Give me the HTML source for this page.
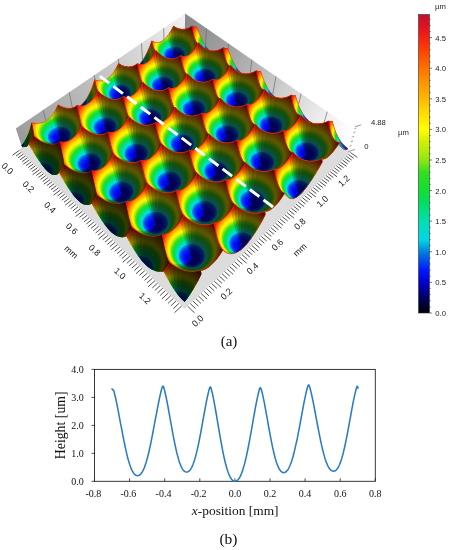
<!DOCTYPE html><html><head><meta charset="utf-8"><style>html,body{margin:0;padding:0;background:#fff}svg{display:block}</style></head><body><svg width="449" height="550" viewBox="0 0 449 550">
<defs>
<linearGradient id="wl" gradientUnits="userSpaceOnUse" x1="15.8" y1="128.4" x2="185.1" y2="13.6"><stop offset="0" stop-color="#9c9c9c"/><stop offset="0.5" stop-color="#c4c4c4"/><stop offset="1" stop-color="#f2f2f2"/></linearGradient><linearGradient id="wr" gradientUnits="userSpaceOnUse" x1="185.1" y1="13.6" x2="354.7" y2="130.6"><stop offset="0" stop-color="#888888"/><stop offset="0.3" stop-color="#a4a4a4"/><stop offset="0.6" stop-color="#cecece"/><stop offset="0.85" stop-color="#f0f0f0"/><stop offset="1" stop-color="#ffffff"/></linearGradient><linearGradient id="cb" x1="0" y1="1" x2="0" y2="0"><stop offset="0.0000" stop-color="#000008"/><stop offset="0.0512" stop-color="#000060"/><stop offset="0.1025" stop-color="#0000d0"/><stop offset="0.1434" stop-color="#0018ff"/><stop offset="0.2049" stop-color="#0080e0"/><stop offset="0.2459" stop-color="#00d8e8"/><stop offset="0.3074" stop-color="#00e0b0"/><stop offset="0.3689" stop-color="#00e060"/><stop offset="0.4098" stop-color="#10e030"/><stop offset="0.4713" stop-color="#30e020"/><stop offset="0.5123" stop-color="#90e810"/><stop offset="0.5738" stop-color="#d0f000"/><stop offset="0.6148" stop-color="#ffff00"/><stop offset="0.6762" stop-color="#ffd800"/><stop offset="0.7172" stop-color="#ffb800"/><stop offset="0.7787" stop-color="#ff9000"/><stop offset="0.8197" stop-color="#ff7000"/><stop offset="0.8811" stop-color="#ff4000"/><stop offset="0.9221" stop-color="#f82010"/><stop offset="0.9631" stop-color="#e01020"/><stop offset="1.0000" stop-color="#c01030"/></linearGradient><filter id="bl" x="-2%" y="-2%" width="104%" height="104%"><feGaussianBlur stdDeviation="0.7"/></filter>
</defs>
<style>.tk{font-family:"Liberation Sans","DejaVu Sans",sans-serif;font-size:7.7px;fill:#222;text-anchor:middle}.ax{font-size:8.8px;fill:#111}.sr{font-family:"Liberation Serif","DejaVu Serif",serif;font-size:10px;fill:#111}</style>
<polygon points="18.8,149.9 184.6,309.1 351.0,152.1 184.8,34.4" fill="#dcdcdc"/>
<polygon points="22.3,148.3 15.8,128.4 185.1,13.6 184.8,35.1" fill="url(#wl)"/>
<polygon points="184.8,35.1 185.1,13.6 354.7,130.6 347.5,150.5" fill="url(#wr)"/>
<line x1="48.4" y1="130.2" x2="43.1" y2="109.9" stroke="#6e6e6e" stroke-width="0.7"/>
<line x1="205.4" y1="49.7" x2="206.5" y2="28.4" stroke="#6e6e6e" stroke-width="0.7"/>
<line x1="73.4" y1="112.7" x2="69.2" y2="92.2" stroke="#6e6e6e" stroke-width="0.7"/>
<line x1="226.8" y1="64.9" x2="228.7" y2="43.7" stroke="#6e6e6e" stroke-width="0.7"/>
<line x1="97.4" y1="96.0" x2="94.3" y2="75.2" stroke="#6e6e6e" stroke-width="0.7"/>
<line x1="249.1" y1="80.7" x2="251.9" y2="59.7" stroke="#6e6e6e" stroke-width="0.7"/>
<line x1="120.5" y1="79.9" x2="118.4" y2="58.9" stroke="#6e6e6e" stroke-width="0.7"/>
<line x1="272.2" y1="97.1" x2="276.0" y2="76.3" stroke="#6e6e6e" stroke-width="0.7"/>
<line x1="142.8" y1="64.4" x2="141.5" y2="43.2" stroke="#6e6e6e" stroke-width="0.7"/>
<line x1="296.3" y1="114.1" x2="301.1" y2="93.6" stroke="#6e6e6e" stroke-width="0.7"/>
<line x1="164.2" y1="49.5" x2="163.7" y2="28.1" stroke="#6e6e6e" stroke-width="0.7"/>
<line x1="321.3" y1="131.9" x2="327.3" y2="111.7" stroke="#6e6e6e" stroke-width="0.7"/>
<g filter="url(#bl)"><g transform="scale(0.1)">
<path d="M1920 259l-32 21-31 11-31 3-31-4-31-10-30-18 23 28 23 20 23 13 23 5 22-1 23 3 24-4 23-11 25-18 25-26-24 0z" fill="#cc102a"/>
<path d="M1926 269l-26 4-34 16-33 5-33-2-33-11-33-19 29 34 29 21 28 10 28 0 29 3 29-8 31-20 31-31-34-4z" fill="#f61e12"/>
<path d="M1923 277l-26 5-18 2-36 9-37 0-36-11-36-20 29 34 29 21 28 10 28 0 29 3 29-8 31-20 31-31-20 0z" fill="#ff4400"/>
<path d="M1940 280l-28 6-28 4-27 1-37 3-38-7-38-18-8-3 29 32 28 20 28 9 27 0 29 3 29-8 31-20 31-31-4 1z" fill="#ff6c00"/>
<path d="M1961 278l-25 8-26 6-27 4-28 1-27-1-27-4-26-7-25-8-8-3 27 27 27 18 26 9 26-1 28 3 28-7 29-18 29-28z" fill="#ff9200"/>
<path d="M1953 285l-27 8-27 6-29 2-29 0-29-3-28-6-26-8-11-4 26 24 25 16 26 8 24-1 27 3 26-6 28-16 28-25z" fill="#ffb200"/>
<path d="M1949 290l-25 8-27 5-28 3-28-1-28-2-26-6-26-8-8-4 24 22 24 15 24 6 23-1 25 3 26-5 26-14 26-22z" fill="#ffd700"/>
<path d="M1945 295l-24 7-26 5-27 3-26 0-27-3-26-6-24-8-7-2 31 24 30 12 29 0 24 3 24-4 25-12 25-20z" fill="#fff200"/>
<path d="M1937 301l-27 7-27 5-28 1-28-2-28-4-26-8-9-4 28 21 28 10 28 0 30 2 30-8 32-21z" fill="#e8f800"/>
<path d="M1933 305l-25 7-26 4-27 2-27-2-26-5-25-7-8-3 27 18 26 9 26-1 28 3 28-8z" fill="#b0ec08"/>
<path d="M1923 311l-26 6-28 4-29 0-28-4-26-7-10-3 24 14 24 7 24-1 26 3 26-6 27-14z" fill="#60e418"/>
<path d="M1919 314l-25 7-26 3-27 0-26-4-26-6-7-3 22 12 22 5 22-1 24 3 24-4 24-12z" fill="#21e027"/>
<path d="M1909 319l-27 6-28 2-28-2-27-6-10-3 30 11 29 0 32 2 33-11z" fill="#0ae043"/>
<path d="M1898 324l-29 4-30 0-29-5-13-3 26 8 25-1 28 3 29-8z" fill="#00e080"/>
<path d="M1895 326l-27 4-28 0-27-5-8-2 22 5 21-1 24 3 24-4z" fill="#00debc"/>
<path d="M1883 329l-29 2-29-2-11-3 34 1 39 1z" fill="#00d8e7"/>
<path d="M1734 262l23 28 23 20 23 13 23 5 22-1 23 3 24-4 23-11 25-18 25-26-24 0-24-12-32 21-31 11-31 3-31-4-31-10z" fill="#100c00" fill-opacity="0.18"/>
<path d="M1734 262l23 28 23 20 23 13 23 5 22-1 23 3 24-4 23-11 25-18 25-26-24 0-24-12-32 21-31 11-31 3-31-4-31-10z" fill="#100c00" fill-opacity="0.24"/>
<path d="M1734 262l23 28 23 20 23 13 23 5 22-1 23 3 24-4 23-11 25-18 25-26-24 0-24-12-32 21-31 11-31 3-31-4-31-10z" fill="#100c00" fill-opacity="0.25"/>
<path d="M1794 319l19 7 18 2 17-1 23 3 24-4 23-11 25-18 25-26-24 0-24-12-32 21-32 11-32 3-31-4-32-12 11 18 12 14z" fill="#100c00" fill-opacity="0.20"/>
<path d="M1831 328l17-1 23 3 24-4 23-11 25-18 25-26-24 0-24-12-30 20-30 11-30 4-29-2 7 18 8 12 7 6z" fill="#100c00" fill-opacity="0.13"/>
<path d="M1854 331l-26-2-7-2 27 0 31 2z" fill="#0085e0"/>
<path d="M1868 330l-28 0-10-2 18-1 22 3z" fill="#0046f1"/>
<path d="M1854 329l-14-1 8-1 10 2z" fill="#0025fb"/>
<path d="M1848 327l31 2-25 2-26-2-7-2z" fill="#000010" fill-opacity="0.18"/>
<path d="M1848 327l31 2-25 2-26-2-7-2z" fill="#000010" fill-opacity="0.24"/>
<path d="M1848 327l31 2-25 2-26-2-7-2z" fill="#000010" fill-opacity="0.25"/>
<path d="M1848 327l31 2-25 2-26-2-7-2z" fill="#000010" fill-opacity="0.20"/>
<path d="M1848 327l31 2-25 2-26-2 3-1z" fill="#000010" fill-opacity="0.13"/>
<path d="M1920 259l-32 21-31 11-31 3-31-4-31-10-30-18 23 28 23 20 23 13 23 5 22-1 23 3 24-4 23-11 25-18 25-26-24 0z" fill="none" stroke="#e62c14" stroke-width="8" stroke-opacity="0.7" stroke-linejoin="round"/>
<path d="M2233 477l-33 19-32 11-31 4-31-3-30-9-30-16-30-23-29-32-10 5-9-5-8-12-9-18-8-24-8-31-7-37-8-47 24 12 24 0 20 54 20 47 20 41 21 35 20 30 21 24 22 18 22 12 22 7 23 1 23-4 25-11 25-16 26-22-23 0z" fill="#cc102a"/>
<path d="M2238 486l-27 4-43 17-41 3-41-8-40-19-39-32-14-10-13-9-12-4-11-17-11-29-11-39-10-53 6-18 3-5 34 4 25 67 26 57 26 47 26 38 27 29 28 19 28 11 29 1 30-8 32-18 33-27-32-3z" fill="#f61e12"/>
<path d="M2234 494l-27 5-18 2-42 9-41-2-40-14-40-25-7-4-21-14-19-15-5-4-11-11-12-23-10-33-11-46 2-12 7-19 9-17 20 0 25 67 26 57 26 47 26 38 27 29 28 19 28 11 29 1 30-8 32-18 33-27-20 1z" fill="#ff4400"/>
<path d="M2249 496l-27 6-29 4-28 2-39 2-39-7-39-18-23-12-22-14-20-15-15-17-11-17-11-27-10-37 1-19 6-20 9-19 12-16 4-1 25 67 26 57 26 47 26 38 27 29 28 19 28 11 29 1 30-8 32-18 33-27-4 0z" fill="#ff6c00"/>
<path d="M2270 493l-25 9-27 6-27 4-28 1-29-1-28-4-27-7-26-9-23-12-22-13-19-15-16-17-12-18-10-19-5-19-2-20 1-19 5-19 9-19 12-17 1-1 25 63 25 54 25 45 26 36 26 27 26 19 27 10 29 2 29-7 30-16 32-25z" fill="#ff9200"/>
<path d="M2261 500l-27 8-28 6-29 3-30 0-30-3-29-7-27-9-26-11-22-14-20-16-16-18-13-19-9-21-4-20 0-21 4-20 8-20 11-18 3-3 26 65 27 54 27 45 27 34 28 25 28 15 30 5 30-4 32-14 33-24z" fill="#ffb200"/>
<path d="M2257 504l-26 9-27 5-29 3-29 0-28-3-28-6-26-9-25-11-22-14-19-15-15-17-13-19-8-19-4-20 0-20 3-20 8-19 11-17 2-2 25 61 26 51 26 41 26 33 27 24 27 14 29 6 29-3 30-12 32-22z" fill="#ffd700"/>
<path d="M2252 509l-25 8-26 5-27 3-28 0-27-3-27-6-25-8-24-11-21-13-18-15-15-17-12-17-8-19-4-19 0-19 3-19 8-18 11-18 24 57 25 47 25 39 25 31 26 23 26 14 27 6 28-2 29-10 31-20z" fill="#fff200"/>
<path d="M2243 515l-27 8-28 4-29 2-29-2-28-5-27-8-25-11-23-14-19-16-15-17-12-19-7-20-2-20 2-21 6-19 11-18 1-2 26 57 27 48 26 38 27 29 28 19 28 11 29 1 31-8 32-18z" fill="#e8f800"/>
<path d="M2238 519l-25 7-27 5-28 1-27-2-28-5-25-7-24-11-22-13-18-15-14-17-11-18-7-19-2-19 1-19 6-19 10-18 1 0 25 53 25 44 25 35 26 27 26 19 27 10 28 2 29-6 30-16z" fill="#b0ec08"/>
<path d="M2228 524l-27 7-29 4-29-1-29-3-28-8-25-10-23-14-19-16-15-18-10-19-6-21 0-20 5-20 9-19 2-2 26 53 27 44 27 34 28 25 28 15 29 5 31-3 31-14z" fill="#60e418"/>
<path d="M2223 527l-26 7-27 3-27 0-28-4-26-7-24-10-21-12-18-16-14-17-10-18-5-19 0-19 4-19 9-18 0-1 25 49 25 40 26 31 26 23 26 14 28 6 28-2 30-11z" fill="#21e027"/>
<path d="M2212 532l-28 6-28 2-29-2-28-7-26-10-23-13-19-16-14-18-8-20-4-20 3-21 8-19 1-2 27 49 27 38 27 30 28 19 29 11 29 1 31-9z" fill="#0ae043"/>
<path d="M2200 536l-30 5-31 0-30-5-28-10-24-14-20-17-14-20-7-21 0-22 6-21 3-4 24 42 25 34 25 27 26 18 26 10 27 2 28-6z" fill="#00e080"/>
<path d="M2195 538l-27 4-28 0-28-5-26-9-22-13-18-15-13-19-6-19-1-20 6-19 1-1 26 41 26 33 27 24 27 14 29 6 29-3z" fill="#00debc"/>
<path d="M2182 540l-29 3-30-3-27-8-24-14-19-17-12-19-4-21 3-21 2-2 27 40 29 30 28 21 30 10 30 0z" fill="#00d8e7"/>
<path d="M2110 518l22 13 22 8 24 1 23-4 25-10 25-17 27-22-23 0-22-10-33 19-32 11-31 4-31-3-30-9-30-16-30-23-29-32-5 4 22 33 21 23 21 17 21 10 21 5z" fill="#100c00" fill-opacity="0.18"/>
<path d="M2114 521l22 12 22 6 22 1 24-5 23-10 25-16 26-22-23 0-22-10-35 20-33 11-33 2-32-4-32-11-32-18-31-28 18 31 18 20 18 14 19 8 18 3z" fill="#100c00" fill-opacity="0.24"/>
<path d="M2119 524l21 11 21 5 22 0 23-5 23-11 24-16 25-21-23 0-22-10-35 20-34 11-33 2-33-4-32-12-32-19 14 22 14 16 14 11 14 5 15 0z" fill="#100c00" fill-opacity="0.25"/>
<path d="M2125 528l23 9 25 3 25-3 25-10 27-17 28-23-23 0-22-10-35 20-34 11-34 2-32-4-33-12 12 20 12 13 11 7 13 0z" fill="#100c00" fill-opacity="0.20"/>
<path d="M2134 532l22 7 23 1 23-4 25-11 25-16 26-22-23 0-22-10-33 19-32 11-31 4-31-3 5 16 5 11 6 5 6-1z" fill="#100c00" fill-opacity="0.13"/>
<path d="M2152 543l-27-3-25-8-22-12-17-15-11-18-4-19 3-18 25 34 25 26 26 18 26 10 27 2z" fill="#0085e0"/>
<path d="M2166 541l-29-1-28-6-24-13-17-16-10-20 0-21 0-1 27 33 27 24 27 14 29 6z" fill="#0046f1"/>
<path d="M2151 539l-31-4-27-13-17-19-7-22 1-3 28 30 28 20 29 11z" fill="#0025fb"/>
<path d="M2133 534l-30-13-17-21 0-3 26 23 27 14z" fill="#0011f2"/>
<path d="M2178 540l-26 3-27-3-25-8-22-12-3-3 17 3 18-2 22 13 23 8z" fill="#000010" fill-opacity="0.18"/>
<path d="M2178 540l-26 3-27-3-25-8-16-8 15 1 15-4 21 12 21 6z" fill="#000010" fill-opacity="0.24"/>
<path d="M2178 540l-26 3-27-3-25-8-6-3 13 0 12-5 19 10 20 5z" fill="#000010" fill-opacity="0.25"/>
<path d="M2178 540l-26 3-27-3-18-5 9-2 9-5 26 10z" fill="#000010" fill-opacity="0.20"/>
<path d="M2178 540l-26 3-27-3 9-8 22 7z" fill="#000010" fill-opacity="0.13"/>
<path d="M2233 477l-33 19-32 11-31 4-31-3-30-9-30-16-30-23-29-32-10 5-9-5-8-12-9-18-8-24-8-31-7-37-8-47 24 12 24 0 20 54 20 47 20 41 21 35 20 30 21 24 22 18 22 12 22 7 23 1 23-4 25-11 25-16 26-22-23 0z" fill="none" stroke="#e62c14" stroke-width="8" stroke-opacity="0.7" stroke-linejoin="round"/>
<path d="M1920 259l8 47 7 37 8 31 8 24 9 18 8 12 9 5 10-5-23 42-23 33-22 25-22 19-22 13-23 6-22 0-22-10-31 20-31 10-30 4-31-4-30-9-31-15-31-23-31-32-7 4-7-6-7-14-8-20-7-27-8-35 23 12 22 5 22-1 22-6 21-12 22-18 21-23 21-28 21-35 21-41 30 18 31 10 31 4 31-3 31-11z" fill="#cc102a"/>
<path d="M1815 565l-27 5-41 16-41 3-41-8-41-19-41-32-13-10-12-9-8-4-8-12-8-21-8-28-8-37 28 14 28 3 28-5 26-14 27-23 26-31 26-41 27-50 33 19 33 10 33 3 33-5 34-15 13 7 12 10 10 53 11 39 11 28 11 17 13 4-7 19-3 6-30 46-30 32-29 21-30 10-29-2z" fill="#f61e12"/>
<path d="M1812 573l-28 5-18 2-40 9-41-3-40-13-41-25-7-5-21-13-18-16-5-4-8-11-9-20-9-30-9-40 28 14 28 3 28-5 26-14 27-23 26-31 26-41 27-50 36 20 36 11 37 0 37-9 6 3 21 12 18 15 5 5 11 46 10 33 12 23 11 11-2 12-6 19-9 18-30 39-30 27-30 16-30 4z" fill="#ff4400"/>
<path d="M1829 575l-28 6-29 4-28 2-39 2-39-8-39-18-23-11-22-14-19-17-15-16-9-18-9-27-9-38 1-10 27 11 27 3 27-6 25-13 26-22 25-30 25-38 26-47 14-1 38 18 38 7 37-3 23 10 22 14 19 15 15 16 10 37 11 27 11 17-2 20-5 20-10 20-12 18-28 30-28 21-29 10z" fill="#ff6c00"/>
<path d="M1875 560l-23 12-26 9-27 6-28 4-29 1-29-1-28-5-27-6-25-10-24-11-21-14-18-16-15-17-12-18-8-19-5-20-1-20 2-18 29 8 28-1 27-9 27-19 26-27 27-36 26-45 25-2 28 2 27 4 26 6 25 9 23 11 21 13 18 14 16 17 12 17 9 19 6 20 2 20-1 20-6 19-9 19-12 19-16 17-18 15z" fill="#ff9200"/>
<path d="M1869 567l-26 11-27 9-29 6-30 3-30 0-30-3-29-7-27-9-25-12-22-14-19-17-16-18-11-20-8-20-3-21 0-21 4-13 30 5 29-5 28-14 29-25 28-34 28-45 19-2 29 0 28 3 28 6 27 9 24 11 22 13 20 16 16 17 12 19 9 21 4 20 0 21-4 21-8 21-12 19-16 18-20 16z" fill="#ffb200"/>
<path d="M1864 571l-24 12-27 8-28 6-28 3-29 0-29-4-28-6-26-9-24-11-22-14-18-16-15-17-11-19-7-20-4-20 1-20 5-20 0-1 27 3 26-6 25-13 26-22 25-29 25-38 28-3 28 0 28 3 27 6 25 8 24 11 21 13 19 15 15 17 12 19 8 19 5 20 0 20-4 21-8 19-12 19-15 17-19 16z" fill="#ffd700"/>
<path d="M1859 576l-23 11-25 8-27 6-28 2-28 0-27-3-27-6-25-8-23-11-21-13-17-16-15-17-11-18-7-19-3-19 1-20 5-19 4-8 27-2 26-9 26-18 26-27 26-35 13-3 27-2 27 0 26 3 26 5 25 8 22 11 21 12 18 15 14 16 12 18 8 18 4 20 0 19-4 20-7 18-12 18-15 17-18 15z" fill="#fff200"/>
<path d="M1852 582l-25 11-27 8-28 5-30 1-29-2-28-5-27-8-25-11-22-14-18-16-15-18-10-20-6-20-2-21 3-20 8-20 4-6 27-5 26-14 27-23 26-31 9-3 28-4 28-2 28 2 28 5 26 7 24 11 22 13 19 16 15 17 11 19 7 20 2 21-2 20-6 20-11 20-16 17-18 16z" fill="#e8f800"/>
<path d="M1847 586l-24 11-25 7-28 5-28 1-27-2-28-4-25-8-24-11-21-13-17-16-14-17-10-18-6-20-1-19 3-20 7-19 11-18 1-1 25-10 25-17 24-24 2-1 25-7 27-5 27-1 27 2 26 4 25 8 24 10 20 13 18 14 14 17 11 18 7 19 2 20-2 19-6 20-11 18-14 17-18 15z" fill="#b0ec08"/>
<path d="M1840 591l-26 11-28 7-29 4-29-1-29-3-28-8-25-11-22-14-18-16-15-18-9-20-4-21 1-21 5-20 11-19 15-18 19-15 22-13 25-10 27-7 29-3 28 0 28 3 27 7 25 11 22 13 19 16 14 18 10 19 5 20 0 21-4 21-10 19-15 19-19 16z" fill="#60e418"/>
<path d="M1834 595l-24 10-26 7-27 3-28 0-28-4-26-7-23-10-21-13-18-16-13-17-9-19-4-19 1-20 5-19 10-18 14-17 18-15 21-12 24-9 26-7 26-3 27 0 27 4 25 6 24 10 21 13 17 14 14 17 9 19 5 19 0 20-4 19-10 19-14 17-17 15z" fill="#21e027"/>
<path d="M1826 600l-26 10-28 6-29 1-29-2-28-6-26-10-22-14-18-16-13-19-8-20-2-21 3-20 9-20 14-18 19-16 22-13 26-9 27-6 29-1 28 2 27 6 26 9 22 13 18 16 14 19 8 19 3 21-3 21-8 20-14 18-18 16z" fill="#0ae043"/>
<path d="M1817 604l-28 10-30 4-32 0-30-5-28-10-24-14-18-18-13-20-6-22 0-22 8-21 14-20 19-17 24-13 28-9 30-5 30 0 29 5 28 10 24 14 19 17 13 19 7 22 0 22-7 22-13 20-20 17z" fill="#00e080"/>
<path d="M1811 606l-26 9-28 4-28 0-28-5-25-9-22-13-18-16-11-18-6-20 0-21 7-19 13-18 18-16 22-12 25-9 28-4 28 0 27 5 25 9 22 12 17 16 12 18 7 20 0 20-7 20-12 18-18 16z" fill="#00debc"/>
<path d="M1801 609l-28 8-30 3-29-3-28-8-23-14-18-17-11-20-3-21 4-22 12-19 18-17 24-12 27-8 30-3 29 3 27 8 23 13 18 17 11 20 4 21-4 21-11 20-18 17z" fill="#00d8e7"/>
<path d="M1745 578l-12-23-12-27-12-33-11-39-12-44-12-50 20-28 20-33 20-39 30 18 31 10 31 4 31-3 31-11 32-21 8 47 7 37 8 31 8 24 9 18 8 12 9 5 10-5-23 42-23 33-22 25-22 19-22 13-23 6-22 0-22-10-31 20-31 10-30 4-31-4-30-9-31-15-31-23-31-32-3 3 25 32 24 22 24 16 23 11 23 5 22-1 22-6z" fill="#100c00" fill-opacity="0.18"/>
<path d="M1745 578l-9-25-9-31-9-36-9-43-9-49-9-56 21-35 22-41 30 18 31 10 31 4 31-3 31-11 32-21 8 47 7 37 8 31 8 24 9 18 8 12 9 5 10-5-23 42-23 33-22 25-22 19-22 13-23 6-22 0-22-10-33 20-32 11-32 2-32-4-33-11-32-19-33-27 22 29 22 20 20 13 21 9 20 2 20-2 19-8z" fill="#100c00" fill-opacity="0.24"/>
<path d="M1745 578l-5-23-5-29-5-33-4-39-5-43-5-50-5-55 23-44 30 18 31 10 31 4 31-3 31-11 32-21 8 47 7 37 8 31 8 24 9 18 8 12 9 5 10-5-23 42-23 33-22 25-22 19-22 13-23 6-22 0-22-10-33 21-33 10-32 2-33-4-32-12-33-19 20 24 20 16 19 9 19 3 18-3 19-10z" fill="#100c00" fill-opacity="0.25"/>
<path d="M1745 578l-1-26-1-32-1-38-1-44-1-51-1-57 0-65 29 17 30 9 30 3 31-3 30-12 31-20 8 47 7 37 8 31 8 24 9 18 8 12 9 5 10-5-23 42-23 33-22 25-22 19-22 13-23 6-22 0-22-10-33 21-33 10-33 2-32-4-33-12 15 19 15 12 15 7 14 0 14-5 14-12z" fill="#100c00" fill-opacity="0.20"/>
<path d="M1745 578l5-25 5-30 4-35 5-42 5-47 5-53 5-60 28 7 28 1 28-4 28-12 29-19 8 47 7 37 8 31 8 24 9 18 8 12 9 5 10-5-23 42-23 33-22 25-22 19-22 13-23 6-22 0-22-10-31 20-31 10-30 4-31-4 9 17 9 10 9 4 8-2 8-7 8-12z" fill="#100c00" fill-opacity="0.13"/>
<path d="M1796 610l-25 7-28 3-27-3-25-8-21-12-16-16-10-18-3-20 4-19 10-18 17-15 22-12 25-7 26-2 27 3 25 7 21 12 16 15 11 18 3 20-3 19-11 18-16 16z" fill="#0085e0"/>
<path d="M1786 611l-28 6-29 0-28-6-23-13-17-17-8-20 0-21 10-20 17-17 24-12 27-6 29 0 27 7 23 12 17 17 9 20 0 21-9 20-17 17z" fill="#0046f1"/>
<path d="M1775 612l-31 4-31-5-26-13-17-19-6-22 7-22 18-19 26-12 30-4 31 5 25 12 18 19 6 22-6 22-18 19z" fill="#0025fb"/>
<path d="M1761 610l-34 0-29-13-17-21 1-24 17-21 29-12 34 0 29 12 17 21 0 25-17 21z" fill="#0011f2"/>
<path d="M1756 603l-24 0-21-9-11-15 0-17 12-15 21-8 24 0 20 9 12 15 0 17-12 15z" fill="#0006db"/>
<path d="M1704 477l15-5 26-2 27 3 25 7 21 12 16 15 11 18 3 20-3 19-11 18-16 16-22 12-25 7-28 3-27-3-25-8-21-12-3-3 26 2 26-6 26-12-14-27-14-33z" fill="#000010" fill-opacity="0.18"/>
<path d="M1715 473l4-1 26-2 27 3 25 7 21 12 16 15 11 18 3 20-3 19-11 18-16 16-22 12-25 7-28 3-27-3-25-8-15-8 23-1 23-8 23-14-10-28-10-34z" fill="#000010" fill-opacity="0.24"/>
<path d="M1728 472l17-2 27 3 25 7 21 12 16 15 11 18 3 20-3 19-11 18-16 16-22 12-25 7-28 3-27-3-25-8-6-3 20-2 20-10 20-16-6-28-6-36z" fill="#000010" fill-opacity="0.25"/>
<path d="M1742 470l3 0 27 3 25 7 21 12 16 15 11 18 3 20-3 19-11 18-16 16-22 12-25 7-28 3-27-3-18-5 16-5 15-11 16-18-1-29-1-35z" fill="#000010" fill-opacity="0.20"/>
<path d="M1761 472l11 1 25 7 21 12 16 15 11 18 3 20-3 19-11 18-16 16-22 12-25 7-28 3-27-3 10-6 9-13 10-20 5-28 6-36z" fill="#000010" fill-opacity="0.13"/>
<path d="M1920 259l8 47 7 37 8 31 8 24 9 18 8 12 9 5 10-5-23 42-23 33-22 25-22 19-22 13-23 6-22 0-22-10-31 20-31 10-30 4-31-4-30-9-31-15-31-23-31-32-7 4-7-6-7-14-8-20-7-27-8-35 23 12 22 5 22-1 22-6 21-12 22-18 21-23 21-28 21-35 21-41 30 18 31 10 31 4 31-3 31-11z" fill="none" stroke="#e62c14" stroke-width="8" stroke-opacity="0.7" stroke-linejoin="round"/>
<path d="M1562 507l-22 42-23 33-22 25-23 20-24 13-24 7-25-1-25-9-30 20-31 11-31 2-32-4-32-11-33-19 28 25 28 17 26 11 25 5 25-2 24-7 23-13 23-19 23-25 22-31 22-37 21-44 21-49 22-58 8 35 7 27 8 20 7 14 7 6z" fill="#cc102a"/>
<path d="M1383 646l-28 5-33 14-33 5-34-3-35-11-35-20 33 28 31 18 31 10 29 1 28-6 27-15 27-23 26-31 26-39 25-47 25-57 25-66 8 37 9 28 8 21 7 13 8 3-8 19-3 6-30 46-30 32-31 22-32 11-33-3z" fill="#f61e12"/>
<path d="M1382 654l-29 5-18 2-36 9-38-2-37-11-39-21 33 28 31 18 31 10 29 1 28-6 27-15 27-23 26-31 26-39 25-47 25-57 25-66 9 40 9 30 9 20 8 11-2 12-8 20-10 18-31 39-30 28-32 16-33 4z" fill="#ff4400"/>
<path d="M1400 655l-29 7-29 4-29 2-38 2-39-8-40-18-8-4 35 28 34 17 32 8 31-1 30-11 29-20 28-30 28-39 27-48 27-58 26-69 6 5 9 38 9 27 9 18-2 20-7 21-10 20-13 18-30 31-29 21-31 10z" fill="#ff6c00"/>
<path d="M1449 640l-24 12-27 9-28 7-28 4-29 1-29-2-28-4-27-7-25-10-8-3 33 25 32 15 31 7 30-3 28-10 28-20 27-28 27-36 26-46 26-54 26-65 5 6 11 18 9 19 4 20 2 20-3 20-7 21-10 19-13 19-17 17-19 16z" fill="#ff9200"/>
<path d="M1444 646l-27 12-28 9-30 6-30 3-30 0-30-3-29-7-27-9-11-5 33 23 30 13 30 6 28-3 28-11 27-18 26-27 26-35 25-43 25-51 25-60 6 7 12 19 7 20 4 22-1 21-5 21-10 21-13 20-17 18-21 17z" fill="#ffb200"/>
<path d="M1440 651l-25 12-28 8-28 6-29 3-30 0-29-3-27-7-26-9-9-3 34 21 32 12 31 3 30-7 28-15 29-24 27-34 27-42 26-52 27-62 5 6 11 19 7 20 4 20-1 21-5 21-9 20-13 19-17 17-19 16z" fill="#ffd700"/>
<path d="M1436 656l-24 11-26 8-28 6-28 3-28-1-28-3-26-6-25-8-7-3 32 19 31 10 29 1 29-6 27-15 27-23 27-32 26-40 25-48 26-58 4 5 10 18 7 19 4 20-1 20-5 20-9 19-12 18-16 17-19 16z" fill="#fff200"/>
<path d="M1430 661l-26 12-28 8-29 5-30 1-29-2-29-5-26-8-10-4 34 17 32 8 31-1 30-11 29-20 28-30 28-39 27-48 27-59 6 6 10 20 6 20 1 21-3 21-8 20-12 20-16 18-20 16z" fill="#e8f800"/>
<path d="M1426 666l-25 10-27 8-27 5-29 1-28-2-27-5-25-8-8-3 32 15 31 7 29-3 29-11 27-19 27-27 27-37 26-45 25-54 5 5 9 19 6 19 1 20-3 20-7 20-12 18-15 18-19 15z" fill="#b0ec08"/>
<path d="M1419 671l-27 10-28 8-30 3-29 0-29-4-28-7-10-4 34 13 32 4 31-6 29-16 30-25 28-35 28-45 27-55 6 7 9 20 4 20-1 22-6 21-11 20-16 18-20 17z" fill="#60e418"/>
<path d="M1414 674l-25 10-26 7-28 4-28-1-28-3-26-8-7-2 31 10 30 3 29-7 28-15 28-24 27-32 26-40 26-50 4 5 8 18 4 20-1 20-5 20-11 19-15 18-18 15z" fill="#21e027"/>
<path d="M1407 679l-27 10-29 6-29 2-29-2-28-7-10-3 33 8 31-1 31-11 29-21 29-30 28-40 28-50 5 7 7 20 2 21-4 21-9 21-15 19-20 16z" fill="#0ae043"/>
<path d="M1399 683l-29 10-31 5-32-1-30-5-13-4 30 6 29-3 28-11 27-19 27-27 26-35 25-44 6 9 6 22-1 22-8 22-15 21-20 18z" fill="#00e080"/>
<path d="M1394 685l-27 9-28 4-29 0-28-5-9-2 32 3 30-7 29-15 29-25 28-34 27-43 4 6 5 20-1 20-7 21-13 18-19 17z" fill="#00debc"/>
<path d="M1384 688l-28 8-30 3-30-3-12-3 33-1 32-11 31-21 30-32 29-42 4 7 3 22-5 22-13 20-19 17z" fill="#00d8e7"/>
<path d="M1374 637l-30 20-31 11-31 2-32-4-32-11-33-19 28 25 28 17 26 11 25 5 25-2 24-7 23-13 23-19 23-25 22-31 22-37 21-44 21-49 22-58 8 35 7 27 8 20 7 14 7 6 7-4-22 42-23 33-22 25-23 20-24 13-24 7-25-1z" fill="#100c00" fill-opacity="0.18"/>
<path d="M1374 637l-30 20-31 11-31 2-32-4-32-11-33-19 28 25 28 17 26 11 25 5 25-2 24-7 23-13 23-19 23-25 22-31 22-37 21-44 21-49 22-58 8 35 7 27 8 20 7 14 7 6 7-4-22 42-23 33-22 25-23 20-24 13-24 7-25-1z" fill="#100c00" fill-opacity="0.24"/>
<path d="M1374 637l-30 20-31 11-31 2-32-4-32-11-33-19 28 25 28 17 26 11 25 5 25-2 24-7 23-13 23-19 23-25 22-31 22-37 21-44 21-49 22-58 8 35 7 27 8 20 7 14 7 6 7-4-22 42-23 33-22 25-23 20-24 13-24 7-25-1z" fill="#100c00" fill-opacity="0.25"/>
<path d="M1261 687l24 6 23 0 23-4 22-10 22-15 21-20 21-25 21-31 20-36 20-42 20-47 20-54 8 35 7 27 8 20 7 14 7 6 7-4-22 42-23 33-22 25-23 20-24 13-24 7-25-1-25-9-31 21-31 10-32 2-33-5-33-12 17 16 15 11z" fill="#100c00" fill-opacity="0.20"/>
<path d="M1304 694l24-4 22-9 22-15 22-20 21-25 21-31 21-36 20-42 21-48 20-55 8 35 7 27 8 20 7 14 7 6 7-4-22 42-23 33-22 25-23 20-24 13-24 7-25-1-25-9-29 20-29 10-30 3-30-3 13 15 12 10 12 4z" fill="#100c00" fill-opacity="0.13"/>
<path d="M1380 688l-26 8-27 2-28-3-6-1 29-3 29-11 27-19 27-27 26-36 3 4 2 20-4 19-12 19-17 16z" fill="#0085e0"/>
<path d="M1371 689l-28 7-30 0-10-2 31-6 30-16 30-26 28-35 3 7-1 21-10 20-18 18z" fill="#0046f1"/>
<path d="M1360 690l-31 4-14-1 33-11 32-23 32-33 2 9-8 23-18 19z" fill="#0025fb"/>
<path d="M1347 688l-16 1 33-17 33-29-1 11-18 22z" fill="#0011f2"/>
<path d="M1361 674l7-4-3 2z" fill="#0006db"/>
<path d="M1431 598l3 4 2 20-4 19-12 19-17 16-23 12-26 8-27 2-28-3-6-1 24-2 24-7 23-13 23-19 23-25z" fill="#000010" fill-opacity="0.18"/>
<path d="M1431 598l3 4 2 20-4 19-12 19-17 16-23 12-26 8-27 2-28-3-6-1 24-2 24-7 23-13 23-19 23-25z" fill="#000010" fill-opacity="0.24"/>
<path d="M1431 598l3 4 2 20-4 19-12 19-17 16-23 12-26 8-27 2-28-3-6-1 24-2 24-7 23-13 23-19 23-25z" fill="#000010" fill-opacity="0.25"/>
<path d="M1431 598l3 4 2 20-4 19-12 19-17 16-23 12-26 8-27 2-28-3-6-1 24-2 24-7 23-13 23-19 23-25z" fill="#000010" fill-opacity="0.20"/>
<path d="M1431 598l3 4 2 20-4 19-12 19-17 16-23 12-26 8-27 2-28-3 5-1 23-4 21-8 22-14 21-18 20-24z" fill="#000010" fill-opacity="0.13"/>
<path d="M1562 507l-22 42-23 33-22 25-23 20-24 13-24 7-25-1-25-9-30 20-31 11-31 2-32-4-32-11-33-19 28 25 28 17 26 11 25 5 25-2 24-7 23-13 23-19 23-25 22-31 22-37 21-44 21-49 22-58 8 35 7 27 8 20 7 14 7 6z" fill="none" stroke="#e62c14" stroke-width="8" stroke-opacity="0.7" stroke-linejoin="round"/>
<path d="M2564 707l-36 19-34 10-33 3-32-3-31-9-31-16-29-23-29-32-13 3-11-6-10-13-10-20-9-25-8-32-8-39-7-47 22 10 23 0 19 54 20 47 20 42 20 36 21 30 22 25 22 18 24 14 24 8 25 2 26-3 27-9 28-15 30-22-22 2z" fill="#cc102a"/>
<path d="M2568 715l-28 5-45 16-44 3-42-8-41-20-40-32-15-10-13-10-15-6-13-19-13-30-11-41-11-54 6-20 3-5 32 3 24 67 25 58 26 48 27 39 28 29 29 21 30 11 32 3 34-7 35-16 38-26-30 0z" fill="#f61e12"/>
<path d="M2562 723l-27 5-19 2-44 9-43-3-41-14-40-25-8-5-22-14-20-16-5-4-15-13-13-25-12-35-10-47 1-13 6-20 8-17 20-1 24 67 25 58 26 48 27 39 28 29 29 21 30 11 32 3 34-7 35-16 38-26-19 2z" fill="#ff4400"/>
<path d="M2577 724l-28 7-29 4-29 2-41 2-41-8-39-19-24-11-24-15-21-17-17-17-13-19-12-28-11-39 1-20 5-21 9-20 11-18 4 0 24 67 25 58 26 48 27 39 28 29 29 21 30 11 32 3 34-7 35-16 38-26-4 1z" fill="#ff6c00"/>
<path d="M2597 721l-25 9-27 7-29 4-29 1-29-2-29-4-28-7-27-10-25-12-22-14-21-16-17-18-13-19-11-20-6-20-3-21 1-21 4-20 8-19 12-18 1-1 24 63 24 55 25 45 27 37 27 28 28 20 29 12 31 3 32-6 34-14 36-23z" fill="#ff9200"/>
<path d="M2587 727l-27 9-29 6-30 3-31 0-30-3-30-7-29-9-26-13-24-15-21-17-18-19-14-20-9-21-6-22-1-22 3-21 8-21 11-19 3-3 25 65 26 55 27 45 28 36 29 25 31 17 32 7 33-3 36-12 38-23z" fill="#ffb200"/>
<path d="M2582 731l-26 9-28 6-29 3-30 0-29-4-29-6-28-9-25-12-23-14-21-17-16-18-14-20-9-20-5-21-1-21 3-21 7-20 11-19 1-1 25 61 25 52 26 42 27 34 28 24 30 16 30 8 33-2 34-11 35-20z" fill="#ffd700"/>
<path d="M2576 735l-25 9-26 5-28 3-29 0-28-3-28-6-26-9-25-11-22-14-19-16-17-17-12-19-9-20-5-20-1-20 2-20 7-20 11-18 24 57 24 48 25 40 26 32 27 23 29 16 29 7 31 0 32-9 34-18z" fill="#fff200"/>
<path d="M2566 741l-27 8-28 5-30 2-30-2-30-6-28-8-26-12-23-14-21-17-16-19-13-20-8-21-3-21 1-21 6-21 10-19 2-2 25 58 26 48 27 39 28 30 29 21 31 11 32 3 34-7 35-16z" fill="#e8f800"/>
<path d="M2560 744l-25 8-28 5-28 1-28-1-28-5-27-9-25-11-23-13-19-16-16-18-12-19-7-20-4-21 1-20 6-20 9-18 1-1 24 54 25 44 26 37 27 28 27 19 30 12 30 3 32-5 33-14z" fill="#b0ec08"/>
<path d="M2549 749l-27 8-30 4-30-1-29-4-29-7-27-12-24-14-20-17-16-19-11-21-7-21-1-22 4-21 9-20 2-2 26 54 27 45 28 35 28 25 31 17 31 7 34-3 35-12z" fill="#60e418"/>
<path d="M2544 752l-26 7-28 4-28 0-29-4-27-8-25-10-22-14-20-16-15-18-10-19-6-20-2-21 4-20 9-19 25 49 25 41 26 32 27 23 29 16 30 7 31-1z" fill="#21e027"/>
<path d="M2532 757l-28 6-30 2-30-3-29-6-27-11-24-14-20-17-15-19-10-21-4-21 2-22 7-20 2-2 26 49 27 40 29 30 29 21 31 11 33 3 34-7z" fill="#0ae043"/>
<path d="M2519 760l-31 5-32 0-31-5-29-11-26-14-21-19-14-20-9-23-1-23 6-22 2-4 25 43 25 35 26 27 27 19 28 11 30 4 31-4z" fill="#00e080"/>
<path d="M2513 761l-28 5-29 0-29-5-27-10-23-13-19-17-14-19-8-21-1-21 5-20 1-1 26 42 27 34 28 24 30 16 31 8 32-2z" fill="#00debc"/>
<path d="M2499 763l-30 3-31-3-29-9-25-14-20-18-12-20-6-22 3-22 1-3 28 41 29 32 31 21 32 12 33 2z" fill="#00d8e7"/>
<path d="M2420 738l24 14 24 8 25 3 27-3 27-9 29-15 30-22-22 2-20-9-36 19-34 10-33 3-32-3-31-9-31-16-29-23-29-32-6 2 18 33 19 21 20 16 19 9 21 3z" fill="#100c00" fill-opacity="0.18"/>
<path d="M2425 741l23 13 24 7 24 2 26-4 27-9 28-15 29-21-22 2-20-9-38 20-36 10-34 2-34-5-32-11-32-19-31-27 15 29 16 19 16 13 17 7 17 1z" fill="#100c00" fill-opacity="0.24"/>
<path d="M2430 745l23 11 23 6 24 1 24-4 26-10 27-14 29-21-22 2-20-9-38 20-36 10-35 2-34-5-33-12-32-19 11 21 12 14 12 9 13 4 13-1z" fill="#100c00" fill-opacity="0.25"/>
<path d="M2436 748l26 11 26 4 27-2 29-9 30-15 32-23-22 2-20-9-38 20-37 10-35 2-34-5-33-12 9 18 9 12 10 5 10-1z" fill="#100c00" fill-opacity="0.20"/>
<path d="M2446 753l24 8 25 2 26-3 27-9 28-15 30-22-22 2-20-9-36 19-34 10-33 3-32-3 2 15 3 9 3 3 4-2z" fill="#100c00" fill-opacity="0.13"/>
<path d="M2467 765l-28-2-26-9-23-12-18-17-11-18-5-21 2-19 25 35 26 27 27 19 28 11 30 4z" fill="#0085e0"/>
<path d="M2481 763l-30 0-29-7-25-13-19-18-10-21-1-22 0-1 27 34 28 24 30 16 31 8z" fill="#0046f1"/>
<path d="M2464 761l-32-5-27-13-19-20-8-23 1-3 29 31 30 21 31 12z" fill="#0025fb"/>
<path d="M2445 755l-31-13-19-23 0-4 27 24 29 16z" fill="#0011f2"/>
<path d="M2494 763l-27 2-28-2-26-9-23-12-3-3 16 1 17-2 24 14 24 8z" fill="#000010" fill-opacity="0.18"/>
<path d="M2494 763l-27 2-28-2-26-9-17-8 15-1 14-4 22 13 23 7z" fill="#000010" fill-opacity="0.24"/>
<path d="M2494 763l-27 2-28-2-26-9-6-2 11-2 12-5 21 10 21 6z" fill="#000010" fill-opacity="0.25"/>
<path d="M2494 763l-27 2-28-2-19-6 8-3 8-6 28 11z" fill="#000010" fill-opacity="0.20"/>
<path d="M2494 763l-27 2-28-2 7-10 23 8z" fill="#000010" fill-opacity="0.13"/>
<path d="M2564 707l-36 19-34 10-33 3-32-3-31-9-31-16-29-23-29-32-13 3-11-6-10-13-10-20-9-25-8-32-8-39-7-47 22 10 23 0 19 54 20 47 20 42 20 36 21 30 22 25 22 18 24 14 24 8 25 2 26-3 27-9 28-15 30-22-22 2z" fill="none" stroke="#e62c14" stroke-width="8" stroke-opacity="0.7" stroke-linejoin="round"/>
<path d="M2130 791l-34 19-33 10-32 3-32-4-31-9-31-16-31-23-31-32-9 2-9-6-9-14-8-20-8-25-8-33-8-39-8-48 22 10 22 0 23-6 22-13 22-19 22-25 23-33 23-42 29 32 30 23 30 16 30 9 31 3 31-4 32-11 33-19 7 47 8 39 8 32 9 25 10 20 10 13 11 6 13-3-25 42-23 34-23 26-23 20-22 13-21 8-22 0z" fill="#cc102a"/>
<path d="M2135 799l-27 6-44 15-43 3-42-9-42-20-42-32-14-10-13-10-11-7-12-20-11-31-10-41-11-55 7-19 3-5 29 2 30-10 29-21 30-32 30-46 8-2 27-5 40 33 40 19 40 8 42-3 43-16 14 8 13 11 10 53 11 41 13 30 13 19 16 6-6 20-3 6-31 47-31 33-29 22-29 12-28-1z" fill="#f61e12"/>
<path d="M2132 807l-29 5-18 2-43 9-43-4-42-13-41-26-7-4-22-15-19-16-5-5-12-14-11-25-11-35-11-48 3-13 7-20 9-18 30-4 30-16 30-27 30-39 24-7 28-4 17-1 40 25 40 14 41 2 42-9 7 3 22 13 20 16 4 5 11 47 12 35 13 25 15 13-2 12-6 21-8 19-32 39-30 29-29 17-29 5z" fill="#ff4400"/>
<path d="M2148 808l-29 7-30 4-28 2-41 1-41-8-40-18-24-12-23-15-20-18-16-17-11-19-10-29-11-40 2-20 6-22 10-20 12-18 29-10 28-21 28-30 25-9 28-6 29-4 27-1 39 18 39 7 39-2 24 11 23 14 20 16 16 17 11 39 12 28 13 19 0 20-5 22-9 21-11 19-29 32-29 21-28 12z" fill="#ff6c00"/>
<path d="M2194 792l-24 12-26 9-28 7-29 4-29 2-30-2-29-5-28-7-26-10-25-12-22-14-19-17-17-18-13-19-9-21-6-21-1-21 1-21 6-20 9-20 13-19 16-17 19-15 21-14 24-11 25-9 27-6 28-4 28-1 28 1 28 5 27 6 26 9 24 12 22 14 20 15 16 18 14 18 10 20 7 21 3 21-1 21-4 21-9 20-12 19-15 18-19 17z" fill="#ff9200"/>
<path d="M2186 798l-25 12-28 9-30 7-30 3-31 0-31-4-30-7-28-9-27-13-23-15-20-18-17-19-13-20-9-22-4-22 0-23 5-22 8-21 13-20 16-18 20-16 22-14 25-12 27-9 29-5 30-3 29 0 30 3 29 6 28 9 25 12 24 15 20 16 17 19 14 20 9 21 6 22 1 22-3 22-8 22-12 21-15 19-20 17z" fill="#ffb200"/>
<path d="M2181 802l-25 12-26 9-29 6-30 3-29 0-30-3-29-7-27-9-25-12-23-15-20-17-16-18-12-20-8-21-4-22 0-21 4-21 8-21 12-19 16-17 19-16 21-14 25-11 26-8 27-6 29-3 29 0 28 3 28 6 27 9 24 12 23 14 20 16 16 17 13 20 9 20 6 21 1 22-4 21-7 21-11 20-15 18-19 17z" fill="#ffd700"/>
<path d="M2175 807l-23 11-26 9-27 6-29 2-28 0-29-3-28-6-26-9-24-12-22-14-19-16-15-18-12-19-8-20-4-21 0-20 4-21 8-19 12-19 15-17 18-15 21-13 23-11 25-8 27-5 27-3 28 0 27 3 27 6 26 8 23 11 22 14 19 15 16 17 12 19 9 20 5 20 1 21-3 20-7 20-11 19-15 18-18 16z" fill="#fff200"/>
<path d="M2167 812l-25 12-27 8-30 5-30 2-30-2-29-6-28-9-26-11-23-15-20-17-16-19-11-21-7-21-2-22 2-22 7-21 11-19 15-19 19-16 22-13 25-11 27-8 28-5 29-1 30 1 28 5 28 9 25 11 23 14 19 16 17 19 12 20 8 21 3 21-1 22-6 22-11 20-14 19-19 17z" fill="#e8f800"/>
<path d="M2162 816l-25 11-26 8-28 5-28 1-29-2-28-5-27-8-25-11-22-14-18-17-15-18-11-19-7-21-2-21 2-20 6-21 11-18 15-18 18-15 21-13 24-11 25-7 27-5 28-1 28 1 27 5 26 8 25 11 21 13 19 16 16 17 11 20 8 20 3 20-1 21-6 21-10 19-14 18-18 16z" fill="#b0ec08"/>
<path d="M2153 821l-26 11-28 7-30 4-30 0-30-4-29-8-26-11-24-15-19-17-15-20-11-21-5-22 0-22 5-21 10-21 15-18 19-17 22-13 26-11 27-7 29-4 30 1 29 4 28 7 26 11 23 14 19 16 16 19 11 21 6 21 1 22-4 22-9 21-15 19-18 17z" fill="#60e418"/>
<path d="M2147 824l-25 10-26 8-28 3-29 0-28-4-27-7-25-11-22-14-19-16-14-19-10-20-5-20 0-21 5-20 9-20 14-17 18-16 21-13 24-10 26-6 28-4 27 0 28 4 26 7 25 10 22 14 18 15 15 18 11 20 5 20 1 21-4 20-9 20-13 18-18 16z" fill="#21e027"/>
<path d="M2138 828l-27 11-28 6-30 2-30-2-29-7-27-11-24-14-19-18-14-19-9-22-3-21 3-22 8-21 14-19 19-17 22-13 26-10 28-6 29-2 30 2 28 7 26 10 23 14 20 16 15 20 9 21 4 21-2 22-8 21-13 20-19 17z" fill="#0ae043"/>
<path d="M2128 832l-29 10-31 5-32 0-31-5-29-11-25-15-21-18-13-22-8-23 0-23 7-23 13-20 20-18 24-14 28-10 30-5 32 0 30 5 29 11 25 14 20 18 14 21 8 23 1 23-6 23-13 21-19 18z" fill="#00e080"/>
<path d="M2121 834l-27 9-28 5-29 0-29-5-27-10-23-14-18-17-13-20-7-21 0-21 6-21 13-19 18-16 22-13 26-9 27-5 29 0 28 5 26 9 23 14 19 16 13 20 7 20 1 22-5 21-12 19-18 17z" fill="#00debc"/>
<path d="M2109 836l-28 9-30 3-31-3-29-9-24-14-19-19-12-21-5-22 4-23 12-20 18-18 24-13 28-9 30-2 30 3 28 8 24 14 19 18 13 21 5 22-4 22-10 21-19 19z" fill="#00d8e7"/>
<path d="M2046 800l-13-26-14-31-13-39-13-45-12-51-13-59-12-67 31-54 29 32 30 23 30 16 30 9 31 3 31-4 32-11 33-19 7 47 8 39 8 32 9 25 10 20 10 13 11 6 13-3-25 42-23 34-23 26-23 20-22 13-21 8-22 0-20-8-34 19-33 10-32 3-32-4-31-9-31-16-31-23-31-32-5 2 23 31 22 21 22 15 22 9 22 4 22-2 21-7z" fill="#100c00" fill-opacity="0.18"/>
<path d="M2046 800l-9-24-9-30-8-35-9-41-8-47-8-52-8-59-7-69 7-15 29 32 30 23 30 16 30 9 31 3 31-4 32-11 33-19 7 47 8 39 8 32 9 25 10 20 10 13 11 6 13-3-25 42-23 34-23 26-23 20-22 13-21 8-22 0-20-8-36 20-34 10-34 2-34-5-33-12-32-18-33-28 19 28 19 18 19 12 19 7 19 2 19-4 19-9z" fill="#100c00" fill-opacity="0.24"/>
<path d="M2046 800l-5-24-5-30-5-34-5-40-5-45-4-51-4-57-4-65 31 25 31 17 31 11 32 4 32-3 33-11 34-20 7 47 8 39 8 32 9 25 10 20 10 13 11 6 13-3-25 42-23 34-23 26-23 20-22 13-21 8-22 0-20-8-36 20-35 10-34 2-34-5-33-12-33-20 17 22 17 15 18 8 17 1 17-4 18-11z" fill="#100c00" fill-opacity="0.25"/>
<path d="M2046 800l-1-27-1-33-1-39-1-45 0-51 0-59 0-65 31 16 31 10 31 4 32-4 32-10 34-20 7 47 8 39 8 32 9 25 10 20 10 13 11 6 13-3-25 42-23 34-23 26-23 20-22 13-21 8-22 0-20-8-36 20-35 10-35 2-33-6-34-12 13 18 12 10 13 5 13-1 12-6 13-13z" fill="#100c00" fill-opacity="0.20"/>
<path d="M2046 800l5-25 5-31 5-37 5-42 6-49 6-54 6-60 29 7 29 1 29-4 31-11 31-18 7 47 8 39 8 32 9 25 10 20 10 13 11 6 13-3-25 42-23 34-23 26-23 20-22 13-21 8-22 0-20-8-34 19-33 10-32 3-32-4 7 15 6 8 6 3 7-3 7-9 7-14z" fill="#100c00" fill-opacity="0.13"/>
<path d="M2104 836l-26 8-28 3-28-3-26-8-22-13-18-17-11-19-4-21 4-20 10-19 17-16 22-12 25-8 27-2 28 2 26 8 22 13 17 16 12 19 4 21-3 20-10 19-16 17z" fill="#0085e0"/>
<path d="M2093 837l-28 7-31 0-28-7-25-14-18-18-9-21 0-22 8-21 18-17 23-13 28-7 30 0 28 7 25 13 18 18 10 21 0 22-8 21-17 18z" fill="#0046f1"/>
<path d="M2081 837l-32 5-32-5-27-14-18-20-7-23 6-24 17-19 27-13 31-4 32 4 27 14 18 19 7 24-6 23-17 20z" fill="#0025fb"/>
<path d="M2066 836l-35-1-31-13-18-23 0-25 17-23 30-12 34 0 31 13 18 22 1 26-17 23z" fill="#0011f2"/>
<path d="M2060 828l-25 0-21-10-13-16 0-18 12-16 21-9 24 1 22 9 12 16 1 18-12 16z" fill="#0006db"/>
<path d="M2004 696l15-5 27-2 28 2 26 8 22 13 17 16 12 19 4 21-3 20-10 19-16 17-22 12-26 8-28 3-28-3-26-8-22-13-4-3 25 0 26-6 25-14-14-27-14-35z" fill="#000010" fill-opacity="0.18"/>
<path d="M2016 692l3-1 27-2 28 2 26 8 22 13 17 16 12 19 4 21-3 20-10 19-16 17-22 12-26 8-28 3-28-3-26-8-16-9 22-2 22-9 22-16-10-29-10-35z" fill="#000010" fill-opacity="0.24"/>
<path d="M2028 691l18-2 28 2 26 8 22 13 17 16 12 19 4 21-3 20-10 19-16 17-22 12-26 8-28 3-28-3-26-8-6-3 19-4 18-11 19-18-6-29-6-37z" fill="#000010" fill-opacity="0.25"/>
<path d="M2043 689l3 0 28 2 26 8 22 13 17 16 12 19 4 21-3 20-10 19-16 17-22 12-26 8-28 3-28-3-19-6 14-5 15-13 14-20-1-30-1-37z" fill="#000010" fill-opacity="0.20"/>
<path d="M2063 691l11 0 26 8 22 13 17 16 12 19 4 21-3 20-10 19-16 17-22 12-26 8-28 3-28-3 8-8 8-14 8-22 6-29 5-37z" fill="#000010" fill-opacity="0.13"/>
<path d="M2130 791l-34 19-33 10-32 3-32-4-31-9-31-16-31-23-31-32-9 2-9-6-9-14-8-20-8-25-8-33-8-39-8-48 22 10 22 0 23-6 22-13 22-19 22-25 23-33 23-42 29 32 30 23 30 16 30 9 31 3 31-4 32-11 33-19 7 47 8 39 8 32 9 25 10 20 10 13 11 6 13-3-25 42-23 34-23 26-23 20-22 13-21 8-22 0z" fill="none" stroke="#e62c14" stroke-width="8" stroke-opacity="0.7" stroke-linejoin="round"/>
<path d="M1686 877l-31 19-32 10-31 2-32-3-31-10-32-16-33-23-33-32-5 2-7-7-6-14-7-21-7-26-8-33-8-39-9-49 25 9 25 1 24-7 24-13 23-20 22-25 23-33 22-42 31 32 31 23 31 15 30 9 31 4 30-4 31-10 31-20 8 48 8 39 8 33 8 25 8 20 9 14 9 6 9-2-24 43-23 33-24 27-23 20-23 14-24 8-24 1z" fill="#cc102a"/>
<path d="M1694 885l-28 6-42 15-42 2-42-9-43-19-43-33-14-11-12-10-9-7-8-21-10-31-10-42-11-55 8-20 3-6 33 3 32-11 31-22 30-32 30-46 8-3 27-4 42 33 41 19 40 8 41-3 41-16 14 9 12 11 11 54 11 41 11 30 11 20 12 7-7 20-3 7-32 46-30 34-32 23-31 12-31 0z" fill="#f61e12"/>
<path d="M1692 893l-29 5-19 2-42 8-42-3-42-14-43-26-7-4-21-15-19-17-4-5-9-14-9-26-10-36-10-48 3-14 8-20 10-19 33-4 32-16 30-28 31-39 25-7 28-5 18 0 41 25 40 13 41 3 40-9 7 3 22 14 19 16 4 5 11 48 11 35 11 25 12 14-3 13-7 21-9 19-32 40-31 29-31 18-32 6z" fill="#ff4400"/>
<path d="M1710 893l-30 7-30 5-29 1-40 2-41-9-41-18-23-13-23-15-19-17-15-18-9-20-9-30-9-40 3-21 7-21 11-21 13-19 31-10 29-21 30-31 25-9 28-7 30-4 28-1 39 18 39 8 39-2 23 11 22 14 20 17 15 17 11 40 10 29 11 19-2 21-6 22-10 21-12 20-30 32-30 22-30 12z" fill="#ff6c00"/>
<path d="M1759 876l-25 13-27 9-29 7-29 5-30 1-29-2-30-4-27-8-27-10-24-12-22-15-18-17-16-18-12-20-8-21-5-21 0-22 3-21 7-21 10-20 14-19 17-18 20-15 22-14 24-12 26-9 28-6 28-4 29-1 28 1 28 4 27 7 26 10 24 11 21 14 19 16 16 18 13 19 9 20 6 21 2 22-2 21-6 22-10 20-13 20-16 18-20 17z" fill="#ff9200"/>
<path d="M1752 882l-27 13-28 9-30 7-32 3-31 0-31-4-30-7-28-9-26-13-23-16-19-18-16-19-12-21-7-23-3-22 1-23 5-22 10-22 14-20 17-19 21-16 24-15 26-12 27-9 30-6 30-3 30 1 30 3 28 6 28 10 25 12 23 14 20 17 16 19 13 21 8 21 5 23 0 22-5 23-9 22-13 21-17 20-20 17z" fill="#ffb200"/>
<path d="M1747 887l-25 12-28 9-29 6-30 3-30 0-30-3-29-7-27-9-24-13-22-15-19-17-16-19-11-20-7-22-3-21 1-22 5-22 10-21 13-19 17-18 20-16 22-14 25-12 27-8 28-6 29-3 29 0 29 3 28 7 26 9 25 11 22 14 19 17 15 18 13 20 8 20 4 22 0 22-4 22-9 21-12 20-17 19-20 17z" fill="#ffd700"/>
<path d="M1743 891l-25 12-26 8-28 6-29 3-29 0-29-3-27-6-26-10-24-12-21-14-18-16-15-19-11-19-7-21-3-21 1-21 5-21 9-20 13-18 16-18 19-15 22-14 24-10 26-9 27-5 28-3 28 0 27 3 27 6 26 9 23 11 21 13 18 16 15 18 12 19 8 20 4 21 0 21-4 21-8 20-12 20-16 18-19 16z" fill="#fff200"/>
<path d="M1736 896l-26 12-29 9-30 5-30 1-30-2-30-5-28-9-25-12-23-15-19-18-14-19-11-21-6-22-1-22 3-22 8-22 13-20 16-18 20-17 23-14 26-11 28-8 28-5 30-1 29 1 29 6 27 8 25 12 22 14 19 16 16 19 11 21 7 21 2 22-2 22-7 22-12 21-16 19-20 17z" fill="#e8f800"/>
<path d="M1731 900l-25 11-27 8-29 5-29 2-29-2-28-5-26-9-25-11-21-15-18-16-14-19-10-20-6-21-1-21 3-21 8-21 12-19 15-18 19-15 23-14 24-10 26-8 28-5 28-1 28 2 27 5 26 8 24 11 21 13 19 16 14 18 11 19 7 21 2 21-3 21-7 21-11 20-15 18-19 17z" fill="#b0ec08"/>
<path d="M1723 905l-27 11-29 8-30 4-31-1-30-4-28-8-26-12-23-15-19-17-14-20-9-21-5-23 2-22 6-22 11-21 16-19 20-17 23-14 27-10 28-8 29-3 30 0 29 4 28 7 25 12 23 14 19 17 15 19 10 21 5 22 0 22-5 23-11 21-15 20-20 17z" fill="#60e418"/>
<path d="M1718 908l-25 10-28 8-28 3-29 0-29-4-26-7-25-12-22-14-17-16-14-19-9-20-4-21 1-21 6-21 11-20 15-18 19-16 22-13 25-10 26-7 28-4 28 1 28 3 26 8 24 10 22 14 17 16 14 18 10 20 5 21 0 21-6 21-10 20-14 18-19 17z" fill="#21e027"/>
<path d="M1709 912l-27 10-29 7-30 2-31-2-28-7-27-11-23-15-18-18-14-20-7-21-2-23 4-22 9-21 15-20 20-17 23-13 27-11 28-6 30-2 30 3 28 6 26 11 23 14 18 17 14 19 9 22 2 22-3 22-9 22-14 20-20 17z" fill="#0ae043"/>
<path d="M1700 916l-29 10-32 5-32 0-31-6-29-10-25-16-19-19-13-22-6-23 1-24 8-23 15-21 20-18 26-15 28-9 31-5 32 0 30 5 29 10 24 15 20 19 13 21 7 23 0 24-8 23-14 22-20 19z" fill="#00e080"/>
<path d="M1694 917l-26 10-30 4-29 0-29-5-26-10-23-14-18-17-12-20-5-22 1-22 7-21 14-19 19-17 23-13 26-10 29-4 29 0 28 5 26 9 22 14 18 17 12 19 7 22-1 22-6 21-14 20-18 17z" fill="#00debc"/>
<path d="M1684 919l-29 9-31 3-31-3-28-9-24-15-19-18-11-22-3-23 5-23 13-21 19-18 25-13 29-9 30-3 30 3 28 9 24 14 19 18 11 22 4 23-5 22-12 22-19 18z" fill="#00d8e7"/>
<path d="M1628 881l-13-26-13-32-14-39-13-45-14-52-14-59-15-67 30-54 31 32 31 23 31 15 30 9 31 4 30-4 31-10 31-20 8 48 8 39 8 33 8 25 8 20 9 14 9 6 9-2-24 43-23 33-24 27-23 20-23 14-24 8-24 1-24-8-31 19-32 10-31 2-32-3-31-10-32-16-33-23-33-32-2 2 27 30 26 21 26 14 25 9 24 3 24-2 23-7z" fill="#100c00" fill-opacity="0.18"/>
<path d="M1628 881l-9-24-8-31-9-35-9-42-9-46-9-53-10-59-10-70 7-14 31 32 31 23 31 15 30 9 31 4 30-4 31-10 31-20 8 48 8 39 8 33 8 25 8 20 9 14 9 6 9-2-24 43-23 33-24 27-23 20-23 14-24 8-24 1-24-8-33 20-33 9-33 2-33-5-34-11-34-19-34-28 24 27 23 18 23 12 22 6 21 1 21-4 21-9z" fill="#100c00" fill-opacity="0.24"/>
<path d="M1628 881l-5-24-5-30-5-35-5-40-5-46-5-51-6-57-6-66 32 26 32 17 31 11 32 4 31-3 32-11 32-20 8 48 8 39 8 33 8 25 8 20 9 14 9 6 9-2-24 43-23 33-24 27-23 20-23 14-24 8-24 1-24-8-33 20-34 10-33 1-34-5-33-12-35-20 23 22 21 14 21 7 20 1 20-5 20-11z" fill="#100c00" fill-opacity="0.25"/>
<path d="M1628 881l-1-27-1-33 0-40-1-45-2-52-1-59-1-65 31 16 31 10 31 4 31-3 31-11 32-20 8 48 8 39 8 33 8 25 8 20 9 14 9 6 9-2-24 43-23 33-24 27-23 20-23 14-24 8-24 1-24-8-33 20-34 10-34 1-33-5-34-13 17 17 16 10 16 5 16-2 15-7 15-13z" fill="#100c00" fill-opacity="0.20"/>
<path d="M1628 881l5-26 5-31 6-37 5-43 4-48 5-55 5-61 29 8 29 1 28-4 29-10 30-19 8 48 8 39 8 33 8 25 8 20 9 14 9 6 9-2-24 43-23 33-24 27-23 20-23 14-24 8-24 1-24-8-31 19-32 10-31 2-32-3 11 13 10 8 10 2 10-3 9-9 9-15z" fill="#100c00" fill-opacity="0.13"/>
<path d="M1679 919l-26 8-28 3-29-3-26-8-22-14-16-17-10-19-3-21 5-21 11-19 18-17 22-12 26-8 28-2 28 2 25 8 22 13 17 17 10 19 4 21-4 21-12 20-17 16z" fill="#0085e0"/>
<path d="M1669 920l-29 7-30 0-29-7-24-14-17-19-9-21 1-23 10-21 19-18 24-13 29-7 30 1 28 7 24 13 17 18 9 21 0 23-10 21-18 19z" fill="#0046f1"/>
<path d="M1658 920l-33 5-32-5-26-14-18-21-5-24 7-24 19-20 27-13 32-4 31 5 27 13 17 20 6 24-6 24-19 20z" fill="#0025fb"/>
<path d="M1644 918l-36 0-30-14-17-23 1-26 18-23 31-13 35 0 30 14 17 22 0 27-18 23z" fill="#0011f2"/>
<path d="M1639 910l-25 0-21-10-12-16 0-19 13-16 22-9 25 0 21 10 12 16 0 18-13 17z" fill="#0006db"/>
<path d="M1586 776l15-5 28-2 28 2 25 8 22 13 17 17 10 19 4 21-4 21-12 20-17 16-23 13-26 8-28 3-29-3-26-8-22-14-3-3 28 1 28-7 27-15-14-28-14-35z" fill="#000010" fill-opacity="0.18"/>
<path d="M1598 772l3-1 28-2 28 2 25 8 22 13 17 17 10 19 4 21-4 21-12 20-17 16-23 13-26 8-28 3-29-3-26-8-16-10 25-2 25-9 24-17-10-29-10-36z" fill="#000010" fill-opacity="0.24"/>
<path d="M1611 771l18-2 28 2 25 8 22 13 17 17 10 19 4 21-4 21-12 20-17 16-23 13-26 8-28 3-29-3-26-8-5-4 21-4 21-11 21-19-6-29-6-37z" fill="#000010" fill-opacity="0.25"/>
<path d="M1625 769l4 0 28 2 25 8 22 13 17 17 10 19 4 21-4 21-12 20-17 16-23 13-26 8-28 3-29-3-19-6 18-6 16-13 17-21-1-30-1-37z" fill="#000010" fill-opacity="0.20"/>
<path d="M1646 771l11 0 25 8 22 13 17 17 10 19 4 21-4 21-12 20-17 16-23 13-26 8-28 3-29-3 11-8 11-15 10-23 6-29 6-37z" fill="#000010" fill-opacity="0.13"/>
<path d="M1686 877l-31 19-32 10-31 2-32-3-31-10-32-16-33-23-33-32-5 2-7-7-6-14-7-21-7-26-8-33-8-39-9-49 25 9 25 1 24-7 24-13 23-20 22-25 23-33 22-42 31 32 31 23 31 15 30 9 31 4 30-4 31-10 31-20 8 48 8 39 8 33 8 25 8 20 9 14 9 6 9-2-24 43-23 33-24 27-23 20-23 14-24 8-24 1z" fill="none" stroke="#e62c14" stroke-width="8" stroke-opacity="0.7" stroke-linejoin="round"/>
<path d="M2915 951l-39 19-36 9-35 3-34-4-32-10-31-16-30-23-28-32-15 1-14-7-12-15-11-21-10-26-9-33-8-40-7-49 20 9 22-2 18 55 19 48 20 43 20 36 22 31 22 25 24 20 25 14 25 9 28 4 28-2 31-8 31-14 34-19-20 3z" fill="#cc102a"/>
<path d="M2917 959l-28 5-49 15-46 2-44-9-42-20-39-32-16-11-14-10-18-8-16-22-14-31-13-43-10-55 5-21 3-5 30 0 23 69 25 58 25 49 28 39 29 31 30 22 33 13 35 4 37-5 40-14 42-24-28 1z" fill="#f61e12"/>
<path d="M2911 966l-29 6-19 2-47 8-45-4-42-14-41-26-7-5-24-15-22-17-5-5-17-14-15-27-13-37-12-48 1-14 5-21 8-19 19-2 23 69 25 58 25 49 28 39 29 31 30 22 33 13 35 4 37-5 40-14 42-24-17 3z" fill="#ff4400"/>
<path d="M2925 966l-29 8-30 4-29 2-44 1-42-9-40-18-26-13-25-15-22-18-18-18-15-21-14-30-12-40 0-22 4-22 8-21 11-19 4-1 23 69 25 58 25 49 28 39 29 31 30 22 33 13 35 4 37-5 40-14 42-24-3 1z" fill="#ff6c00"/>
<path d="M2944 962l-26 9-28 8-28 4-30 1-31-1-30-5-29-8-28-10-26-13-24-15-21-17-19-19-15-20-11-21-8-22-4-22 0-21 4-22 8-20 11-19 1-2 22 65 24 55 26 46 26 38 28 29 30 21 31 13 34 5 36-4 38-13 40-21z" fill="#ff9200"/>
<path d="M2933 968l-28 9-29 7-31 3-32 0-32-4-31-7-29-10-28-13-26-16-22-18-19-20-15-21-11-23-6-23-2-23 2-23 7-22 11-20 2-3 24 66 26 56 27 46 29 36 31 27 32 18 35 8 37-1 40-11 42-20z" fill="#ffb200"/>
<path d="M2927 971l-27 10-28 6-30 3-31 0-30-3-30-7-29-10-27-13-24-15-22-17-18-19-14-21-11-22-6-22-2-22 2-22 7-21 10-20 2-2 23 62 25 52 27 44 27 34 30 26 31 17 33 9 36-1 38-9 40-18z" fill="#ffd700"/>
<path d="M2920 975l-25 9-28 6-28 3-30 0-29-3-29-7-27-9-26-12-24-15-20-17-18-18-14-20-10-21-6-21-2-22 3-21 6-20 10-19 0-1 23 58 24 49 26 41 27 32 28 25 30 17 32 8 33 1 36-7 39-16z" fill="#fff200"/>
<path d="M2909 980l-28 9-29 5-30 2-31-2-31-6-29-9-28-12-25-15-21-18-18-20-14-21-9-22-4-23 0-23 5-21 10-21 1-2 25 59 26 49 27 40 30 31 31 22 32 13 35 4 38-5 40-15z" fill="#e8f800"/>
<path d="M2902 983l-26 9-28 5-29 1-30-2-29-5-28-9-26-11-24-15-20-17-17-19-13-20-9-21-4-22 0-21 5-21 9-20 0-1 24 55 25 45 27 38 27 28 30 21 31 13 33 5 35-4 38-12z" fill="#b0ec08"/>
<path d="M2890 988l-28 8-30 4-31 0-31-5-30-8-28-12-25-15-22-18-17-20-12-22-8-22-2-23 3-23 8-21 2-2 26 55 27 45 28 36 31 27 32 17 34 9 37-1 39-10z" fill="#60e418"/>
<path d="M2883 990l-26 8-29 3-29 0-29-4-28-8-27-11-23-14-21-17-16-19-12-21-7-21-2-22 3-21 8-20 25 50 25 41 27 33 29 25 30 17 32 8 34 1 37-8z" fill="#21e027"/>
<path d="M2870 994l-29 7-30 2-31-3-30-7-28-11-25-15-22-18-16-20-11-22-5-23 1-23 6-21 2-2 26 50 28 40 29 32 32 22 33 13 35 4 38-6z" fill="#0ae043"/>
<path d="M2856 998l-31 5-33 0-32-6-31-11-27-16-22-19-16-22-10-24-2-24 5-23 2-5 25 44 26 36 27 28 28 20 31 13 32 5 34-3z" fill="#00e080"/>
<path d="M2849 998l-28 5-30 0-30-6-28-10-25-14-20-18-15-20-9-22-2-22 4-22 1-1 26 43 28 35 30 26 31 17 33 9 36-1z" fill="#00debc"/>
<path d="M2834 1000l-31 3-32-4-30-9-26-15-21-19-14-22-7-23 2-23 1-3 29 42 30 32 32 23 34 13 37 4z" fill="#00d8e7"/>
<path d="M2749 970l25 15 26 10 27 4 29-2 31-8 32-13 34-20-20 3-18-8-39 19-36 9-35 3-34-4-32-10-31-16-30-23-28-32-8 2 16 30 16 21 18 14 18 8 19 2z" fill="#100c00" fill-opacity="0.18"/>
<path d="M2754 974l24 13 26 9 27 3 28-3 30-8 31-13 33-19-20 3-18-8-41 19-38 10-37 1-35-5-33-11-33-19-31-28 12 27 13 18 15 11 14 6 16 0z" fill="#100c00" fill-opacity="0.24"/>
<path d="M2759 977l24 12 25 7 26 3 28-3 29-8 30-13 32-19-20 3-18-8-41 19-39 10-37 1-35-5-34-12-33-20 9 19 9 13 10 8 11 2 12-2z" fill="#100c00" fill-opacity="0.25"/>
<path d="M2766 981l27 12 28 5 31-1 31-7 34-14 36-20-20 3-18-8-42 19-38 10-37 1-36-5-34-13 6 17 6 10 7 3 9-3z" fill="#100c00" fill-opacity="0.20"/>
<path d="M2776 986l26 9 27 4 28-2 31-8 32-14 33-19-20 3-18-8-39 19-36 9-35 3-34-4-1 13 0 7 1 2 2-4z" fill="#100c00" fill-opacity="0.13"/>
<path d="M2801 1001l-29-3-28-8-24-14-19-17-13-20-6-21 2-21 26 36 27 28 28 20 31 13 32 5z" fill="#0085e0"/>
<path d="M2813 998l-30 0-30-8-26-13-20-19-12-22-2-23 0-2 28 35 30 26 31 17 34 9z" fill="#0046f1"/>
<path d="M2796 995l-33-5-29-14-20-21-9-24 0-4 30 32 32 23 34 13z" fill="#0025fb"/>
<path d="M2775 988l-32-14-20-23-1-4 29 25 30 17z" fill="#0011f2"/>
<path d="M2828 999l-27 2-29-3-28-8-24-14-4-3 16 1 17-4 25 15 26 10z" fill="#000010" fill-opacity="0.18"/>
<path d="M2828 999l-27 2-29-3-28-8-17-10 13-1 14-5 23 13 25 8z" fill="#000010" fill-opacity="0.24"/>
<path d="M2828 999l-27 2-29-3-28-8-6-4 10-2 11-7 22 12 23 7z" fill="#000010" fill-opacity="0.25"/>
<path d="M2828 999l-27 2-29-3-20-6 6-4 8-7 30 13z" fill="#000010" fill-opacity="0.20"/>
<path d="M2828 999l-27 2-29-3 4-12 25 9z" fill="#000010" fill-opacity="0.13"/>
<path d="M2915 951l-39 19-36 9-35 3-34-4-32-10-31-16-30-23-28-32-15 1-14-7-12-15-11-21-10-26-9-33-8-40-7-49 20 9 22-2 18 55 19 48 20 43 20 36 22 31 22 25 24 20 25 14 25 9 28 4 28-2 31-8 31-14 34-19-20 3z" fill="none" stroke="#e62c14" stroke-width="8" stroke-opacity="0.7" stroke-linejoin="round"/>
<path d="M1374 637l9 49 8 39 8 33 7 26 7 21 6 14 7 7 5-2-22 43-23 34-24 27-24 20-25 15-26 8-26 2-27-8-30 19-30 9-30 3-31-4-32-10-33-16-34-23-35-32-3 1-3-9-5-16-6-23-7-29-8-37 28 10 27 3 25-3 25-8 24-13 23-19 22-24 22-30 21-36 21-42 33 19 32 11 32 4 31-2 31-11z" fill="#cc102a"/>
<path d="M1243 973l-28 5-40 15-41 2-42-9-44-20-45-32-14-11-12-10-3-7-5-15-6-23-8-31-8-39 35 11 33 1 31-7 30-16 29-25 27-33 27-41 26-52 35 20 35 11 33 3 34-4 33-15 13 9 12 11 11 55 10 42 10 31 9 20 8 7-8 21-4 7-31 47-31 34-33 23-34 13-35 0z" fill="#f61e12"/>
<path d="M1243 980l-30 6-19 2-40 8-42-4-42-14-44-26-7-5-21-15-18-17-5-5-5-13-6-24-8-32-9-43 35 11 33 1 31-7 30-16 29-25 27-33 27-41 26-52 39 21 38 11 37 2 36-9 7 3 21 14 18 16 5 6 10 48 10 36 9 26 9 14-3 13-9 22-11 19-31 41-32 29-34 18-35 7z" fill="#ff4400"/>
<path d="M1263 980l-31 8-31 4-29 2-39 1-41-9-41-18-24-13-21-16-19-17-14-19-6-20-8-31-9-40 2-11 34 9 31 0 30-8 29-15 28-23 26-32 26-39 25-48 15-1 40 18 39 8 38-2 23 11 22 15 19 17 15 17 9 40 9 30 9 20-3 21-7 23-11 22-14 19-31 33-31 22-33 13z" fill="#ff6c00"/>
<path d="M1314 963l-26 12-27 10-29 8-30 4-30 1-30-2-29-4-28-8-26-10-24-13-21-15-18-17-15-19-11-20-7-21-3-22 0-22 4-20 34 6 32-3 31-12 30-20 28-29 27-38 27-47 26-1 29 2 28 4 27 7 25 9 23 12 21 15 19 16 15 18 12 19 8 21 5 22 0 22-3 22-7 21-11 21-14 21-18 18-20 17z" fill="#ff9200"/>
<path d="M1308 969l-27 12-29 10-31 7-32 3-32 0-31-4-30-7-27-10-26-13-22-16-19-18-15-20-11-22-6-22-2-23 3-24 4-14 36 3 33-7 32-17 31-26 29-36 28-46 20-3 31 0 30 3 28 7 28 9 25 13 22 15 19 17 15 19 12 21 7 22 4 23-2 23-5 23-11 23-14 21-18 20-22 18z" fill="#ffb200"/>
<path d="M1305 973l-27 12-28 10-30 6-30 3-31 0-30-4-28-6-27-10-24-13-22-15-18-17-14-20-11-21-6-21-2-23 2-22 7-22 31 0 30-8 29-15 28-23 26-31 26-39 29-3 30 0 29 3 27 6 26 9 24 12 22 15 18 16 15 19 11 20 8 21 3 23-2 22-5 22-10 22-14 21-17 19-21 17z" fill="#ffd700"/>
<path d="M1301 977l-25 12-27 9-29 6-29 3-30 0-28-4-28-6-26-9-23-13-21-14-17-17-14-19-10-20-6-21-2-21 3-22 6-21 5-9 31-4 30-11 29-20 28-28 27-36 13-4 28-3 29 1 27 3 27 6 25 9 23 11 21 14 17 16 15 18 10 19 7 21 3 21-1 22-5 21-10 21-13 20-17 18-20 17z" fill="#fff200"/>
<path d="M1295 982l-27 12-29 9-31 5-30 2-31-2-29-6-28-9-25-12-22-16-18-17-14-20-10-22-5-22 0-23 5-22 9-22 5-7 31-7 30-16 28-24 28-33 10-3 29-5 30-2 29 2 29 5 27 9 25 12 21 14 19 17 14 19 11 21 5 22 2 23-4 22-9 23-12 21-18 19-21 18z" fill="#e8f800"/>
<path d="M1291 986l-26 11-27 8-29 6-30 1-29-2-28-5-26-9-24-12-21-14-18-17-13-19-9-21-5-21 0-22 5-21 9-21 13-20 1-1 28-12 27-18 26-26 3-1 27-8 28-5 28-1 29 1 27 5 26 9 23 11 21 14 17 16 14 18 10 20 6 21 1 22-4 21-8 22-12 20-17 19-20 16z" fill="#b0ec08"/>
<path d="M1284 990l-27 12-30 8-31 4-31-1-30-4-28-8-26-12-22-15-18-18-14-21-8-21-3-23 2-23 8-22 12-22 17-19 21-17 25-14 27-11 29-8 30-3 30 0 29 4 28 8 25 11 22 14 18 18 14 19 9 22 4 22-1 23-7 23-11 21-17 20-21 18z" fill="#60e418"/>
<path d="M1280 993l-26 11-28 7-29 4-29 0-29-4-26-8-25-11-21-15-17-17-12-19-8-20-3-22 2-21 7-22 12-20 16-18 20-16 23-14 25-10 28-7 28-4 28 1 28 3 26 8 24 10 21 14 17 17 13 18 9 20 4 22-2 21-6 22-11 20-16 19-20 17z" fill="#21e027"/>
<path d="M1273 997l-28 11-30 7-31 2-31-3-28-7-27-11-22-15-18-18-12-21-7-22-1-23 6-22 11-22 16-20 20-17 25-14 27-10 30-7 29-2 30 3 28 6 26 11 22 14 18 18 13 20 8 22 1 22-4 23-10 22-16 20-21 18z" fill="#0ae043"/>
<path d="M1264 1001l-30 10-32 6-33-1-31-5-29-11-24-16-18-19-12-23-5-23 2-25 10-23 16-22 21-18 27-15 29-10 32-5 32 0 30 5 28 11 24 15 19 19 12 21 6 24-1 24-9 24-16 22-21 19z" fill="#00e080"/>
<path d="M1260 1002l-28 10-30 5-30-1-28-5-27-10-22-14-17-18-11-21-4-22 2-22 9-21 14-20 20-17 24-14 27-9 29-5 30 0 28 5 25 10 22 14 18 17 11 20 5 22-1 22-8 22-14 20-20 18z" fill="#00debc"/>
<path d="M1250 1004l-30 9-31 3-31-3-28-10-24-14-17-19-10-22-2-24 6-23 14-22 20-18 26-14 29-8 31-3 31 3 27 9 24 14 18 19 10 21 3 24-6 23-13 22-21 19z" fill="#00d8e7"/>
<path d="M1200 964l-11-24-11-29-13-35-13-40-13-45-14-51 20-29 20-35 20-40 33 19 32 11 32 4 31-2 31-11 30-20 9 49 8 39 8 33 7 26 7 21 6 14 7 7 5-2-22 43-23 34-24 27-24 20-25 15-26 8-26 2-27-8-30 19-30 9-30 3-31-4-32-10-33-16-34-23-35-32-1 2 32 29 31 20 29 14 28 8 27 3 26-2 25-8z" fill="#100c00" fill-opacity="0.18"/>
<path d="M1200 964l-8-26-8-33-9-38-10-45-11-50-11-57 21-36 21-43 33 19 32 11 32 4 31-2 31-11 30-20 9 49 8 39 8 33 7 26 7 21 6 14 7 7 5-2-22 43-23 34-24 27-24 20-25 15-26 8-26 2-27-8-31 19-32 10-32 1-33-5-34-12-35-18-36-28 29 26 27 17 27 12 25 6 24 0 23-4 23-10z" fill="#100c00" fill-opacity="0.24"/>
<path d="M1200 964l-3-25-5-30-4-35-6-40-6-45-6-51-7-57 22-45 33 19 32 11 32 4 31-2 31-11 30-20 9 49 8 39 8 33 7 26 7 21 6 14 7 7 5-2-22 43-23 34-24 27-24 20-25 15-26 8-26 2-27-8-32 19-32 10-32 1-34-5-34-12-35-20 27 21 26 13 25 7 23 0 22-5 22-12z" fill="#100c00" fill-opacity="0.25"/>
<path d="M1200 964l1-28 0-33-1-40-2-46-2-52-2-59-4-66 32 16 31 10 31 4 31-3 29-10 30-20 9 49 8 39 8 33 7 26 7 21 6 14 7 7 5-2-22 43-23 34-24 27-24 20-25 15-26 8-26 2-27-8-32 20-32 9-33 1-33-5-35-13 22 16 21 10 19 3 19-2 17-7 17-14z" fill="#100c00" fill-opacity="0.20"/>
<path d="M1200 964l7-26 6-32 5-37 5-43 4-49 3-55 4-61 28 7 29 2 28-4 28-10 27-19 9 49 8 39 8 33 7 26 7 21 6 14 7 7 5-2-22 43-23 34-24 27-24 20-25 15-26 8-26 2-27-8-30 19-30 9-30 3-31-4 15 13 14 7 13 1 13-4 11-9 11-15z" fill="#100c00" fill-opacity="0.13"/>
<path d="M1246 1004l-27 8-29 3-28-3-26-9-21-13-16-18-9-20-2-21 6-21 12-20 19-17 24-12 26-8 28-3 28 3 25 8 22 13 16 17 9 20 3 21-5 22-13 19-18 18z" fill="#0085e0"/>
<path d="M1237 1004l-30 8-31-1-28-7-24-14-16-19-7-22 2-23 11-22 19-18 26-13 29-7 30 0 29 7 23 14 16 18 8 22-1 23-11 22-19 19z" fill="#0046f1"/>
<path d="M1226 1004l-33 5-32-5-26-14-17-21-4-25 9-24 20-20 28-14 32-5 32 5 26 14 17 21 4 24-8 25-19 20z" fill="#0025fb"/>
<path d="M1213 1002l-36 0-30-14-15-24 2-27 20-23 31-13 36 0 29 14 16 23-2 27-19 23z" fill="#0011f2"/>
<path d="M1209 993l-25 0-21-9-11-17 2-19 14-16 22-10 25 1 21 9 11 17-1 19-14 16z" fill="#0006db"/>
<path d="M1159 858l16-5 28-3 28 3 25 8 22 13 16 17 9 20 3 21-5 22-13 19-18 18-24 13-27 8-29 3-28-3-26-9-21-13-3-3 30-1 30-7 28-15-13-28-13-36z" fill="#000010" fill-opacity="0.18"/>
<path d="M1172 854l3-1 28-3 28 3 25 8 22 13 16 17 9 20 3 21-5 22-13 19-18 18-24 13-27 8-29 3-28-3-26-9-15-9 27-3 27-10 25-17-8-29-10-37z" fill="#000010" fill-opacity="0.24"/>
<path d="M1185 852l18-2 28 3 25 8 22 13 16 17 9 20 3 21-5 22-13 19-18 18-24 13-27 8-29 3-28-3-26-9-5-3 24-5 23-12 22-19-4-30-5-37z" fill="#000010" fill-opacity="0.25"/>
<path d="M1200 851l3-1 28 3 25 8 22 13 16 17 9 20 3 21-5 22-13 19-18 18-24 13-27 8-29 3-28-3-19-6 20-7 19-14 18-21 1-30 0-38z" fill="#000010" fill-opacity="0.20"/>
<path d="M1220 852l11 1 25 8 22 13 16 17 9 20 3 21-5 22-13 19-18 18-24 13-27 8-29 3-28-3 14-9 13-16 11-23 8-30 6-37z" fill="#000010" fill-opacity="0.13"/>
<path d="M1374 637l9 49 8 39 8 33 7 26 7 21 6 14 7 7 5-2-22 43-23 34-24 27-24 20-25 15-26 8-26 2-27-8-30 19-30 9-30 3-31-4-32-10-33-16-34-23-35-32-3 1-3-9-5-16-6-23-7-29-8-37 28 10 27 3 25-3 25-8 24-13 23-19 22-24 22-30 21-36 21-42 33 19 32 11 32 4 31-2 31-11z" fill="none" stroke="#e62c14" stroke-width="8" stroke-opacity="0.7" stroke-linejoin="round"/>
<path d="M2471 1041l-37 18-35 9-34 2-33-3-32-10-32-16-31-24-31-31-12 0-11-8-10-16-10-21-9-27-9-33-8-41-7-49 20 8 22 0 21-8 22-13 23-20 23-26 23-34 25-42 29 32 29 23 31 16 31 9 32 3 33-3 34-10 36-19 7 49 8 40 9 33 10 26 11 21 12 15 14 7 15-1-26 43-25 34-24 27-22 21-22 15-21 9-20 2z" fill="#cc102a"/>
<path d="M2475 1048l-28 6-47 14-45 2-44-9-43-20-41-33-15-11-14-10-15-9-13-22-13-33-12-43-11-56 7-21 3-5 28 1 29-12 29-22 31-33 31-47 8-3 27-4 40 33 41 19 42 9 44-3 46-15 15 9 13 11 11 55 12 42 14 32 16 21 19 8-5 21-3 7-33 47-31 35-30 24-28 13-26 0z" fill="#f61e12"/>
<path d="M2470 1055l-29 6-19 2-46 7-44-4-43-14-42-26-7-4-24-16-20-17-6-5-14-16-13-27-12-37-11-49 2-14 6-22 9-19 29-5 29-17 30-29 32-39 25-8 28-4 18-1 40 25 41 14 43 3 44-9 8 3 23 15 21 16 5 6 12 48 13 37 15 26 17 15-1 14-5 22-8 20-33 41-30 29-29 19-28 7z" fill="#ff4400"/>
<path d="M2486 1055l-29 8-31 4-29 2-44 1-42-9-41-19-25-13-24-16-22-18-17-18-13-22-12-30-11-41 1-22 5-23 10-21 11-19 28-12 29-21 29-32 25-9 28-7 30-5 28-1 39 19 41 8 41-2 25 11 24 15 22 18 17 18 12 40 14 30 15 21 0 21-4 23-8 23-11 20-30 32-28 23-27 13z" fill="#ff6c00"/>
<path d="M2531 1037l-24 13-26 10-28 7-30 5-30 1-31-2-30-4-29-8-28-11-26-13-23-15-21-18-17-19-14-20-11-22-6-22-3-22 1-23 5-22 9-20 12-20 16-18 18-16 22-15 23-12 26-9 28-7 28-4 29-1 29 2 29 4 28 7 27 10 26 12 23 14 21 17 18 18 14 20 12 21 8 22 3 22 1 23-4 22-8 21-11 21-16 19-18 17z" fill="#ff9200"/>
<path d="M2523 1043l-26 13-28 10-30 6-32 4-32 0-32-4-31-7-29-11-28-13-25-16-21-19-18-20-14-22-10-23-5-24-1-23 3-23 8-23 12-21 16-19 20-17 23-15 25-13 27-9 30-6 30-3 31 0 30 3 30 7 29 10 27 12 25 15 21 18 19 20 15 21 10 22 7 24 2 23-2 24-7 23-11 21-16 21-19 18z" fill="#ffb200"/>
<path d="M2517 1047l-25 12-27 10-30 6-30 4-31-1-30-3-30-7-29-10-26-13-24-15-21-18-17-20-14-21-9-22-5-23-1-23 3-22 8-22 12-20 15-19 19-16 22-15 24-11 27-9 28-6 29-3 30 0 29 3 29 6 28 10 26 12 23 15 21 16 18 19 14 21 11 22 6 22 2 23-2 22-7 23-11 21-15 19-18 18z" fill="#ffd700"/>
<path d="M2510 1051l-24 12-26 9-28 6-29 3-29 0-30-3-29-7-27-9-25-13-23-15-20-17-17-19-13-20-9-21-5-22-1-22 3-22 8-20 11-20 15-18 18-16 21-14 23-11 26-9 27-6 28-2 28 0 29 3 28 6 26 9 25 12 23 14 20 16 17 18 14 20 10 21 6 21 2 22-3 22-6 21-11 21-14 18-18 17z" fill="#fff200"/>
<path d="M2501 1056l-25 12-28 9-30 5-31 2-31-2-31-6-29-9-27-13-24-15-21-18-17-21-13-21-8-23-3-23 1-23 6-22 11-21 15-20 19-17 22-14 25-12 28-8 29-5 29-2 30 2 30 6 28 8 27 12 24 15 21 17 18 20 13 21 9 22 4 23 0 23-5 23-10 22-15 20-18 17z" fill="#e8f800"/>
<path d="M2494 1059l-24 12-27 8-28 6-30 1-29-2-29-5-28-9-26-12-23-15-20-17-16-20-13-20-7-22-3-22 1-22 6-21 10-20 14-19 18-16 22-14 24-11 26-8 27-5 29-1 28 2 29 5 27 8 25 11 23 15 20 16 17 19 13 20 8 21 4 22 0 22-5 22-10 20-13 20-18 17z" fill="#b0ec08"/>
<path d="M2485 1064l-26 11-29 8-31 4-31 0-31-4-30-9-27-12-25-15-21-19-16-20-12-22-6-23-1-24 4-23 10-21 14-20 19-17 23-15 25-11 28-7 30-4 30 0 30 4 29 8 28 11 24 15 21 18 17 20 12 22 7 22 2 24-3 23-9 22-14 20-18 18z" fill="#60e418"/>
<path d="M2478 1066l-25 11-27 8-29 4-29 0-30-4-28-8-26-12-23-15-20-17-15-19-11-21-6-22-1-22 4-22 9-20 14-19 17-16 22-14 24-11 26-7 28-3 29 0 28 4 28 7 25 11 23 14 20 17 16 19 12 20 7 22 1 22-3 22-8 21-13 19-18 17z" fill="#21e027"/>
<path d="M2467 1070l-26 11-29 7-31 2-31-2-30-8-28-11-25-15-21-19-15-20-10-23-4-23 2-23 8-22 13-20 19-18 22-14 27-11 28-6 30-2 30 2 30 7 27 11 25 14 20 18 16 20 11 23 5 23-1 23-8 22-13 21-18 18z" fill="#0ae043"/>
<path d="M2456 1074l-29 10-31 6-33 0-33-6-30-11-27-16-21-20-15-23-9-24-1-25 7-24 13-21 19-19 24-15 29-11 31-5 32 0 31 6 30 11 26 15 22 19 16 22 9 24 2 25-6 24-12 23-19 19z" fill="#00e080"/>
<path d="M2448 1075l-26 10-29 5-31-1-29-5-28-10-24-15-20-18-14-21-8-22-1-23 6-22 12-20 17-17 23-14 26-10 28-4 30 0 29 5 27 10 24 14 20 17 15 21 8 22 2 23-5 22-12 20-17 18z" fill="#00debc"/>
<path d="M2436 1077l-29 9-31 3-32-3-30-10-26-15-20-19-13-23-5-24 3-23 11-22 18-19 24-14 28-9 31-3 31 4 29 9 26 14 20 19 14 22 6 24-3 24-10 22-18 19z" fill="#00d8e7"/>
<path d="M2366 1035l-15-27-14-33-14-39-12-46-13-52-11-60-11-68 33-54 29 32 29 23 31 16 31 9 32 3 33-3 34-10 36-19 7 49 8 40 9 33 10 26 11 21 12 15 14 7 15-1-26 43-25 34-24 27-22 21-22 15-21 9-20 2-19-7-37 18-35 9-34 2-33-3-32-10-32-16-31-24-31-31-6 1 20 29 20 19 20 14 21 8 20 2 21-2 22-8z" fill="#100c00" fill-opacity="0.18"/>
<path d="M2366 1035l-11-25-9-31-9-37-9-41-7-48-8-53-6-59-6-71 8-14 29 32 29 23 31 16 31 9 32 3 33-3 34-10 36-19 7 49 8 40 9 33 10 26 11 21 12 15 14 7 15-1-26 43-25 34-24 27-22 21-22 15-21 9-20 2-19-7-38 19-37 9-36 1-35-5-34-12-33-19-33-27 16 25 17 17 17 11 18 5 17 0 18-4 19-10z" fill="#100c00" fill-opacity="0.24"/>
<path d="M2366 1035l-7-25-5-31-6-35-4-41-4-47-4-51-3-57-2-67 31 26 31 17 32 11 33 4 34-2 35-11 37-19 7 49 8 40 9 33 10 26 11 21 12 15 14 7 15-1-26 43-25 34-24 27-22 21-22 15-21 9-20 2-19-7-39 19-37 9-36 1-35-5-35-13-33-19 14 20 15 13 15 6 16 0 16-6 17-12z" fill="#100c00" fill-opacity="0.25"/>
<path d="M2366 1035l-3-28-1-34-1-40-1-46 1-53 1-59 2-66 31 16 32 10 32 4 34-2 34-11 37-19 7 49 8 40 9 33 10 26 11 21 12 15 14 7 15-1-26 43-25 34-24 27-22 21-22 15-21 9-20 2-19-7-39 19-37 9-37 1-35-6-34-12 9 15 10 9 11 3 11-2 11-9 12-13z" fill="#100c00" fill-opacity="0.20"/>
<path d="M2366 1035l4-26 4-33 5-37 6-44 6-49 7-55 8-61 30 7 30 2 32-3 32-11 34-18 7 49 8 40 9 33 10 26 11 21 12 15 14 7 15-1-26 43-25 34-24 27-22 21-22 15-21 9-20 2-19-7-37 18-35 9-34 2-33-3 3 12 4 6 4 1 5-5 5-10 6-15z" fill="#100c00" fill-opacity="0.13"/>
<path d="M2429 1076l-26 9-28 2-29-3-27-8-24-14-19-18-12-20-4-22 2-21 10-20 17-17 22-13 25-8 28-3 29 3 27 8 23 13 19 18 12 20 5 21-2 22-9 20-17 18z" fill="#0085e0"/>
<path d="M2418 1077l-29 7-31 0-30-8-26-14-19-19-11-23-1-23 9-22 17-19 23-13 29-7 30 0 30 7 25 14 20 19 11 22 2 24-8 22-17 19z" fill="#0046f1"/>
<path d="M2404 1076l-32 5-33-5-29-14-19-22-8-25 5-24 18-21 26-14 32-4 33 5 28 14 20 21 8 24-5 25-17 21z" fill="#0025fb"/>
<path d="M2388 1074l-36 0-32-14-19-24-1-28 16-23 30-13 36 0 32 13 19 24 2 27-16 24z" fill="#0011f2"/>
<path d="M2381 1065l-25 0-23-10-13-17-1-19 11-17 22-9 25 0 22 10 14 17 1 19-11 17z" fill="#0006db"/>
<path d="M2321 928l15-5 28-3 29 3 27 8 23 13 19 18 12 20 5 21-2 22-9 20-17 18-22 13-26 9-28 2-29-3-27-8-24-14-4-3 24-1 25-8 26-15-16-28-15-36z" fill="#000010" fill-opacity="0.18"/>
<path d="M2333 924l3-1 28-3 29 3 27 8 23 13 19 18 12 20 5 21-2 22-9 20-17 18-22 13-26 9-28 2-29-3-27-8-18-10 21-3 22-10 22-18-12-30-11-37z" fill="#000010" fill-opacity="0.24"/>
<path d="M2346 922l18-2 29 3 27 8 23 13 19 18 12 20 5 21-2 22-9 20-17 18-22 13-26 9-28 2-29-3-27-8-7-4 17-5 18-12 19-20-8-30-6-38z" fill="#000010" fill-opacity="0.25"/>
<path d="M2361 921l3-1 29 3 27 8 23 13 19 18 12 20 5 21-2 22-9 20-17 18-22 13-26 9-28 2-29-3-20-6 12-7 14-14 14-22-3-31-2-38z" fill="#000010" fill-opacity="0.20"/>
<path d="M2381 922l12 1 27 8 23 13 19 18 12 20 5 21-2 22-9 20-17 18-22 13-26 9-28 2-29-3 6-9 6-16 8-24 4-30 5-38z" fill="#000010" fill-opacity="0.13"/>
<path d="M2471 1041l-37 18-35 9-34 2-33-3-32-10-32-16-31-24-31-31-12 0-11-8-10-16-10-21-9-27-9-33-8-41-7-49 20 8 22 0 21-8 22-13 23-20 23-26 23-34 25-42 29 32 29 23 31 16 31 9 32 3 33-3 34-10 36-19 7 49 8 40 9 33 10 26 11 21 12 15 14 7 15-1-26 43-25 34-24 27-22 21-22 15-21 9-20 2z" fill="none" stroke="#e62c14" stroke-width="8" stroke-opacity="0.7" stroke-linejoin="round"/>
<path d="M979 911l-22 43-23 34-24 27-25 21-26 15-28 9-29 2-31-7-28 19-30 9-31 1-33-5-34-11-35-19 35 22 34 14 32 9 31 2 28-3 28-9 26-15 25-21 23-26 23-32 22-38 21-45 20-51 19-58 8 37 7 29 6 23 5 16 3 9z" fill="#cc102a"/>
<path d="M783 1062l-29 6-32 13-33 4-35-4-36-12-38-20 41 25 39 15 37 7 34-1 32-9 31-17 29-25 27-32 26-41 25-48 24-58 22-67 9 39 7 31 6 23 5 16 4 6-10 21-4 7-30 47-32 35-34 24-37 13-39 1z" fill="#f61e12"/>
<path d="M784 1070l-30 5-19 2-36 8-38-3-40-12-41-21 41 25 39 15 37 7 34-1 32-9 31-17 29-25 27-32 26-41 25-48 24-58 22-67 9 42 8 33 6 24 5 13-3 14-10 22-12 20-32 41-33 29-36 19-38 7z" fill="#ff4400"/>
<path d="M806 1069l-31 8-32 4-30 2-38 1-40-9-43-19-8-4 44 25 41 14 39 5 36-4 34-13 31-22 31-32 28-40 27-50 26-59 24-70 5 6 9 40 8 31 6 20-5 22-8 23-13 23-15 20-31 32-33 23-35 14z" fill="#ff6c00"/>
<path d="M860 1051l-26 13-29 10-30 7-30 5-31 1-30-2-29-4-28-8-25-10-8-4 41 21 40 12 36 4 35-5 32-13 31-21 29-29 27-39 26-46 25-56 24-65 5 6 11 20 7 21 3 22 0 22-4 23-9 22-12 21-15 21-19 19-22 17z" fill="#ff9200"/>
<path d="M856 1057l-29 13-30 10-32 7-32 3-32 0-31-4-30-7-27-10-11-6 40 19 37 11 35 3 34-5 31-13 29-20 28-29 27-36 25-44 24-53 23-61 7 8 10 21 7 23 2 23-3 24-7 24-11 22-16 22-19 21-23 18z" fill="#ffb200"/>
<path d="M853 1061l-27 12-30 10-30 7-31 3-31 0-30-4-28-7-27-10-9-4 42 18 39 9 36 0 35-9 32-17 30-26 29-35 27-44 26-53 25-63 5 7 10 20 6 22 2 23-2 22-7 23-11 22-15 21-19 20-22 18z" fill="#ffd700"/>
<path d="M850 1065l-26 12-28 9-29 6-30 3-29 0-29-3-28-7-25-9-7-4 39 16 37 8 35-1 33-9 31-17 29-25 28-33 26-41 25-50 24-59 4 6 10 19 6 21 2 22-3 22-6 22-11 21-14 20-18 19-22 17z" fill="#fff200"/>
<path d="M845 1070l-28 12-30 9-31 5-31 2-31-2-29-6-28-9-9-4 41 14 38 5 37-4 34-13 32-22 30-32 28-40 27-50 26-60 5 7 9 21 5 23 0 23-5 23-10 23-14 21-18 20-22 18z" fill="#e8f800"/>
<path d="M842 1073l-26 12-29 8-29 6-30 1-30-2-28-5-26-9-7-4 38 13 37 3 34-5 32-13 31-21 29-29 27-38 26-46 25-55 4 5 8 20 5 22 0 22-5 22-9 22-14 20-17 19-22 17z" fill="#b0ec08"/>
<path d="M836 1078l-28 11-31 8-31 4-31 0-30-4-29-9-10-4 41 11 38 0 35-8 34-18 31-27 30-37 28-46 27-56 5 7 8 22 3 23-3 23-8 24-13 22-18 20-22 18z" fill="#60e418"/>
<path d="M833 1080l-27 11-28 8-30 4-30 0-28-4-27-8-7-4 38 8 35 0 33-9 32-17 29-26 29-33 26-42 26-51 3 5 8 21 3 21-3 23-7 21-13 21-17 20-21 17z" fill="#21e027"/>
<path d="M827 1084l-29 11-31 7-31 2-31-2-28-8-11-4 40 6 37-4 34-13 33-23 30-32 29-41 28-52 5 8 6 22 0 23-5 24-12 22-17 21-22 18z" fill="#0ae043"/>
<path d="M819 1088l-31 10-33 6-33 0-31-6-13-5 35 3 34-5 32-13 30-21 28-28 27-37 25-45 6 10 4 24-2 25-10 24-17 22-23 20z" fill="#00e080"/>
<path d="M816 1089l-29 9-30 5-30 0-29-5-9-3 37 0 35-8 33-18 31-27 29-35 28-45 3 6 4 22-2 23-10 23-15 20-21 18z" fill="#00debc"/>
<path d="M807 1091l-30 9-32 3-31-4-12-3 39-3 36-14 33-23 32-34 30-44 4 9 2 24-7 23-15 23-22 19z" fill="#00d8e7"/>
<path d="M771 1055l-28 19-30 9-31 1-33-5-34-11-35-19 35 22 34 14 32 9 31 2 28-3 28-9 26-15 25-21 23-26 23-32 22-38 21-45 20-51 19-58 8 37 7 29 6 23 5 16 3 9 3-1-22 43-23 34-24 27-25 21-26 15-28 9-29 2z" fill="#100c00" fill-opacity="0.18"/>
<path d="M771 1055l-28 19-30 9-31 1-33-5-34-11-35-19 35 22 34 14 32 9 31 2 28-3 28-9 26-15 25-21 23-26 23-32 22-38 21-45 20-51 19-58 8 37 7 29 6 23 5 16 3 9 3-1-22 43-23 34-24 27-25 21-26 15-28 9-29 2z" fill="#100c00" fill-opacity="0.24"/>
<path d="M771 1055l-28 19-30 9-31 1-33-5-34-11-35-19 35 22 34 14 32 9 31 2 28-3 28-9 26-15 25-21 23-26 23-32 22-38 21-45 20-51 19-58 8 37 7 29 6 23 5 16 3 9 3-1-22 43-23 34-24 27-25 21-26 15-28 9-29 2z" fill="#100c00" fill-opacity="0.25"/>
<path d="M674 1092l29 4 27-1 26-7 25-11 24-17 23-21 22-27 21-32 20-37 19-42 19-48 18-55 8 37 7 29 6 23 5 16 3 9 3-1-22 43-23 34-24 27-25 21-26 15-28 9-29 2-31-7-29 19-30 9-32 1-34-5-35-13 23 13 20 9z" fill="#100c00" fill-opacity="0.20"/>
<path d="M726 1095l26-5 26-11 24-16 24-22 22-26 21-32 21-37 20-43 19-49 18-56 8 37 7 29 6 23 5 16 3 9 3-1-22 43-23 34-24 27-25 21-26 15-28 9-29 2-31-7-27 18-28 9-30 3-31-4 20 12 18 6 17 1z" fill="#100c00" fill-opacity="0.13"/>
<path d="M804 1090l-28 8-29 3-28-3-7-2 34-5 32-13 31-21 28-29 28-38 2 5 1 22-6 22-14 20-19 18z" fill="#0085e0"/>
<path d="M796 1091l-31 7-31 0-10-3 36-8 34-18 32-28 29-37 3 8-3 23-12 23-21 19z" fill="#0046f1"/>
<path d="M786 1090l-34 5-14-2 38-13 35-25 33-35 2 10-10 25-21 21z" fill="#0025fb"/>
<path d="M773 1088l-17 0 38-19 35-31-2 12-21 24z" fill="#0011f2"/>
<path d="M790 1071l7-5-2 3z" fill="#0006db"/>
<path d="M865 990l2 5 1 22-6 22-14 20-19 18-25 13-28 8-29 3-28-3-7-2 29-3 27-9 26-15 25-21 23-26z" fill="#000010" fill-opacity="0.18"/>
<path d="M865 990l2 5 1 22-6 22-14 20-19 18-25 13-28 8-29 3-28-3-7-2 29-3 27-9 26-15 25-21 23-26z" fill="#000010" fill-opacity="0.24"/>
<path d="M865 990l2 5 1 22-6 22-14 20-19 18-25 13-28 8-29 3-28-3-7-2 29-3 27-9 26-15 25-21 23-26z" fill="#000010" fill-opacity="0.25"/>
<path d="M865 990l2 5 1 22-6 22-14 20-19 18-25 13-28 8-29 3-28-3-7-2 29-3 27-9 26-15 25-21 23-26z" fill="#000010" fill-opacity="0.20"/>
<path d="M865 990l2 5 1 22-6 22-14 20-19 18-25 13-28 8-29 3-28-3 7-3 25-5 25-10 24-15 22-20 22-25z" fill="#000010" fill-opacity="0.13"/>
<path d="M979 911l-22 43-23 34-24 27-25 21-26 15-28 9-29 2-31-7-28 19-30 9-31 1-33-5-34-11-35-19 35 22 34 14 32 9 31 2 28-3 28-9 26-15 25-21 23-26 23-32 22-38 21-45 20-51 19-58 8 37 7 29 6 23 5 16 3 9z" fill="none" stroke="#e62c14" stroke-width="8" stroke-opacity="0.7" stroke-linejoin="round"/>
<path d="M2018 1132l-35 18-33 9-33 2-33-4-33-10-33-16-32-23-33-32-8-1-9-8-8-16-8-22-9-28-8-33-8-41-9-50 24 8 24-1 24-8 23-14 23-20 24-27 23-33 24-43 31 32 31 23 31 16 31 9 32 4 32-3 33-10 34-19 7 49 8 41 9 33 9 27 10 21 10 16 11 8 12 0-25 43-25 34-23 27-24 22-23 15-23 9-23 2z" fill="#cc102a"/>
<path d="M2024 1139l-29 6-45 14-44 1-44-9-43-20-44-33-15-11-13-10-11-10-11-23-11-33-11-44-11-56 7-22 4-5 31 0 31-12 32-23 30-34 32-46 8-3 28-5 41 33 42 20 42 8 43-2 44-15 15 9 13 11 10 56 12 43 13 32 13 22 15 9-6 21-3 8-33 47-31 35-31 24-31 14-30 1z" fill="#f61e12"/>
<path d="M2021 1146l-30 6-19 2-45 7-43-4-44-15-43-26-8-4-22-16-20-17-5-6-11-16-11-28-11-38-11-49 2-15 8-22 10-19 32-6 31-18 31-29 32-40 25-7 29-5 18-1 42 26 41 13 43 4 43-9 7 4 23 14 20 17 5 6 11 49 12 37 13 27 14 16-1 14-7 22-9 20-32 42-32 30-31 19-31 8z" fill="#ff4400"/>
<path d="M2038 1146l-30 7-31 5-30 1-42 1-42-9-42-18-25-14-24-16-20-19-16-18-11-22-11-32-10-41 2-23 7-23 10-22 13-19 30-12 30-22 30-32 25-10 30-7 30-4 28-1 40 18 41 8 41-1 24 12 23 15 21 17 17 19 11 41 12 30 13 22-1 22-5 23-9 23-13 21-30 33-30 23-29 14z" fill="#ff6c00"/>
<path d="M2087 1127l-26 13-27 10-29 8-30 4-30 2-31-2-30-5-29-8-28-11-25-13-23-16-20-17-17-20-13-21-9-22-6-23-1-23 2-22 6-23 10-21 14-20 16-18 20-17 22-15 25-12 27-9 28-7 28-4 30-2 29 2 29 4 28 8 27 10 25 12 23 15 20 17 17 18 14 21 10 21 7 22 3 23-1 23-5 23-9 22-13 21-16 19-20 18z" fill="#ff9200"/>
<path d="M2079 1132l-27 14-29 10-31 7-32 3-32 0-32-4-31-7-29-11-28-13-24-17-21-19-17-20-13-23-8-23-4-24 0-25 5-23 9-23 13-22 18-19 20-18 24-15 26-13 28-9 30-7 31-3 31 1 31 3 30 7 28 10 27 12 24 16 21 18 18 20 13 21 10 23 6 24 0 24-3 24-8 24-13 22-17 21-20 18z" fill="#ffb200"/>
<path d="M2074 1136l-26 13-28 10-30 7-31 3-31 0-31-4-30-7-28-10-26-13-23-16-20-18-17-20-12-22-9-23-4-23 1-23 4-23 9-22 13-21 17-19 20-17 22-14 26-13 27-9 29-6 29-3 30 0 30 4 29 6 27 10 26 12 23 15 20 17 17 20 14 20 9 23 5 23 1 23-4 23-7 23-13 21-16 20-19 18z" fill="#ffd700"/>
<path d="M2068 1140l-25 12-27 10-28 6-30 3-30 0-29-3-29-7-27-10-25-12-22-16-20-17-16-19-12-21-8-22-3-22 0-23 4-22 9-21 12-20 16-18 19-17 22-14 24-11 27-9 27-6 29-3 29 0 28 4 28 6 26 9 25 12 22 14 20 17 16 18 13 21 8 21 5 22 1 22-3 23-8 21-11 21-16 19-19 17z" fill="#fff200"/>
<path d="M2060 1145l-26 13-29 9-31 5-31 2-31-2-31-6-29-10-27-13-23-15-21-19-16-21-11-22-7-23-2-23 2-24 8-23 12-21 16-20 20-17 23-15 26-12 28-8 30-5 30-2 30 2 30 6 28 8 26 13 24 15 20 17 17 20 12 22 8 23 3 23-1 24-7 23-11 22-16 20-19 18z" fill="#e8f800"/>
<path d="M2054 1148l-25 12-27 9-30 5-29 2-30-2-29-6-28-9-26-12-22-15-19-18-16-20-11-21-7-22-2-22 3-23 7-22 11-20 16-19 19-16 22-15 25-11 27-8 28-5 29-1 29 1 28 6 27 8 25 12 22 14 20 17 15 19 12 21 8 21 3 23-2 22-6 22-11 21-15 20-18 17z" fill="#b0ec08"/>
<path d="M2046 1153l-27 12-30 8-31 4-32 0-31-5-29-8-28-13-24-16-20-18-15-21-11-23-5-24 0-23 6-24 11-22 15-20 20-18 24-14 26-12 29-8 30-3 31 0 30 4 29 8 27 12 23 15 21 18 16 20 11 22 6 24 1 24-5 23-10 23-15 21-20 18z" fill="#60e418"/>
<path d="M2039 1155l-25 11-28 8-29 4-30 0-29-4-28-8-26-12-23-15-19-18-15-20-9-21-5-22 0-23 5-22 10-21 15-19 19-17 22-14 25-10 27-8 29-3 29 0 28 4 28 8 25 11 22 14 19 17 16 19 10 21 6 22 1 23-5 22-9 21-15 20-18 17z" fill="#21e027"/>
<path d="M2030 1159l-27 11-30 7-32 2-31-2-30-8-28-11-24-16-19-19-15-21-9-23-3-24 4-23 9-23 14-20 20-18 24-15 26-11 30-6 30-2 30 2 30 7 27 11 24 15 20 18 15 21 9 23 4 23-2 24-9 23-14 21-19 18z" fill="#0ae043"/>
<path d="M2020 1162l-30 11-32 6-34-1-32-6-30-11-26-16-21-20-14-23-7-25 0-25 8-25 14-22 20-20 26-15 29-10 32-6 32 1 32 5 29 11 26 16 21 19 14 23 8 24 1 26-7 24-13 23-21 20z" fill="#00e080"/>
<path d="M2013 1163l-27 10-30 5-31 0-29-6-28-10-24-15-19-18-13-22-6-22 0-24 7-22 13-21 18-17 24-14 27-10 29-5 29 0 30 5 27 10 23 15 19 18 14 21 7 22 1 23-6 23-13 21-19 18z" fill="#00debc"/>
<path d="M2002 1165l-30 9-32 3-32-3-29-10-26-15-19-20-12-23-4-24 4-24 12-23 19-19 25-14 29-9 31-3 32 3 29 10 25 14 20 20 12 22 5 24-4 25-11 22-19 20z" fill="#00d8e7"/>
<path d="M1938 1121l-14-27-14-33-13-40-14-46-13-53-14-60-13-68 32-55 31 32 31 23 31 16 31 9 32 4 32-3 33-10 34-19 7 49 8 41 9 33 9 27 10 21 10 16 11 8 12 0-25 43-25 34-23 27-24 22-23 15-23 9-23 2-22-6-35 18-33 9-33 2-33-4-33-10-33-16-32-23-33-32-4 1 25 28 24 19 24 13 23 7 23 2 24-3 23-8z" fill="#100c00" fill-opacity="0.18"/>
<path d="M1938 1121l-9-26-10-31-9-37-8-42-9-48-9-53-9-60-8-70 8-15 31 32 31 23 31 16 31 9 32 4 32-3 33-10 34-19 7 49 8 41 9 33 9 27 10 21 10 16 11 8 12 0-25 43-25 34-23 27-24 22-23 15-23 9-23 2-22-6-36 19-36 9-35 1-34-6-35-12-34-19-35-27 22 25 21 16 20 10 21 5 20 0 21-6 20-10z" fill="#100c00" fill-opacity="0.24"/>
<path d="M1938 1121l-6-26-5-31-5-36-5-41-5-46-5-52-4-58-5-66 32 25 33 18 32 11 33 4 33-2 34-10 35-20 7 49 8 41 9 33 9 27 10 21 10 16 11 8 12 0-25 43-25 34-23 27-24 22-23 15-23 9-23 2-22-6-37 19-36 9-35 1-35-6-35-12-34-20 19 19 19 12 19 6 19-1 19-6 18-13z" fill="#100c00" fill-opacity="0.25"/>
<path d="M1938 1121l-1-28-1-35-1-41-1-46-1-53 0-59 0-67 32 17 32 10 32 4 33-3 33-10 35-19 7 49 8 41 9 33 9 27 10 21 10 16 11 8 12 0-25 43-25 34-23 27-24 22-23 15-23 9-23 2-22-6-37 19-36 9-35 1-35-6-35-13 14 15 14 8 14 3 14-4 14-8 14-15z" fill="#100c00" fill-opacity="0.20"/>
<path d="M1938 1121l5-27 5-32 5-39 6-43 5-50 6-55 6-62 30 8 30 2 31-4 31-10 32-18 7 49 8 41 9 33 9 27 10 21 10 16 11 8 12 0-25 43-25 34-23 27-24 22-23 15-23 9-23 2-22-6-35 18-33 9-33 2-33-4 7 12 8 5 8 0 7-5 8-10 8-16z" fill="#100c00" fill-opacity="0.13"/>
<path d="M1996 1164l-27 9-29 2-29-3-27-9-23-14-18-18-11-20-4-23 4-22 11-20 18-17 22-14 27-8 28-3 29 3 26 9 23 14 18 17 12 21 4 22-3 22-11 21-17 17z" fill="#0085e0"/>
<path d="M1985 1164l-30 8-31 0-30-8-25-15-18-19-10-23 0-24 10-23 18-19 25-13 29-7 30 0 30 7 25 14 18 20 10 22 1 24-9 23-18 19z" fill="#0046f1"/>
<path d="M1972 1164l-33 5-33-6-28-14-19-22-6-26 6-25 19-21 27-14 33-5 33 6 27 14 19 21 7 26-6 25-18 21z" fill="#0025fb"/>
<path d="M1957 1161l-36 0-32-14-18-25 0-28 18-24 31-13 36 0 31 14 19 24 0 28-18 24z" fill="#0011f2"/>
<path d="M1951 1152l-25 0-23-10-12-17-1-20 13-17 22-10 26 0 22 10 13 17 0 20-13 17z" fill="#0006db"/>
<path d="M1894 1013l16-6 28-3 29 3 26 9 23 14 18 17 12 21 4 22-3 22-11 21-17 17-23 14-27 9-29 2-29-3-27-9-23-14-4-3 27-1 27-8 27-16-15-29-15-36z" fill="#000010" fill-opacity="0.18"/>
<path d="M1906 1008l4-1 28-3 29 3 26 9 23 14 18 17 12 21 4 22-3 22-11 21-17 17-23 14-27 9-29 2-29-3-27-9-17-9 24-4 23-11 24-18-11-30-10-38z" fill="#000010" fill-opacity="0.24"/>
<path d="M1919 1007l19-3 29 3 26 9 23 14 18 17 12 21 4 22-3 22-11 21-17 17-23 14-27 9-29 2-29-3-27-9-6-3 20-6 20-13 20-20-6-31-7-38z" fill="#000010" fill-opacity="0.25"/>
<path d="M1934 1005l4-1 29 3 26 9 23 14 18 17 12 21 4 22-3 22-11 21-17 17-23 14-27 9-29 2-29-3-20-6 16-8 15-15 16-22-1-31-2-39z" fill="#000010" fill-opacity="0.20"/>
<path d="M1955 1007l12 0 26 9 23 14 18 17 12 21 4 22-3 22-11 21-17 17-23 14-27 9-29 2-29-3 9-10 9-17 9-24 6-31 5-38z" fill="#000010" fill-opacity="0.13"/>
<path d="M2018 1132l-35 18-33 9-33 2-33-4-33-10-33-16-32-23-33-32-8-1-9-8-8-16-8-22-9-28-8-33-8-41-9-50 24 8 24-1 24-8 23-14 23-20 24-27 23-33 24-43 31 32 31 23 31 16 31 9 32 4 32-3 33-10 34-19 7 49 8 41 9 33 9 27 10 21 10 16 11 8 12 0-25 43-25 34-23 27-24 22-23 15-23 9-23 2z" fill="none" stroke="#e62c14" stroke-width="8" stroke-opacity="0.7" stroke-linejoin="round"/>
<path d="M3287 1211l-42 17-39 9-36 2-35-4-34-10-31-17-30-23-28-32-19-1-16-9-14-16-13-23-11-28-10-34-8-41-6-50 18 8 20-3 17 55 18 48 20 43 20 37 22 32 24 26 25 21 26 15 28 10 30 5 31 0 34-7 36-11 38-18-19 5z" fill="#cc102a"/>
<path d="M3288 1218l-28 5-53 14-49 1-45-9-43-20-40-33-16-11-15-11-22-11-19-23-16-34-13-44-10-57 4-22 2-6 28-1 22 69 24 59 26 49 27 41 31 31 32 23 35 15 38 6 41-4 45-12 48-21-26 4z" fill="#f61e12"/>
<path d="M3280 1224l-29 6-19 2-51 7-46-4-44-15-41-26-8-5-26-16-22-18-6-5-21-17-17-29-14-38-12-50 0-15 5-22 7-20 17-3 22 69 24 59 26 49 27 41 31 31 32 23 35 15 38 6 41-4 45-12 48-21-16 4z" fill="#ff4400"/>
<path d="M3293 1223l-29 8-31 5-30 1-46 1-44-9-41-19-27-13-26-17-24-19-19-19-18-23-15-32-13-42-1-22 3-24 7-22 11-20 3-1 22 69 24 59 26 49 27 41 31 31 32 23 35 15 38 6 41-4 45-12 48-21-3 1z" fill="#ff6c00"/>
<path d="M3311 1217l-26 11-28 7-29 5-31 1-31-1-31-5-31-8-29-11-28-14-25-16-23-18-20-20-16-21-13-23-9-23-5-23-1-23 3-23 7-22 11-20 1-1 21 65 24 56 25 47 27 38 29 31 32 22 33 14 37 6 40-2 42-10 46-19z" fill="#ff9200"/>
<path d="M3300 1223l-28 10-31 7-31 4-33 0-33-4-32-8-31-10-30-14-27-17-23-19-21-22-16-22-12-24-8-25-3-24 1-24 6-24 11-22 2-3 23 67 25 57 28 46 29 38 33 28 34 19 38 10 41 1 44-9 48-18z" fill="#ffb200"/>
<path d="M3292 1226l-27 10-29 7-30 3-32 0-31-4-32-7-30-10-28-13-26-17-23-18-19-21-16-22-12-23-7-23-3-24 1-23 6-23 10-21 1-1 23 62 24 53 27 44 29 36 31 27 33 18 36 11 39 1 42-7 46-16z" fill="#ffd700"/>
<path d="M3284 1229l-25 10-28 6-30 4-30-1-30-3-30-7-29-10-27-13-25-15-22-18-19-20-15-21-11-22-7-23-3-22 1-23 6-21 9-21 1 0 22 58 23 50 26 42 28 33 30 26 32 18 34 10 37 2 40-5 43-14z" fill="#fff200"/>
<path d="M3272 1234l-28 10-30 5-31 2-32-2-32-6-30-10-29-13-27-16-23-19-19-21-15-23-10-23-6-24 0-24 4-23 9-22 1-2 24 59 26 50 28 41 30 32 33 23 36 15 38 6 41-4 45-12z" fill="#e8f800"/>
<path d="M3264 1237l-26 9-29 5-30 2-30-2-30-6-30-9-27-13-25-15-22-18-18-20-15-22-10-22-5-23-1-23 4-22 9-21 0-1 23 55 25 47 27 38 29 30 31 22 34 14 36 6 39-2 42-10z" fill="#b0ec08"/>
<path d="M3251 1241l-29 8-30 5-32-1-32-4-32-9-29-13-26-16-23-19-19-21-14-23-9-24-3-24 3-24 7-22 2-3 25 56 27 46 30 37 32 28 34 19 37 10 41 1 43-8z" fill="#60e418"/>
<path d="M3243 1243l-27 8-29 4-30-1-30-4-30-8-27-12-25-15-22-18-18-21-13-21-8-23-3-23 2-22 7-21 1-1 24 51 26 42 27 34 31 26 32 18 35 10 37 2 41-6z" fill="#21e027"/>
<path d="M3229 1246l-29 7-32 2-32-2-31-8-30-11-26-16-23-19-18-22-12-23-6-25 0-24 6-22 1-3 26 51 29 42 30 32 33 24 36 14 39 6 42-4z" fill="#0ae043"/>
<path d="M3213 1249l-32 6-33-1-34-6-32-11-28-17-24-20-18-24-10-25-4-26 4-24 3-5 24 44 26 37 29 29 30 22 33 14 35 6 38-1z" fill="#00e080"/>
<path d="M3205 1249l-29 5-31 0-31-6-29-10-26-16-22-18-16-22-10-23-3-24 4-23 0-1 27 44 29 36 31 27 33 18 36 11 39 1z" fill="#00debc"/>
<path d="M3188 1250l-31 3-33-4-31-10-28-15-23-20-15-24-8-24 1-25 2-3 28 43 32 34 34 24 37 14 40 6z" fill="#00d8e7"/>
<path d="M3096 1216l27 16 28 11 30 5 32 0 34-6 36-12 39-18-19 5-16-6-42 17-39 9-36 2-35-4-34-10-31-17-30-23-28-32-9 1 11 29 14 18 15 13 17 6 17 1z" fill="#100c00" fill-opacity="0.18"/>
<path d="M3102 1220l26 15 27 9 30 4 31-1 33-6 35-12 38-17-19 5-16-6-44 18-41 9-38 1-37-6-34-12-33-19-31-28 8 25 10 16 12 9 13 5 14-2z" fill="#100c00" fill-opacity="0.24"/>
<path d="M3107 1224l26 13 27 8 29 4 30-2 32-6 35-12 36-17-19 5-16-6-44 18-42 9-38 1-37-6-35-13-33-20 5 17 7 11 7 7 9 1 10-4z" fill="#100c00" fill-opacity="0.25"/>
<path d="M3114 1228l29 13 32 6 33 1 35-5 38-12 41-19-19 5-16-6-44 18-42 9-39 1-37-7-35-12 2 14 3 8 5 1 6-5z" fill="#100c00" fill-opacity="0.20"/>
<path d="M3125 1233l28 11 30 4 31 0 34-7 36-11 38-18-19 5-16-6-42 17-39 9-36 2-35-4-5 10-4 6-2-1 0-6z" fill="#100c00" fill-opacity="0.13"/>
<path d="M3154 1251l-30-3-29-9-25-15-20-18-15-21-6-23 0-21 26 36 29 29 30 22 33 14 34 6z" fill="#0085e0"/>
<path d="M3166 1247l-31 0-32-8-27-15-21-20-13-23-4-24 1-2 28 36 32 27 33 19 36 10z" fill="#0046f1"/>
<path d="M3147 1244l-34-6-30-15-22-22-11-26 1-3 31 33 34 24 36 14z" fill="#0025fb"/>
<path d="M3125 1236l-34-15-22-25-1-4 31 26 32 18z" fill="#0011f2"/>
<path d="M3181 1248l-27 3-30-3-29-9-25-15-4-3 15 0 15-5 27 16 28 11z" fill="#000010" fill-opacity="0.18"/>
<path d="M3181 1248l-27 3-30-3-29-9-18-10 12-3 13-6 25 14 26 10z" fill="#000010" fill-opacity="0.24"/>
<path d="M3181 1248l-27 3-30-3-29-9-7-4 9-4 10-7 24 12 24 8z" fill="#000010" fill-opacity="0.25"/>
<path d="M3181 1248l-27 3-30-3-21-7 5-5 6-8 33 14z" fill="#000010" fill-opacity="0.20"/>
<path d="M3181 1248l-27 3-30-3 1-15 27 10z" fill="#000010" fill-opacity="0.13"/>
<path d="M3287 1211l-42 17-39 9-36 2-35-4-34-10-31-17-30-23-28-32-19-1-16-9-14-16-13-23-11-28-10-34-8-41-6-50 18 8 20-3 17 55 18 48 20 43 20 37 22 32 24 26 25 21 26 15 28 10 30 5 31 0 34-7 36-11 38-18-19 5z" fill="none" stroke="#e62c14" stroke-width="8" stroke-opacity="0.7" stroke-linejoin="round"/>
<path d="M1555 1226l-32 17-33 9-32 2-33-5-33-10-33-16-34-23-35-32-5-1-5-10-7-16-6-22-8-28-8-35-8-41-9-50 27 8 26-2 26-8 25-15 24-20 24-27 23-34 22-43 33 32 33 23 32 16 31 10 32 3 31-2 32-10 31-19 9 50 8 41 8 33 9 28 8 22 8 16 9 8 8 1-24 43-25 35-24 27-24 22-25 16-25 10-25 2z" fill="#cc102a"/>
<path d="M1563 1232l-29 6-43 14-43 1-44-9-45-21-45-32-15-12-12-11-8-11-8-23-9-34-11-44-11-57 8-22 4-6 35 0 34-13 33-23 31-34 31-47 9-3 28-5 43 33 43 20 42 9 42-2 42-15 14 9 13 12 11 56 11 44 11 32 11 23 11 10-7 22-3 7-33 48-32 35-33 25-33 15-34 1z" fill="#f61e12"/>
<path d="M1561 1239l-30 6-19 2-43 7-44-5-44-14-44-26-8-5-22-16-19-18-5-5-8-18-8-28-10-39-11-50 3-15 9-22 11-20 35-7 34-18 32-29 31-41 27-7 29-5 19-1 42 26 43 14 41 3 42-8 7 3 22 15 20 17 5 7 11 49 11 38 11 28 11 16-3 14-7 23-11 21-32 42-33 30-33 20-34 8z" fill="#ff4400"/>
<path d="M1581 1238l-31 8-32 5-30 1-42 1-42-9-42-19-25-14-23-16-20-19-15-20-8-22-9-33-10-42 4-22 7-24 12-23 14-19 33-13 31-22 31-33 26-9 30-8 31-4 28-1 41 18 41 9 40-2 24 12 23 16 20 18 16 19 10 41 11 32 11 22-3 22-6 24-11 23-13 21-32 34-31 24-32 14z" fill="#ff6c00"/>
<path d="M1632 1219l-26 13-28 11-30 7-30 5-31 1-31-2-31-5-29-8-27-10-25-14-22-16-19-18-16-20-12-22-8-22-5-23 0-24 3-23 8-23 11-22 15-20 18-19 21-17 23-15 26-12 27-10 29-7 29-4 30-1 29 1 29 5 28 7 27 10 24 13 23 15 19 17 16 19 13 21 10 22 5 23 2 23-3 23-6 24-10 22-14 21-17 20-21 18z" fill="#ff9200"/>
<path d="M1626 1224l-28 14-30 10-32 7-32 4-33-1-32-3-31-8-29-11-27-14-23-17-21-19-16-21-12-23-7-24-3-24 2-25 6-24 11-24 14-22 19-20 21-18 25-15 27-13 30-10 30-6 31-3 32 0 31 3 30 7 28 10 26 13 23 16 21 18 16 21 13 22 9 23 4 25 0 24-5 25-10 24-14 22-18 22-21 19z" fill="#ffb200"/>
<path d="M1621 1228l-27 13-28 10-31 7-31 3-32 0-31-4-29-7-28-10-26-14-23-16-19-19-16-20-11-22-7-23-3-24 1-24 6-23 11-23 14-21 17-19 21-18 24-15 26-12 29-9 29-6 30-4 30 1 30 3 29 7 27 9 25 13 23 15 20 18 16 20 12 21 8 23 4 23 0 24-5 23-9 23-14 22-17 21-21 18z" fill="#ffd700"/>
<path d="M1617 1231l-26 13-28 10-29 6-30 3-30 0-30-3-29-7-27-10-24-13-22-16-19-18-14-19-11-21-7-23-3-22 1-23 6-23 10-21 13-21 17-19 21-16 22-15 26-11 27-10 28-6 29-2 29 0 29 3 27 6 26 10 25 12 21 15 19 17 16 18 11 21 8 22 4 22 0 23-5 23-9 22-13 21-16 20-20 17z" fill="#fff200"/>
<path d="M1610 1236l-28 13-30 9-31 6-31 2-32-2-31-7-28-9-27-13-23-17-19-19-15-21-11-22-6-24-1-24 4-24 9-23 13-22 18-20 21-18 24-15 27-12 29-9 30-5 31-2 30 2 30 6 28 9 26 13 23 15 19 18 16 20 11 22 7 24 2 24-3 24-8 23-12 23-17 21-21 18z" fill="#e8f800"/>
<path d="M1605 1239l-26 12-29 9-29 6-31 1-30-2-29-5-27-10-25-12-23-16-18-18-14-20-11-21-5-23-1-23 4-23 8-22 13-21 16-19 20-17 24-15 25-11 28-8 28-5 30-2 29 2 28 5 27 9 25 12 21 15 19 17 15 19 11 21 6 22 2 23-2 23-8 23-12 21-16 20-20 18z" fill="#b0ec08"/>
<path d="M1597 1243l-28 13-30 8-32 4-32 0-31-5-30-8-26-13-24-16-19-19-15-22-9-23-4-24 1-24 7-24 12-23 17-20 21-18 25-15 27-12 30-8 30-4 31 0 31 5 28 8 27 12 23 15 20 19 15 21 10 22 5 24-1 24-6 24-11 23-16 22-21 18z" fill="#60e418"/>
<path d="M1592 1246l-27 11-28 8-30 4-30 0-30-4-27-9-26-12-22-15-18-18-14-20-9-22-4-23 2-23 6-22 12-22 16-19 19-17 24-14 26-11 27-8 29-4 30 1 28 4 27 7 25 12 22 14 19 18 14 19 10 22 4 22 0 23-6 23-11 22-15 20-20 18z" fill="#21e027"/>
<path d="M1583 1249l-28 12-31 7-31 2-32-3-30-7-27-12-24-16-19-19-13-22-8-23-1-24 4-25 10-22 16-21 21-19 25-15 28-11 29-6 31-2 31 2 29 7 27 11 23 16 19 18 15 21 8 23 3 25-4 24-10 23-15 22-21 19z" fill="#0ae043"/>
<path d="M1574 1252l-30 12-34 5-33 0-33-6-29-12-26-16-19-21-14-23-6-26 2-26 9-24 15-23 22-20 27-16 30-10 32-6 33 1 31 5 29 11 26 16 20 20 13 23 7 25-1 26-8 25-15 24-21 20z" fill="#00e080"/>
<path d="M1568 1253l-28 10-30 5-31 0-30-5-27-11-23-15-18-19-12-22-6-23 1-24 8-23 15-21 20-18 24-14 28-10 29-5 30 0 29 6 27 10 23 14 19 19 12 21 7 23-1 24-7 23-14 21-20 19z" fill="#00debc"/>
<path d="M1558 1255l-30 9-33 3-32-3-29-10-25-16-19-20-11-23-2-25 5-25 14-23 20-19 26-15 30-9 31-3 32 3 29 10 24 15 19 20 12 23 3 24-5 25-13 23-20 20z" fill="#00d8e7"/>
<path d="M1501 1209l-13-28-13-34-14-40-14-46-15-53-15-60-16-69 30-55 33 32 33 23 32 16 31 10 32 3 31-2 32-10 31-19 9 50 8 41 8 33 9 28 8 22 8 16 9 8 8 1-24 43-25 35-24 27-24 22-25 16-25 10-25 2-26-5-32 17-33 9-32 2-33-5-33-10-33-16-34-23-35-32-2 1 30 28 28 18 28 12 27 7 26 1 25-3 25-9z" fill="#100c00" fill-opacity="0.18"/>
<path d="M1501 1209l-8-26-9-32-9-37-9-43-10-48-10-54-10-59-12-71 7-15 33 32 33 23 32 16 31 10 32 3 31-2 32-10 31-19 9 50 8 41 8 33 9 28 8 22 8 16 9 8 8 1-24 43-25 35-24 27-24 22-25 16-25 10-25 2-26-5-34 18-34 8-34 1-35-5-35-12-35-20-36-27 26 24 26 15 24 10 24 5 23-1 23-6 22-11z" fill="#100c00" fill-opacity="0.24"/>
<path d="M1501 1209l-4-26-5-32-5-36-5-42-6-47-6-52-6-58-7-66 34 25 33 18 32 11 33 4 32-2 33-10 32-19 9 50 8 41 8 33 9 28 8 22 8 16 9 8 8 1-24 43-25 35-24 27-24 22-25 16-25 10-25 2-26-5-35 18-34 9-34 0-35-6-35-12-36-20 25 19 23 11 23 5 22-1 21-8 21-13z" fill="#100c00" fill-opacity="0.25"/>
<path d="M1501 1209l0-29 0-35-1-41-1-47-2-53-2-60-2-67 33 17 32 10 32 4 32-2 32-10 32-19 9 50 8 41 8 33 9 28 8 22 8 16 9 8 8 1-24 43-25 35-24 27-24 22-25 16-25 10-25 2-26-5-35 18-34 9-35 0-35-6-35-12 19 13 19 8 17 2 17-4 17-10 16-14z" fill="#100c00" fill-opacity="0.20"/>
<path d="M1501 1209l6-27 6-34 5-38 6-44 4-50 5-56 4-62 30 8 30 2 30-3 29-10 30-18 9 50 8 41 8 33 9 28 8 22 8 16 9 8 8 1-24 43-25 35-24 27-24 22-25 16-25 10-25 2-26-5-32 17-33 9-32 2-33-5 13 11 12 5 11 0 11-6 10-12 10-16z" fill="#100c00" fill-opacity="0.13"/>
<path d="M1553 1254l-27 8-30 3-29-3-27-9-23-14-17-19-10-21-2-23 5-22 12-21 19-18 23-13 27-9 29-2 29 3 26 9 23 13 17 18 11 21 3 23-5 22-12 22-18 18z" fill="#0085e0"/>
<path d="M1543 1254l-30 7-32 0-30-8-24-14-18-20-8-24 1-24 11-23 19-20 26-14 30-7 31 0 29 8 25 14 17 20 9 23 0 24-11 24-19 19z" fill="#0046f1"/>
<path d="M1531 1253l-33 5-34-5-27-15-18-23-5-26 8-25 20-22 28-14 33-5 33 5 27 15 18 22 6 26-7 25-20 22z" fill="#0025fb"/>
<path d="M1517 1250l-37 0-31-15-17-25 1-28 20-25 32-14 36 1 31 14 17 25-1 28-19 25z" fill="#0011f2"/>
<path d="M1513 1241l-26 0-22-11-13-17 1-21 14-17 23-10 25 0 22 11 13 17-1 20-14 18z" fill="#0006db"/>
<path d="M1458 1099l16-6 29-2 29 3 26 9 23 13 17 18 11 21 3 23-5 22-12 22-18 18-24 14-27 8-30 3-29-3-27-9-23-14-3-4 30-1 29-9 28-16-14-30-14-36z" fill="#000010" fill-opacity="0.18"/>
<path d="M1471 1095l3-2 29-2 29 3 26 9 23 13 17 18 11 21 3 23-5 22-12 22-18 18-24 14-27 8-30 3-29-3-27-9-17-10 27-4 26-12 25-18-9-31-11-38z" fill="#000010" fill-opacity="0.24"/>
<path d="M1484 1093l19-2 29 3 26 9 23 13 17 18 11 21 3 23-5 22-12 22-18 18-24 14-27 8-30 3-29-3-27-9-6-3 23-7 23-13 21-21-5-32-6-38z" fill="#000010" fill-opacity="0.25"/>
<path d="M1499 1091l4 0 29 3 26 9 23 13 17 18 11 21 3 23-5 22-12 22-18 18-24 14-27 8-30 3-29-3-20-6 19-9 18-15 17-23 0-32-1-39z" fill="#000010" fill-opacity="0.20"/>
<path d="M1520 1093l12 1 26 9 23 13 17 18 11 21 3 23-5 22-12 22-18 18-24 14-27 8-30 3-29-3 12-11 11-17 11-25 7-32 7-38z" fill="#000010" fill-opacity="0.13"/>
<path d="M1555 1226l-32 17-33 9-32 2-33-5-33-10-33-16-34-23-35-32-5-1-5-10-7-16-6-22-8-28-8-35-8-41-9-50 27 8 26-2 26-8 25-15 24-20 24-27 23-34 22-43 33 32 33 23 32 16 31 10 32 3 31-2 32-10 31-19 9 50 8 41 8 33 9 28 8 22 8 16 9 8 8 1-24 43-25 35-24 27-24 22-25 16-25 10-25 2z" fill="none" stroke="#e62c14" stroke-width="8" stroke-opacity="0.7" stroke-linejoin="round"/>
<path d="M2834 1306l-40 17-38 9-36 1-34-4-34-10-32-17-32-23-30-32-15-1-13-11-12-16-12-23-10-29-9-34-9-42-7-50 19 7 20-2 21-9 22-15 22-21 24-27 25-34 26-43 28 32 30 23 31 16 32 10 34 4 35-3 36-9 39-19 6 50 8 41 10 34 11 28 13 23 14 16 16 9 19 1-28 44-26 35-24 28-23 21-21 17-20 10-19 3z" fill="#cc102a"/>
<path d="M2837 1312l-29 6-51 14-48 0-45-9-44-20-42-33-16-12-14-11-18-12-16-24-15-34-13-45-10-57 5-23 3-6 26 0 28-13 30-24 31-35 33-47 8-3 28-5 40 33 41 20 44 9 46-2 49-14 16 9 15 12 10 57 14 44 16 33 18 23 22 11-4 22-2 8-35 48-32 36-29 25-27 15-25 2z" fill="#f61e12"/>
<path d="M2830 1319l-29 5-20 3-49 6-46-4-45-15-42-26-8-5-25-16-22-19-5-5-18-18-15-29-13-40-12-50 1-15 6-23 8-20 28-7 29-19 30-29 33-41 25-8 29-5 18-1 41 26 42 14 45 4 48-8 7 3 25 15 22 18 6 6 12 50 14 38 17 29 21 17-1 14-4 23-8 22-33 42-31 30-28 21-26 9z" fill="#ff4400"/>
<path d="M2845 1318l-30 8-31 4-30 2-46 0-44-9-42-19-26-14-26-17-23-19-18-20-16-23-13-33-13-42 1-24 4-24 8-23 12-20 27-13 28-23 30-32 25-10 29-8 31-4 29-1 40 18 42 9 44-1 26 12 25 16 23 18 19 19 13 42 15 32 18 23 1 23-3 24-7 24-11 21-30 34-28 24-27 15z" fill="#ff6c00"/>
<path d="M2890 1298l-25 13-26 11-29 8-30 4-32 2-31-2-31-5-31-8-29-11-27-14-25-17-22-18-19-21-15-21-12-23-7-24-4-24 0-23 4-24 8-22 12-21 15-19 19-17 21-15 24-13 26-10 28-7 29-4 30-1 30 1 30 5 30 7 28 11 27 13 24 15 22 18 19 19 17 21 12 22 9 24 5 23 1 24-3 24-7 22-11 22-14 20-19 18z" fill="#ff9200"/>
<path d="M2880 1303l-26 14-28 10-31 7-32 4-33 0-34-4-32-8-31-11-29-14-26-17-23-20-19-21-16-24-11-24-6-25-2-25 2-25 8-24 11-22 16-21 19-18 23-16 26-13 28-9 29-7 31-3 32 0 32 3 31 7 30 11 28 13 26 16 23 19 20 20 16 23 13 24 7 25 4 25-2 25-6 24-11 23-15 22-19 19z" fill="#ffb200"/>
<path d="M2873 1306l-25 14-28 10-29 7-31 3-32 0-32-4-31-7-30-11-28-13-25-17-22-19-19-21-15-22-10-24-7-24-2-24 3-24 7-23 11-21 15-20 19-18 22-15 24-12 27-10 29-6 30-3 30 0 31 3 30 7 29 10 27 13 25 15 23 18 19 20 15 22 12 23 7 24 3 24-1 24-6 24-10 22-15 21-18 18z" fill="#ffd700"/>
<path d="M2865 1310l-24 13-26 9-29 7-30 3-30 0-31-4-29-7-29-10-27-13-24-16-21-18-18-20-15-21-10-23-6-23-2-24 3-22 6-22 11-21 15-19 18-17 21-15 23-12 26-9 28-6 29-3 29 0 29 3 29 7 28 9 26 13 24 15 22 17 18 19 15 21 11 22 7 23 3 23-1 24-6 22-10 21-14 20-17 18z" fill="#fff200"/>
<path d="M2855 1314l-25 13-29 10-30 6-32 1-32-2-32-6-31-10-28-13-26-17-22-19-18-21-14-23-10-25-4-24 0-24 6-24 10-22 15-21 18-18 23-15 25-12 28-9 30-6 30-1 31 2 31 6 30 9 27 12 26 16 22 18 19 21 15 22 10 24 6 25 0 24-4 24-10 23-14 21-18 19z" fill="#e8f800"/>
<path d="M2848 1317l-25 13-27 9-29 5-31 2-30-2-31-6-29-9-27-13-24-16-22-18-17-21-13-22-9-23-4-23 0-23 5-23 10-21 14-20 18-17 21-15 24-11 27-9 28-5 29-2 30 2 29 6 28 9 27 12 24 15 22 17 18 20 14 21 9 23 6 23 0 24-4 23-9 21-13 21-18 18z" fill="#b0ec08"/>
<path d="M2837 1321l-26 13-30 8-31 5-32-1-32-4-32-9-29-13-26-17-22-19-18-22-12-23-8-25-2-25 4-24 9-23 14-21 18-18 23-15 26-12 28-8 31-4 31 0 31 4 30 9 29 12 26 15 22 19 18 21 14 23 8 25 3 24-2 25-9 23-13 22-18 19z" fill="#60e418"/>
<path d="M2829 1323l-25 12-28 8-30 4-30 0-30-4-30-9-27-12-24-15-21-19-17-20-12-23-7-23-2-23 3-23 8-22 14-20 17-17 22-15 24-11 27-7 29-4 29 0 30 4 28 8 27 12 24 15 22 17 17 20 12 22 8 23 3 23-2 23-8 23-13 20-17 18z" fill="#21e027"/>
<path d="M2817 1327l-27 12-30 7-31 2-32-3-32-7-29-12-26-17-22-19-17-22-11-24-5-25 1-24 7-24 13-21 19-19 22-15 27-11 29-7 31-2 31 3 30 7 29 11 26 16 22 19 17 21 12 24 6 24 0 25-6 24-13 22-18 19z" fill="#0ae043"/>
<path d="M2805 1330l-29 11-33 6-34 0-34-6-31-12-28-17-23-21-17-24-9-26-2-26 5-25 12-24 19-20 25-16 29-11 31-5 33 0 33 6 31 11 28 17 23 20 17 23 11 26 3 26-5 26-12 23-18 21z" fill="#00e080"/>
<path d="M2796 1330l-27 11-30 5-31 0-31-6-29-11-26-15-21-20-15-22-9-23-2-24 5-24 12-21 17-18 22-15 27-10 29-5 30 0 31 5 28 11 26 15 21 18 15 22 10 23 3 24-4 24-11 22-18 19z" fill="#00debc"/>
<path d="M2782 1332l-29 9-32 4-33-4-31-10-27-16-22-21-15-23-6-26 2-25 10-23 18-20 24-15 29-9 32-3 32 3 30 10 27 15 22 20 15 24 7 25-1 25-10 24-18 20z" fill="#00d8e7"/>
<path d="M2704 1285l-16-29-15-34-14-41-12-46-12-54-11-60-9-68 35-56 28 32 30 23 31 16 32 10 34 4 35-3 36-9 39-19 6 50 8 41 10 34 11 28 13 23 14 16 16 9 19 1-28 44-26 35-24 28-23 21-21 17-20 10-19 3-17-5-40 17-38 9-36 1-34-4-34-10-32-17-32-23-30-32-7 1 16 27 18 17 18 12 19 7 19 1 20-4 21-9z" fill="#100c00" fill-opacity="0.18"/>
<path d="M2704 1285l-12-27-10-33-9-37-8-43-8-48-6-54-6-60-4-71 9-15 28 32 30 23 31 16 32 10 34 4 35-3 36-9 39-19 6 50 8 41 10 34 11 28 13 23 14 16 16 9 19 1-28 44-26 35-24 28-23 21-21 17-20 10-19 3-17-5-42 18-40 8-37 1-37-6-35-12-34-19-32-28 13 24 14 14 15 10 15 4 17-2 16-6 18-11z" fill="#100c00" fill-opacity="0.24"/>
<path d="M2704 1285l-8-27-6-32-5-37-5-42-4-47-2-52-2-59-1-66 31 25 32 18 33 11 34 5 36-2 38-10 40-19 6 50 8 41 10 34 11 28 13 23 14 16 16 9 19 1-28 44-26 35-24 28-23 21-21 17-20 10-19 3-17-5-42 18-40 8-38 1-37-6-35-13-34-20 11 18 11 11 13 4 14-2 15-7 15-14z" fill="#100c00" fill-opacity="0.25"/>
<path d="M2704 1285l-3-30-3-36-1-41 0-47 2-54 2-60 3-67 32 17 33 10 34 5 35-3 37-9 40-19 6 50 8 41 10 34 11 28 13 23 14 16 16 9 19 1-28 44-26 35-24 28-23 21-21 17-20 10-19 3-17-5-43 18-40 8-38 1-37-6-35-13 6 13 7 7 8 1 9-5 10-9 11-16z" fill="#100c00" fill-opacity="0.20"/>
<path d="M2704 1285l3-29 4-33 5-39 7-44 7-50 8-56 10-63 31 8 31 3 33-3 35-10 37-18 6 50 8 41 10 34 11 28 13 23 14 16 16 9 19 1-28 44-26 35-24 28-23 21-21 17-20 10-19 3-17-5-40 17-38 9-36 1-34-4-1 10 1 4 2-1 2-7 4-11 4-17z" fill="#100c00" fill-opacity="0.13"/>
<path d="M2775 1331l-27 8-29 3-30-3-29-9-24-15-20-18-13-22-6-23 2-23 9-21 16-18 22-14 26-8 29-3 29 3 28 9 25 14 20 18 14 21 6 23-1 23-9 22-16 18z" fill="#0085e0"/>
<path d="M2762 1331l-30 7-32 0-31-8-27-15-20-20-12-24-2-25 7-23 17-20 24-14 29-8 32 0 30 8 27 15 21 20 12 23 3 25-7 24-17 20z" fill="#0046f1"/>
<path d="M2747 1330l-33 5-34-6-30-15-21-23-9-26 4-26 17-22 27-15 33-5 33 6 30 15 21 22 10 26-4 26-17 23z" fill="#0025fb"/>
<path d="M2730 1326l-37 0-34-15-20-25-3-29 16-25 31-14 36 0 34 15 21 25 3 29-16 25z" fill="#0011f2"/>
<path d="M2722 1317l-26 0-24-11-15-18-2-20 12-18 21-10 26 0 24 11 15 17 2 21-12 18z" fill="#0006db"/>
<path d="M2657 1173l15-5 29-3 29 3 28 9 25 14 20 18 14 21 6 23-1 23-9 22-16 18-22 15-27 8-29 3-30-3-29-9-24-15-4-3 23-2 24-9 25-16-17-31-16-37z" fill="#000010" fill-opacity="0.18"/>
<path d="M2669 1169l3-1 29-3 29 3 28 9 25 14 20 18 14 21 6 23-1 23-9 22-16 18-22 15-27 8-29 3-30-3-29-9-18-10 20-5 20-12 22-18-13-32-12-39z" fill="#000010" fill-opacity="0.24"/>
<path d="M2682 1167l19-2 29 3 28 9 25 14 20 18 14 21 6 23-1 23-9 22-16 18-22 15-27 8-29 3-30-3-29-9-6-4 15-7 17-14 18-20-9-33-7-39z" fill="#000010" fill-opacity="0.25"/>
<path d="M2697 1165l4 0 29 3 28 9 25 14 20 18 14 21 6 23-1 23-9 22-16 18-22 15-27 8-29 3-30-3-21-6 11-10 12-16 13-22-4-33-2-40z" fill="#000010" fill-opacity="0.20"/>
<path d="M2719 1167l11 1 28 9 25 14 20 18 14 21 6 23-1 23-9 22-16 18-22 15-27 8-29 3-30-3 4-11 5-18 6-25 3-33 5-39z" fill="#000010" fill-opacity="0.13"/>
<path d="M2834 1306l-40 17-38 9-36 1-34-4-34-10-32-17-32-23-30-32-15-1-13-11-12-16-12-23-10-29-9-34-9-42-7-50 19 7 20-2 21-9 22-15 22-21 24-27 25-34 26-43 28 32 30 23 31 16 32 10 34 4 35-3 36-9 39-19 6 50 8 41 10 34 11 28 13 23 14 16 16 9 19 1-28 44-26 35-24 28-23 21-21 17-20 10-19 3z" fill="none" stroke="#e62c14" stroke-width="8" stroke-opacity="0.7" stroke-linejoin="round"/>
<path d="M1081 1321l-30 17-30 9-32 1-32-4-33-10-34-17-36-23-37-32-1-2-3-10-4-17-5-23-6-28-8-35-9-42-10-50 31 7 29-2 28-9 26-15 25-21 24-27 23-34 22-43 35 32 34 23 33 16 32 10 31 4 30-3 30-9 30-19 9 50 8 41 8 35 8 28 6 22 7 16 5 10 5 1-23 44-24 35-25 28-25 21-27 17-27 10-28 3z" fill="#cc102a"/>
<path d="M1092 1328l-30 5-41 14-42 1-43-10-46-20-48-33-14-12-12-11-3-12-6-24-7-34-10-45-12-58 10-22 4-6 39-1 37-13 34-24 32-35 30-47 9-3 29-5 45 33 44 20 42 9 41-2 40-14 14 9 12 12 12 57 10 44 9 34 9 23 7 10-9 23-4 7-31 49-33 36-35 25-36 15-38 3z" fill="#f61e12"/>
<path d="M1092 1334l-31 6-20 2-41 7-43-5-44-15-47-26-7-5-21-16-19-19-4-5-5-18-6-30-9-39-10-51 4-15 10-23 12-20 38-7 36-19 33-29 32-41 27-8 30-5 19-1 44 26 43 14 41 4 40-8 7 3 21 15 19 18 5 6 11 50 10 39 8 28 8 18-3 14-9 23-12 21-32 43-34 30-36 21-37 9z" fill="#ff4400"/>
<path d="M1113 1333l-31 8-33 5-31 1-40 0-42-9-43-19-24-14-23-17-19-19-14-20-6-23-7-33-9-43 5-23 9-24 13-23 15-20 35-14 33-23 31-32 28-10 30-8 31-4 30-1 41 18 41 9 39-1 23 12 23 16 19 18 15 19 10 42 9 33 8 22-4 23-7 25-12 24-15 21-32 34-33 24-35 15z" fill="#ff6c00"/>
<path d="M1168 1313l-27 13-29 11-31 8-31 4-31 2-32-2-30-5-29-8-27-11-24-14-22-17-18-18-15-21-11-22-7-23-3-23 1-24 5-24 8-23 13-22 16-21 19-20 22-17 24-15 27-13 28-10 29-7 30-4 31-2 29 2 30 5 27 7 27 11 24 13 21 15 19 18 15 19 12 21 9 23 4 23 0 24-3 24-8 23-11 23-16 22-19 20-21 18z" fill="#ff9200"/>
<path d="M1162 1318l-29 14-31 10-32 7-33 4-33 0-32-4-31-8-29-11-26-14-23-17-19-20-15-22-11-23-6-25-2-25 3-25 8-25 12-23 16-23 19-20 23-19 26-16 28-13 30-10 32-6 31-3 32 0 31 3 30 7 28 11 26 13 23 16 19 19 16 21 12 22 7 24 3 25-2 25-6 25-11 25-15 23-20 21-23 20z" fill="#ffb200"/>
<path d="M1159 1321l-28 14-30 10-31 7-32 3-31 0-31-4-30-7-28-11-25-13-22-17-19-19-14-21-11-22-6-24-1-24 3-24 7-24 11-23 16-22 19-20 22-18 25-15 27-12 29-10 30-6 31-3 30 0 30 3 29 7 27 10 25 13 22 15 18 18 16 20 11 22 7 23 3 24-2 25-6 24-11 23-14 23-19 20-22 19z" fill="#ffd700"/>
<path d="M1155 1325l-26 13-29 9-30 7-30 3-31 0-30-3-28-8-27-10-24-13-21-16-18-18-14-20-10-22-6-23-1-23 2-23 7-23 11-22 15-21 18-19 22-17 24-15 26-12 27-9 29-6 30-3 29 0 29 3 28 7 26 9 23 13 21 15 19 17 14 19 11 21 7 23 2 23-1 23-6 23-10 23-14 21-18 20-21 18z" fill="#fff200"/>
<path d="M1149 1329l-28 13-31 10-31 6-33 1-31-2-31-6-29-10-25-13-23-17-19-19-14-22-9-23-5-24 1-25 5-24 10-24 15-22 18-21 23-18 25-15 28-12 29-9 31-6 31-1 31 2 29 5 28 10 26 12 22 16 19 19 15 20 10 23 6 24 0 24-4 25-9 24-14 23-18 21-22 19z" fill="#e8f800"/>
<path d="M1145 1332l-27 13-29 9-30 5-31 2-30-2-29-6-27-10-25-12-21-16-18-19-14-20-9-22-4-23 0-24 5-23 10-23 14-21 18-20 21-17 24-15 27-11 28-9 29-5 30-2 29 2 28 6 27 9 24 12 22 15 17 17 15 20 9 22 6 22 0 24-4 23-8 23-14 22-17 20-21 19z" fill="#b0ec08"/>
<path d="M1139 1336l-29 13-31 8-32 5-33-1-31-4-29-9-27-13-23-17-18-19-14-22-8-24-3-25 3-24 9-25 13-23 18-21 22-18 26-15 28-12 30-8 32-4 31 0 30 4 29 9 26 12 23 16 18 18 14 22 10 23 3 24-2 25-7 24-13 24-17 22-22 19z" fill="#60e418"/>
<path d="M1135 1338l-28 12-29 8-30 4-31 0-29-4-28-9-25-12-22-16-17-18-13-21-8-22-2-23 2-24 8-23 13-22 17-19 21-18 24-14 27-12 29-7 29-4 29 0 29 4 27 8 25 12 21 15 18 17 13 20 9 22 3 23-1 24-7 23-12 22-17 21-21 18z" fill="#21e027"/>
<path d="M1127 1342l-29 11-31 8-32 2-32-3-30-7-27-13-23-16-18-19-13-23-6-24-1-24 6-25 12-23 17-22 22-18 26-16 29-11 30-7 31-2 31 3 29 7 27 11 23 16 18 19 13 22 7 23 2 25-5 24-11 24-17 22-22 20z" fill="#0ae043"/>
<path d="M1119 1344l-32 12-33 6-34 0-33-7-29-12-25-17-19-21-12-24-4-25 2-27 11-25 17-24 23-20 27-16 31-10 33-6 33 0 32 6 29 11 24 17 19 20 13 24 6 25-2 26-10 26-16 24-23 21z" fill="#00e080"/>
<path d="M1114 1345l-29 10-30 6-32-1-29-5-27-11-23-16-18-19-11-22-4-24 3-24 9-23 16-22 21-18 25-15 29-10 30-5 30 0 29 6 27 10 22 15 18 19 12 21 5 24-2 24-9 24-15 22-21 19z" fill="#00debc"/>
<path d="M1105 1346l-31 10-33 3-32-3-29-11-25-15-17-21-10-24-2-25 7-25 15-24 22-19 27-16 30-9 32-3 32 3 29 10 24 16 18 20 10 23 2 25-6 26-14 23-22 21z" fill="#00d8e7"/>
<path d="M1056 1299l-13-28-13-35-14-40-15-47-16-54-17-60-19-68 30-56 35 32 34 23 33 16 32 10 31 4 30-3 30-9 30-19 9 50 8 41 8 35 8 28 6 22 7 16 5 10 5 1-23 44-24 35-25 28-25 21-27 17-27 10-28 3-30-5-30 17-30 9-32 1-32-4-33-10-34-17-36-23-37-32-1 1 36 27 33 17 31 12 31 6 28 1 28-4 27-9z" fill="#100c00" fill-opacity="0.18"/>
<path d="M1056 1299l-8-27-8-32-9-38-10-43-11-48-11-54-13-60-14-71 7-15 35 32 34 23 33 16 32 10 31 4 30-3 30-9 30-19 9 50 8 41 8 35 8 28 6 22 7 16 5 10 5 1-23 44-24 35-25 28-25 21-27 17-27 10-28 3-30-5-31 18-32 8-34 1-34-6-35-12-37-19-38-28 32 24 30 14 29 9 27 4 26-1 25-6 24-12z" fill="#100c00" fill-opacity="0.24"/>
<path d="M1056 1299l-4-27-4-32-5-37-6-42-6-47-7-52-9-59-9-67 35 26 34 18 33 11 33 5 31-2 31-10 31-19 9 50 8 41 8 35 8 28 6 22 7 16 5 10 5 1-23 44-24 35-25 28-25 21-27 17-27 10-28 3-30-5-31 18-33 8-34 1-34-6-36-13-37-20 30 18 29 11 26 4 26-2 24-8 23-14z" fill="#100c00" fill-opacity="0.25"/>
<path d="M1056 1299l1-30 0-35-1-42-2-47-2-54-4-60-4-67 33 17 33 10 32 5 31-3 31-9 30-19 9 50 8 41 8 35 8 28 6 22 7 16 5 10 5 1-23 44-24 35-25 28-25 21-27 17-27 10-28 3-30-5-32 18-32 8-34 1-35-6-36-13 25 13 22 6 22 2 20-5 19-10 19-15z" fill="#100c00" fill-opacity="0.20"/>
<path d="M1056 1299l7-28 6-34 6-39 4-44 4-50 4-56 2-63 30 8 30 3 29-3 28-10 28-18 9 50 8 41 8 35 8 28 6 22 7 16 5 10 5 1-23 44-24 35-25 28-25 21-27 17-27 10-28 3-30-5-30 17-30 9-32 1-32-4 18 10 16 4 15-1 14-7 13-12 12-17z" fill="#100c00" fill-opacity="0.13"/>
<path d="M1101 1345l-28 9-30 3-29-3-27-10-22-14-16-19-10-22-1-23 6-23 14-21 20-18 24-14 28-8 29-3 29 3 26 9 22 14 17 18 9 22 2 23-5 23-13 21-20 19z" fill="#0085e0"/>
<path d="M1092 1345l-31 8-32 0-30-8-24-15-17-21-7-24 3-25 12-23 20-20 27-14 31-8 31 1 29 7 24 15 17 20 8 24-2 25-12 23-20 21z" fill="#0046f1"/>
<path d="M1081 1344l-34 5-34-5-27-16-16-22-4-27 9-26 21-22 30-15 33-5 33 6 27 15 17 22 5 26-9 27-21 22z" fill="#0025fb"/>
<path d="M1068 1341l-38 0-30-15-16-26 3-29 20-25 34-14 36 0 31 15 16 25-2 29-21 25z" fill="#0011f2"/>
<path d="M1064 1331l-26 0-21-11-12-17 2-21 15-18 23-10 26 0 22 11 11 18-1 20-15 18z" fill="#0006db"/>
<path d="M1013 1187l17-5 29-3 29 3 26 9 22 14 17 18 9 22 2 23-5 23-13 21-20 19-25 14-28 9-30 3-29-3-27-10-22-14-3-4 32-2 32-9 30-16-13-30-14-38z" fill="#000010" fill-opacity="0.18"/>
<path d="M1026 1183l4-1 29-3 29 3 26 9 22 14 17 18 9 22 2 23-5 23-13 21-20 19-25 14-28 9-30 3-29-3-27-10-16-10 29-5 29-11 27-19-9-32-10-38z" fill="#000010" fill-opacity="0.24"/>
<path d="M1040 1181l19-2 29 3 26 9 22 14 17 18 9 22 2 23-5 23-13 21-20 19-25 14-28 9-30 3-29-3-27-10-6-3 26-7 25-14 24-21-4-32-6-40z" fill="#000010" fill-opacity="0.25"/>
<path d="M1055 1179l4 0 29 3 26 9 22 14 17 18 9 22 2 23-5 23-13 21-20 19-25 14-28 9-30 3-29-3-20-7 22-9 20-16 20-23 1-33 0-40z" fill="#000010" fill-opacity="0.20"/>
<path d="M1077 1181l11 1 26 9 22 14 17 18 9 22 2 23-5 23-13 21-20 19-25 14-28 9-30 3-29-3 15-12 14-18 13-25 8-32 7-40z" fill="#000010" fill-opacity="0.13"/>
<path d="M1081 1321l-30 17-30 9-32 1-32-4-33-10-34-17-36-23-37-32-1-2-3-10-4-17-5-23-6-28-8-35-9-42-10-50 31 7 29-2 28-9 26-15 25-21 24-27 23-34 22-43 35 32 34 23 33 16 32 10 31 4 30-3 30-9 30-19 9 50 8 41 8 35 8 28 6 22 7 16 5 10 5 1-23 44-24 35-25 28-25 21-27 17-27 10-28 3z" fill="none" stroke="#e62c14" stroke-width="8" stroke-opacity="0.7" stroke-linejoin="round"/>
<path d="M2370 1403l-37 17-36 8-36 2-34-5-34-10-33-17-33-23-32-32-12-2-10-11-11-18-9-23-10-29-9-35-8-42-8-51 22 6 23-2 23-9 23-15 24-22 23-27 25-34 25-43 31 31 31 24 32 16 32 10 33 3 34-2 35-9 37-18 7 50 9 42 9 34 10 29 12 23 12 16 13 11 15 1-27 44-25 35-25 28-23 23-23 16-22 11-22 4z" fill="#cc102a"/>
<path d="M2375 1409l-29 6-49 13-47 1-45-10-45-20-43-33-16-12-14-11-15-13-13-25-13-35-12-46-11-58 7-22 3-7 30-1 31-14 31-24 31-35 33-47 9-4 28-5 41 33 43 20 44 10 45-2 47-14 16 9 14 13 11 57 12 45 15 34 16 24 18 11-5 23-3 8-34 48-33 37-31 25-29 16-29 3z" fill="#f61e12"/>
<path d="M2371 1415l-31 6-20 3-47 6-46-5-45-15-44-26-8-5-24-17-21-18-5-6-14-19-13-30-13-40-11-51 2-16 7-23 9-20 31-8 31-19 32-30 32-42 26-7 29-6 19-1 42 26 43 15 45 3 45-7 8 3 24 16 21 18 6 6 12 50 13 40 15 29 18 18-2 15-5 23-9 22-33 42-32 32-31 21-29 9z" fill="#ff4400"/>
<path d="M2387 1414l-30 8-32 5-31 2-45 0-44-10-42-19-26-14-26-17-22-20-17-20-13-24-12-34-12-43 2-24 5-24 10-24 13-20 29-14 30-23 30-33 27-11 29-7 31-5 29-1 41 19 42 9 44-1 25 12 25 17 22 18 18 20 13 42 13 33 16 23 0 24-5 25-8 24-12 22-31 34-30 25-29 15z" fill="#ff6c00"/>
<path d="M2435 1393l-25 14-28 11-30 8-30 5-32 1-32-2-31-5-30-8-29-12-27-14-24-17-21-19-18-20-15-23-10-23-7-24-2-24 1-25 6-23 9-23 13-21 16-20 20-17 23-16 25-13 26-10 29-7 30-5 30-1 30 2 30 5 29 7 28 11 27 13 24 16 21 18 18 19 16 22 11 23 8 23 4 25 0 24-4 24-9 23-12 22-16 21-19 19z" fill="#ff9200"/>
<path d="M2427 1398l-27 14-30 11-32 7-33 4-33 0-33-4-32-8-31-11-29-15-25-17-22-20-19-22-14-24-10-25-5-26-1-25 4-26 9-24 13-23 17-21 20-18 24-16 26-14 29-10 31-6 31-4 32 0 32 4 31 7 30 11 28 13 25 17 23 19 19 21 15 23 11 24 6 26 2 25-2 26-8 25-12 23-16 22-20 20z" fill="#ffb200"/>
<path d="M2420 1402l-26 13-28 11-31 7-31 3-33 0-31-4-32-7-29-11-28-14-24-17-22-19-17-22-14-23-10-24-5-24 0-25 3-24 9-24 12-22 16-20 20-18 23-16 26-12 27-10 30-7 30-3 31 0 31 4 30 7 28 10 27 13 25 16 21 18 19 21 14 22 11 23 6 25 2 25-3 24-7 24-11 23-16 21-20 19z" fill="#ffd700"/>
<path d="M2414 1405l-25 13-28 10-29 7-30 3-31 0-31-4-30-7-28-10-26-14-24-16-21-19-17-20-13-22-9-23-5-24-1-24 4-23 8-23 12-21 15-19 19-18 23-15 24-12 27-9 28-7 29-3 30 1 29 3 29 7 28 9 26 13 23 15 21 18 17 20 14 21 11 23 6 23 1 24-2 23-7 23-11 22-15 21-19 18z" fill="#fff200"/>
<path d="M2405 1409l-27 14-30 9-31 6-32 2-32-2-32-7-31-10-28-13-25-17-21-20-18-22-13-23-8-25-3-25 2-25 7-24 11-23 16-21 20-18 23-16 27-12 28-9 30-6 31-2 32 3 30 5 30 10 27 13 25 16 22 18 18 22 14 22 9 25 4 25-1 25-5 24-11 24-15 21-20 20z" fill="#e8f800"/>
<path d="M2398 1412l-26 13-28 9-30 5-30 2-31-2-30-6-29-10-27-13-24-16-21-18-16-21-13-23-7-23-3-24 1-24 7-23 11-22 15-20 19-17 22-15 25-12 27-9 29-5 30-2 30 2 29 6 28 9 26 12 24 15 21 18 17 20 13 22 9 23 4 24-1 24-5 24-11 22-14 21-19 18z" fill="#b0ec08"/>
<path d="M2388 1416l-27 13-31 8-31 5-33-1-32-4-31-9-29-14-25-16-22-20-16-23-12-24-6-25-1-25 5-25 10-23 15-22 20-18 24-16 27-12 29-8 31-4 31 0 31 4 31 9 28 12 25 16 21 19 18 22 12 23 7 25 2 26-4 25-9 23-15 23-19 19z" fill="#60e418"/>
<path d="M2381 1418l-26 12-29 8-30 4-30 0-31-5-29-8-27-13-24-16-20-18-16-21-11-23-6-24-1-24 5-23 9-22 15-20 18-18 23-15 25-11 28-8 29-4 30 0 29 4 29 8 26 12 24 15 21 18 16 21 12 22 6 24 2 23-4 24-8 23-14 21-19 18z" fill="#21e027"/>
<path d="M2370 1421l-28 12-30 7-32 2-33-2-31-8-29-12-25-17-21-20-16-23-10-24-4-25 2-25 9-24 14-22 19-19 24-15 27-12 30-6 31-3 32 3 30 7 29 12 25 16 21 19 17 22 10 24 5 25-1 25-8 24-14 23-19 20z" fill="#0ae043"/>
<path d="M2359 1424l-30 11-33 6-35 0-34-6-31-13-27-17-22-21-16-25-8-26-1-27 7-26 13-23 21-21 25-16 30-11 32-6 34 0 33 6 30 12 27 17 23 20 16 24 9 26 2 27-6 26-13 25-20 21z" fill="#00e080"/>
<path d="M2351 1424l-28 10-30 6-32 0-31-6-28-11-26-16-20-20-14-22-8-24-1-25 6-24 13-22 19-18 23-15 27-11 30-5 31 0 30 6 28 11 25 15 21 19 14 22 9 24 1 24-5 24-12 23-18 19z" fill="#00debc"/>
<path d="M2338 1425l-30 10-32 3-33-3-31-11-27-16-21-21-13-24-6-26 4-26 12-23 19-21 25-15 29-9 32-4 32 4 31 10 26 16 21 20 14 24 6 26-2 25-12 24-18 21z" fill="#00d8e7"/>
<path d="M2267 1376l-15-29-15-35-14-41-13-47-13-53-13-61-12-69 34-55 31 31 31 24 32 16 32 10 33 3 34-2 35-9 37-18 7 50 9 42 9 34 10 29 12 23 12 16 13 11 15 1-27 44-25 35-25 28-23 23-23 16-22 11-22 4-21-5-37 17-36 8-36 2-34-5-34-10-33-17-33-23-32-32-6 0 22 27 22 16 22 12 22 6 22 0 22-4 23-10z" fill="#100c00" fill-opacity="0.18"/>
<path d="M2267 1376l-11-28-9-32-10-38-9-43-8-49-8-54-7-61-7-71 8-14 31 31 31 24 32 16 32 10 33 3 34-2 35-9 37-18 7 50 9 42 9 34 10 29 12 23 12 16 13 11 15 1-27 44-25 35-25 28-23 23-23 16-22 11-22 4-21-5-39 18-38 8-37 0-36-6-36-12-35-19-34-28 18 23 19 14 18 8 19 4 19-2 19-7 20-12z" fill="#100c00" fill-opacity="0.24"/>
<path d="M2267 1376l-7-28-5-32-6-37-5-42-4-48-4-53-4-58-2-67 32 26 32 18 34 11 34 4 35-1 36-10 38-18 7 50 9 42 9 34 10 29 12 23 12 16 13 11 15 1-27 44-25 35-25 28-23 23-23 16-22 11-22 4-21-5-40 18-38 8-37 0-37-6-35-13-36-20 17 17 16 10 17 4 17-3 17-8 18-14z" fill="#100c00" fill-opacity="0.25"/>
<path d="M2267 1376l-2-30-2-36-1-42 0-48 0-54 1-60 1-68 33 17 33 11 33 4 35-2 36-9 37-18 7 50 9 42 9 34 10 29 12 23 12 16 13 11 15 1-27 44-25 35-25 28-23 23-23 16-22 11-22 4-21-5-40 18-38 8-38 0-36-6-36-13 11 12 11 6 12 0 12-5 13-10 12-16z" fill="#100c00" fill-opacity="0.20"/>
<path d="M2267 1376l4-29 5-34 5-39 6-45 7-50 7-57 8-62 30 8 32 3 32-3 33-10 35-17 7 50 9 42 9 34 10 29 12 23 12 16 13 11 15 1-27 44-25 35-25 28-23 23-23 16-22 11-22 4-21-5-37 17-36 8-36 2-34-5 4 9 5 4 5-2 6-8 6-12 7-17z" fill="#100c00" fill-opacity="0.13"/>
<path d="M2332 1424l-28 9-30 3-30-4-28-9-24-15-19-19-12-22-5-24 3-23 11-22 17-18 23-14 27-9 29-3 29 4 28 9 24 14 19 19 13 21 5 24-2 23-10 22-17 19z" fill="#0085e0"/>
<path d="M2320 1424l-31 7-32 0-31-8-26-15-20-21-11-24-1-26 9-24 18-20 25-14 30-8 32 0 30 8 27 15 19 20 12 24 1 26-8 24-18 21z" fill="#0046f1"/>
<path d="M2306 1422l-34 6-34-6-30-16-20-23-7-27 5-26 18-23 28-15 34-5 33 6 30 15 20 23 8 26-5 27-18 23z" fill="#0025fb"/>
<path d="M2290 1419l-38 0-33-16-20-25-1-30 18-25 31-15 37 0 33 15 20 26 2 29-18 26z" fill="#0011f2"/>
<path d="M2283 1409l-27 0-23-11-14-18-1-21 12-18 23-10 26 0 23 10 14 18 1 21-12 18z" fill="#0006db"/>
<path d="M2221 1263l16-6 29-3 29 4 28 9 24 14 19 19 13 21 5 24-2 23-10 22-17 19-23 15-28 9-30 3-30-4-28-9-24-15-4-3 26-3 26-10 27-16-16-31-16-38z" fill="#000010" fill-opacity="0.18"/>
<path d="M2233 1259l4-2 29-3 29 4 28 9 24 14 19 19 13 21 5 24-2 23-10 22-17 19-23 15-28 9-30 3-30-4-28-9-18-10 23-6 23-12 23-19-12-32-11-39z" fill="#000010" fill-opacity="0.24"/>
<path d="M2246 1257l20-3 29 4 28 9 24 14 19 19 13 21 5 24-2 23-10 22-17 19-23 15-28 9-30 3-30-4-28-9-6-4 18-7 19-15 20-21-8-33-6-40z" fill="#000010" fill-opacity="0.25"/>
<path d="M2262 1255l4-1 29 4 28 9 24 14 19 19 13 21 5 24-2 23-10 22-17 19-23 15-28 9-30 3-30-4-20-6 14-10 14-17 15-23-3-34-1-40z" fill="#000010" fill-opacity="0.20"/>
<path d="M2283 1257l12 1 28 9 24 14 19 19 13 21 5 24-2 23-10 22-17 19-23 15-28 9-30 3-30-4 7-12 8-19 8-25 5-33 5-40z" fill="#000010" fill-opacity="0.13"/>
<path d="M2370 1403l-37 17-36 8-36 2-34-5-34-10-33-17-33-23-32-32-12-2-10-11-11-18-9-23-10-29-9-35-8-42-8-51 22 6 23-2 23-9 23-15 24-22 23-27 25-34 25-43 31 31 31 24 32 16 32 10 33 3 34-2 35-9 37-18 7 50 9 42 9 34 10 29 12 23 12 16 13 11 15 1-27 44-25 35-25 28-23 23-23 16-22 11-22 4z" fill="none" stroke="#e62c14" stroke-width="8" stroke-opacity="0.7" stroke-linejoin="round"/>
<path d="M771 1055l10 50 9 42 8 35 6 28 5 23 4 17 3 10 1 2-22 44-24 35-25 29-27 22-28 17-29 10-31 4-34-4-27 17-29 8-30 1-32-5-34-10-35-16-37-24-40-31 3-3 0-12-2-20-4-25-6-32-7-39 33 7 32 1 30-5 28-10 27-15 25-20 24-26 23-31 21-37 20-43 35 19 34 11 33 5 31-1 30-9z" fill="#cc102a"/>
<path d="M610 1425l-30 6-39 13-41 0-43-10-47-20-50-33-13-11-12-12 1-10-1-19-4-26-6-34-8-41 42 8 38-2 37-10 33-18 31-26 29-35 28-43 25-53 38 20 36 11 34 5 34-4 31-13 13 10 12 12 12 57 10 45 7 35 6 24 3 11-10 23-4 8-31 48-34 37-36 26-39 15-42 4z" fill="#f61e12"/>
<path d="M612 1431l-32 6-20 2-39 6-42-5-45-15-48-26-7-5-21-16-18-19-4-6-1-17-3-27-7-36-8-45 42 8 38-2 37-10 33-18 31-26 29-35 28-43 25-53 41 21 40 12 38 3 36-8 6 4 21 15 18 18 5 6 10 51 9 39 6 30 5 18-4 15-11 23-13 22-33 43-35 31-38 21-40 10z" fill="#ff4400"/>
<path d="M635 1429l-32 9-33 5-31 1-40 0-42-9-44-20-23-14-22-17-18-20-14-20-3-24-5-34-8-43 3-13 40 6 37-2 35-10 32-18 30-25 28-33 27-41 24-49 16-2 43 19 40 9 38-1 23 13 22 16 19 19 14 19 9 43 7 33 6 23-5 24-10 25-13 24-16 22-33 34-34 25-38 16z" fill="#ff6c00"/>
<path d="M693 1408l-28 14-30 11-31 8-32 5-32 2-31-2-30-6-29-8-27-11-24-15-21-16-17-19-14-21-10-23-6-23-2-24 2-25 6-22 41 3 37-6 36-14 32-22 30-31 29-39 26-48 28-2 30 2 29 5 28 7 26 11 23 13 21 16 18 18 15 20 11 21 7 23 3 24-1 24-5 25-9 24-13 23-17 23-20 20-23 19z" fill="#ff9200"/>
<path d="M689 1413l-30 15-32 11-33 7-34 3-33 0-33-4-30-8-29-11-26-14-22-18-18-20-14-22-10-24-5-25 0-26 4-26 7-16 42 0 38-10 36-19 33-28 31-38 29-48 21-3 32 1 31 3 30 8 28 10 25 14 22 16 19 19 15 21 10 24 6 24 2 25-3 26-8 26-12 25-17 23-21 22-24 20z" fill="#ffb200"/>
<path d="M686 1417l-28 14-31 10-32 7-32 4-32-1-32-4-29-7-28-11-24-14-22-17-18-19-13-22-9-23-5-24 0-24 4-25 9-25 37-2 34-10 32-18 30-25 28-33 26-40 32-4 30 1 31 3 28 7 27 10 24 13 22 16 18 19 14 20 10 23 6 23 2 25-3 24-8 25-12 24-16 23-20 21-23 19z" fill="#ffd700"/>
<path d="M684 1420l-28 13-29 10-31 7-31 3-30 0-30-4-29-7-26-10-24-14-21-16-17-18-13-21-9-22-4-23 0-24 4-24 8-23 6-11 37-6 34-14 32-22 29-30 28-38 14-3 30-3 30 0 29 3 27 7 26 10 24 12 20 16 17 17 14 20 10 22 6 22 1 24-3 24-7 23-12 23-15 22-19 21-23 18z" fill="#fff200"/>
<path d="M679 1424l-30 14-31 10-32 5-33 2-32-2-31-6-28-10-25-14-22-17-18-20-13-22-8-23-4-25 2-25 7-25 11-24 6-8 36-10 33-18 31-26 29-34 10-4 32-6 31-1 31 2 30 6 27 9 25 13 22 16 18 19 14 21 9 23 5 24-1 25-5 25-11 25-15 24-20 21-23 20z" fill="#e8f800"/>
<path d="M676 1427l-28 13-30 9-31 6-31 1-30-2-29-6-27-9-25-13-20-17-17-18-13-21-8-23-3-23 2-24 6-24 11-23 15-22 2-2 32-14 30-20 28-28 2-1 29-9 30-5 30-2 30 2 28 6 26 9 24 12 21 16 17 18 13 20 9 22 4 23 0 24-6 24-10 23-14 23-19 21-22 18z" fill="#b0ec08"/>
<path d="M671 1431l-30 13-32 8-33 5-33 0-31-5-29-9-26-14-22-16-18-20-13-23-7-24-1-25 4-25 10-25 15-24 19-21 24-19 26-16 30-12 31-8 31-4 32 0 30 5 29 8 26 13 22 16 18 19 13 21 8 24 2 25-3 25-9 25-14 24-19 23-23 19z" fill="#60e418"/>
<path d="M668 1433l-29 12-30 8-31 4-30 0-30-4-27-9-25-13-21-15-17-19-12-21-6-23-2-24 4-24 10-23 14-23 18-20 22-18 25-15 28-11 29-8 30-4 30 0 29 5 27 8 24 12 21 15 17 18 12 20 8 23 2 23-3 24-8 24-14 23-18 21-22 18z" fill="#21e027"/>
<path d="M661 1436l-30 12-32 7-33 3-31-3-30-8-27-12-22-17-18-20-11-23-5-24 1-25 7-25 13-24 19-22 23-19 27-16 29-11 31-7 32-2 31 2 29 8 26 11 23 16 17 20 12 22 6 24 0 25-6 25-13 24-18 23-23 20z" fill="#0ae043"/>
<path d="M654 1439l-32 11-35 6-34 0-33-6-29-12-24-18-18-21-11-25-3-26 4-27 12-26 19-24 24-20 29-17 31-11 34-5 33 0 32 6 29 11 24 17 18 21 11 24 5 26-4 27-11 26-18 24-24 22z" fill="#00e080"/>
<path d="M651 1439l-30 11-32 5-31 0-30-6-27-11-22-16-16-20-10-22-3-25 4-24 10-24 17-22 22-19 27-15 29-10 31-5 31 0 29 5 26 11 22 15 17 19 10 22 4 24-3 25-10 24-17 23-22 19z" fill="#00debc"/>
<path d="M642 1440l-32 10-33 3-32-3-29-11-24-16-17-21-9-25 0-25 9-26 16-24 23-20 28-15 31-10 33-3 31 3 29 10 24 16 17 21 9 23 1 26-8 26-15 24-23 21z" fill="#00d8e7"/>
<path d="M601 1390l-11-26-11-31-13-36-14-42-16-47-16-53 21-30 20-35 19-41 35 19 34 11 33 5 31-1 30-9 28-19 10 50 9 42 8 35 6 28 5 23 4 17 3 10 1 2-22 44-24 35-25 29-27 22-28 17-29 10-31 4-34-4-27 17-29 8-30 1-32-5-34-10-35-16-37-24-40-31 2 0 41 26 38 17 35 11 34 6 32 0 30-4 29-10z" fill="#100c00" fill-opacity="0.18"/>
<path d="M601 1390l-7-29-8-34-10-41-11-46-13-52-14-59 22-37 20-43 35 19 34 11 33 5 31-1 30-9 28-19 10 50 9 42 8 35 6 28 5 23 4 17 3 10 1 2-22 44-24 35-25 29-27 22-28 17-29 10-31 4-34-4-29 17-30 8-33 1-34-6-35-13-38-19-40-27 38 22 35 14 32 8 31 4 29-2 27-7 26-12z" fill="#100c00" fill-opacity="0.24"/>
<path d="M601 1390l-3-27-3-32-5-37-6-42-8-47-8-52-10-58 22-46 35 19 34 11 33 5 31-1 30-9 28-19 10 50 9 42 8 35 6 28 5 23 4 17 3 10 1 2-22 44-24 35-25 29-27 22-28 17-29 10-31 4-34-4-29 17-31 8-33 1-34-7-36-12-38-20 36 17 33 9 31 4 29-3 27-8 25-15z" fill="#100c00" fill-opacity="0.25"/>
<path d="M601 1390l2-30 0-36 0-42-2-48-4-54-5-60-7-67 35 17 33 10 31 5 30-2 30-10 27-18 10 50 9 42 8 35 6 28 5 23 4 17 3 10 1 2-22 44-24 35-25 29-27 22-28 17-29 10-31 4-34-4-29 17-31 8-33 1-35-7-36-13 30 12 27 6 26 1 23-6 22-10 21-16z" fill="#100c00" fill-opacity="0.20"/>
<path d="M601 1390l8-28 7-34 6-40 4-45 3-50 2-56 1-63 30 8 29 3 28-3 27-10 25-17 10 50 9 42 8 35 6 28 5 23 4 17 3 10 1 2-22 44-24 35-25 29-27 22-28 17-29 10-31 4-34-4-27 17-29 8-30 1-32-5 22 9 21 4 19-2 17-8 16-12 14-18z" fill="#100c00" fill-opacity="0.13"/>
<path d="M639 1439l-29 9-30 3-29-4-27-9-22-15-15-19-8-22 0-24 7-23 15-22 21-19 26-14 28-8 30-3 29 3 26 9 22 14 15 19 9 22 1 24-7 23-15 22-21 19z" fill="#0085e0"/>
<path d="M631 1438l-32 8-32 0-30-8-23-15-16-21-6-25 4-25 13-24 22-20 28-15 31-8 32 1 29 8 24 15 16 20 6 24-3 26-13 24-22 20z" fill="#0046f1"/>
<path d="M621 1437l-35 5-33-5-27-16-15-23-3-27 11-27 22-22 31-15 34-5 33 5 26 15 16 23 4 27-11 27-22 23z" fill="#0025fb"/>
<path d="M609 1434l-38 0-30-16-15-26 4-29 23-26 34-14 37 0 30 15 15 25-4 30-22 26z" fill="#0011f2"/>
<path d="M607 1424l-27-1-21-10-10-19 3-21 16-18 24-10 26 0 21 11 11 18-3 21-16 18z" fill="#0006db"/>
<path d="M559 1277l17-5 30-3 29 3 26 9 22 14 15 19 9 22 1 24-7 23-15 22-21 19-26 15-29 9-30 3-29-4-27-9-22-15-3-3 36-3 34-10 32-17-12-30-14-38z" fill="#000010" fill-opacity="0.18"/>
<path d="M573 1273l3-1 30-3 29 3 26 9 22 14 15 19 9 22 1 24-7 23-15 22-21 19-26 15-29 9-30 3-29-4-27-9-16-11 33-5 31-12 29-20-8-32-9-39z" fill="#000010" fill-opacity="0.24"/>
<path d="M586 1271l20-2 29 3 26 9 22 14 15 19 9 22 1 24-7 23-15 22-21 19-26 15-29 9-30 3-29-4-27-9-6-4 30-8 27-14 26-22-3-33-5-39z" fill="#000010" fill-opacity="0.25"/>
<path d="M602 1269l4 0 29 3 26 9 22 14 15 19 9 22 1 24-7 23-15 22-21 19-26 15-29 9-30 3-29-4-20-6 25-10 24-17 21-24 2-33 0-40z" fill="#000010" fill-opacity="0.20"/>
<path d="M624 1271l11 1 26 9 22 14 15 19 9 22 1 24-7 23-15 22-21 19-26 15-29 9-30 3-29-4 18-12 17-19 15-26 9-32 8-40z" fill="#000010" fill-opacity="0.13"/>
<path d="M771 1055l10 50 9 42 8 35 6 28 5 23 4 17 3 10 1 2-22 44-24 35-25 29-27 22-28 17-29 10-31 4-34-4-27 17-29 8-30 1-32-5-34-10-35-16-37-24-40-31 3-3 0-12-2-20-4-25-6-32-7-39 33 7 32 1 30-5 28-10 27-15 25-20 24-26 23-31 21-37 20-43 35 19 34 11 33 5 31-1 30-9z" fill="none" stroke="#e62c14" stroke-width="8" stroke-opacity="0.7" stroke-linejoin="round"/>
<path d="M3397 1426l-22-3-19-12-17-18-14-24-13-29-10-36-9-42-6-51 16 6 19-5 17 59 19 52 20 45 23 39 24 33 27 27 29 21-16 7-14 2-13-4-11-9-9-15-6-24z" fill="#cc102a"/>
<path d="M3398 1436l-16-11-27-14-21-26-18-35-15-47-10-58 3-23 2-6 26-4 20 68 22 59 25 50 28 41 30 33 34 25-19 8-16 0-14-7-12-16-8-26z" fill="#f61e12"/>
<path d="M3399 1444l-24-19-7-5-24-20-19-31-17-40-12-52 0-16 3-24 7-21 16-4 20 68 22 59 25 50 28 41 30 33 34 25-18 8-16 0-14-6-11-13-9-23z" fill="#ff4400"/>
<path d="M3400 1450l-25-20-21-20-20-25-18-34-14-44-2-24 3-25 6-24 10-21 3-1 20 68 22 59 25 50 28 41 30 33 34 25-21 8-19-1-15-12-11-23z" fill="#ff6c00"/>
<path d="M3402 1456l-24-19-21-21-18-23-14-24-11-24-6-25-2-25 2-24 6-23 10-22 1-1 20 65 22 55 25 48 27 39 29 32 33 24-20 8-18-1-15-10-11-19z" fill="#ff9200"/>
<path d="M3404 1460l-25-20-22-23-18-24-14-25-9-26-4-26 0-26 5-25 10-23 2-3 20 60 21 53 24 45 27 38 28 30 32 23-20 8-17 0-14-9-11-17z" fill="#ffb200"/>
<path d="M3406 1464l-24-19-22-22-17-23-13-25-9-25-4-25 0-25 5-24 10-22 1-2 23 68 26 57 30 46 33 37 36 28-19 8-16 0-14-7-11-15z" fill="#ffd700"/>
<path d="M3408 1468l-23-19-21-21-16-22-13-24-8-24-4-24 0-24 5-23 9-21 0-1 23 64 26 53 28 45 32 35 35 26-18 7-15 1-14-5-11-13z" fill="#fff200"/>
<path d="M3411 1472l-25-20-21-23-16-24-12-25-7-25-2-25 4-25 8-23 2-3 22 59 25 50 28 42 30 33 34 25-22 8-19-2-15-13z" fill="#e8f800"/>
<path d="M3413 1475l-23-19-20-21-16-23-11-24-6-24-2-25 3-23 8-22 0-1 22 55 24 46 27 39 30 31 32 24-21 8-18-1-14-10z" fill="#b0ec08"/>
<path d="M3416 1478l-24-20-21-23-15-24-10-26-4-25 1-26 7-23 2-3 21 50 23 43 26 36 28 29 31 22-19 8-17 0-14-8z" fill="#60e418"/>
<path d="M3419 1481l-23-19-19-22-14-23-10-24-4-24 1-24 7-22 0-1 26 56 30 46 32 37 36 27-18 7-16 1-13-5z" fill="#21e027"/>
<path d="M3423 1483l-24-20-20-23-13-25-8-25-1-26 5-24 2-3 25 51 27 42 31 33 34 25-24 9-20-4z" fill="#0ae043"/>
<path d="M3427 1485l-25-21-20-25-12-27-5-27 3-27 3-5 24 45 26 37 29 30 31 23-21 8-18-1z" fill="#00e080"/>
<path d="M3431 1487l-23-20-18-23-11-25-4-25 3-24 0-1 31 50 34 40 38 29-19 8-16 0z" fill="#00debc"/>
<path d="M3437 1488l-24-22-17-24-9-27-1-26 2-3 28 43 31 33 34 26-16 7-14 2z" fill="#00d8e7"/>
<path d="M3465 1477l16 11-16 7-14 2-13-4-11-9-9-15-6-24-15-19-11-1 8 27 10 16 13 11 14 5 16-1z" fill="#100c00" fill-opacity="0.18"/>
<path d="M3471 1481l10 7-17 7-15 2-13-5-12-12-9-18 7 17 9 10 11 4 13-3z" fill="#100c00" fill-opacity="0.24"/>
<path d="M3477 1485l4 3-13 6z" fill="#100c00" fill-opacity="0.25"/>
<path d="M3441 1488l-22-20-15-22-8-24-1-23 26 37 29 29 31 23-25 9z" fill="#0085e0"/>
<path d="M3446 1487l-23-21-14-25-4-26 0-1 36 43 40 31-20 8z" fill="#0046f1"/>
<path d="M3452 1486l-23-24-12-27 0-4 31 32 33 25-13 6z" fill="#0025fb"/>
<path d="M3460 1483l-23-27-2-5 46 37-5 2z" fill="#0011f2"/>
<path d="M3481 1488l-13 6-12 3-15-9-4-4 13-2 15-5z" fill="#000010" fill-opacity="0.18"/>
<path d="M3481 1488l-13 6-12 3-8-5 11-3 12-8z" fill="#000010" fill-opacity="0.24"/>
<path d="M3481 1488l-13 6 9-9z" fill="#000010" fill-opacity="0.25"/>
<path d="M3397 1426l-22-3-19-12-17-18-14-24-13-29-10-36-9-42-6-51 16 6 19-5 17 59 19 52 20 45 23 39 24 33 27 27 29 21-16 7-14 2-13-4-11-9-9-15-6-24z" fill="none" stroke="#e62c14" stroke-width="8" stroke-opacity="0.7" stroke-linejoin="round"/>
<path d="M1896 1503l-35 16-34 8-35 1-34-5-34-10-34-16-34-24-35-31-8-4-8-11-8-19-8-24-8-29-9-36-8-42-9-51 26 5 25-2 25-10 25-16 24-22 24-27 25-35 24-43 33 32 32 23 33 16 33 10 33 4 33-2 33-9 35-18 8 51 8 42 9 35 10 29 9 23 11 18 10 11 12 2-26 44-26 36-24 28-25 23-25 17-24 11-24 5z" fill="#cc102a"/>
<path d="M1904 1508l-31 6-46 13-46 0-45-10-46-20-46-33-15-12-13-12-11-14-10-25-11-36-12-46-11-59 8-23 3-7 34-1 33-15 33-25 32-35 33-48 8-3 29-5 44 33 43 20 44 9 44-1 46-14 15 10 13 12 12 58 12 46 12 35 14 24 14 13-7 23-3 8-34 49-33 37-32 26-33 16-32 4z" fill="#f61e12"/>
<path d="M1900 1514l-31 6-20 3-46 6-45-6-45-15-46-26-7-5-24-17-20-19-6-6-10-20-11-31-11-40-11-52 3-16 8-24 11-21 34-8 33-20 33-30 32-42 27-8 30-5 19-1 43 26 44 14 44 4 44-7 8 3 23 16 20 18 6 7 11 51 13 40 13 30 14 19-2 15-7 24-10 22-34 43-33 32-33 22-33 10z" fill="#ff4400"/>
<path d="M1919 1512l-31 9-33 5-31 1-44 0-44-10-43-19-26-14-24-18-22-20-16-21-11-25-10-34-11-44 3-24 7-25 11-24 14-21 32-14 31-24 32-34 27-10 30-8 31-4 30-1 42 18 42 9 42-1 25 13 24 17 22 19 17 20 12 43 12 34 13 24-2 24-5 25-10 25-14 22-31 35-32 26-31 16z" fill="#ff6c00"/>
<path d="M1970 1491l-26 14-29 11-30 8-32 5-32 2-31-2-32-6-30-8-29-12-26-14-23-17-21-20-17-21-13-23-10-24-5-24-1-25 2-25 7-24 11-23 14-22 18-20 21-18 23-16 26-13 28-10 29-8 30-4 31-2 31 2 30 5 29 8 27 11 26 13 24 16 20 18 18 21 14 22 11 23 6 24 3 25-1 25-6 24-10 24-13 23-17 21-21 19z" fill="#ff9200"/>
<path d="M1963 1496l-28 14-31 11-32 8-34 3-33 0-34-4-32-8-31-11-28-15-24-18-22-21-17-22-14-25-8-25-4-26 1-26 5-26 10-25 14-23 19-22 21-19 25-16 28-14 29-10 32-7 32-3 32 0 32 4 31 7 30 11 27 13 25 17 22 20 18 21 14 24 9 25 6 26 0 26-4 26-9 25-13 24-18 23-21 20z" fill="#ffb200"/>
<path d="M1957 1499l-27 14-29 11-31 7-32 3-33 0-32-4-31-8-29-11-27-14-24-17-21-20-17-22-13-23-8-25-4-25 1-25 5-25 10-24 14-22 17-21 21-19 24-15 27-13 28-10 30-7 31-3 31 0 31 4 30 7 29 10 26 13 24 16 21 19 17 21 14 23 9 24 5 25 1 25-4 25-9 25-13 23-17 21-21 20z" fill="#ffd700"/>
<path d="M1952 1502l-26 13-28 11-30 6-31 4-31 0-31-4-30-7-28-11-26-14-23-16-20-19-16-21-12-23-8-23-4-25 1-24 5-24 9-23 13-21 17-20 20-18 23-15 26-13 27-10 29-6 30-3 30 0 29 4 29 6 27 10 26 13 23 16 20 18 16 20 13 22 9 23 5 24 1 24-4 24-8 24-13 22-16 21-20 19z" fill="#fff200"/>
<path d="M1944 1506l-28 14-30 10-32 6-33 2-32-3-32-6-30-11-28-14-25-17-20-20-17-22-11-24-7-25-2-26 3-25 8-25 13-23 17-22 21-18 25-17 27-12 29-10 31-5 31-2 32 2 31 6 29 10 27 13 24 16 21 19 17 22 13 23 8 25 3 26-2 25-7 25-12 24-17 22-21 20z" fill="#e8f800"/>
<path d="M1938 1509l-27 13-28 9-31 6-31 2-31-3-30-6-29-10-26-13-24-16-20-20-15-21-11-23-7-24-2-24 3-25 8-23 12-22 16-21 21-18 23-15 26-12 28-9 29-5 30-2 30 2 30 6 28 9 25 12 24 16 20 18 16 21 12 22 7 24 3 24-2 25-6 24-12 22-16 22-20 18z" fill="#b0ec08"/>
<path d="M1929 1512l-28 13-31 9-33 5-32-1-33-4-31-10-28-13-25-17-20-21-16-23-11-24-5-26 1-26 6-25 12-24 16-22 21-19 25-16 28-12 30-8 31-5 32 1 31 4 30 9 28 13 25 16 21 19 16 23 11 24 6 25 1 26-5 25-11 25-16 22-21 20z" fill="#60e418"/>
<path d="M1923 1514l-27 12-29 9-31 4-31 0-30-5-29-9-27-12-23-17-20-19-15-21-10-24-4-24 0-24 6-24 11-23 15-20 20-18 24-16 26-11 28-8 30-4 30 0 30 4 28 9 26 12 23 15 20 19 16 20 10 23 6 24 0 25-5 24-10 23-15 21-19 19z" fill="#21e027"/>
<path d="M1913 1517l-28 12-32 8-32 2-33-3-31-8-29-12-24-17-21-21-15-23-8-25-3-25 4-26 10-24 15-23 21-19 25-16 28-11 30-7 32-3 31 3 31 7 28 12 25 17 20 19 16 23 9 24 4 26-3 25-9 25-15 23-20 20z" fill="#0ae043"/>
<path d="M1903 1519l-31 12-34 6-35 0-33-6-31-13-27-17-21-22-15-25-7-27 1-27 8-27 15-24 22-21 26-17 31-11 33-6 34 1 33 6 30 12 27 16 21 22 15 24 8 27 0 27-7 27-15 25-21 21z" fill="#00e080"/>
<path d="M1896 1519l-28 11-31 6-32 0-31-6-29-12-24-16-20-20-13-23-6-25 0-25 7-24 14-22 20-20 25-15 28-10 30-6 31 1 30 5 28 11 25 16 19 19 14 23 7 24 1 25-7 25-13 23-20 20z" fill="#00debc"/>
<path d="M1885 1520l-31 11-33 3-33-4-31-10-26-17-20-21-13-25-4-27 5-26 13-24 21-21 26-15 30-10 32-3 33 3 30 11 26 16 20 20 13 25 5 26-4 26-13 25-20 21z" fill="#00d8e7"/>
<path d="M1821 1469l-15-29-14-36-14-41-14-47-15-54-14-61-15-69 33-56 33 32 32 23 33 16 33 10 33 4 33-2 33-9 35-18 8 51 8 42 9 35 10 29 9 23 11 18 10 11 12 2-26 44-26 36-24 28-25 23-25 17-24 11-24 5-25-4-35 16-34 8-35 1-34-5-34-10-34-16-34-24-35-31-4-1 27 26 27 16 26 10 25 6 25 0 25-5 24-10z" fill="#100c00" fill-opacity="0.18"/>
<path d="M1821 1469l-10-28-9-33-10-38-9-44-9-49-10-55-9-60-10-71 8-15 33 32 32 23 33 16 33 10 33 4 33-2 33-9 35-18 8 51 8 42 9 35 10 29 9 23 11 18 10 11 12 2-26 44-26 36-24 28-25 23-25 17-24 11-24 5-25-4-37 17-36 8-36 0-36-6-36-13-36-19-37-28 24 22 23 13 23 8 22 3 22-2 22-8 21-12z" fill="#100c00" fill-opacity="0.24"/>
<path d="M1821 1469l-6-28-5-33-5-37-6-43-5-48-5-53-6-58-5-68 34 26 34 18 33 11 34 5 35-2 34-9 36-18 8 51 8 42 9 35 10 29 9 23 11 18 10 11 12 2-26 44-26 36-24 28-25 23-25 17-24 11-24 5-25-4-37 17-37 8-36 0-37-7-36-13-36-20 21 17 22 8 20 3 21-3 20-9 20-15z" fill="#100c00" fill-opacity="0.25"/>
<path d="M1821 1469l-1-31-1-36-1-43-1-48-1-54-1-61 0-67 33 17 33 10 34 5 33-2 35-9 35-18 8 51 8 42 9 35 10 29 9 23 11 18 10 11 12 2-26 44-26 36-24 28-25 23-25 17-24 11-24 5-25-4-37 17-37 8-37 0-36-7-37-13 17 11 15 5 16 0 15-6 16-11 15-16z" fill="#100c00" fill-opacity="0.20"/>
<path d="M1821 1469l5-29 5-35 6-39 5-46 6-50 6-57 6-63 31 8 31 3 31-3 32-9 33-17 8 51 8 42 9 35 10 29 9 23 11 18 10 11 12 2-26 44-26 36-24 28-25 23-25 17-24 11-24 5-25-4-35 16-34 8-35 1-34-5 9 9 10 2 9-3 8-7 9-14 9-18z" fill="#100c00" fill-opacity="0.13"/>
<path d="M1879 1519l-28 9-30 3-31-3-28-10-23-15-19-20-11-22-3-24 4-24 12-22 18-19 24-14 28-9 29-3 30 3 28 9 23 15 19 19 11 22 5 24-4 24-12 23-18 19z" fill="#0085e0"/>
<path d="M1868 1519l-31 7-33 0-31-8-26-16-19-21-9-25 0-26 11-24 19-21 26-15 30-7 32 0 31 8 26 15 19 21 10 25 0 25-10 25-19 21z" fill="#0046f1"/>
<path d="M1855 1517l-34 5-35-5-29-16-19-24-6-27 7-28 19-23 29-15 34-5 34 6 29 15 19 23 7 28-7 27-19 24z" fill="#0025fb"/>
<path d="M1840 1513l-38 0-33-15-19-27 1-30 19-26 32-15 38 0 32 16 19 26 0 30-19 26z" fill="#0011f2"/>
<path d="M1834 1503l-27 0-23-11-13-19 0-21 14-19 23-10 26 0 23 11 13 18 0 22-13 18z" fill="#0006db"/>
<path d="M1775 1355l17-6 29-3 30 3 28 9 23 15 19 19 11 22 5 24-4 24-12 23-18 19-24 15-28 9-30 3-31-3-28-10-23-15-4-4 29-3 28-10 29-17-16-31-15-38z" fill="#000010" fill-opacity="0.18"/>
<path d="M1788 1350l4-1 29-3 30 3 28 9 23 15 19 19 11 22 5 24-4 24-12 23-18 19-24 15-28 9-30 3-31-3-28-10-17-11 25-6 26-12 25-20-11-33-11-39z" fill="#000010" fill-opacity="0.24"/>
<path d="M1802 1348l19-2 30 3 28 9 23 15 19 19 11 22 5 24-4 24-12 23-18 19-24 15-28 9-30 3-31-3-28-10-6-4 22-8 21-15 22-22-7-33-6-41z" fill="#000010" fill-opacity="0.25"/>
<path d="M1817 1347l4-1 30 3 28 9 23 15 19 19 11 22 5 24-4 24-12 23-18 19-24 15-28 9-30 3-31-3-20-7 17-11 17-17 17-24-2-34-1-41z" fill="#000010" fill-opacity="0.20"/>
<path d="M1839 1348l12 1 28 9 23 15 19 19 11 22 5 24-4 24-12 23-18 19-24 15-28 9-30 3-31-3 11-13 10-20 10-26 6-33 6-41z" fill="#000010" fill-opacity="0.13"/>
<path d="M1896 1503l-35 16-34 8-35 1-34-5-34-10-34-16-34-24-35-31-8-4-8-11-8-19-8-24-8-29-9-36-8-42-9-51 26 5 25-2 25-10 25-16 24-22 24-27 25-35 24-43 33 32 32 23 33 16 33 10 33 4 33-2 33-9 35-18 8 51 8 42 9 35 10 29 9 23 11 18 10 11 12 2-26 44-26 36-24 28-25 23-25 17-24 11-24 5z" fill="none" stroke="#e62c14" stroke-width="8" stroke-opacity="0.7" stroke-linejoin="round"/>
<path d="M333 1359l-21 44-24 36-9 15-10 10-12 5-13 1-14-3-15-9 24-33 22-40 20-45 19-52 17-60 7 39 6 32 4 25 2 20 0 12z" fill="#cc102a"/>
<path d="M324 1382l-5 7-31 50-14 21-17 9-19 0-23-11 29-43 27-52 24-62 22-73 8 42 6 33 4 26 1 19-1 10z" fill="#f61e12"/>
<path d="M331 1368l-12 25-14 22-17 24-14 21-17 9-19 0-23-11 29-43 27-52 24-62 22-73 8 45 7 36 3 27 1 17z" fill="#ff4400"/>
<path d="M320 1243l8 43 5 34 3 24-6 24-11 26-15 25-16 20-14 21-17 9-19 0-23-11 29-41 26-51 24-60 21-70z" fill="#ff6c00"/>
<path d="M315 1259l10 22 6 23 2 24-3 25-6 25-10 25-15 24-14 18-13 17-17 8-19-1-21-11 27-39 25-47 23-56 21-64z" fill="#ff9200"/>
<path d="M312 1274l10 24 5 25 0 26-5 26-9 26-14 26-16 22-14 15-15 6-18-2-21-10 26-37 24-44 22-52 20-60z" fill="#ffb200"/>
<path d="M307 1286l10 23 4 24 0 25-4 25-9 25-13 25-15 19-13 13-15 5-17-2-20-10 33-48 29-60 26-71z" fill="#ffd700"/>
<path d="M302 1298l9 22 4 23 0 24-4 24-8 25-13 23-12 17-13 11-15 3-16-2-19-10 31-45 27-55 25-66z" fill="#fff200"/>
<path d="M299 1314l8 23 3 25-2 26-7 25-12 26-14 20-17 10-20 0-23-11 29-41 26-51 24-60z" fill="#e8f800"/>
<path d="M293 1326l7 22 3 24-2 24-7 25-11 24-12 17-16 8-19-1-21-11 27-38 24-46 23-54z" fill="#b0ec08"/>
<path d="M288 1342l7 25 1 25-5 26-10 25-13 22-16 5-17-2-20-10 25-35 22-41 21-48z" fill="#60e418"/>
<path d="M281 1354l6 23 1 24-4 25-10 24-10 17-15 3-16-2-18-10 33-49 30-61z" fill="#21e027"/>
<path d="M275 1372l5 24-1 26-8 26-11 21-21 0-24-11 29-43 27-52z" fill="#0ae043"/>
<path d="M269 1390l3 27-5 27-12 26-19-1-21-11 26-36 23-43z" fill="#00e080"/>
<path d="M259 1402l3 24-5 25-8 19-16-3-18-9 41-64z" fill="#00debc"/>
<path d="M250 1421l0 26-8 23-27-12 32-47z" fill="#00d8e7"/>
<path d="M288 1439l-9 15-10 10-12 5-13 1-14-3-15-9 24-33 22-40 20-45 19-52 17-60 7 39 6 32 4 25 2 20 0 12-3 3-21 44z" fill="#100c00" fill-opacity="0.18"/>
<path d="M288 1439l-9 15-10 10-12 5-13 1-14-3-15-9 24-33 22-40 20-45 19-52 17-60 7 39 6 32 4 25 2 20 0 12-3 3-21 44z" fill="#100c00" fill-opacity="0.24"/>
<path d="M288 1439l-9 15-10 10-12 5-13 1-14-3-15-9 24-33 22-40 20-45 19-52 17-60 7 39 6 32 4 25 2 20 0 12-3 3-21 44z" fill="#100c00" fill-opacity="0.25"/>
<path d="M288 1439l-9 15-10 10-12 5-13 1-14-3-15-9 24-33 22-40 20-45 19-52 17-60 7 39 6 32 4 25 2 20 0 12-3 3-21 44z" fill="#100c00" fill-opacity="0.20"/>
<path d="M288 1439l-9 15-10 10-12 5-13 1-14-3-15-9 24-33 22-40 20-45 19-52 17-60 7 39 6 32 4 25 2 20 0 12-3 3-21 44z" fill="#100c00" fill-opacity="0.13"/>
<path d="M241 1429l0 24-5 15-21-10 24-34z" fill="#0085e0"/>
<path d="M232 1447l-3 19-14-8 15-20z" fill="#0046f1"/>
<path d="M219 1461l-4-3 3-4z" fill="#0025fb"/>
<path d="M215 1458l24-34 2 5 0 24-5 15z" fill="#000010" fill-opacity="0.18"/>
<path d="M215 1458l24-34 2 5 0 24-5 15z" fill="#000010" fill-opacity="0.24"/>
<path d="M215 1458l24-34 2 5 0 24-5 15z" fill="#000010" fill-opacity="0.25"/>
<path d="M215 1458l24-34 2 5 0 24-5 15z" fill="#000010" fill-opacity="0.20"/>
<path d="M215 1458l24-34 2 5 0 24-5 15z" fill="#000010" fill-opacity="0.13"/>
<path d="M333 1359l-21 44-24 36-9 15-10 10-12 5-13 1-14-3-15-9 24-33 22-40 20-45 19-52 17-60 7 39 6 32 4 25 2 20 0 12z" fill="#001000" fill-opacity="0.4"/>
<path d="M3220 1588l-43 16-41 8-38 1-36-5-35-11-33-16-31-23-30-32-18-4-17-12-14-19-13-25-12-30-10-36-8-43-7-51 17 5 19-3 20-10 21-17 23-21 24-28 26-35 28-44 28 32 30 23 31 17 34 10 35 4 36-2 39-9 42-17 6 51 9 42 10 36 13 29 14 24 17 18 19 12 22 3-30 44-27 36-25 29-22 23-21 17-20 12-17 5z" fill="#cc102a"/>
<path d="M3222 1594l-30 6-55 12-51 0-47-10-45-21-41-33-17-12-16-12-22-15-19-26-16-37-14-46-11-60 5-23 2-7 25-2 27-15 29-25 32-36 35-48 8-4 29-5 39 33 43 20 45 10 49-1 53-13 17 9 15 13 11 58 14 46 18 36 22 25 26 14-3 24-3 7-36 50-32 37-30 27-26 17-22 4z" fill="#f61e12"/>
<path d="M3213 1599l-30 6-20 3-52 5-49-5-46-15-43-27-8-5-26-17-24-20-6-6-21-20-17-32-15-41-13-52 1-17 5-24 8-21 26-9 28-21 31-30 33-42 27-8 29-6 19-1 41 26 44 15 47 4 50-7 8 4 26 16 24 18 6 7 12 51 17 41 19 31 24 19 0 16-3 24-7 23-34 43-31 33-28 22-25 11z" fill="#ff4400"/>
<path d="M3227 1597l-30 9-32 5-32 1-48 0-45-10-43-20-28-14-28-18-24-21-20-21-18-25-16-35-13-45-1-24 4-26 7-24 11-22 27-15 28-24 30-34 26-10 29-8 31-5 30-1 41 19 44 9 46-1 28 14 27 17 24 19 20 20 14 44 18 34 20 25 2 24-2 26-6 26-10 22-31 35-28 26-25 17z" fill="#ff6c00"/>
<path d="M3271 1575l-24 14-28 11-29 9-31 5-32 1-33-2-32-5-32-9-30-12-29-14-26-18-24-20-20-21-17-23-13-25-9-25-5-25-1-25 3-25 8-24 11-22 15-20 18-19 22-16 24-13 26-11 29-7 30-5 30-1 31 2 32 5 30 8 30 11 28 13 26 17 23 18 21 21 18 22 14 24 10 25 6 25 2 25-2 25-6 25-10 23-14 21-18 20z" fill="#ff9200"/>
<path d="M3261 1579l-27 15-29 11-31 8-34 4-34 0-34-5-34-8-32-11-30-16-28-18-25-21-21-23-17-25-12-26-8-26-3-27 2-26 6-25 11-24 15-22 19-19 23-17 26-14 28-10 31-7 32-4 32 0 33 4 33 8 31 11 30 14 27 17 25 20 21 22 18 24 14 25 9 26 4 27 0 26-5 26-10 25-15 23-19 20z" fill="#ffb200"/>
<path d="M3252 1582l-25 15-28 11-31 7-32 3-32 0-33-4-33-8-31-11-29-14-27-18-24-20-20-22-16-24-12-25-8-26-3-26 2-25 6-24 10-23 15-21 19-19 21-16 25-13 28-11 29-6 31-4 31 1 32 3 31 7 30 11 29 14 27 16 23 19 21 21 17 24 13 24 9 25 4 26 0 26-5 25-10 23-14 22-18 20z" fill="#ffd700"/>
<path d="M3243 1585l-24 14-27 10-29 7-31 4-31 0-32-4-31-8-30-10-28-14-26-17-23-20-19-21-16-23-11-24-8-25-2-24 1-25 6-23 10-22 14-20 18-19 21-15 24-13 26-10 28-6 30-3 30 0 31 3 30 7 29 10 27 14 26 15 23 19 19 20 17 23 12 23 9 24 4 25-1 25-5 24-9 23-13 21-18 19z" fill="#fff200"/>
<path d="M3232 1589l-26 14-29 10-31 6-33 2-33-2-33-7-32-10-30-14-27-18-24-20-20-23-15-25-11-25-6-26 0-26 4-25 10-24 14-22 19-19 22-16 26-13 28-10 30-5 32-2 32 2 32 6 31 10 29 13 27 17 24 19 20 22 16 24 12 25 7 26 1 26-3 26-9 24-13 23-19 20z" fill="#e8f800"/>
<path d="M3223 1592l-25 13-28 9-29 6-32 2-31-2-32-6-30-10-29-14-26-17-22-19-19-22-15-23-10-25-6-25 0-24 4-24 10-23 13-21 18-18 21-16 24-12 27-9 29-6 30-1 31 2 30 6 30 9 28 13 26 16 22 18 20 21 15 23 11 24 7 25 1 25-3 24-8 23-13 22-18 19z" fill="#b0ec08"/>
<path d="M3211 1595l-27 13-29 10-33 4-33 0-33-5-33-10-30-13-28-18-23-21-20-23-14-25-9-26-3-26 3-26 8-24 14-22 18-20 23-16 26-13 29-8 31-5 32 1 33 4 31 9 30 13 27 17 24 19 20 23 15 24 9 26 5 27-2 26-7 24-13 23-18 21z" fill="#60e418"/>
<path d="M3202 1597l-26 12-28 9-30 4-31 0-32-5-31-9-28-13-26-16-23-20-18-22-13-23-9-25-3-25 3-24 8-23 12-21 18-19 21-15 25-12 27-8 30-4 30 0 31 4 29 9 29 12 25 16 23 19 18 21 15 23 9 24 4 25-2 25-7 23-12 22-17 19z" fill="#21e027"/>
<path d="M3189 1599l-27 13-31 8-32 2-34-3-32-8-31-13-28-17-23-21-18-23-13-26-6-26 0-26 6-25 13-22 18-20 23-16 26-12 30-7 32-3 32 3 32 8 30 12 27 16 24 20 18 23 14 25 7 26 1 26-6 26-12 23-17 21z" fill="#0ae043"/>
<path d="M3175 1602l-29 12-34 6-35 0-35-7-33-12-29-18-25-23-18-25-11-27-3-28 4-27 12-25 19-21 24-17 29-12 33-5 34 0 34 6 32 12 30 17 24 22 19 25 12 27 4 28-3 27-12 25-18 22z" fill="#00e080"/>
<path d="M3165 1601l-27 12-31 5-32 0-32-6-31-12-27-16-22-21-17-23-10-25-3-26 4-24 11-23 17-20 23-15 26-11 30-5 31 0 32 6 30 11 27 16 22 19 17 23 11 25 4 26-3 25-11 23-16 20z" fill="#00debc"/>
<path d="M3150 1602l-30 11-33 3-34-4-32-11-29-16-23-22-16-26-8-26 1-27 10-25 17-21 24-16 30-9 32-4 33 4 32 10 29 17 23 21 16 25 9 26 0 27-10 25-17 22z" fill="#00d8e7"/>
<path d="M3062 1549l-17-30-16-35-14-42-12-48-11-54-10-61-7-69 37-57 28 32 30 23 31 17 34 10 35 4 36-2 39-9 42-17 6 51 9 42 10 36 13 29 14 24 17 18 19 12 22 3-30 44-27 36-25 29-22 23-21 17-20 12-17 5-15-4-43 16-41 8-38 1-36-5-35-11-33-16-31-23-30-32-9-1 13 25 14 15 16 10 17 5 18 0 19-5 20-11z" fill="#100c00" fill-opacity="0.18"/>
<path d="M3062 1549l-12-29-11-33-10-39-8-43-7-50-5-55-5-60-1-72 9-15 28 32 30 23 31 17 34 10 35 4 36-2 39-9 42-17 6 51 9 42 10 36 13 29 14 24 17 18 19 12 22 3-30 44-27 36-25 29-22 23-21 17-20 12-17 5-15-4-45 17-43 7-40 0-38-6-36-13-34-19-33-27 9 21 12 12 12 8 13 2 15-3 15-8 17-13z" fill="#100c00" fill-opacity="0.24"/>
<path d="M3062 1549l-8-28-7-34-6-38-4-43-3-48-2-53-1-59 2-67 31 25 32 18 34 12 36 5 38-2 40-8 43-18 6 51 9 42 10 36 13 29 14 24 17 18 19 12 22 3-30 44-27 36-25 29-22 23-21 17-20 12-17 5-15-4-46 17-43 7-40 0-38-6-37-13-34-20 7 15 9 8 10 2 11-3 13-10 15-15z" fill="#100c00" fill-opacity="0.25"/>
<path d="M3062 1549l-4-31-2-37-2-43 1-48 2-55 4-61 5-68 32 17 34 11 35 5 38-2 40-9 42-17 6 51 9 42 10 36 13 29 14 24 17 18 19 12 22 3-30 44-27 36-25 29-22 23-21 17-20 12-17 5-15-4-46 17-43 8-40-1-39-6-36-14 2 11 4 4 5-1 7-6 8-12 10-17z" fill="#100c00" fill-opacity="0.20"/>
<path d="M3062 1549l3-30 4-35 5-40 7-45 8-51 10-57 11-63 32 8 33 3 35-3 38-9 39-16 6 51 9 42 10 36 13 29 14 24 17 18 19 12 22 3-30 44-27 36-25 29-22 23-21 17-20 12-17 5-15-4-43 16-41 8-38 1-36-5-5 7-2 2-2-3 0-9 2-14 3-18z" fill="#100c00" fill-opacity="0.13"/>
<path d="M3141 1601l-27 9-30 3-31-3-29-10-27-16-21-20-14-23-7-24 0-24 9-23 16-19 22-15 27-9 29-3 31 4 29 9 26 15 21 20 15 22 8 25-1 24-8 23-16 19z" fill="#0085e0"/>
<path d="M3127 1600l-30 8-33 0-32-9-29-16-22-21-13-25-3-27 7-25 16-21 24-15 30-8 32 1 32 8 29 15 22 22 13 25 4 26-6 25-16 21z" fill="#0046f1"/>
<path d="M3112 1598l-34 6-36-6-31-16-23-24-10-28 3-28 16-23 27-16 34-5 35 6 31 15 23 24 11 28-3 28-16 24z" fill="#0025fb"/>
<path d="M3093 1594l-38 0-36-16-22-27-4-30 16-27 30-15 38 0 35 16 23 27 4 30-15 27z" fill="#0011f2"/>
<path d="M3083 1584l-27-1-25-11-16-19-2-22 11-18 21-11 27 0 25 11 16 19 3 22-11 19z" fill="#0006db"/>
<path d="M3013 1433l16-6 29-3 31 4 29 9 26 15 21 20 15 22 8 25-1 24-8 23-16 19-22 16-27 9-30 3-31-3-29-10-27-16-4-3 21-4 24-11 24-17-18-32-16-38z" fill="#000010" fill-opacity="0.18"/>
<path d="M3025 1429l4-2 29-3 31 4 29 9 26 15 21 20 15 22 8 25-1 24-8 23-16 19-22 16-27 9-30 3-31-3-29-10-20-11 18-7 19-13 21-20-14-33-12-40z" fill="#000010" fill-opacity="0.24"/>
<path d="M3039 1427l19-3 31 4 29 9 26 15 21 20 15 22 8 25-1 24-8 23-16 19-22 16-27 9-30 3-31-3-29-10-8-4 14-9 15-16 17-22-9-34-8-41z" fill="#000010" fill-opacity="0.25"/>
<path d="M3054 1425l4-1 31 4 29 9 26 15 21 20 15 22 8 25-1 24-8 23-16 19-22 16-27 9-30 3-31-3-22-7 9-12 10-18 12-24-4-35-3-41z" fill="#000010" fill-opacity="0.20"/>
<path d="M3076 1427l13 1 29 9 26 15 21 20 15 22 8 25-1 24-8 23-16 19-22 16-27 9-30 3-31-3 1-14 3-20 5-27 3-34 5-41z" fill="#000010" fill-opacity="0.13"/>
<path d="M3220 1588l-43 16-41 8-38 1-36-5-35-11-33-16-31-23-30-32-18-4-17-12-14-19-13-25-12-30-10-36-8-43-7-51 17 5 19-3 20-10 21-17 23-21 24-28 26-35 28-44 28 32 30 23 31 17 34 10 35 4 36-2 39-9 42-17 6 51 9 42 10 36 13 29 14 24 17 18 19 12 22 3-30 44-27 36-25 29-22 23-21 17-20 12-17 5z" fill="none" stroke="#e62c14" stroke-width="8" stroke-opacity="0.7" stroke-linejoin="round"/>
<path d="M1411 1605l-32 16-33 7-34 1-33-5-35-11-35-16-36-23-37-32-4-4-4-13-6-19-7-24-7-30-8-36-9-43-10-52 30 5 28-3 27-10 27-17 25-21 25-28 24-35 23-44 35 32 34 23 33 16 33 10 33 5 32-2 33-9 32-17 9 51 8 42 9 36 8 29 8 24 8 19 8 11 8 4-25 44-25 35-26 29-25 23-26 18-27 12-27 5z" fill="#cc102a"/>
<path d="M1421 1610l-31 6-44 12-44 0-46-10-46-21-49-33-15-12-12-12-7-15-7-26-9-37-11-47-12-59 9-24 4-6 38-3 36-15 35-25 33-36 31-49 9-3 30-5 46 33 44 20 44 10 43-1 43-14 15 10 13 13 12 58 11 47 11 35 10 26 11 13-8 24-4 8-33 50-34 37-35 27-35 17-37 5z" fill="#f61e12"/>
<path d="M1420 1615l-32 7-20 2-45 5-44-5-46-15-47-27-8-5-23-17-19-20-5-6-7-21-9-31-9-42-12-52 4-16 10-24 12-22 37-9 36-21 34-30 32-43 28-8 30-5 20-1 45 26 43 14 44 5 43-7 7 4 23 16 20 18 5 7 11 52 11 40 11 31 10 20-2 15-9 25-11 23-34 43-34 32-35 23-37 11z" fill="#ff4400"/>
<path d="M1440 1613l-32 9-33 5-32 1-43 0-43-10-45-20-25-14-24-18-20-21-16-21-7-26-9-35-10-44 4-25 9-26 12-24 15-22 35-15 33-24 32-34 28-10 31-8 32-5 30-1 42 19 42 9 42-1 24 14 24 17 21 19 16 20 11 44 10 34 11 25-3 25-7 26-12 25-14 23-33 35-33 26-34 17z" fill="#ff6c00"/>
<path d="M1495 1591l-28 14-29 12-31 8-32 5-33 1-32-2-31-5-30-9-29-12-25-14-23-18-20-20-16-21-12-24-9-24-4-25 0-26 5-25 8-25 12-23 15-23 20-20 22-19 24-16 27-13 29-11 30-7 30-5 31-1 31 2 30 4 29 8 28 11 25 14 23 17 20 18 17 21 13 23 9 23 6 25 1 25-3 26-7 25-11 24-15 23-18 22-22 19z" fill="#ff9200"/>
<path d="M1488 1595l-29 15-31 11-33 8-34 4-35 0-33-5-32-8-30-11-28-16-24-18-21-21-16-23-12-25-8-26-2-27 2-26 7-27 11-25 16-24 20-22 23-19 26-17 28-14 31-10 32-8 32-3 33 0 32 4 31 8 30 10 27 15 24 17 21 20 17 22 13 24 8 25 4 27-1 26-5 27-11 26-14 25-19 23-23 20z" fill="#ffb200"/>
<path d="M1484 1598l-28 15-30 11-32 7-33 3-33 0-32-4-31-8-29-11-27-15-23-17-20-20-16-23-11-24-7-25-3-25 2-26 7-26 11-24 15-23 19-21 22-19 25-16 28-14 29-10 31-7 31-3 32 0 31 4 30 7 28 11 26 13 23 17 20 19 17 22 12 23 8 24 4 26-1 26-5 25-10 25-14 24-18 22-23 20z" fill="#ffd700"/>
<path d="M1480 1601l-27 14-29 10-31 7-31 4-32 0-31-4-30-8-27-11-26-14-22-17-19-19-16-21-11-23-7-25-2-24 2-25 6-24 11-24 14-22 18-20 22-19 24-15 26-13 29-10 29-6 30-4 31 1 29 3 29 7 27 10 25 13 23 16 19 19 16 20 12 23 8 23 3 25-1 25-5 24-9 24-14 23-18 21-21 20z" fill="#fff200"/>
<path d="M1473 1605l-29 14-31 10-33 6-33 2-33-2-32-7-30-10-27-14-24-18-20-21-15-23-11-24-5-26-1-26 5-26 10-25 14-24 18-22 23-19 25-16 28-13 30-10 32-6 32-1 31 2 31 6 29 10 27 13 24 17 20 20 16 22 11 23 7 26 2 26-4 26-8 26-14 24-17 23-23 20z" fill="#e8f800"/>
<path d="M1468 1607l-28 14-29 9-31 6-32 2-31-2-30-6-29-11-26-13-23-17-19-20-14-21-10-24-6-24 0-25 4-25 9-24 14-23 17-21 22-18 24-16 27-12 29-9 30-6 30-1 30 2 30 5 27 10 26 13 23 16 19 18 15 21 11 23 6 24 2 25-3 25-8 25-13 23-17 22-22 19z" fill="#b0ec08"/>
<path d="M1460 1611l-29 13-32 9-33 5-33 0-33-5-30-10-28-14-24-17-20-21-15-23-9-25-4-27 2-26 8-26 13-24 18-22 22-20 26-16 28-13 31-9 32-4 32 0 32 5 30 9 27 13 24 17 20 20 15 22 11 25 4 26 0 26-7 26-12 25-18 23-22 21z" fill="#60e418"/>
<path d="M1455 1612l-28 13-29 9-32 4-31 0-31-5-29-9-26-13-23-17-18-19-14-22-9-24-4-25 2-25 7-24 13-23 16-21 21-19 25-15 27-12 29-8 30-4 31 0 29 4 29 9 26 12 22 16 19 19 15 21 9 23 5 25-1 25-6 24-12 24-16 22-21 19z" fill="#21e027"/>
<path d="M1447 1615l-30 13-32 7-33 3-33-3-31-8-28-13-25-17-19-21-14-24-7-25-2-27 5-26 12-25 17-22 21-20 26-16 30-12 31-7 32-3 32 3 30 8 28 12 24 16 20 20 14 23 8 25 3 27-5 26-10 25-16 24-22 20z" fill="#0ae043"/>
<path d="M1437 1617l-32 13-34 6-35 0-34-7-31-13-26-18-20-22-13-26-6-27 2-28 9-27 17-25 23-21 28-17 31-12 34-6 34 1 33 6 30 12 26 17 21 22 14 25 6 27-1 28-9 27-16 26-22 22z" fill="#00e080"/>
<path d="M1432 1617l-30 11-31 6-33 0-31-6-28-12-24-16-18-21-13-23-5-26 2-25 9-25 15-23 21-20 26-15 29-11 30-5 32 0 30 6 28 11 24 16 19 20 12 23 6 24-1 26-8 25-15 24-20 20z" fill="#00debc"/>
<path d="M1421 1618l-31 10-34 4-33-4-31-11-26-17-19-22-11-25-2-27 6-27 14-25 22-21 27-16 31-10 33-3 33 4 30 10 25 17 20 21 11 25 4 27-6 26-14 26-21 21z" fill="#00d8e7"/>
<path d="M1365 1564l-14-30-13-35-15-42-15-48-16-54-16-61-17-70 31-56 35 32 34 23 33 16 33 10 33 5 32-2 33-9 32-17 9 51 8 42 9 36 8 29 8 24 8 19 8 11 8 4-25 44-25 35-26 29-25 23-26 18-27 12-27 5-29-3-32 16-33 7-34 1-33-5-35-11-35-16-36-23-37-32-1-1 32 25 32 15 29 10 29 5 28-1 28-5 26-11z" fill="#100c00" fill-opacity="0.18"/>
<path d="M1365 1564l-9-28-9-34-9-39-10-44-10-49-11-55-12-61-12-71 7-15 35 32 34 23 33 16 33 10 33 5 32-2 33-9 32-17 9 51 8 42 9 36 8 29 8 24 8 19 8 11 8 4-25 44-25 35-26 29-25 23-26 18-27 12-27 5-29-3-34 16-35 8-35 0-36-7-36-12-37-20-39-27 30 21 28 12 27 7 25 2 25-3 24-8 24-12z" fill="#100c00" fill-opacity="0.24"/>
<path d="M1365 1564l-5-28-4-34-6-38-5-43-6-48-7-53-7-59-8-68 35 26 35 18 34 11 34 6 33-2 33-9 34-17 9 51 8 42 9 36 8 29 8 24 8 19 8 11 8 4-25 44-25 35-26 29-25 23-26 18-27 12-27 5-29-3-34 16-35 8-36 0-36-7-37-13-37-20 27 15 26 8 25 2 24-4 23-9 22-16z" fill="#100c00" fill-opacity="0.25"/>
<path d="M1365 1564l0-31 0-37-1-43-2-49-2-54-2-61-3-68 34 17 34 11 33 5 33-2 33-9 33-17 9 51 8 42 9 36 8 29 8 24 8 19 8 11 8 4-25 44-25 35-26 29-25 23-26 18-27 12-27 5-29-3-35 16-35 8-36-1-36-6-37-14 22 11 20 4 20-1 19-7 18-11 17-18z" fill="#100c00" fill-opacity="0.20"/>
<path d="M1365 1564l6-30 6-34 6-41 5-45 5-51 4-57 4-63 32 8 30 3 31-3 30-9 31-16 9 51 8 42 9 36 8 29 8 24 8 19 8 11 8 4-25 44-25 35-26 29-25 23-26 18-27 12-27 5-29-3-32 16-33 7-34 1-33-5 14 7 14 2 13-4 12-8 11-14 11-19z" fill="#100c00" fill-opacity="0.13"/>
<path d="M1417 1616l-29 10-31 3-30-4-28-10-24-15-17-20-10-23-2-25 5-24 13-23 20-19 25-15 28-9 30-3 30 4 27 9 24 15 17 20 11 22 3 25-5 24-13 23-19 20z" fill="#0085e0"/>
<path d="M1406 1616l-31 8-33-1-31-8-26-16-18-22-8-25 2-27 11-25 21-21 27-15 31-8 32 1 31 8 25 15 18 22 9 25-1 26-11 25-20 22z" fill="#0046f1"/>
<path d="M1394 1614l-35 5-34-6-29-16-18-24-5-28 9-28 21-23 30-16 34-5 34 6 28 15 19 24 5 28-8 28-20 24z" fill="#0025fb"/>
<path d="M1380 1610l-39 0-32-16-17-27 2-31 20-27 34-15 38 1 32 15 18 27-2 31-20 27z" fill="#0011f2"/>
<path d="M1376 1599l-27 0-23-11-12-19 1-22 14-19 24-11 27 0 23 11 12 19-1 22-14 19z" fill="#0006db"/>
<path d="M1320 1448l17-6 30-3 30 4 27 9 24 15 17 20 11 22 3 25-5 24-13 23-19 20-25 15-29 10-31 3-30-4-28-10-24-15-3-4 32-4 31-10 30-18-14-32-15-38z" fill="#000010" fill-opacity="0.18"/>
<path d="M1333 1444l4-2 30-3 30 4 27 9 24 15 17 20 11 22 3 25-5 24-13 23-19 20-25 15-29 10-31 3-30-4-28-10-17-11 28-6 28-14 27-20-10-33-10-40z" fill="#000010" fill-opacity="0.24"/>
<path d="M1347 1442l20-3 30 4 27 9 24 15 17 20 11 22 3 25-5 24-13 23-19 20-25 15-29 10-31 3-30-4-28-10-6-3 25-10 24-15 23-23-5-34-6-41z" fill="#000010" fill-opacity="0.25"/>
<path d="M1363 1440l4-1 30 4 27 9 24 15 17 20 11 22 3 25-5 24-13 23-19 20-25 15-29 10-31 3-30-4-21-7 21-11 19-18 19-25 0-34-1-42z" fill="#000010" fill-opacity="0.20"/>
<path d="M1385 1442l12 1 27 9 24 15 17 20 11 22 3 25-5 24-13 23-19 20-25 15-29 10-31 3-30-4 13-14 13-20 12-27 7-34 7-41z" fill="#000010" fill-opacity="0.13"/>
<path d="M1411 1605l-32 16-33 7-34 1-33-5-35-11-35-16-36-23-37-32-4-4-4-13-6-19-7-24-7-30-8-36-9-43-10-52 30 5 28-3 27-10 27-17 25-21 25-28 24-35 23-44 35 32 34 23 33 16 33 10 33 5 32-2 33-9 32-17 9 51 8 42 9 36 8 29 8 24 8 19 8 11 8 4-25 44-25 35-26 29-25 23-26 18-27 12-27 5z" fill="none" stroke="#e62c14" stroke-width="8" stroke-opacity="0.7" stroke-linejoin="round"/>
<path d="M2746 1692l-41 16-39 7-37 1-36-6-35-10-34-17-33-23-32-32-15-5-13-13-13-19-11-26-11-30-9-37-9-43-8-52 21 5 22-4 22-11 23-16 23-23 25-28 25-35 27-44 30 32 32 23 32 17 34 10 34 4 36-1 38-9 40-17 7 51 8 43 10 36 12 30 13 25 14 19 17 12 18 4-29 44-26 36-26 29-23 24-23 18-21 12-20 6z" fill="#cc102a"/>
<path d="M2749 1697l-30 6-52 12-50 0-47-11-46-21-44-33-16-12-15-12-19-16-16-27-14-38-13-47-12-60 6-24 3-7 29-3 29-16 31-25 33-37 34-48 9-4 29-5 41 33 44 21 45 9 48 0 51-14 16 11 15 13 11 58 14 47 17 36 19 27 22 14-5 25-2 8-37 49-33 38-31 27-28 18-27 6z" fill="#f61e12"/>
<path d="M2743 1702l-31 6-20 3-51 5-48-6-47-15-44-27-8-5-26-17-23-20-6-6-17-22-15-32-14-43-12-52 1-17 7-25 9-22 29-9 31-21 32-32 33-42 27-8 30-6 19-1 42 26 45 15 46 4 49-6 8 3 26 17 23 19 5 7 13 52 15 41 17 32 21 20-1 16-4 25-8 23-35 44-32 33-30 23-28 12z" fill="#ff4400"/>
<path d="M2759 1700l-31 8-33 6-32 1-47-1-46-10-44-19-27-15-27-19-23-21-19-21-16-27-14-36-12-45 0-25 5-26 9-25 12-22 29-15 30-25 31-34 26-11 31-8 31-5 30-1 42 19 44 9 46 0 26 13 27 18 24 20 19 20 13 45 16 35 18 25 1 25-3 27-8 26-12 23-31 36-30 26-28 17z" fill="#ff6c00"/>
<path d="M2806 1676l-26 15-28 12-30 8-31 5-33 2-33-2-32-6-32-8-30-13-28-15-26-17-23-21-19-22-16-24-12-25-8-25-4-26 1-26 5-25 8-24 13-23 16-21 20-18 22-17 25-13 28-11 29-8 30-5 31-1 32 2 31 5 30 8 30 11 27 14 26 17 22 19 20 21 17 23 13 24 9 25 5 26 1 26-3 26-8 24-12 24-15 22-19 20z" fill="#ff9200"/>
<path d="M2796 1681l-27 15-30 12-32 7-34 4-34 0-35-4-34-9-32-12-30-15-27-19-24-21-20-24-16-25-11-27-6-27-2-27 3-27 8-26 12-24 17-22 20-20 24-17 27-14 29-11 31-7 33-4 33 1 33 3 32 8 31 11 30 15 27 17 24 20 20 23 17 24 12 26 8 27 3 27-2 28-6 26-12 25-15 24-21 21z" fill="#ffb200"/>
<path d="M2789 1684l-26 14-29 11-31 8-33 4-33-1-33-4-33-8-31-11-29-15-26-18-23-21-19-22-15-25-11-25-6-27-2-26 3-26 8-25 12-23 15-22 20-19 23-16 26-14 28-10 30-7 31-4 32 1 32 3 31 8 30 11 29 13 25 17 23 20 20 22 16 23 12 25 8 26 3 26-2 27-6 25-11 24-16 23-19 20z" fill="#ffd700"/>
<path d="M2781 1686l-25 14-28 11-30 7-31 4-32 0-32-4-31-8-29-11-28-14-25-18-22-19-19-22-14-24-11-24-6-25-1-26 2-25 8-24 11-22 15-21 19-18 22-16 25-13 27-10 29-7 30-3 31 0 30 4 30 7 29 10 27 14 25 16 22 18 19 21 16 23 11 24 7 25 3 25-2 26-6 24-10 23-15 22-19 19z" fill="#fff200"/>
<path d="M2771 1690l-27 14-30 11-32 6-33 2-34-2-33-7-31-11-30-14-27-18-23-21-19-24-14-25-9-26-4-27 0-26 6-26 11-24 16-22 19-20 24-16 26-14 29-9 31-6 32-2 33 2 32 7 30 10 29 13 27 17 23 20 19 23 15 24 11 26 5 26 1 27-5 26-10 25-15 23-20 21z" fill="#e8f800"/>
<path d="M2763 1692l-26 14-28 10-31 6-31 2-32-3-32-6-30-10-28-14-26-17-22-20-18-23-13-24-9-25-4-25 0-25 6-25 10-23 15-21 19-19 22-16 26-12 27-10 30-5 30-2 31 2 31 6 29 10 28 13 25 16 22 19 18 22 15 23 10 24 5 26 0 25-4 25-10 24-14 22-19 19z" fill="#b0ec08"/>
<path d="M2752 1696l-28 13-30 10-33 4-34 0-33-5-32-10-31-14-26-18-23-21-19-24-13-25-7-27-2-27 4-26 10-25 14-23 20-20 24-16 27-13 30-9 31-4 33 0 32 5 32 9 29 13 27 17 23 20 19 23 14 25 8 27 3 27-3 26-9 26-14 23-19 21z" fill="#60e418"/>
<path d="M2744 1697l-27 13-29 9-30 4-32 0-32-5-30-9-29-14-25-16-22-20-17-23-12-24-7-25-2-26 4-24 9-24 14-21 18-19 23-16 25-12 29-9 29-4 31 1 31 4 29 9 28 12 25 16 22 19 18 22 13 24 8 25 3 25-3 25-8 24-14 23-18 19z" fill="#21e027"/>
<path d="M2732 1699l-28 13-32 8-33 2-33-2-33-9-30-13-27-17-23-22-17-24-11-26-5-26 1-27 8-25 14-24 19-20 24-16 27-12 31-8 32-2 32 3 32 8 30 12 27 17 22 20 18 24 12 25 6 27 0 27-7 25-13 24-19 21z" fill="#0ae043"/>
<path d="M2719 1702l-30 12-34 6-36 0-35-7-33-13-29-18-23-23-17-26-10-28-2-28 6-28 13-25 20-22 26-17 30-12 33-6 35 1 34 6 32 12 29 18 23 22 18 25 11 28 2 28-4 28-13 26-20 23z" fill="#00e080"/>
<path d="M2710 1701l-28 11-31 6-33 0-32-6-30-12-27-17-21-21-16-24-9-25-2-27 6-25 12-23 18-20 24-16 27-11 31-5 31 0 32 6 29 11 27 16 22 20 16 24 9 25 3 26-5 26-11 24-18 20z" fill="#00debc"/>
<path d="M2696 1702l-30 10-34 4-34-4-33-11-28-18-22-22-15-26-6-27 2-27 11-25 19-22 25-16 30-10 33-4 33 4 32 11 28 16 23 22 15 25 7 28-2 27-10 26-19 22z" fill="#00d8e7"/>
<path d="M2616 1646l-17-30-15-37-14-42-14-48-12-55-11-61-11-69 36-57 30 32 32 23 32 17 34 10 34 4 36-1 38-9 40-17 7 51 8 43 10 36 12 30 13 25 14 19 17 12 18 4-29 44-26 36-26 29-23 24-23 18-21 12-20 6-19-3-41 16-39 7-37 1-36-6-35-10-34-17-33-23-32-32-7-1 18 24 19 15 20 9 20 4 21-1 21-6 22-10z" fill="#100c00" fill-opacity="0.18"/>
<path d="M2616 1646l-12-29-10-34-10-39-9-44-8-50-7-55-6-61-4-72 8-15 30 32 32 23 32 17 34 10 34 4 36-1 38-9 40-17 7 51 8 43 10 36 12 30 13 25 14 19 17 12 18 4-29 44-26 36-26 29-23 24-23 18-21 12-20 6-19-3-43 16-41 7-39 0-38-6-37-13-35-20-34-27 14 20 16 12 16 6 17 2 17-4 19-8 18-13z" fill="#100c00" fill-opacity="0.24"/>
<path d="M2616 1646l-7-29-7-34-6-38-4-43-4-49-4-54-2-59-1-67 32 25 34 18 34 12 36 5 37-1 39-9 41-17 7 51 8 43 10 36 12 30 13 25 14 19 17 12 18 4-29 44-26 36-26 29-23 24-23 18-21 12-20 6-19-3-44 16-41 7-39 0-38-7-37-13-36-20 12 14 14 8 14 1 15-5 16-10 16-16z" fill="#100c00" fill-opacity="0.25"/>
<path d="M2616 1646l-3-32-2-38-1-43 0-49 1-54 2-62 3-68 33 17 34 11 35 5 37-1 38-9 41-17 7 51 8 43 10 36 12 30 13 25 14 19 17 12 18 4-29 44-26 36-26 29-23 24-23 18-21 12-20 6-19-3-44 16-41 7-40 0-38-7-37-13 7 9 9 4 9-2 10-7 11-13 11-17z" fill="#100c00" fill-opacity="0.20"/>
<path d="M2616 1646l3-30 5-36 5-40 7-46 7-52 9-57 9-63 32 8 33 3 34-2 36-9 38-16 7 51 8 43 10 36 12 30 13 25 14 19 17 12 18 4-29 44-26 36-26 29-23 24-23 18-21 12-20 6-19-3-41 16-39 7-37 1-36-6 0 7 2 1 2-5 3-9 5-14 5-20z" fill="#100c00" fill-opacity="0.13"/>
<path d="M2688 1700l-27 9-31 3-31-3-30-10-25-16-21-20-13-24-6-25 2-25 10-23 17-19 23-15 28-9 30-3 30 3 29 10 26 15 20 20 14 23 7 25-2 25-10 23-16 20z" fill="#0085e0"/>
<path d="M2675 1699l-31 8-33 0-32-9-28-16-21-22-12-26-2-27 8-25 17-22 26-15 30-8 33 0 31 8 28 16 22 22 12 25 3 27-8 26-17 22z" fill="#0046f1"/>
<path d="M2660 1697l-34 5-36-6-31-16-22-25-9-28 5-29 18-23 28-16 34-6 35 6 31 16 22 24 9 29-4 29-17 24z" fill="#0025fb"/>
<path d="M2643 1693l-39 0-35-17-21-27-3-32 17-27 32-15 38 0 35 16 22 27 2 32-16 27z" fill="#0011f2"/>
<path d="M2634 1681l-27 0-25-11-15-20-1-22 12-19 22-11 27 0 25 12 15 19 2 22-12 19z" fill="#0006db"/>
<path d="M2567 1529l17-6 30-3 30 3 29 10 26 15 20 20 14 23 7 25-2 25-10 23-16 20-24 16-27 9-31 3-31-3-30-10-25-16-5-4 25-4 25-11 27-18-18-33-16-39z" fill="#000010" fill-opacity="0.18"/>
<path d="M2580 1524l4-1 30-3 30 3 29 10 26 15 20 20 14 23 7 25-2 25-10 23-16 20-24 16-27 9-31 3-31-3-30-10-19-11 21-8 22-14 23-20-13-34-12-41z" fill="#000010" fill-opacity="0.24"/>
<path d="M2594 1522l20-2 30 3 29 10 26 15 20 20 14 23 7 25-2 25-10 23-16 20-24 16-27 9-31 3-31-3-30-10-7-4 17-10 18-16 19-23-9-35-7-41z" fill="#000010" fill-opacity="0.25"/>
<path d="M2610 1520l4 0 30 3 29 10 26 15 20 20 14 23 7 25-2 25-10 23-16 20-24 16-27 9-31 3-31-3-22-7 12-12 13-19 14-25-3-35-3-42z" fill="#000010" fill-opacity="0.20"/>
<path d="M2632 1522l12 1 29 10 26 15 20 20 14 23 7 25-2 25-10 23-16 20-24 16-27 9-31 3-31-3 4-15 6-21 7-27 4-35 5-41z" fill="#000010" fill-opacity="0.13"/>
<path d="M2746 1692l-41 16-39 7-37 1-36-6-35-10-34-17-33-23-32-32-15-5-13-13-13-19-11-26-11-30-9-37-9-43-8-52 21 5 22-4 22-11 23-16 23-23 25-28 25-35 27-44 30 32 32 23 32 17 34 10 34 4 36-1 38-9 40-17 7 51 8 43 10 36 12 30 13 25 14 19 17 12 18 4-29 44-26 36-26 29-23 24-23 18-21 12-20 6z" fill="none" stroke="#e62c14" stroke-width="8" stroke-opacity="0.7" stroke-linejoin="round"/>
<path d="M915 1709l-30 15-31 8-32 0-34-5-34-11-36-16-38-24-40-31 1-6-2-13-3-19-5-26-6-30-8-37-9-43-11-52 34 4 31-4 29-10 28-17 27-22 25-29 24-35 22-44 37 32 36 23 34 17 33 10 32 4 32-1 30-9 30-17 10 52 9 43 8 36 7 30 7 24 6 19 4 13 4 4-24 44-25 36-25 30-27 23-28 18-29 12-30 6z" fill="#cc102a"/>
<path d="M927 1714l-31 6-42 11-43 0-45-11-48-20-51-33-14-12-12-13-2-16-5-27-7-38-10-48-12-59 10-25 5-6 42-4 39-15 36-26 34-37 31-48 9-3 30-6 48 33 46 21 43 10 43-1 40-13 14 10 13 13 12 59 11 47 9 36 8 27 6 14-10 25-4 8-33 49-34 38-37 28-38 17-41 6z" fill="#f61e12"/>
<path d="M928 1719l-33 6-20 3-43 5-44-6-46-16-49-26-7-5-22-18-19-20-5-6-3-22-6-33-8-42-11-53 4-16 11-25 14-22 40-10 38-21 35-31 33-43 29-8 31-6 19-1 47 26 44 15 43 5 41-7 7 4 22 16 20 19 4 7 12 52 9 42 9 31 7 21-4 16-10 25-12 23-34 44-36 33-38 23-40 12z" fill="#ff4400"/>
<path d="M951 1716l-34 9-34 5-32 2-41-1-44-10-45-20-25-15-23-18-20-21-14-22-5-27-7-36-9-45 6-25 10-26 14-25 16-22 38-16 34-25 33-34 29-11 31-8 33-5 31-1 43 19 42 9 40 0 25 14 23 17 20 20 15 21 10 44 9 35 7 26-4 25-9 27-13 26-16 23-33 36-35 26-37 18z" fill="#ff6c00"/>
<path d="M1009 1693l-29 15-30 11-32 9-33 5-33 1-32-2-32-5-30-9-28-12-25-15-22-18-19-20-15-23-11-24-7-25-3-25 2-26 5-26 10-25 13-25 18-22 20-21 23-19 26-16 28-14 29-11 31-8 31-5 32-1 31 2 30 5 29 8 27 11 25 14 22 17 19 19 16 21 12 23 8 25 4 25 0 26-4 26-8 26-13 24-16 24-20 22-23 20z" fill="#ff9200"/>
<path d="M1003 1697l-30 15-33 12-33 8-35 4-35-1-33-4-32-8-30-12-27-16-24-18-19-22-16-24-10-25-6-27-2-27 4-27 9-27 13-26 17-24 21-23 24-20 27-17 30-14 31-11 33-7 33-4 33 1 32 4 31 7 29 11 27 15 23 17 20 21 17 22 11 25 8 26 2 27-2 27-7 27-12 27-16 25-21 24-24 21z" fill="#ffb200"/>
<path d="M1000 1700l-29 15-31 11-33 7-33 4-33 0-33-4-31-8-28-12-26-15-23-18-19-20-15-23-10-25-6-25-1-27 3-26 9-26 12-25 16-24 21-21 23-19 26-17 29-14 30-10 32-7 32-3 31 0 32 4 29 7 28 11 26 14 23 17 19 19 15 22 12 24 7 25 2 26-2 26-7 27-11 25-16 24-20 23-23 20z" fill="#ffd700"/>
<path d="M997 1703l-28 14-30 10-32 8-31 3-32 0-31-4-30-8-28-11-25-14-21-17-19-20-14-22-10-24-5-24-1-26 3-25 8-25 12-24 15-23 20-20 22-19 26-16 27-13 29-10 30-7 31-3 31 0 30 4 28 7 27 10 25 14 21 16 19 19 15 21 11 23 6 24 3 25-2 25-7 25-11 25-15 23-19 22-23 20z" fill="#fff200"/>
<path d="M991 1706l-30 15-32 10-33 6-34 2-33-2-32-7-29-11-27-14-23-18-19-21-15-24-9-25-4-26 1-27 6-26 11-26 15-24 20-23 24-19 27-17 29-13 31-10 32-6 32-2 32 3 31 6 29 10 26 14 23 17 19 20 15 22 11 25 5 25 0 27-4 27-10 26-15 25-20 23-23 21z" fill="#e8f800"/>
<path d="M987 1708l-28 14-31 10-31 6-32 2-32-2-30-7-29-10-25-14-22-17-18-20-14-23-9-24-4-25 1-25 6-26 10-24 15-23 19-22 22-18 26-16 28-13 29-9 31-6 31-2 30 2 30 6 27 10 25 13 22 16 19 19 14 22 10 23 5 25 0 25-4 26-10 25-14 24-19 22-22 20z" fill="#b0ec08"/>
<path d="M981 1712l-31 13-32 10-34 4-34 0-32-5-31-10-27-14-23-18-19-21-14-24-8-26-2-26 3-27 9-27 15-24 19-23 23-20 27-17 30-13 32-9 32-4 33 0 31 5 30 9 27 13 23 17 20 21 14 23 9 25 3 26-2 27-8 27-14 26-19 23-23 21z" fill="#60e418"/>
<path d="M977 1713l-29 13-31 9-31 4-32 0-31-5-28-9-26-13-23-17-17-20-13-23-8-24-2-25 3-26 9-25 13-23 18-22 23-19 25-16 28-12 30-8 31-4 31 0 29 4 28 9 26 12 22 17 18 19 14 22 8 23 3 25-2 26-8 25-12 24-18 23-22 19z" fill="#21e027"/>
<path d="M969 1716l-30 12-33 8-34 3-33-3-31-9-27-13-24-17-19-22-12-24-7-26 1-27 6-26 13-26 18-23 23-20 27-17 30-12 32-7 33-3 32 3 30 8 28 12 23 17 19 21 13 23 7 26 1 26-5 27-12 26-18 24-23 21z" fill="#0ae043"/>
<path d="M961 1718l-33 12-35 6-36 0-33-7-31-13-25-18-19-23-12-26-5-28 4-29 11-27 18-26 24-21 29-18 33-11 34-6 35 0 33 6 29 13 26 17 19 22 13 26 5 27-2 29-11 28-17 26-24 23z" fill="#00e080"/>
<path d="M957 1717l-31 11-32 6-32 0-31-6-28-12-24-17-17-21-11-24-4-26 3-26 10-25 17-24 22-20 27-16 30-11 31-5 32 0 30 6 27 11 24 17 18 20 11 23 5 26-2 26-10 26-16 24-22 20z" fill="#00debc"/>
<path d="M948 1718l-33 10-34 4-34-4-30-11-25-18-18-22-10-26-1-28 8-27 15-25 23-22 29-16 32-10 33-3 33 3 30 11 25 17 18 21 11 26 2 27-7 28-16 25-23 23z" fill="#00d8e7"/>
<path d="M899 1661l-12-30-14-36-15-42-15-49-18-54-18-62-20-69 30-57 37 32 36 23 34 17 33 10 32 4 32-1 30-9 30-17 10 52 9 43 8 36 7 30 7 24 6 19 4 13 4 4-24 44-25 36-25 30-27 23-28 18-29 12-30 6-33-2-30 15-31 8-32 0-34-5-34-11-36-16-38-24-40-31 1-2 39 24 36 15 34 9 33 4 31-1 29-6 29-11z" fill="#100c00" fill-opacity="0.18"/>
<path d="M899 1661l-7-29-9-34-9-39-11-44-11-50-13-55-13-61-16-72 7-15 37 32 36 23 34 17 33 10 32 4 32-1 30-9 30-17 10 52 9 43 8 36 7 30 7 24 6 19 4 13 4 4-24 44-25 36-25 30-27 23-28 18-29 12-30 6-33-2-31 16-33 7-35 0-35-7-37-13-38-19-41-28 36 20 33 12 31 6 29 2 28-4 27-8 26-14z" fill="#100c00" fill-opacity="0.24"/>
<path d="M899 1661l-3-29-4-33-6-39-6-43-7-49-8-53-9-60-10-67 37 25 35 19 35 11 33 5 33-1 31-8 31-18 10 52 9 43 8 36 7 30 7 24 6 19 4 13 4 4-24 44-25 36-25 30-27 23-28 18-29 12-30 6-33-2-32 16-33 7-35 0-36-7-37-14-39-20 34 15 31 7 29 1 28-5 26-10 25-16z" fill="#100c00" fill-opacity="0.25"/>
<path d="M899 1661l1-32 1-37-1-43-2-49-3-55-4-62-5-68 35 17 34 11 33 5 32-1 31-8 30-18 10 52 9 43 8 36 7 30 7 24 6 19 4 13 4 4-24 44-25 36-25 30-27 23-28 18-29 12-30 6-33-2-32 16-33 7-35-1-36-7-38-13 28 9 25 4 24-2 22-7 21-13 20-18z" fill="#100c00" fill-opacity="0.20"/>
<path d="M899 1661l8-30 7-35 5-41 5-46 4-51 3-58 2-63 31 8 31 4 29-3 29-8 28-17 10 52 9 43 8 36 7 30 7 24 6 19 4 13 4 4-24 44-25 36-25 30-27 23-28 18-29 12-30 6-33-2-30 15-31 8-32 0-34-5 20 6 19 1 17-5 15-9 15-15 13-19z" fill="#100c00" fill-opacity="0.13"/>
<path d="M944 1715l-30 10-31 3-31-3-27-10-23-16-17-21-9-23-1-25 7-25 15-23 21-20 26-15 29-9 31-3 29 3 28 10 22 15 17 20 10 23 1 25-6 25-14 24-21 20z" fill="#0085e0"/>
<path d="M934 1715l-32 8-33 0-31-9-25-16-17-22-7-26 3-27 13-26 22-21 28-16 32-8 33 0 30 9 25 16 17 21 8 26-3 27-12 26-22 22z" fill="#0046f1"/>
<path d="M923 1713l-35 5-35-6-28-16-17-25-3-29 10-28 22-24 31-16 36-5 34 6 27 16 18 24 4 29-10 28-22 25z" fill="#0025fb"/>
<path d="M910 1709l-39-1-32-16-16-28 4-31 22-27 35-16 38 1 32 16 16 27-3 31-22 28z" fill="#0011f2"/>
<path d="M907 1697l-27 0-22-11-12-20 3-22 15-19 25-11 27 0 22 11 12 19-2 23-16 19z" fill="#0006db"/>
<path d="M856 1544l17-6 31-3 29 3 28 10 22 15 17 20 10 23 1 25-6 25-14 24-21 20-26 15-30 10-31 3-31-3-27-10-23-16-3-4 35-5 33-11 32-18-13-32-15-39z" fill="#000010" fill-opacity="0.18"/>
<path d="M869 1539l4-1 31-3 29 3 28 10 22 15 17 20 10 23 1 25-6 25-14 24-21 20-26 15-30 10-31 3-31-3-27-10-17-11 32-8 30-14 29-21-9-34-10-40z" fill="#000010" fill-opacity="0.24"/>
<path d="M883 1537l21-2 29 3 28 10 22 15 17 20 10 23 1 25-6 25-14 24-21 20-26 15-30 10-31 3-31-3-27-10-6-4 28-10 27-17 25-23-4-34-5-42z" fill="#000010" fill-opacity="0.25"/>
<path d="M899 1536l5-1 29 3 28 10 22 15 17 20 10 23 1 25-6 25-14 24-21 20-26 15-30 10-31 3-31-3-20-7 24-13 22-18 21-26 2-35 0-42z" fill="#000010" fill-opacity="0.20"/>
<path d="M922 1537l11 1 28 10 22 15 17 20 10 23 1 25-6 25-14 24-21 20-26 15-30 10-31 3-31-3 18-15 15-21 14-28 9-34 7-42z" fill="#000010" fill-opacity="0.13"/>
<path d="M915 1709l-30 15-31 8-32 0-34-5-34-11-36-16-38-24-40-31 1-6-2-13-3-19-5-26-6-30-8-37-9-43-11-52 34 4 31-4 29-10 28-17 27-22 25-29 24-35 22-44 37 32 36 23 34 17 33 10 32 4 32-1 30-9 30-17 10 52 9 43 8 36 7 30 7 24 6 19 4 13 4 4-24 44-25 36-25 30-27 23-28 18-29 12-30 6z" fill="none" stroke="#e62c14" stroke-width="8" stroke-opacity="0.7" stroke-linejoin="round"/>
<path d="M2261 1798l-39 15-37 7-37 1-35-6-36-11-35-16-34-24-34-31-11-6-11-14-10-20-9-26-10-31-9-37-9-44-9-52 25 4 24-5 24-11 25-17 25-23 24-28 26-36 26-44 32 32 33 23 33 17 34 10 34 5 36-2 36-8 37-17 8 52 9 43 9 37 11 30 11 26 13 19 13 13 15 5-28 45-27 36-25 30-25 24-24 18-24 13-23 6z" fill="#cc102a"/>
<path d="M2266 1803l-31 6-50 11-48 0-48-11-46-21-46-33-17-12-14-13-14-17-13-28-13-39-12-48-12-60 7-25 4-7 32-4 33-16 32-26 33-37 34-49 9-3 30-6 44 33 44 21 46 10 46-1 49-12 16 10 14 13 12 60 13 47 15 37 16 27 18 16-6 25-3 8-36 50-34 38-32 28-32 19-30 6z" fill="#f61e12"/>
<path d="M2262 1808l-32 6-21 3-49 4-47-6-47-15-46-27-9-5-24-18-22-21-6-6-14-23-12-33-13-43-12-53 2-17 8-25 10-23 33-10 33-22 33-32 34-43 27-8 31-6 19-1 44 26 45 15 46 5 47-6 9 3 24 17 22 20 6 6 12 53 14 42 15 33 17 22-1 16-6 25-9 24-35 44-34 34-32 23-32 13z" fill="#ff4400"/>
<path d="M2280 1805l-32 9-34 5-32 2-47-2-45-10-45-20-27-15-26-19-23-21-18-22-12-28-13-36-11-46 2-26 6-27 10-25 14-22 31-16 32-26 31-35 28-11 31-8 32-5 31-1 42 19 44 10 45 0 26 13 26 18 23 20 19 21 12 45 14 36 16 27-1 25-5 28-9 26-13 24-32 36-32 27-30 18z" fill="#ff6c00"/>
<path d="M2330 1780l-26 16-29 12-31 8-33 5-33 2-33-2-32-6-32-9-30-12-28-16-25-18-22-21-18-22-15-25-10-25-7-26-2-27 2-26 6-26 10-24 14-24 17-21 21-19 24-17 26-14 28-11 30-8 31-5 31-1 32 2 31 5 30 8 29 12 28 14 24 17 23 20 19 21 15 24 12 24 8 26 4 27-1 26-5 26-9 26-13 24-16 22-21 21z" fill="#ff9200"/>
<path d="M2322 1785l-29 15-31 12-33 8-34 4-35 0-35-5-33-8-32-12-30-16-26-19-23-22-19-24-15-26-10-27-5-28 0-28 5-27 9-27 14-25 17-22 22-21 25-17 28-15 30-11 32-7 33-4 33 1 34 4 32 7 31 12 29 15 26 17 23 21 20 23 15 25 11 27 7 27 2 28-4 28-8 27-12 26-18 24-21 21z" fill="#ffb200"/>
<path d="M2315 1787l-27 15-30 12-32 7-33 4-33 0-34-4-32-8-31-12-28-15-26-19-22-21-18-23-14-25-10-26-5-27 0-27 4-26 9-26 14-24 17-22 21-19 24-17 27-14 29-11 30-7 32-3 32 0 32 4 31 7 30 11 28 14 25 18 23 20 18 22 15 24 11 26 6 26 2 27-3 27-8 26-12 25-17 23-21 20z" fill="#ffd700"/>
<path d="M2309 1790l-27 14-28 11-31 7-32 4-32 0-32-4-31-8-29-11-28-15-24-18-21-20-18-22-13-24-10-25-4-26-1-26 4-25 9-25 13-23 16-21 20-19 24-16 25-14 28-10 30-7 30-3 31 0 31 4 30 7 28 11 27 14 25 16 21 19 18 22 14 23 11 25 6 25 1 26-3 26-7 25-12 23-16 23-20 20z" fill="#fff200"/>
<path d="M2299 1793l-28 15-30 11-33 6-34 2-34-2-33-7-31-11-29-15-26-19-22-21-18-24-13-25-9-27-2-28 2-27 7-26 12-24 17-23 21-20 25-17 27-14 30-10 32-6 32-1 33 2 32 6 30 10 29 14 26 18 22 20 18 23 14 25 10 26 4 27-1 28-7 26-11 26-16 23-21 21z" fill="#e8f800"/>
<path d="M2292 1795l-26 14-30 10-31 6-32 2-32-2-32-7-30-10-27-14-25-18-21-20-17-23-13-24-8-26-2-26 2-26 7-25 11-24 16-21 20-19 24-17 26-13 29-9 30-6 31-1 31 2 30 6 29 10 28 13 24 17 22 19 17 22 13 24 9 25 4 26-1 26-6 25-11 24-15 23-20 20z" fill="#b0ec08"/>
<path d="M2283 1798l-29 14-32 10-33 5-34-1-34-5-32-10-29-14-27-18-22-22-17-24-12-27-6-27 0-27 5-27 11-26 16-23 21-20 25-17 28-13 31-9 32-5 33 1 32 4 31 10 30 13 26 18 22 20 18 24 12 25 8 27 1 28-4 27-10 26-16 24-20 21z" fill="#60e418"/>
<path d="M2275 1799l-27 14-30 9-31 4-32 0-32-5-30-9-28-14-25-17-21-21-16-23-11-24-6-26-1-26 6-25 10-25 15-22 20-19 23-16 27-12 29-9 30-4 31 0 31 5 30 9 27 12 25 17 21 19 17 23 12 24 6 25 2 26-4 26-10 25-15 22-19 20z" fill="#21e027"/>
<path d="M2265 1802l-30 13-32 8-33 2-34-3-32-8-30-14-27-18-21-21-17-25-10-26-3-28 2-27 10-26 15-24 20-20 25-17 29-12 31-8 32-2 33 3 32 8 29 12 26 17 22 21 17 24 11 26 5 28-2 27-8 26-15 25-20 21z" fill="#0ae043"/>
<path d="M2253 1804l-32 12-34 7-36 0-35-7-33-14-28-18-23-24-16-26-8-29 0-29 7-28 15-26 21-22 27-18 31-12 34-6 34 0 35 7 32 12 28 18 23 23 16 26 9 28 2 29-7 29-14 26-21 23z" fill="#00e080"/>
<path d="M2245 1803l-29 11-32 6-33 0-32-6-30-12-26-18-21-21-14-24-8-27 0-26 6-26 14-24 19-20 25-17 29-11 31-5 32 0 31 6 29 11 26 17 21 21 15 24 9 26 1 26-6 26-13 25-19 21z" fill="#00debc"/>
<path d="M2232 1803l-31 11-34 3-35-4-32-11-28-18-21-22-14-27-5-28 4-28 13-25 20-22 26-17 31-10 33-4 34 4 31 11 28 17 22 22 14 26 6 28-3 28-12 26-20 23z" fill="#00d8e7"/>
<path d="M2160 1745l-16-31-15-37-15-42-14-49-13-55-14-61-13-70 35-57 32 32 33 23 33 17 34 10 34 5 36-2 36-8 37-17 8 52 9 43 9 37 11 30 11 26 13 19 13 13 15 5-28 45-27 36-25 30-25 24-24 18-24 13-23 6-22-2-39 15-37 7-37 1-35-6-36-11-35-16-34-24-34-31-6-2 24 23 24 14 24 9 24 3 23-1 24-7 24-11z" fill="#100c00" fill-opacity="0.18"/>
<path d="M2160 1745l-11-30-10-34-10-40-9-44-9-50-9-56-8-61-8-72 9-15 32 32 33 23 33 17 34 10 34 5 36-2 36-8 37-17 8 52 9 43 9 37 11 30 11 26 13 19 13 13 15 5-28 45-27 36-25 30-25 24-24 18-24 13-23 6-22-2-41 16-39 7-38-1-38-7-37-12-37-20-36-27 20 19 21 11 20 5 21 1 20-4 21-9 21-14z" fill="#100c00" fill-opacity="0.24"/>
<path d="M2160 1745l-7-30-6-34-5-39-6-43-4-49-5-54-4-60-3-67 33 25 35 18 35 12 35 5 36 0 38-9 38-17 8 52 9 43 9 37 11 30 11 26 13 19 13 13 15 5-28 45-27 36-25 30-25 24-24 18-24 13-23 6-22-2-41 16-40 7-39-1-37-7-38-13-37-20 18 13 19 6 18 1 19-6 18-11 19-16z" fill="#100c00" fill-opacity="0.25"/>
<path d="M2160 1745l-2-33-2-38-1-43 0-50 0-55 0-61 1-69 34 17 34 11 35 6 36-2 37-8 38-17 8 52 9 43 9 37 11 30 11 26 13 19 13 13 15 5-28 45-27 36-25 30-25 24-24 18-24 13-23 6-22-2-42 16-39 7-39-1-38-7-38-14 13 9 13 2 13-2 14-8 13-13 14-19z" fill="#100c00" fill-opacity="0.20"/>
<path d="M2160 1745l4-31 5-36 6-41 6-46 7-52 7-57 7-64 32 9 33 3 34-2 34-9 35-16 8 52 9 43 9 37 11 30 11 26 13 19 13 13 15 5-28 45-27 36-25 30-25 24-24 18-24 13-23 6-22-2-39 15-37 7-37 1-35-6 5 6 6-1 7-5 6-10 8-15 7-20z" fill="#100c00" fill-opacity="0.13"/>
<path d="M2225 1801l-28 10-31 3-32-4-29-10-25-16-20-21-12-24-5-25 4-26 11-23 18-20 25-16 28-9 30-3 31 3 29 10 25 16 19 20 13 24 6 25-3 26-11 24-18 20z" fill="#0085e0"/>
<path d="M2213 1800l-31 8-34 0-32-9-28-16-20-23-11-26-1-28 10-26 19-22 26-16 31-8 33 0 32 9 28 16 20 22 11 26 2 28-10 26-18 23z" fill="#0046f1"/>
<path d="M2199 1798l-35 5-36-6-30-17-21-25-8-29 7-29 19-24 29-16 35-6 35 6 30 16 21 25 8 29-5 29-19 25z" fill="#0025fb"/>
<path d="M2182 1793l-39 0-34-17-20-28-1-32 19-27 32-16 39 0 34 16 21 28 1 32-18 28z" fill="#0011f2"/>
<path d="M2175 1781l-27 0-24-11-15-20 0-23 13-19 23-12 27 1 25 11 14 20 1 22-13 20z" fill="#0006db"/>
<path d="M2112 1626l17-6 30-3 31 3 29 10 25 16 19 20 13 24 6 25-3 26-11 24-18 20-25 16-28 10-31 3-32-4-29-10-25-16-4-4 28-5 27-12 29-18-17-33-16-40z" fill="#000010" fill-opacity="0.18"/>
<path d="M2125 1621l4-1 30-3 31 3 29 10 25 16 19 20 13 24 6 25-3 26-11 24-18 20-25 16-28 10-31 3-32-4-29-10-18-11 24-8 24-15 25-21-13-35-11-41z" fill="#000010" fill-opacity="0.24"/>
<path d="M2139 1619l20-2 31 3 29 10 25 16 19 20 13 24 6 25-3 26-11 24-18 20-25 16-28 10-31 3-32-4-29-10-7-4 20-11 21-17 21-23-8-35-7-42z" fill="#000010" fill-opacity="0.25"/>
<path d="M2155 1618l4-1 31 3 29 10 25 16 19 20 13 24 6 25-3 26-11 24-18 20-25 16-28 10-31 3-32-4-21-7 15-13 16-19 16-26-2-36-2-42z" fill="#000010" fill-opacity="0.20"/>
<path d="M2177 1620l13 0 29 10 25 16 19 20 13 24 6 25-3 26-11 24-18 20-25 16-28 10-31 3-32-4 8-15 9-22 9-28 5-35 6-42z" fill="#000010" fill-opacity="0.13"/>
<path d="M2261 1798l-39 15-37 7-37 1-35-6-36-11-35-16-34-24-34-31-11-6-11-14-10-20-9-26-10-31-9-37-9-44-9-52 25 4 24-5 24-11 25-17 25-23 24-28 26-36 26-44 32 32 33 23 33 17 34 10 34 5 36-2 36-8 37-17 8 52 9 43 9 37 11 30 11 26 13 19 13 13 15 5-28 45-27 36-25 30-25 24-24 18-24 13-23 6z" fill="none" stroke="#e62c14" stroke-width="8" stroke-opacity="0.7" stroke-linejoin="round"/>
<path d="M333 1359l40 31 37 24 35 16 34 10 32 5 30-1 29-8 27-17 11 52 9 43 8 37 6 30 5 26 3 19 2 13-1 6-23 45-24 36-14 14-14 8-16 3-16-3-18-7-19-13-21-17-22-23-23-28-25-33-27-39-28-44-30-49-32-56 24-36z" fill="#cc102a"/>
<path d="M328 1386l31-6 51 34 46 20 44 10 41 0 38-13 14 11 12 13 12 59 10 48 7 37 5 28 2 15-11 25-5 9-32 50-17 17-19 7-21-1-23-9-25-18-27-25-29-34-32-43-34-51-38-60-40-70 31-50z" fill="#f61e12"/>
<path d="M334 1406l32-5 20-2 48 26 45 16 42 4 39-6 7 4 22 17 18 19 5 7 11 53 8 42 6 33 3 22-5 16-11 26-14 23-17 25-17 17-19 7-21-1-23-9-25-18-27-25-29-34-32-43-34-51-38-60-40-70 17-24z" fill="#ff4400"/>
<path d="M316 1430l33-8 33-5 31-2 44 20 42 9 40 0 23 14 23 18 19 20 14 21 9 45 7 36 5 27-6 26-10 27-15 27-16 22-17 16-19 7-20-1-23-9-25-18-27-25-29-34-32-42-34-51-37-60-40-70z" fill="#ff6c00"/>
<path d="M322 1448l31-8 32-5 32-2 31 2 31 5 28 9 27 11 24 15 22 17 18 19 15 22 11 24 7 24 3 26-2 27-5 26-10 27-14 25-14 19-17 14-18 6-20-2-22-10-24-17-26-25-28-32-30-40-33-48-35-56-38-64z" fill="#ff9200"/>
<path d="M335 1460l33-7 34-4 33 0 32 4 31 8 29 11 26 15 23 18 19 21 15 23 11 25 5 27 2 27-4 28-9 28-13 27-16 24-18 12-21 4-22-5-24-14-26-21-29-31-31-39-33-48-37-57-39-66z" fill="#ffb200"/>
<path d="M339 1475l32-7 33-4 32 0 31 4 30 8 27 11 26 14 21 17 19 20 14 23 11 24 5 26 1 26-3 27-9 27-13 26-14 21-17 10-20 3-21-6-24-13-25-21-27-30-30-36-32-46-35-53-37-62z" fill="#ffd700"/>
<path d="M343 1490l31-7 32-3 30 0 30 4 29 7 27 10 24 14 21 17 18 19 13 22 10 23 6 25 1 25-4 26-8 26-12 25-12 18-18 8-19 2-20-7-23-13-24-20-26-28-28-35-31-42-33-50-35-58z" fill="#fff200"/>
<path d="M357 1503l32-6 33-2 32 2 31 7 29 10 26 14 22 17 18 21 14 23 10 25 4 26-1 27-7 28-11 27-14 21-19 7-21-1-22-9-25-18-27-25-29-34-31-42-34-50-37-60z" fill="#e8f800"/>
<path d="M361 1518l31-5 32-2 30 2 30 6 27 10 25 14 21 16 17 20 14 22 8 24 4 25-1 26-6 26-11 25-11 19-18 5-20-3-22-9-23-17-26-25-27-31-30-39-32-47-34-54z" fill="#b0ec08"/>
<path d="M375 1532l33-4 33 0 32 5 29 9 27 14 22 17 19 21 13 24 8 25 2 27-4 28-10 27-13 23-19 3-22-5-24-14-26-21-28-30-31-39-33-46-36-56z" fill="#60e418"/>
<path d="M379 1549l31-4 31 0 30 4 28 9 25 13 22 16 17 20 12 22 8 25 1 25-3 26-9 26-11 18-18 2-21-7-23-13-24-20-26-28-29-35-30-43-33-50z" fill="#21e027"/>
<path d="M394 1564l33-3 32 3 30 8 27 13 23 17 18 21 12 24 6 26 0 28-8 27-11 22-20-1-23-9-25-18-27-25-29-34-31-42-34-51z" fill="#0ae043"/>
<path d="M410 1580l35 0 33 7 30 12 24 18 19 23 11 26 4 28-4 29-11 28-20-3-21-10-23-17-25-23-26-30-29-38-30-44z" fill="#00e080"/>
<path d="M412 1598l32 0 31 6 27 12 23 17 17 20 10 24 4 26-4 27-8 21-21-6-23-14-25-20-27-29-29-36-31-43z" fill="#00debc"/>
<path d="M429 1617l33 4 30 11 24 17 17 22 10 26 0 28-7 24-23-9-25-18-27-25-29-34-32-43z" fill="#00d8e7"/>
<path d="M304 1416l29-57 40 31 37 24 35 16 34 10 32 5 30-1 29-8 27-17 11 52 9 43 8 37 6 30 5 26 3 19 2 13-1 6-23 45-24 36-14 14-14 8-16 3-17-3-19-8-20-13-21-19-22-24-24-29-26-35-27-40-29-46-19-56z" fill="#100c00" fill-opacity="0.18"/>
<path d="M327 1374l6-15 40 31 37 24 35 16 34 10 32 5 30-1 29-8 27-17 11 52 9 43 8 37 6 30 5 26 3 19 2 13-1 6-23 45-24 36-13 14-14 8-15 3-17-2-17-7-19-12-20-16-21-22-23-26-24-32-25-36-12-48-14-52-15-57z" fill="#100c00" fill-opacity="0.24"/>
<path d="M364 1384l39 26 36 18 35 11 33 6 32-1 30-8 28-17 11 52 9 43 8 37 6 30 5 26 3 19 2 13-1 6-23 45-24 36-13 14-15 8-15 3-16-2-18-7-19-12-20-17-21-22-23-27-24-32-9-52-10-58-11-64z" fill="#100c00" fill-opacity="0.25"/>
<path d="M406 1411l36 18 34 11 33 5 31-1 29-8 28-17 11 52 9 43 8 37 6 30 5 26 3 19 2 13-1 6-23 45-24 36-14 14-14 8-16 3-17-3-19-8-19-13-21-19-23-24-24-29-2-50-4-58-6-64z" fill="#100c00" fill-opacity="0.20"/>
<path d="M454 1434l32 8 30 3 28-2 27-8 26-16 11 52 9 43 8 37 6 30 5 26 3 19 2 13-1 6-23 45-24 36-14 15-16 8-16 2-18-4-20-9-20-15-22-21-24-26 5-40 3-43 2-49 2-53z" fill="#100c00" fill-opacity="0.13"/>
<path d="M430 1633l30 3 27 10 22 15 16 21 8 24 0 25-4 16-26-13-28-23-31-33-33-43z" fill="#0085e0"/>
<path d="M446 1650l30 9 24 16 17 22 6 26-3 21-21-14-24-19-25-27-28-34z" fill="#0046f1"/>
<path d="M464 1673l27 16 16 25 2 24-22-17-24-23-26-30z" fill="#0025fb"/>
<path d="M479 1705l10 18-28-27z" fill="#0011f2"/>
<path d="M411 1635l19-2 30 3 27 10 22 15 16 21 8 24 0 25-4 16-17-8-18-12-19-16-20-21-22-25z" fill="#000010" fill-opacity="0.18"/>
<path d="M411 1635l19-2 30 3 27 10 22 15 16 21 8 24 0 25-4 16-17-8-18-12-19-16-20-21-22-25z" fill="#000010" fill-opacity="0.24"/>
<path d="M411 1635l19-2 30 3 27 10 22 15 16 21 8 24 0 25-4 16-17-8-18-12-19-16-20-21-22-25z" fill="#000010" fill-opacity="0.25"/>
<path d="M426 1655l-1-22 5 0 30 3 27 10 22 15 16 21 8 24 0 25-4 16-18-8-19-14-21-18-22-23z" fill="#000010" fill-opacity="0.20"/>
<path d="M443 1676l5-41 12 1 27 10 22 15 16 21 8 24 0 25-4 16-20-9-20-15-23-21z" fill="#000010" fill-opacity="0.13"/>
<path d="M333 1359l40 31 37 24 35 16 34 10 32 5 30-1 29-8 27-17 11 52 9 43 8 37 6 30 5 26 3 19 2 13-1 6-23 45-24 36-14 14-14 8-16 3-16-3-18-7-19-13-21-17-22-23-23-28-25-33-27-39-28-44-30-49-32-56 24-36z" fill="#001000" fill-opacity="0.4"/>
<path d="M1764 1907l-36 15-36 6-35 0-36-5-35-11-36-17-36-24-37-31-7-7-7-14-8-22-8-26-8-32-9-38-9-44-10-52 29 3 27-5 27-12 26-18 25-23 26-29 25-35 25-44 35 31 34 24 34 16 34 10 34 5 35-1 34-8 35-16 9 52 9 44 9 37 10 31 9 26 10 20 11 14 11 6-27 45-27 36-26 30-26 25-26 19-26 13-26 7z" fill="#cc102a"/>
<path d="M1772 1911l-32 7-47 10-48-1-47-11-48-21-48-33-16-13-14-13-9-18-11-29-10-39-12-49-12-61 9-25 3-7 37-5 35-17 35-27 34-37 33-50 9-3 31-6 45 33 46 21 45 10 46 0 47-12 15 10 14 14 12 60 12 48 13 38 13 28 14 17-7 26-3 8-36 50-34 39-35 29-34 19-35 8z" fill="#f61e12"/>
<path d="M1769 1916l-32 6-21 3-48 4-47-6-47-16-48-27-8-5-24-19-21-21-5-6-10-24-11-34-11-44-12-54 4-17 8-26 12-23 37-11 35-23 34-32 34-43 28-9 31-6 20-1 46 26 45 15 46 6 45-6 8 4 24 17 22 20 5 6 12 54 13 43 12 33 14 23-2 17-8 26-11 24-35 45-35 34-34 24-35 14z" fill="#ff4400"/>
<path d="M1789 1912l-33 9-34 6-33 1-45-1-45-11-46-20-27-15-25-20-22-22-17-22-10-28-10-38-11-46 3-27 8-27 12-26 15-23 34-17 33-26 33-35 28-11 32-9 33-5 31-1 43 19 44 10 44 0 26 15 25 18 22 20 18 22 11 46 13 36 12 28-1 26-7 28-11 27-14 24-33 37-33 27-33 19z" fill="#ff6c00"/>
<path d="M1843 1887l-27 15-30 13-32 9-33 5-34 1-33-2-33-5-31-10-30-12-27-16-24-19-21-21-18-23-13-25-10-26-5-27-1-27 3-27 8-26 12-25 15-24 19-22 22-20 25-17 27-14 29-11 30-8 32-5 32-2 32 2 31 5 30 9 29 12 27 14 24 18 21 20 18 22 15 24 11 25 6 26 3 27-2 27-7 27-10 26-14 25-19 23-22 21z" fill="#ff9200"/>
<path d="M1836 1891l-30 16-32 12-34 8-35 4-35 0-35-5-33-8-32-13-29-16-26-19-22-23-18-25-13-26-8-28-4-28 1-29 6-28 11-27 15-25 20-23 23-21 26-18 29-15 31-11 33-8 33-3 34 0 33 4 32 8 31 12 28 15 26 18 22 21 19 24 14 25 10 27 5 28 0 29-4 28-10 28-14 26-19 25-23 22z" fill="#ffb200"/>
<path d="M1831 1893l-29 16-31 11-32 8-34 4-34 0-33-4-33-9-30-12-28-15-25-19-21-22-17-24-13-25-9-27-3-27 1-28 6-27 10-26 15-24 19-23 22-20 25-17 28-14 30-11 31-7 33-4 32 0 32 4 31 8 30 11 27 15 25 17 22 21 17 22 14 25 10 26 5 27 0 28-5 27-9 27-14 25-18 24-22 21z" fill="#ffd700"/>
<path d="M1825 1896l-27 14-30 11-31 8-32 4-33-1-32-4-31-8-29-11-27-15-24-18-20-21-17-23-12-24-8-26-4-26 1-27 6-26 10-25 14-23 18-22 21-19 25-17 26-14 29-10 30-7 31-3 32 0 30 4 30 7 29 11 26 14 24 17 20 19 17 22 14 24 9 25 4 26 1 27-5 26-9 26-13 24-17 23-21 20z" fill="#fff200"/>
<path d="M1817 1899l-29 15-32 11-33 6-34 2-34-2-34-7-31-11-29-16-25-18-21-22-17-25-12-26-7-27-1-28 4-28 9-27 13-25 19-23 22-21 26-17 28-14 31-10 32-6 33-2 33 2 32 7 30 10 28 15 25 17 22 21 17 24 13 25 8 27 3 28-3 28-7 27-13 26-18 24-22 22z" fill="#e8f800"/>
<path d="M1811 1901l-28 14-30 10-32 6-32 2-33-2-31-7-30-10-27-15-24-18-21-21-16-23-11-25-7-26-1-27 4-26 8-26 13-24 17-22 22-20 24-16 27-14 30-9 31-6 31-2 31 2 31 6 29 11 27 13 23 17 21 20 17 22 12 25 7 25 3 27-2 27-8 26-12 24-17 23-21 21z" fill="#b0ec08"/>
<path d="M1802 1904l-29 14-33 10-34 4-34 0-34-5-32-10-29-15-26-19-21-22-16-25-11-27-4-27 1-28 7-28 12-26 18-24 22-21 26-17 29-13 31-10 33-4 33 0 33 5 31 10 29 13 25 18 22 21 17 24 11 27 6 27 0 28-6 28-11 27-17 24-22 22z" fill="#60e418"/>
<path d="M1796 1904l-28 14-30 9-32 4-33 0-32-5-30-9-27-14-25-18-20-21-15-23-10-26-4-26 1-26 6-26 12-25 16-22 21-20 25-17 27-12 30-9 31-4 32 0 30 5 30 9 27 13 24 17 20 20 16 22 11 25 5 26 0 27-5 26-11 25-16 23-21 21z" fill="#21e027"/>
<path d="M1787 1906l-30 14-33 8-34 2-34-3-33-8-29-14-26-18-21-23-15-25-9-27-2-28 4-28 11-26 16-24 22-21 26-18 30-12 32-8 33-2 33 3 31 8 29 13 26 17 21 22 16 24 10 27 3 27-3 28-10 27-16 25-22 22z" fill="#0ae043"/>
<path d="M1776 1908l-32 13-36 7-36-1-35-7-32-13-28-19-22-24-14-27-7-30 1-29 9-29 16-27 23-22 28-18 32-13 34-6 35 0 35 7 31 13 28 18 22 23 15 27 8 29 0 30-8 29-16 27-22 23z" fill="#00e080"/>
<path d="M1769 1907l-30 12-32 6-33 0-32-7-30-12-25-18-20-22-14-25-6-27 1-27 8-26 15-25 21-21 25-16 30-11 32-6 32 0 31 6 29 12 26 17 20 21 14 24 7 27 0 27-7 27-15 25-20 22z" fill="#00debc"/>
<path d="M1758 1907l-33 11-34 4-35-5-32-11-27-18-20-23-13-27-3-29 5-29 14-26 21-22 28-17 32-11 34-3 33 4 32 11 27 17 20 23 13 26 5 29-5 28-13 27-21 23z" fill="#00d8e7"/>
<path d="M1693 1846l-14-31-15-38-15-43-15-48-15-56-16-61-16-70 34-57 35 31 34 24 34 16 34 10 34 5 35-1 34-8 35-16 9 52 9 44 9 37 10 31 9 26 10 20 11 14 11 6-27 45-27 36-26 30-26 25-26 19-26 13-26 7-26-1-36 15-36 6-35 0-36-5-35-11-36-17-36-24-37-31-3-2 30 22 29 13 28 8 27 3 27-3 26-7 27-11z" fill="#100c00" fill-opacity="0.18"/>
<path d="M1693 1846l-9-30-10-35-10-40-10-45-10-50-10-56-10-61-11-72 8-15 35 31 34 24 34 16 34 10 34 5 35-1 34-8 35-16 9 52 9 44 9 37 10 31 9 26 10 20 11 14 11 6-27 45-27 36-26 30-26 25-26 19-26 13-26 7-26-1-38 15-38 7-37-1-37-7-38-13-38-20-38-27 26 18 26 10 25 5 24 0 23-5 24-10 23-14z" fill="#100c00" fill-opacity="0.24"/>
<path d="M1693 1846l-5-30-5-35-6-39-6-44-5-49-6-55-6-59-6-68 35 26 35 18 36 11 35 6 35-1 36-7 36-17 9 52 9 44 9 37 10 31 9 26 10 20 11 14 11 6-27 45-27 36-26 30-26 25-26 19-26 13-26 7-26-1-38 15-38 7-38-1-38-8-38-13-38-20 24 12 24 5 23 0 22-6 22-12 21-17z" fill="#100c00" fill-opacity="0.25"/>
<path d="M1693 1846l0-33-1-39-1-44-1-49-1-56-2-62-1-69 35 18 34 11 35 5 35-1 35-8 36-16 9 52 9 44 9 37 10 31 9 26 10 20 11 14 11 6-27 45-27 36-26 30-26 25-26 19-26 13-26 7-26-1-39 15-38 7-38-1-37-8-39-14 19 8 18 1 17-3 17-9 17-14 16-19z" fill="#100c00" fill-opacity="0.20"/>
<path d="M1693 1846l6-31 6-37 6-41 5-47 6-52 6-58 5-64 33 9 32 3 32-1 33-9 33-15 9 52 9 44 9 37 10 31 9 26 10 20 11 14 11 6-27 45-27 36-26 30-26 25-26 19-26 13-26 7-26-1-36 15-36 6-35 0-36-5 12 4 10-1 11-6 10-12 10-16 10-20z" fill="#100c00" fill-opacity="0.13"/>
<path d="M1752 1904l-29 10-32 4-31-4-29-11-25-16-19-21-11-25-4-26 5-26 13-24 20-20 25-16 29-10 31-3 30 4 29 10 25 16 18 21 12 24 4 26-4 26-12 24-20 21z" fill="#0085e0"/>
<path d="M1741 1903l-33 9-34 0-32-10-27-17-19-23-10-27 1-28 11-26 21-23 27-16 32-8 33 0 32 9 27 16 19 23 10 27 0 28-11 27-20 23z" fill="#0046f1"/>
<path d="M1728 1901l-36 6-36-7-30-17-20-26-6-30 8-29 21-25 30-17 35-5 36 6 29 17 20 25 7 30-7 29-21 26z" fill="#0025fb"/>
<path d="M1712 1896l-40 0-34-17-19-29 1-33 21-28 34-16 39 0 33 17 20 28-1 33-20 29z" fill="#0011f2"/>
<path d="M1706 1884l-27 0-24-12-14-21 1-23 14-20 24-11 28 0 24 12 13 20 0 23-14 20z" fill="#0006db"/>
<path d="M1646 1726l18-7 31-3 30 4 29 10 25 16 18 21 12 24 4 26-4 26-12 24-20 21-25 16-29 10-32 4-31-4-29-11-25-16-4-4 31-6 30-12 30-19-15-34-16-40z" fill="#000010" fill-opacity="0.18"/>
<path d="M1660 1721l4-2 31-3 30 4 29 10 25 16 18 21 12 24 4 26-4 26-12 24-20 21-25 16-29 10-32 4-31-4-29-11-19-11 28-9 27-15 26-22-11-35-11-42z" fill="#000010" fill-opacity="0.24"/>
<path d="M1674 1719l21-3 30 4 29 10 25 16 18 21 12 24 4 26-4 26-12 24-20 21-25 16-29 10-32 4-31-4-29-11-7-4 23-11 24-18 22-24-6-36-6-42z" fill="#000010" fill-opacity="0.25"/>
<path d="M1690 1717l5-1 30 4 29 10 25 16 18 21 12 24 4 26-4 26-12 24-20 21-25 16-29 10-32 4-31-4-22-7 19-14 18-20 18-27-1-36 0-43z" fill="#000010" fill-opacity="0.20"/>
<path d="M1713 1719l12 1 29 10 25 16 18 21 12 24 4 26-4 26-12 24-20 21-25 16-29 10-32 4-31-4 11-16 11-23 11-29 7-36 7-42z" fill="#000010" fill-opacity="0.13"/>
<path d="M1764 1907l-36 15-36 6-35 0-36-5-35-11-36-17-36-24-37-31-7-7-7-14-8-22-8-26-8-32-9-38-9-44-10-52 29 3 27-5 27-12 26-18 25-23 26-29 25-35 25-44 35 31 34 24 34 16 34 10 34 5 35-1 34-8 35-16 9 52 9 44 9 37 10 31 9 26 10 20 11 14 11 6-27 45-27 36-26 30-26 25-26 19-26 13-26 7z" fill="none" stroke="#e62c14" stroke-width="8" stroke-opacity="0.7" stroke-linejoin="round"/>
<path d="M2847 1932l-18-8-17-15-14-22-13-27-12-32-11-38-9-45-7-53 19 3 20-6 21-12 23-18 23-24 26-29 26-36 29-44 30 32 31 23 33 16 35 11 36 5 38-1 41-8 43-16 4 31-35 62-32 53-30 48-28 42-27 37-25 32-24 27-22 23-21 18-20 13-18 9-18 4-17-1-15-5-14-11-13-19z" fill="#cc102a"/>
<path d="M2851 1941l-16-13-23-19-19-30-17-40-14-50-11-61 5-26 2-7 27-6 28-18 31-27 33-38 37-49 8-4 30-5 42 33 44 20 48 11 50 0 55-12 18 11 13 12-45 79-41 66-38 57-35 48-32 39-30 31-28 23-25 15-24 6-21-2-20-10-17-23z" fill="#f61e12"/>
<path d="M2854 1948l-25-22-6-6-21-25-17-35-16-44-13-55 1-18 5-26 9-23 28-12 30-23 32-33 35-44 27-8 30-6 20-2 43 27 46 15 49 5 52-5 9 4 27 17 13 12-43 73-38 62-37 54-33 46-31 37-29 30-27 22-24 15-23 7-21-1-20-9-17-18z" fill="#ff4400"/>
<path d="M2857 1953l-25-23-21-22-18-30-16-38-14-47 0-27 3-28 9-26 11-24 28-17 30-26 31-36 27-12 31-8 33-5 31-2 43 20 45 10 48 0 29 15 28 18 13 12-40 68-37 59-35 51-32 43-30 36-28 29-26 22-24 14-22 7-21 1-19-8-17-15z" fill="#ff6c00"/>
<path d="M2861 1957l-25-21-21-24-17-25-13-27-10-27-5-28 0-27 4-27 7-26 12-24 16-22 20-20 22-18 26-14 27-12 30-8 31-5 32-1 33 2 32 5 32 9 30 12 30 14 27 18 13 12-42 69-38 59-35 51-33 42-31 35-28 26-26 19-24 11-22 2-21-5-18-14z" fill="#ff9200"/>
<path d="M2864 1960l-26-22-21-25-18-28-12-28-8-29-3-29 2-29 7-27 12-26 16-24 20-21 24-18 27-15 30-11 31-8 34-4 34 0 34 5 34 8 32 11 31 16 29 18 13 12-39 65-37 56-34 49-32 40-29 33-27 26-26 18-23 11-22 3-20-4-18-12z" fill="#ffb200"/>
<path d="M2867 1964l-24-22-21-25-17-26-12-27-8-28-2-28 2-28 6-26 11-25 16-23 19-20 23-18 26-15 29-11 31-7 32-4 33 1 33 4 32 8 32 11 29 15 28 18 13 11-41 67-38 58-35 48-33 40-30 31-28 23-25 15-24 6-22-2-20-11z" fill="#ffd700"/>
<path d="M2871 1966l-23-21-21-23-16-25-11-26-8-27-2-27 1-27 7-25 11-24 14-22 19-20 22-17 25-14 28-10 29-7 31-4 32 0 31 4 32 8 30 11 29 14 26 17 13 12-39 63-36 54-34 45-31 38-29 30-27 22-25 15-22 7-22-1-19-9z" fill="#fff200"/>
<path d="M2875 1969l-25-22-20-25-16-27-11-28-5-28-1-29 5-27 11-26 15-23 19-21 24-18 26-14 30-10 32-7 32-1 34 2 33 7 32 10 31 15 28 18 13 12-37 58-35 51-32 43-29 35-28 29-26 21-24 15-22 7-20 1-19-7z" fill="#e8f800"/>
<path d="M2879 1971l-23-21-20-24-15-25-10-27-6-27 0-27 5-26 10-25 14-22 18-20 23-17 25-14 29-10 30-5 31-2 32 2 32 6 31 11 29 13 26 18 13 11-38 60-36 51-33 43-30 35-29 26-26 19-24 11-23 2-20-5z" fill="#b0ec08"/>
<path d="M2884 1973l-25-22-20-26-15-27-8-28-3-29 3-28 8-27 15-24 19-21 24-18 27-13 31-10 32-4 34 0 33 5 33 10 31 14 28 18 13 12-36 55-33 47-31 40-29 32-27 26-25 18-23 11-22 3-20-3z" fill="#60e418"/>
<path d="M2888 1975l-23-21-19-24-14-26-8-27-3-27 3-26 8-26 14-22 18-21 23-16 26-13 28-9 31-4 32 0 31 5 31 9 30 13 26 17 13 12-37 56-35 48-32 39-30 31-27 23-26 14-23 7-22-2z" fill="#21e027"/>
<path d="M2893 1976l-24-23-19-25-13-28-6-28 0-29 7-27 14-24 19-22 24-17 28-13 31-8 33-3 33 3 33 9 32 13 28 18 13 12-35 51-32 43-30 36-28 29-26 22-24 14-22 7-21 1z" fill="#0ae043"/>
<path d="M2899 1977l-25-24-19-28-11-30-4-30 5-30 13-26 20-24 25-18 31-12 34-7 35 0 36 7 34 13 30 19 12 12-35 52-34 43-30 35-29 26-26 19-25 11-22 2z" fill="#00e080"/>
<path d="M2905 1977l-23-22-17-26-11-27-3-28 5-27 11-25 18-21 24-17 28-11 31-6 33 0 33 6 31 12 28 18 12 12-32 45-30 38-29 32-26 24-24 18-23 11-21 4z" fill="#00debc"/>
<path d="M2912 1977l-24-24-16-28-8-29 1-29 11-27 18-22 26-18 30-10 34-4 34 4 34 11 29 18 13 12-34 45-30 37-29 30-26 22-25 15-23 7z" fill="#00d8e7"/>
<path d="M2987 1933l-18-32-16-38-15-43-13-49-11-56-11-62-8-70 38-57 30 32 31 23 33 16 35 11 36 5 38-1 41-8 43-16 4 31-35 62-32 53-30 48-28 42-27 37-25 32-24 27-22 23-21 18-20 13-18 9-18 4-17-1-15-5-14-11-13-19-18-19-9-2 15 21 16 12 17 7 18 2 19-2 20-8 22-12z" fill="#100c00" fill-opacity="0.18"/>
<path d="M2987 1933l-13-31-11-35-10-40-9-46-7-50-6-56-5-62-2-72 9-15 30 32 31 23 33 16 35 11 36 5 38-1 41-8 43-16 4 31-36 64-32 53-31 49-29 42-27 38-25 32-24 27-23 23-21 17-20 13-19 8-18 2-16-2-16-7-14-13 13 12 14 6 15 0 16-5 17-10 19-15z" fill="#100c00" fill-opacity="0.24"/>
<path d="M2987 1933l-8-31-8-35-6-39-4-45-4-49-2-55-1-60 2-68 32 26 34 18 35 12 38 6 39-1 42-7 44-17 4 31-37 66-34 56-31 49-30 44-28 38-26 32-25 27-23 22-22 16-20 11 12-12 13-16z" fill="#100c00" fill-opacity="0.25"/>
<path d="M2987 1933l-4-34-3-39-1-44 1-50 2-56 3-62 5-70 34 18 35 11 37 6 39-1 41-7 44-17 4 31-37 65-33 56-32 49-29 43-28 38-26 32-24 27-23 22-22 17 8-16z" fill="#100c00" fill-opacity="0.20"/>
<path d="M2987 1933l3-32 4-37 6-42 6-47 9-52 10-58 12-64 33 8 34 4 37-1 38-8 41-16 4 31-35 62-31 52-30 47-28 42-26 37-25 32-24 27-22 23-21 18z" fill="#100c00" fill-opacity="0.13"/>
<path d="M2918 1976l-22-22-15-25-7-27 1-26 10-25 17-20 23-16 28-10 30-3 32 3 30 11 27 16 12 12-35 47-33 37-30 28-27 19-26 11z" fill="#0085e0"/>
<path d="M2925 1974l-23-24-14-27-3-29 8-27 17-23 25-16 31-9 34 1 33 8 29 17 12 13-31 39-28 33-27 25-25 18-23 11z" fill="#0046f1"/>
<path d="M2932 1971l-23-26-11-31 4-30 17-25 29-17 35-6 36 7 33 17 11 13-32 39-30 31-27 23-26 14z" fill="#0025fb"/>
<path d="M2942 1967l-23-30-4-33 16-29 32-16 40 0 36 17 11 14-33 38-31 28-28 19z" fill="#0011f2"/>
<path d="M2954 1959l-16-20-3-24 12-20 23-12 28 0 25 12 11 14-33 34-30 24z" fill="#0006db"/>
<path d="M2936 1811l17-6 30-3 32 3 30 11 27 16 12 12-25 34-24 30-23 24-21 20-21 16-19 11-18 7-15-10-4-4 23-7 24-13 26-19-19-34-17-41z" fill="#000010" fill-opacity="0.18"/>
<path d="M2949 1806l4-1 30-3 32 3 30 11 27 16 12 12-25 34-24 30-23 24-21 20-21 16-19 11-18 7-8-5 19-10 21-16 22-22-14-36-13-42z" fill="#000010" fill-opacity="0.24"/>
<path d="M2963 1804l20-2 32 3 30 11 27 16 12 12-26 35-25 30-23 25-22 20-20 16-20 10 12-12 13-16 14-19-10-37-8-42z" fill="#000010" fill-opacity="0.25"/>
<path d="M2979 1802l4 0 32 3 30 11 27 16 12 12-25 34-24 30-23 24-22 21-20 15 8-16 9-19-4-37-3-44z" fill="#000010" fill-opacity="0.20"/>
<path d="M3002 1804l13 1 30 11 27 16 12 12-28 37-26 32-25 26-23 20 5-26 3-36 5-43z" fill="#000010" fill-opacity="0.13"/>
<path d="M2847 1932l-18-8-17-15-14-22-13-27-12-32-11-38-9-45-7-53 19 3 20-6 21-12 23-18 23-24 26-29 26-36 29-44 30 32 31 23 33 16 35 11 36 5 38-1 41-8 43-16 4 31-35 62-32 53-30 48-28 42-27 37-25 32-24 27-22 23-21 18-20 13-18 9-18 4-17-1-15-5-14-11-13-19z" fill="none" stroke="#e62c14" stroke-width="8" stroke-opacity="0.7" stroke-linejoin="round"/>
<path d="M1255 2019l-33 13-34 7-34-1-35-6-36-11-37-17-38-23-40-31-2-8-4-16-5-22-6-27-7-32-9-39-9-44-11-53 33 2 30-6 29-12 28-18 27-23 25-30 25-36 24-44 37 32 36 23 35 16 35 11 33 5 34-1 33-7 32-16 10 52 9 44 9 38 8 32 8 26 8 22 7 14 7 7-26 45-26 37-26 30-28 25-27 20-29 14-29 7z" fill="#cc102a"/>
<path d="M1266 2022l-33 7-44 10-47-2-47-11-49-21-51-33-15-13-13-14-5-19-7-30-9-40-11-50-13-62 11-26 4-7 41-6 38-17 37-28 34-38 33-49 10-4 31-5 48 33 46 20 46 11 44 0 44-12 16 11 13 14 12 61 12 49 11 39 10 29 9 18-8 26-4 8-35 51-35 39-37 30-38 20-39 8z" fill="#f61e12"/>
<path d="M1265 2026l-33 7-22 2-45 4-46-7-48-16-50-26-8-6-23-19-20-21-5-7-6-25-8-35-10-44-12-55 5-18 10-26 13-24 40-12 38-23 36-33 34-44 29-8 31-6 21-2 47 27 46 15 45 5 44-5 7 4 24 18 20 20 5 7 12 54 11 44 11 34 10 24-4 17-9 27-12 24-35 46-37 34-37 25-39 15z" fill="#ff4400"/>
<path d="M1287 2022l-34 9-35 6-33 2-44-2-45-11-47-20-26-16-25-20-21-22-15-23-7-30-9-38-10-47 5-27 9-28 14-27 16-23 37-18 35-26 33-36 30-11 32-9 34-5 31-2 45 20 43 10 43 0 26 15 24 18 21 22 17 22 11 46 10 38 10 28-3 27-8 28-12 28-16 25-34 37-35 28-36 20z" fill="#ff6c00"/>
<path d="M1345 1996l-29 16-31 12-32 9-34 6-34 1-34-2-32-6-32-9-29-13-27-16-23-19-20-22-17-24-12-25-8-27-4-27 0-28 5-28 9-26 13-26 17-24 20-23 24-20 26-17 28-15 30-12 32-8 32-5 32-1 32 2 32 5 30 9 28 12 26 15 24 18 20 20 17 22 14 25 9 26 5 27 1 27-3 28-8 28-12 26-16 25-19 24-24 21z" fill="#ff9200"/>
<path d="M1339 2000l-31 16-33 12-35 9-36 4-35 0-35-5-34-9-31-13-28-16-25-20-21-23-17-25-12-27-7-29-3-29 3-29 8-29 12-27 17-26 21-24 25-22 27-18 30-15 32-11 33-8 35-4 34 0 33 5 32 8 31 12 28 15 25 19 21 21 17 24 14 27 8 27 4 29-2 29-6 29-11 29-16 27-20 25-24 22z" fill="#ffb200"/>
<path d="M1335 2002l-30 16-32 12-33 8-35 4-34-1-33-4-33-9-30-12-27-16-24-19-21-22-16-25-11-26-7-27-2-28 2-28 8-28 12-27 16-25 20-23 23-20 27-18 29-14 31-11 32-8 33-3 33 0 32 4 31 8 29 11 27 15 24 18 21 21 17 23 12 25 8 27 4 28-1 28-7 28-10 27-16 26-19 24-24 22z" fill="#ffd700"/>
<path d="M1330 2004l-28 15-31 11-32 8-33 4-32 0-33-5-31-8-29-12-26-15-23-18-20-22-15-23-11-25-7-26-2-27 3-27 7-27 11-26 16-24 19-22 22-20 26-17 28-14 29-10 31-7 32-4 31 0 31 4 30 8 28 11 26 14 23 18 20 20 16 22 12 24 8 26 4 27-2 27-6 27-10 26-15 25-18 23-23 21z" fill="#fff200"/>
<path d="M1323 2007l-30 15-33 11-34 7-34 2-35-2-33-7-31-12-28-16-25-19-20-22-16-25-10-27-6-28 0-29 6-28 10-27 15-26 20-24 24-21 27-18 29-14 32-10 33-6 33-2 33 2 32 7 30 10 28 15 24 18 21 21 16 24 12 26 7 28 1 28-4 29-9 28-15 26-19 25-23 22z" fill="#e8f800"/>
<path d="M1319 2008l-29 15-31 11-33 6-33 2-32-3-32-6-30-11-26-15-24-19-19-21-15-24-10-25-6-27 0-27 5-27 10-27 15-24 19-23 22-20 26-17 28-14 30-9 32-6 32-2 31 2 31 6 28 11 27 14 23 17 20 20 15 23 11 25 7 26 1 28-4 27-9 26-13 26-19 23-22 21z" fill="#b0ec08"/>
<path d="M1311 2011l-31 15-33 10-35 5-34-1-34-5-32-10-29-16-25-19-20-22-15-26-9-27-4-29 3-28 8-28 14-27 19-24 24-22 27-18 31-13 32-10 33-4 34 0 33 5 30 10 29 14 25 18 20 22 16 24 10 27 5 28-2 29-7 28-13 28-19 25-23 22z" fill="#60e418"/>
<path d="M1306 2012l-29 13-31 10-33 4-33 0-32-5-30-10-27-14-23-18-19-21-15-24-8-26-4-27 3-27 8-27 13-25 18-23 22-20 26-17 29-13 30-9 32-4 31 0 31 5 29 9 27 13 24 17 19 21 15 23 9 26 5 26-2 27-7 27-12 26-18 24-22 21z" fill="#21e027"/>
<path d="M1298 2013l-31 14-34 8-34 3-35-3-32-9-29-14-25-19-20-23-14-25-8-28-1-29 6-28 13-27 18-25 23-21 27-18 31-13 32-8 34-2 33 3 31 8 29 13 25 18 20 22 15 25 8 27 2 29-5 28-11 28-17 25-23 23z" fill="#0ae043"/>
<path d="M1289 2015l-34 13-36 7-37 0-35-8-32-13-27-20-21-24-13-28-6-30 3-31 11-29 18-27 24-23 29-19 33-12 35-7 36 1 34 6 31 14 27 18 21 24 14 27 7 30-2 30-9 30-18 27-24 25z" fill="#00e080"/>
<path d="M1283 2013l-31 12-33 7-34-1-32-6-29-13-25-18-19-22-12-26-5-27 2-28 10-27 16-25 22-21 27-17 31-12 32-6 33 0 31 7 29 12 25 17 19 22 13 25 6 27-2 28-9 27-16 26-22 22z" fill="#00debc"/>
<path d="M1273 2013l-34 11-35 4-35-4-31-12-27-18-19-24-11-28-3-29 7-29 16-27 23-23 29-17 32-11 35-4 34 4 31 11 26 18 20 23 12 28 2 29-6 29-15 27-22 24z" fill="#00d8e7"/>
<path d="M1217 1950l-14-33-14-37-16-44-15-49-17-56-18-62-19-70 32-57 37 32 36 23 35 16 35 11 33 5 34-1 33-7 32-16 10 52 9 44 9 38 8 32 8 26 8 22 7 14 7 7-26 45-26 37-26 30-28 25-27 20-29 14-29 7-31 1-33 13-34 7-34-1-35-6-36-11-37-17-38-23-40-31-1-3 37 21 34 12 32 7 32 2 30-3 29-7 28-12z" fill="#100c00" fill-opacity="0.18"/>
<path d="M1217 1950l-9-31-9-36-10-40-10-45-12-51-11-56-13-62-14-72 7-15 37 32 36 23 35 16 35 11 33 5 34-1 33-7 32-16 10 52 9 44 9 38 8 32 8 26 8 22 7 14 7 7-26 45-26 37-26 30-28 25-27 20-29 14-29 7-31 1-35 14-36 6-36-1-37-8-38-13-39-19-41-28 33 17 31 9 29 4 28 0 27-6 26-10 25-15z" fill="#100c00" fill-opacity="0.24"/>
<path d="M1217 1950l-5-31-5-35-5-40-6-45-7-49-7-55-8-60-9-68 37 26 37 18 35 12 35 6 35-1 34-7 33-16 10 52 9 44 9 38 8 32 8 26 8 22 7 14 7 7-26 45-26 37-26 30-28 25-27 20-29 14-29 7-31 1-35 14-36 6-37-1-38-8-38-13-39-21 30 11 29 5 27-2 27-7 25-12 24-18z" fill="#100c00" fill-opacity="0.25"/>
<path d="M1217 1950l0-34 0-39-1-45-2-50-2-56-3-62-4-69 36 17 35 11 34 6 34-1 34-7 33-16 10 52 9 44 9 38 8 32 8 26 8 22 7 14 7 7-26 45-26 37-26 30-28 25-27 20-29 14-29 7-31 1-36 14-36 6-37-1-37-8-39-14 25 6 23 1 21-5 21-9 20-15 19-20z" fill="#100c00" fill-opacity="0.20"/>
<path d="M1217 1950l7-32 6-37 6-42 5-48 5-52 4-58 4-64 32 9 32 3 31-1 32-8 30-15 10 52 9 44 9 38 8 32 8 26 8 22 7 14 7 7-26 45-26 37-26 30-28 25-27 20-29 14-29 7-31 1-33 13-34 7-34-1-35-6 16 3 16-2 15-7 14-12 13-17 12-21z" fill="#100c00" fill-opacity="0.13"/>
<path d="M1268 2010l-30 11-32 3-32-4-29-11-24-16-18-22-10-25-2-27 6-27 14-24 21-21 26-16 30-10 32-3 31 4 28 10 24 16 18 21 11 25 2 27-5 26-14 25-21 22z" fill="#0085e0"/>
<path d="M1258 2009l-34 9-34-1-32-9-26-17-19-24-8-28 2-28 13-28 22-22 28-17 33-8 33 0 32 9 26 17 19 23 9 27-2 29-12 27-22 24z" fill="#0046f1"/>
<path d="M1245 2006l-36 6-36-6-30-18-18-26-5-31 10-30 22-26 32-17 36-5 35 6 29 17 19 26 5 30-9 31-22 26z" fill="#0025fb"/>
<path d="M1231 2001l-40 0-34-18-17-29 2-34 22-28 36-17 39 0 33 17 18 29-2 34-22 29z" fill="#0011f2"/>
<path d="M1227 1988l-28 0-24-12-12-21 1-24 16-20 25-12 28 1 23 12 13 20-2 24-15 20z" fill="#0006db"/>
<path d="M1171 1828l17-7 32-3 31 4 28 10 24 16 18 21 11 25 2 27-5 26-14 25-21 22-26 16-30 11-32 3-32-4-29-11-24-16-4-5 35-6 33-13 32-19-15-35-15-40z" fill="#000010" fill-opacity="0.18"/>
<path d="M1184 1823l4-2 32-3 31 4 28 10 24 16 18 21 11 25 2 27-5 26-14 25-21 22-26 16-30 11-32 3-32-4-29-11-18-12 31-9 30-16 29-22-10-36-11-42z" fill="#000010" fill-opacity="0.24"/>
<path d="M1199 1821l21-3 31 4 28 10 24 16 18 21 11 25 2 27-5 26-14 25-21 22-26 16-30 11-32 3-32-4-29-11-6-4 27-12 26-19 25-24-6-37-5-43z" fill="#000010" fill-opacity="0.25"/>
<path d="M1216 1819l4-1 31 4 28 10 24 16 18 21 11 25 2 27-5 26-14 25-21 22-26 16-30 11-32 3-32-4-21-7 22-15 21-21 21-27 0-38 0-43z" fill="#000010" fill-opacity="0.20"/>
<path d="M1238 1821l13 1 28 10 24 16 18 21 11 25 2 27-5 26-14 25-21 22-26 16-30 11-32 3-32-4 15-17 14-24 14-29 8-37 7-43z" fill="#000010" fill-opacity="0.13"/>
<path d="M1255 2019l-33 13-34 7-34-1-35-6-36-11-37-17-38-23-40-31-2-8-4-16-5-22-6-27-7-32-9-39-9-44-11-53 33 2 30-6 29-12 28-18 27-23 25-30 25-36 24-44 37 32 36 23 35 16 35 11 33 5 34-1 33-7 32-16 10 52 9 44 9 38 8 32 8 26 8 22 7 14 7 7-26 45-26 37-26 30-28 25-27 20-29 14-29 7z" fill="none" stroke="#e62c14" stroke-width="8" stroke-opacity="0.7" stroke-linejoin="round"/>
<path d="M2650 2114l-42 14-41 6-38-1-38-6-36-11-36-17-35-24-34-31-14-9-14-16-12-23-11-27-11-34-10-38-9-45-8-54 22 2 23-6 24-13 24-18 25-24 25-30 27-36 28-45 32 32 33 23 34 17 35 10 36 6 37-1 39-7 41-16 7 53 9 45 11 38 12 32 13 27 14 22 17 15 18 8-29 45-28 38-27 30-25 26-24 20-22 14-22 8z" fill="#cc102a"/>
<path d="M2654 2117l-32 7-54 10-52-2-49-12-48-21-46-33-17-13-16-14-18-20-16-32-15-40-13-51-12-62 6-26 4-8 30-6 32-19 32-28 34-38 36-50 9-3 30-6 44 33 46 21 47 10 50 1 52-11 17 11 16 14 11 61 15 49 16 40 20 30 22 19-5 27-3 9-37 51-35 39-33 30-30 21-29 10z" fill="#f61e12"/>
<path d="M2648 2121l-33 7-21 3-53 3-50-7-48-16-47-27-9-5-26-20-24-22-6-6-17-26-15-36-14-46-13-55 2-18 6-27 10-24 32-13 32-23 34-34 35-44 28-9 31-6 20-1 44 26 47 15 48 6 51-5 8 4 26 18 24 21 6 7 13 55 15 44 18 35 21 25-1 17-5 28-8 25-37 45-34 36-31 25-30 16z" fill="#ff4400"/>
<path d="M2665 2117l-33 9-35 6-33 2-49-3-47-11-46-20-29-16-28-20-24-23-20-24-15-30-14-39-13-48 1-27 5-29 10-27 13-24 30-18 32-27 32-36 28-12 32-9 33-5 31-1 44 19 46 10 47 1 28 15 27 19 25 21 20 23 14 47 16 38 18 30 1 27-4 29-8 28-13 25-33 38-31 29-29 20z" fill="#ff6c00"/>
<path d="M2715 2090l-27 16-30 13-32 9-33 5-34 2-34-2-34-6-33-10-31-13-30-17-26-19-24-22-20-24-16-26-12-27-8-28-4-29 1-28 5-27 10-27 13-24 17-23 21-20 24-18 26-15 29-12 30-8 32-6 32-1 33 2 33 5 31 9 31 13 28 15 27 18 24 21 20 23 17 25 14 26 9 28 5 28 0 28-3 28-8 27-13 26-16 24-21 22z" fill="#ff9200"/>
<path d="M2705 2093l-29 17-32 13-33 8-36 4-36 0-36-5-35-9-33-13-32-17-28-20-24-23-21-26-16-28-12-29-6-30-1-29 3-30 9-28 13-26 17-24 22-22 25-19 28-15 31-12 32-8 34-3 35 0 34 4 34 8 32 12 31 16 28 19 24 22 22 25 17 26 12 29 8 29 3 30-2 30-7 28-12 28-17 25-21 23z" fill="#ffb200"/>
<path d="M2697 2095l-28 16-30 12-33 9-34 4-34-1-35-4-34-9-32-12-30-17-27-19-24-23-20-25-15-26-11-28-6-29-2-28 4-29 8-27 13-25 16-24 21-21 24-18 28-15 29-11 31-7 33-4 33 0 33 4 33 8 31 12 29 15 27 19 24 21 21 23 16 26 12 28 8 28 3 28-2 29-7 28-12 26-16 25-21 22z" fill="#ffd700"/>
<path d="M2689 2097l-26 15-30 12-31 8-32 4-34-1-33-4-32-8-31-12-29-16-26-19-23-21-19-24-15-26-10-27-6-27-2-28 3-27 8-26 12-24 17-23 20-20 23-18 26-14 28-11 30-7 32-3 32 0 32 4 31 7 30 12 28 14 26 18 23 20 19 23 16 25 12 26 7 27 3 28-2 28-7 26-11 26-16 23-19 22z" fill="#fff200"/>
<path d="M2679 2100l-29 16-31 11-33 7-35 2-35-3-35-7-33-12-30-16-28-19-24-23-19-26-15-27-9-29-4-29 1-29 6-28 12-26 16-24 21-21 25-19 28-14 30-11 32-6 34-2 34 3 33 6 32 11 30 15 27 19 24 21 20 25 16 26 10 28 6 29 0 29-5 29-11 27-16 25-20 23z" fill="#e8f800"/>
<path d="M2671 2101l-27 15-30 11-32 6-33 2-34-2-33-7-31-11-29-16-27-18-22-22-19-24-14-26-9-28-4-28 1-27 7-27 11-25 15-23 20-20 24-18 26-14 29-10 31-6 32-2 32 3 32 6 30 11 29 14 26 18 23 20 19 24 15 25 10 27 5 27 0 28-5 27-10 26-15 24-20 22z" fill="#b0ec08"/>
<path d="M2660 2104l-30 14-32 11-34 5-35-1-35-5-34-11-31-15-28-20-24-23-18-26-14-28-7-29-2-29 5-29 10-27 16-24 20-22 25-18 29-14 31-10 33-5 34 1 34 5 33 10 30 14 28 19 24 22 19 25 14 27 9 29 3 29-4 29-9 28-15 26-20 22z" fill="#60e418"/>
<path d="M2651 2104l-28 14-30 9-32 5-33 0-33-5-32-10-29-15-27-18-22-22-18-25-13-26-7-27-1-28 4-27 10-26 15-23 19-21 24-17 27-13 29-9 31-5 32 1 32 5 31 9 29 14 26 17 23 21 18 24 13 25 9 28 2 27-3 28-9 26-14 24-19 22z" fill="#21e027"/>
<path d="M2639 2105l-30 14-32 9-35 3-35-4-34-9-31-14-28-19-24-23-17-27-12-28-5-29 2-29 8-28 15-25 20-22 25-18 29-13 32-8 34-3 34 3 33 9 30 14 28 18 24 22 18 26 12 27 6 29 0 29-8 29-14 26-20 23z" fill="#0ae043"/>
<path d="M2626 2107l-32 13-36 7-37 0-36-8-34-14-30-20-25-25-17-28-10-30-2-31 7-30 14-28 21-24 27-18 31-13 35-7 36 1 36 7 33 13 30 19 24 24 18 28 11 30 3 31-5 30-14 28-21 25z" fill="#00e080"/>
<path d="M2617 2105l-30 12-32 6-34 0-34-7-31-12-28-19-22-23-16-26-9-28-2-28 6-28 13-25 19-22 25-17 29-12 32-6 33 0 33 7 30 12 28 18 22 22 17 25 10 28 2 28-5 28-12 26-19 23z" fill="#00debc"/>
<path d="M2602 2104l-32 12-35 4-35-5-34-12-29-19-24-24-15-28-6-30 3-30 12-27 20-23 26-18 32-11 34-4 35 4 33 12 29 18 23 24 16 27 7 30-2 30-11 28-20 24z" fill="#00d8e7"/>
<path d="M2521 2038l-17-32-16-38-15-44-14-50-14-56-12-62-11-70 37-58 32 32 33 23 34 17 35 10 36 6 37-1 39-7 41-16 7 53 9 45 11 38 12 32 13 27 14 22 17 15 18 8-29 45-28 38-27 30-25 26-24 20-22 14-22 8-20 1-42 14-41 6-38-1-38-6-36-11-36-17-35-24-34-31-7-3 21 20 21 12 21 6 22 1 22-3 23-8 23-13z" fill="#100c00" fill-opacity="0.18"/>
<path d="M2521 2038l-12-31-11-36-10-40-10-46-8-51-8-56-7-62-5-73 9-15 32 32 33 23 34 17 35 10 36 6 37-1 39-7 41-16 7 53 9 45 11 38 12 32 13 27 14 22 17 15 18 8-29 45-28 38-27 30-25 26-24 20-22 14-22 8-20 1-45 14-42 6-41-2-39-7-38-13-38-20-36-27 17 16 17 8 18 3 18-1 19-7 20-10 20-16z" fill="#100c00" fill-opacity="0.24"/>
<path d="M2521 2038l-8-31-7-35-6-41-5-44-4-50-3-55-3-60-2-69 34 26 35 18 36 12 37 6 39 0 40-7 42-16 7 53 9 45 11 38 12 32 13 27 14 22 17 15 18 8-29 45-28 38-27 30-25 26-24 20-22 14-22 8-20 1-45 14-43 6-41-2-39-8-39-13-38-20 15 9 15 4 16-2 16-8 17-13 18-19z" fill="#100c00" fill-opacity="0.25"/>
<path d="M2521 2038l-4-34-2-40-1-45 0-50 1-57 2-62 3-69 34 17 36 12 37 5 38 0 39-7 42-16 7 53 9 45 11 38 12 32 13 27 14 22 17 15 18 8-29 45-28 38-27 30-25 26-24 20-22 14-22 8-20 1-45 14-43 6-41-2-40-8-39-14 9 5 10 0 10-5 11-11 12-15 13-20z" fill="#100c00" fill-opacity="0.20"/>
<path d="M2521 2038l3-32 5-37 6-43 6-47 8-53 9-59 9-64 33 9 35 4 35-1 37-8 39-15 7 53 9 45 11 38 12 32 13 27 14 22 17 15 18 8-29 45-28 38-27 30-25 26-24 20-22 14-22 8-20 1-42 14-41 6-38-1-38-6 2 2 2-3 4-8 4-13 5-18 6-22z" fill="#100c00" fill-opacity="0.13"/>
<path d="M2594 2101l-29 11-32 3-32-4-31-11-26-17-22-22-13-26-6-27 2-27 11-25 18-21 25-16 28-11 31-3 32 4 30 10 27 17 21 22 14 25 7 27-2 27-10 26-18 21z" fill="#0085e0"/>
<path d="M2581 2100l-32 9-35-1-34-9-29-18-22-24-12-28-2-30 9-27 19-23 26-17 32-9 34 0 33 9 29 18 22 23 13 28 3 29-9 28-18 24z" fill="#0046f1"/>
<path d="M2566 2097l-36 6-38-7-32-18-22-27-9-31 5-31 19-26 29-17 36-6 36 7 32 17 23 26 10 31-5 32-19 26z" fill="#0025fb"/>
<path d="M2547 2091l-40 0-36-18-22-30-2-34 18-29 33-17 40 0 36 17 22 30 3 34-18 30z" fill="#0011f2"/>
<path d="M2539 2078l-28 0-26-13-15-21-2-24 13-21 23-12 28 1 26 12 15 21 2 24-12 21z" fill="#0006db"/>
<path d="M2470 1915l17-7 31-3 32 4 30 10 27 17 21 22 14 25 7 27-2 27-10 26-18 21-25 17-29 11-32 3-32-4-31-11-26-17-5-4 26-7 28-14 28-20-19-34-16-41z" fill="#000010" fill-opacity="0.18"/>
<path d="M2483 1910l4-2 31-3 32 4 30 10 27 17 21 22 14 25 7 27-2 27-10 26-18 21-25 17-29 11-32 3-32-4-31-11-19-12 22-10 23-17 25-23-14-36-12-43z" fill="#000010" fill-opacity="0.24"/>
<path d="M2498 1908l20-3 32 4 30 10 27 17 21 22 14 25 7 27-2 27-10 26-18 21-25 17-29 11-32 3-32-4-31-11-7-4 18-13 19-19 21-26-9-37-8-43z" fill="#000010" fill-opacity="0.25"/>
<path d="M2514 1906l4-1 32 4 30 10 27 17 21 22 14 25 7 27-2 27-10 26-18 21-25 17-29 11-32 3-32-4-23-7 13-16 15-22 15-28-4-37-2-45z" fill="#000010" fill-opacity="0.20"/>
<path d="M2537 1908l13 1 30 10 27 17 21 22 14 25 7 27-2 27-10 26-18 21-25 17-29 11-32 3-32-4 5-18 7-24 8-31 4-37 6-43z" fill="#000010" fill-opacity="0.13"/>
<path d="M2650 2114l-42 14-41 6-38-1-38-6-36-11-36-17-35-24-34-31-14-9-14-16-12-23-11-27-11-34-10-38-9-45-8-54 22 2 23-6 24-13 24-18 25-24 25-30 27-36 28-45 32 32 33 23 34 17 35 10 36 6 37-1 39-7 41-16 7 53 9 45 11 38 12 32 13 27 14 22 17 15 18 8-29 45-28 38-27 30-25 26-24 20-22 14-22 8z" fill="none" stroke="#e62c14" stroke-width="8" stroke-opacity="0.7" stroke-linejoin="round"/>
<path d="M640 1645l40 31 38 24 36 16 34 11 34 5 32 0 31-8 30-15 11 53 9 44 9 39 7 32 6 27 5 22 4 16 2 8-24 45-26 38-17 11-18 6-19 0-19-4-20-10-21-14-22-19-23-24-25-29-25-34-27-39-28-45-30-50-31-56 24-36z" fill="#cc102a"/>
<path d="M635 1672l32-6 50 33 48 21 45 11 44 1 41-12 15 11 13 14 13 62 10 49 9 40 7 31 5 19-11 26-4 9-34 52-22 13-23 5-24-4-26-12-27-19-29-28-30-35-33-44-35-52-37-60-39-71 32-50z" fill="#f61e12"/>
<path d="M640 1693l32-7 21-1 49 26 46 16 45 6 42-5 7 4 23 18 19 20 5 8 12 55 10 44 8 35 6 25-5 18-10 27-14 25-18 26-22 13-23 5-24-4-26-12-27-19-29-28-30-35-33-44-35-52-37-60-39-71 17-25z" fill="#ff4400"/>
<path d="M621 1717l34-9 34-6 32-1 45 20 44 10 41 1 25 15 24 19 21 21 15 23 10 47 9 38 7 30-5 27-10 29-14 29-16 23-21 13-23 5-25-4-25-12-27-19-29-28-30-35-33-43-34-52-37-61-40-69z" fill="#ff6c00"/>
<path d="M627 1735l32-9 32-5 33-2 33 2 31 6 30 9 28 12 26 15 23 19 19 20 16 24 13 25 8 26 3 28 0 28-5 28-9 28-14 28-13 20-22 11-22 3-23-5-25-12-26-19-27-26-29-34-31-41-33-48-35-57-38-65z" fill="#ff9200"/>
<path d="M639 1747l34-8 35-4 35 0 33 5 32 8 30 12 28 16 24 19 21 22 16 25 12 26 7 29 2 29-3 30-8 30-13 29-15 25-23 9-24 1-25-8-27-15-28-24-30-32-32-40-35-49-36-58-39-67z" fill="#ffb200"/>
<path d="M644 1762l32-8 34-4 33 1 32 4 31 8 29 12 27 15 23 18 20 22 16 23 11 26 7 28 2 28-3 29-8 28-12 28-14 22-22 8-23-1-24-8-26-15-27-23-29-31-31-38-33-46-34-54-37-63z" fill="#ffd700"/>
<path d="M648 1777l31-7 33-4 31 0 32 4 29 8 28 11 26 15 22 18 19 20 15 23 11 25 7 26 1 28-2 27-8 28-12 27-11 19-22 5-22-1-23-9-25-15-26-22-28-29-29-36-31-44-33-50-35-59z" fill="#fff200"/>
<path d="M661 1790l34-6 34-2 33 2 32 7 30 11 27 15 24 18 19 22 16 25 10 26 5 28 0 29-6 30-11 28-13 24-23 4-24-4-25-12-27-19-29-28-30-35-32-43-35-51-36-60z" fill="#e8f800"/>
<path d="M665 1806l32-6 33-2 31 2 31 7 28 10 26 14 23 18 19 21 14 23 10 26 5 27 0 28-6 27-10 28-11 19-22 3-23-5-24-12-26-19-27-26-29-33-30-40-32-47-35-55z" fill="#b0ec08"/>
<path d="M679 1820l34-5 34 0 33 5 31 10 28 15 24 18 19 23 15 25 9 27 3 29-3 29-9 29-12 24-24 1-25-8-26-16-28-23-30-32-31-39-34-48-36-56z" fill="#60e418"/>
<path d="M683 1836l32-4 32 0 31 5 29 9 27 14 22 18 19 21 14 23 8 26 3 28-3 27-8 28-10 19-23-1-23-9-25-15-26-22-28-29-29-36-31-44-33-51z" fill="#21e027"/>
<path d="M698 1852l34-3 33 3 32 9 28 13 24 18 20 23 13 25 7 28 1 29-7 30-11 24-24-4-25-12-27-19-29-28-30-35-32-43-35-51z" fill="#0ae043"/>
<path d="M715 1868l36 0 34 7 31 13 26 20 20 24 13 28 5 30-4 31-10 29-23-5-23-12-25-18-27-25-27-32-30-38-31-46z" fill="#00e080"/>
<path d="M717 1887l33 0 31 6 29 13 24 17 18 23 12 25 4 28-3 29-8 21-23-8-26-16-26-22-29-30-29-37-32-44z" fill="#00debc"/>
<path d="M734 1906l34 4 31 12 26 18 18 23 11 28 1 30-6 26-26-12-27-19-29-28-30-35-33-44z" fill="#00d8e7"/>
<path d="M609 1702l31-57 40 31 38 24 36 16 34 11 34 5 32 0 31-8 30-15 11 53 9 44 9 39 7 32 6 27 5 22 4 16 2 8-24 45-26 38-18 11-18 6-19 0-19-5-21-10-22-15-22-20-24-25-25-30-26-35-27-41-29-47-19-56z" fill="#100c00" fill-opacity="0.18"/>
<path d="M633 1660l7-15 40 31 38 24 36 16 34 11 34 5 32 0 31-8 30-15 11 53 9 44 9 39 7 32 6 27 5 22 4 16 2 8-24 45-26 38-17 11-17 6-18 0-19-4-20-8-20-14-22-18-22-23-24-27-25-32-26-37-11-49-13-53-14-58z" fill="#100c00" fill-opacity="0.24"/>
<path d="M671 1670l39 26 38 18 36 12 34 6 34 0 32-7 31-16 11 53 9 44 9 39 7 32 6 27 5 22 4 16 2 8-24 45-26 38-17 11-18 6-18 0-19-4-20-9-20-14-22-18-23-23-24-28-24-33-8-53-10-59-11-65z" fill="#100c00" fill-opacity="0.25"/>
<path d="M713 1697l37 18 36 11 34 6 33 0 32-8 30-15 11 53 9 44 9 39 7 32 6 27 5 22 4 16 2 8-24 45-26 38-18 11-18 6-19 0-19-5-21-10-21-15-23-20-24-25-24-30-2-52-4-58-5-65z" fill="#100c00" fill-opacity="0.20"/>
<path d="M763 1720l33 8 31 4 30-1 30-7 28-15 11 53 9 44 9 39 7 32 6 27 5 22 4 16 2 8-24 45-26 38-18 12-19 5-20 0-20-6-22-11-23-17-23-22-25-28 5-40 4-45 3-49 2-54z" fill="#100c00" fill-opacity="0.13"/>
<path d="M734 1922l31 4 28 10 24 17 17 21 9 26 2 27-5 17-28-16-30-25-33-35-34-44z" fill="#0085e0"/>
<path d="M751 1940l32 9 25 17 18 24 7 28-2 22-24-16-25-21-27-28-28-35z" fill="#0046f1"/>
<path d="M770 1963l28 18 18 26 3 26-25-19-25-24-28-31z" fill="#0025fb"/>
<path d="M786 1997l10 19-30-28z" fill="#0011f2"/>
<path d="M715 1924l19-2 31 4 28 10 24 17 17 21 9 26 2 27-5 17-18-10-20-13-20-18-22-22-22-26z" fill="#000010" fill-opacity="0.18"/>
<path d="M715 1924l19-2 31 4 28 10 24 17 17 21 9 26 2 27-5 17-18-10-20-13-20-18-22-22-22-26z" fill="#000010" fill-opacity="0.24"/>
<path d="M715 1924l19-2 31 4 28 10 24 17 17 21 9 26 2 27-5 17-18-10-20-13-20-18-22-22-22-26z" fill="#000010" fill-opacity="0.25"/>
<path d="M731 1945l-1-22 4-1 31 4 28 10 24 17 17 21 9 26 2 27-5 17-20-10-21-15-21-20-23-24z" fill="#000010" fill-opacity="0.20"/>
<path d="M748 1966l5-41 12 1 28 10 24 17 17 21 9 26 2 27-5 17-21-11-23-17-23-22z" fill="#000010" fill-opacity="0.13"/>
<path d="M640 1645l40 31 38 24 36 16 34 11 34 5 32 0 31-8 30-15 11 53 9 44 9 39 7 32 6 27 5 22 4 16 2 8-24 45-26 38-17 11-18 6-19 0-19-4-20-10-21-14-22-19-23-24-25-29-25-34-27-39-28-45-30-50-31-56 24-36z" fill="#001000" fill-opacity="0.4"/>
<path d="M2141 2231l-40 13-38 5-38-1-37-6-37-12-37-17-36-23-37-31-10-10-10-17-10-24-10-29-9-33-10-40-9-45-9-54 26 1 26-7 26-13 26-19 26-25 26-30 27-36 27-45 34 31 34 24 35 16 36 11 35 6 37-1 37-7 39-15 8 54 9 45 10 38 11 34 11 27 12 23 14 16 14 9-29 46-27 37-27 31-26 26-26 21-25 15-25 9z" fill="#cc102a"/>
<path d="M2147 2233l-32 7-52 9-50-2-50-12-49-22-48-32-17-14-15-14-13-22-13-32-13-42-13-51-12-63 8-27 4-7 35-8 34-19 35-29 34-39 36-50 9-4 31-6 46 34 47 21 47 10 48 1 51-11 16 12 15 14 12 62 14 50 14 41 17 31 18 20-7 28-3 9-37 51-36 40-34 31-34 22-33 10z" fill="#f61e12"/>
<path d="M2143 2236l-33 7-22 3-51 3-49-7-49-17-49-26-9-6-25-20-23-22-6-7-13-27-13-38-12-46-13-56 3-18 8-28 12-24 35-14 34-24 35-34 35-45 29-9 32-6 21-2 46 27 47 15 47 6 49-4 9 4 25 18 23 21 6 8 13 55 14 45 15 37 17 26-2 17-6 28-10 26-37 46-35 36-35 26-33 17z" fill="#ff4400"/>
<path d="M2162 2231l-34 10-35 6-34 2-48-3-47-11-47-20-28-17-27-21-24-23-18-24-12-32-13-40-12-48 3-28 7-29 11-28 15-25 33-19 33-27 33-37 29-12 33-9 33-5 32-2 45 20 45 10 47 2 27 15 27 19 24 22 19 23 13 48 14 39 15 30 0 28-6 30-10 29-13 26-34 38-34 30-32 21z" fill="#ff6c00"/>
<path d="M2216 2204l-28 16-31 13-32 10-34 5-35 2-34-2-34-6-33-10-31-14-29-17-26-20-23-22-19-25-15-27-11-28-6-28-2-29 2-29 7-28 11-27 15-25 18-23 22-21 25-19 28-15 29-12 32-9 32-5 33-1 33 2 33 5 31 9 30 13 29 16 25 18 23 21 20 24 16 25 12 28 8 28 3 28-1 29-5 29-10 28-13 26-18 25-22 22z" fill="#ff9200"/>
<path d="M2207 2207l-30 17-33 13-34 9-36 4-37 0-36-5-35-9-33-14-31-17-27-21-24-24-19-26-15-29-10-29-5-31 0-30 5-30 10-29 15-27 19-25 23-22 27-19 29-16 31-12 34-8 34-4 35 1 35 4 33 8 32 13 30 16 28 19 24 23 20 25 16 27 11 29 6 30 2 31-4 30-9 30-13 28-19 26-22 24z" fill="#ffb200"/>
<path d="M2201 2209l-29 16-32 12-33 9-35 4-35 0-35-5-33-9-32-13-30-16-26-20-23-23-19-26-14-27-10-29-4-29 0-29 5-29 9-28 15-26 18-24 22-22 25-18 29-15 30-12 32-7 33-4 34 0 33 4 33 8 31 12 29 16 26 19 23 21 19 25 16 26 10 28 7 29 1 29-4 30-8 28-13 27-18 25-22 23z" fill="#ffd700"/>
<path d="M2194 2210l-28 16-30 12-32 8-33 4-34-1-33-4-33-9-30-12-29-16-25-19-22-22-18-25-14-26-9-27-4-29 0-28 4-27 10-27 13-25 18-23 21-21 25-18 27-14 29-11 31-8 32-3 32 0 32 4 31 8 30 11 28 15 25 18 22 21 19 23 14 26 11 27 6 27 1 29-4 28-8 27-12 26-17 24-21 22z" fill="#fff200"/>
<path d="M2185 2213l-30 16-32 11-34 7-36 2-35-2-35-8-32-12-31-16-26-20-23-24-19-26-13-28-8-29-3-30 3-29 8-29 13-27 18-24 22-22 26-19 29-15 32-10 33-7 33-2 34 3 34 7 32 11 29 15 27 19 23 22 19 25 14 27 9 29 4 30-1 29-7 29-12 28-17 26-22 23z" fill="#e8f800"/>
<path d="M2178 2214l-28 15-31 11-33 6-33 3-34-3-33-7-31-12-29-15-26-19-22-23-17-24-13-27-7-28-3-28 3-29 7-27 13-26 17-23 21-21 25-18 27-14 30-10 32-7 32-2 33 3 31 6 31 11 28 15 25 18 22 21 18 24 14 26 9 27 4 28-2 29-6 28-12 26-17 25-20 22z" fill="#b0ec08"/>
<path d="M2168 2216l-31 15-33 10-34 6-36-1-35-5-34-11-30-16-28-20-22-24-18-26-12-29-6-29 0-30 6-30 12-27 17-26 22-22 26-19 30-14 32-10 34-4 34 0 34 5 32 10 31 15 27 19 23 23 18 25 13 28 7 29 1 30-5 30-10 29-17 26-22 23z" fill="#60e418"/>
<path d="M2160 2216l-28 14-31 10-33 5-34-1-33-5-31-10-30-15-25-19-22-22-16-25-12-27-6-28 0-29 6-27 11-26 17-24 20-22 25-17 28-14 30-9 32-4 33 0 32 5 30 9 29 14 25 18 22 22 17 24 13 26 6 28 2 28-5 28-10 27-16 25-21 22z" fill="#21e027"/>
<path d="M2150 2217l-31 14-34 9-35 3-35-3-34-10-31-14-27-20-23-24-16-27-11-29-3-29 3-30 10-28 16-26 22-23 26-18 31-13 32-9 34-2 34 3 33 9 31 13 27 19 22 23 18 26 11 28 4 30-2 30-9 29-15 26-22 24z" fill="#0ae043"/>
<path d="M2138 2218l-34 14-36 7-37 0-37-8-34-14-29-21-23-25-17-29-8-32 0-31 8-31 16-28 22-24 29-19 32-14 36-6 36 0 36 7 33 14 29 19 23 25 17 28 10 31 1 32-7 31-15 29-23 25z" fill="#00e080"/>
<path d="M2130 2216l-31 13-33 6-34 0-34-7-31-13-27-19-21-24-15-26-8-29 0-29 7-28 15-26 20-22 26-18 30-12 33-6 33 0 33 7 30 12 27 18 22 23 15 26 9 28 1 29-7 29-14 26-20 23z" fill="#00debc"/>
<path d="M2117 2215l-33 12-36 4-36-5-33-12-29-19-22-25-14-29-5-31 5-30 13-28 21-24 28-18 32-11 35-4 35 4 33 12 29 19 22 24 14 28 6 30-4 31-12 28-21 25z" fill="#00d8e7"/>
<path d="M2043 2146l-16-33-15-39-16-44-15-50-14-56-15-63-14-70 36-58 34 31 34 24 35 16 36 11 35 6 37-1 37-7 39-15 8 54 9 45 10 38 11 34 11 27 12 23 14 16 14 9-29 46-27 37-27 31-26 26-26 21-25 15-25 9-24 2-40 13-38 5-38-1-37-6-37-12-37-17-36-23-37-31-5-4 27 19 26 11 26 5 26 0 25-4 26-8 25-14z" fill="#100c00" fill-opacity="0.18"/>
<path d="M2043 2146l-11-32-10-36-10-41-10-46-10-52-9-56-9-62-9-73 9-15 34 31 34 24 35 16 36 11 35 6 37-1 37-7 39-15 8 54 9 45 10 38 11 34 11 27 12 23 14 16 14 9-29 46-27 37-27 31-26 26-26 21-25 15-25 9-24 2-42 13-41 5-39-2-39-7-39-14-39-20-38-27 23 15 22 7 23 2 22-2 22-7 23-11 22-16z" fill="#100c00" fill-opacity="0.24"/>
<path d="M2043 2146l-6-31-6-37-6-40-6-46-5-50-5-55-5-60-4-69 36 26 36 18 36 12 37 6 37 1 39-7 40-16 8 54 9 45 10 38 11 34 11 27 12 23 14 16 14 9-29 46-27 37-27 31-26 26-26 21-25 15-25 9-24 2-42 13-41 5-40-2-40-8-39-14-39-20 21 9 20 2 21-3 20-9 20-14 21-19z" fill="#100c00" fill-opacity="0.25"/>
<path d="M2043 2146l-2-35-1-40-1-46-1-51 0-56 0-63 0-70 36 18 36 12 36 6 37 0 38-7 40-16 8 54 9 45 10 38 11 34 11 27 12 23 14 16 14 9-29 46-27 37-27 31-26 26-26 21-25 15-25 9-24 2-43 13-41 5-40-2-40-8-39-14 15 4 15-2 15-6 15-12 15-16 15-21z" fill="#100c00" fill-opacity="0.20"/>
<path d="M2043 2146l5-33 6-38 6-43 6-48 6-53 7-59 8-64 33 9 34 4 35-1 35-7 37-15 8 54 9 45 10 38 11 34 11 27 12 23 14 16 14 9-29 46-27 37-27 31-26 26-26 21-25 15-25 9-24 2-40 13-38 5-38-1-37-6 7 0 8-4 7-9 8-14 8-18 9-23z" fill="#100c00" fill-opacity="0.13"/>
<path d="M2110 2212l-30 10-33 4-32-4-31-11-26-18-20-23-13-26-4-28 4-27 12-26 19-22 26-16 29-11 32-3 32 4 30 11 26 17 20 22 13 25 6 28-4 28-11 26-20 22z" fill="#0085e0"/>
<path d="M2097 2210l-33 9-35 0-33-10-29-18-21-25-11-29 0-30 10-28 20-24 28-17 33-9 34 0 33 10 28 17 21 24 12 29 1 30-10 29-20 24z" fill="#0046f1"/>
<path d="M2083 2207l-37 6-37-7-32-18-21-28-8-32 7-31 21-27 30-17 37-6 36 6 32 18 21 27 8 32-6 31-20 27z" fill="#0025fb"/>
<path d="M2066 2201l-41-1-36-18-21-30 0-35 20-30 34-17 41 0 35 17 21 31 1 35-19 30z" fill="#0011f2"/>
<path d="M2059 2187l-29 0-25-13-15-21 0-25 14-21 24-13 29 1 25 12 15 22 0 24-14 22z" fill="#0006db"/>
<path d="M1993 2021l18-7 32-3 32 4 30 11 26 17 20 22 13 25 6 28-4 28-11 26-20 22-25 18-30 10-33 4-32-4-31-11-26-18-4-4 30-8 29-14 30-21-17-35-16-42z" fill="#000010" fill-opacity="0.18"/>
<path d="M2007 2016l4-2 32-3 32 4 30 11 26 17 20 22 13 25 6 28-4 28-11 26-20 22-25 18-30 10-33 4-32-4-31-11-19-13 26-11 26-17 26-24-12-37-12-43z" fill="#000010" fill-opacity="0.24"/>
<path d="M2022 2014l21-3 32 4 30 11 26 17 20 22 13 25 6 28-4 28-11 26-20 22-25 18-30 10-33 4-32-4-31-11-7-5 22-14 22-20 22-26-7-38-8-44z" fill="#000010" fill-opacity="0.25"/>
<path d="M2039 2012l4-1 32 4 30 11 26 17 20 22 13 25 6 28-4 28-11 26-20 22-25 18-30 10-33 4-32-4-23-8 17-16 17-23 17-29-2-38-1-45z" fill="#000010" fill-opacity="0.20"/>
<path d="M2062 2014l13 1 30 11 26 17 20 22 13 25 6 28-4 28-11 26-20 22-25 18-30 10-33 4-32-4 9-19 9-25 10-32 6-38 6-44z" fill="#000010" fill-opacity="0.13"/>
<path d="M2141 2231l-40 13-38 5-38-1-37-6-37-12-37-17-36-23-37-31-10-10-10-17-10-24-10-29-9-33-10-40-9-45-9-54 26 1 26-7 26-13 26-19 26-25 26-30 27-36 27-45 34 31 34 24 35 16 36 11 35 6 37-1 37-7 39-15 8 54 9 45 10 38 11 34 11 27 12 23 14 16 14 9-29 46-27 37-27 31-26 26-26 21-25 15-25 9z" fill="none" stroke="#e62c14" stroke-width="8" stroke-opacity="0.7" stroke-linejoin="round"/>
<path d="M1619 2350l-37 12-37 5-36-1-37-7-37-11-38-18-38-23-40-31-6-11-6-18-7-24-8-30-8-34-9-40-10-47-10-53 31-1 29-7 29-14 27-20 28-25 26-30 26-37 26-45 37 31 36 24 36 17 35 11 36 5 35 0 36-6 36-15 9 54 9 45 10 40 9 33 10 29 10 24 10 17 10 10-28 45-27 38-27 32-28 26-27 21-28 16-28 10z" fill="#cc102a"/>
<path d="M1628 2352l-33 7-49 8-49-3-50-12-50-21-51-33-16-14-15-14-8-23-10-34-10-43-12-52-13-63 10-28 4-8 39-8 38-20 37-30 35-39 35-51 9-3 32-6 49 33 47 21 48 11 47 1 47-10 17 12 14 14 13 63 12 51 13 42 13 32 13 21-8 28-4 9-36 52-36 41-37 32-37 22-38 12z" fill="#f61e12"/>
<path d="M1626 2355l-35 7-22 3-48 2-49-8-50-17-50-26-9-6-25-20-21-23-6-7-9-29-10-38-11-47-12-57 4-19 9-28 13-25 39-15 37-25 37-34 35-46 30-9 32-6 21-2 48 27 47 16 48 6 47-4 8 4 25 19 22 21 5 8 13 56 12 46 13 37 13 28-2 18-9 29-11 26-37 47-37 36-37 27-38 18z" fill="#ff4400"/>
<path d="M1647 2349l-35 10-35 6-35 2-47-3-47-12-48-20-27-17-27-21-22-24-18-25-9-32-10-41-11-50 4-29 8-30 13-28 17-25 36-20 35-28 34-37 30-12 33-10 34-5 33-2 46 20 45 11 45 1 27 16 26 20 23 22 18 24 12 48 13 40 12 32-2 29-7 30-12 30-15 26-35 39-35 30-36 22z" fill="#ff6c00"/>
<path d="M1705 2320l-30 17-31 13-34 10-34 6-35 2-35-3-34-6-33-10-31-14-28-17-25-21-22-23-18-25-13-27-10-29-5-29 0-30 4-29 8-29 13-28 16-26 20-23 23-22 27-18 28-16 31-12 32-9 33-6 33-1 34 2 32 6 32 9 30 13 27 16 25 19 22 21 19 25 15 26 10 27 7 29 2 30-2 29-7 30-12 28-15 27-20 25-23 23z" fill="#ff9200"/>
<path d="M1697 2323l-31 18-34 13-35 9-37 4-37 0-36-5-35-9-33-14-30-18-27-21-22-25-19-27-13-29-9-30-3-31 2-31 7-31 11-30 17-27 20-26 25-22 28-20 30-16 33-12 34-8 35-4 35 0 35 4 34 9 31 13 30 16 26 20 23 23 19 26 15 28 10 29 5 31 0 31-6 31-10 31-15 28-20 27-25 24z" fill="#ffb200"/>
<path d="M1692 2325l-30 16-32 13-35 9-35 4-35 0-35-5-34-9-32-13-29-17-25-21-22-24-18-26-13-28-8-29-3-30 1-30 7-29 11-29 16-27 20-24 24-22 26-19 30-15 31-12 33-8 34-4 34 0 33 5 33 8 30 12 29 16 25 19 22 23 19 24 14 27 9 29 5 30 0 30-5 30-11 29-14 28-20 25-23 24z" fill="#ffd700"/>
<path d="M1687 2326l-29 16-31 12-33 8-34 4-34 0-34-4-32-9-30-13-28-16-25-20-21-23-17-25-12-26-8-29-3-28 1-29 7-29 11-27 15-26 19-23 22-21 26-19 28-14 30-12 32-7 33-4 32 0 32 4 32 8 29 12 27 15 25 19 21 21 18 24 13 26 9 28 5 28-1 29-4 29-10 28-14 26-19 25-22 22z" fill="#fff200"/>
<path d="M1679 2328l-31 17-34 12-35 7-35 2-36-3-34-8-33-12-30-17-26-20-22-24-17-27-12-28-6-30-2-31 5-30 10-29 14-28 20-25 23-23 28-19 30-15 32-11 34-6 34-2 34 2 34 7 31 12 29 15 26 20 22 22 18 26 13 28 8 29 3 30-3 31-9 30-14 28-19 27-23 23z" fill="#e8f800"/>
<path d="M1673 2329l-29 15-32 12-33 6-35 3-34-3-32-7-31-12-29-16-25-20-21-22-16-26-11-27-7-29-1-29 4-29 10-28 14-26 18-24 23-22 26-18 28-14 31-11 32-6 33-2 33 2 32 7 30 11 28 15 24 18 21 22 17 25 13 26 7 28 3 29-3 29-8 29-14 27-18 25-22 23z" fill="#b0ec08"/>
<path d="M1664 2331l-31 15-34 11-36 5-36 0-35-6-33-11-31-16-26-20-22-25-16-27-11-29-5-31 2-30 8-30 13-29 19-26 23-22 28-19 31-15 33-10 34-5 35 0 34 6 32 10 30 15 26 20 22 23 17 26 12 29 6 30-1 30-6 31-13 29-18 27-23 24z" fill="#60e418"/>
<path d="M1658 2330l-30 15-32 10-33 5-34 0-33-6-32-10-28-15-25-20-21-22-15-26-11-28-4-29 2-29 7-28 13-27 17-24 22-22 26-18 29-14 32-9 32-5 33 1 32 5 30 9 29 15 24 18 21 22 16 25 11 27 6 28-1 29-6 29-11 27-18 26-22 22z" fill="#21e027"/>
<path d="M1648 2331l-31 15-35 9-35 3-36-4-34-9-30-15-27-20-21-24-16-28-9-30-1-30 4-30 12-29 18-27 23-23 27-19 32-13 33-9 35-2 34 3 33 9 30 14 26 19 22 23 16 27 10 29 3 30-4 31-11 29-17 28-23 24z" fill="#0ae043"/>
<path d="M1638 2332l-35 14-37 7-37 0-37-8-34-14-28-21-22-26-15-30-7-32 1-33 10-31 18-29 24-24 29-20 34-14 36-6 37 0 36 7 32 14 29 20 22 25 16 29 8 32-1 32-8 32-17 30-24 25z" fill="#00e080"/>
<path d="M1631 2329l-31 14-34 6-35 0-34-7-30-14-27-19-20-24-14-27-6-30 1-29 9-29 16-27 22-23 28-18 31-12 33-6 33 0 33 7 30 13 26 18 21 23 14 27 8 29-1 30-8 29-15 27-22 24z" fill="#00debc"/>
<path d="M1619 2328l-34 12-36 4-36-4-33-13-28-19-21-26-13-29-3-32 6-31 15-28 23-25 29-18 33-12 36-4 35 5 32 12 28 19 22 24 13 29 4 31-5 32-15 29-22 25z" fill="#00d8e7"/>
<path d="M1555 2257l-15-34-15-39-16-45-16-51-16-56-17-63-18-71 35-58 37 31 36 24 36 17 35 11 36 5 35 0 36-6 36-15 9 54 9 45 10 40 9 33 10 29 10 24 10 17 10 10-28 45-27 38-27 32-28 26-27 21-28 16-28 10-29 3-37 12-37 5-36-1-37-7-37-11-38-18-38-23-40-31-2-4 33 18 32 9 30 5 30-1 29-5 29-9 27-14z" fill="#100c00" fill-opacity="0.18"/>
<path d="M1555 2257l-10-33-10-37-10-42-10-46-11-52-11-57-12-62-12-73 8-15 37 31 36 24 36 17 35 11 36 5 35 0 36-6 36-15 9 54 9 45 10 40 9 33 10 29 10 24 10 17 10 10-28 45-27 38-27 32-28 26-27 21-28 16-28 10-29 3-39 13-39 4-38-2-39-8-39-14-40-19-41-28 29 14 29 6 27 1 26-3 26-8 25-12 25-16z" fill="#100c00" fill-opacity="0.24"/>
<path d="M1555 2257l-6-33-5-37-6-41-6-46-6-50-6-56-7-60-8-69 38 26 37 18 37 12 36 7 37 0 37-6 37-15 9 54 9 45 10 40 9 33 10 29 10 24 10 17 10 10-28 45-27 38-27 32-28 26-27 21-28 16-28 10-29 3-39 13-39 4-39-2-40-8-39-14-41-21 28 8 26 1 25-5 24-9 24-15 23-20z" fill="#100c00" fill-opacity="0.25"/>
<path d="M1555 2257l-1-36 0-41-1-46-2-52-1-57-2-63-2-70 36 18 37 12 36 6 36 0 36-6 37-15 9 54 9 45 10 40 9 33 10 29 10 24 10 17 10 10-28 45-27 38-27 32-28 26-27 21-28 16-28 10-29 3-40 13-39 4-39-2-39-9-40-14 21 3 20-3 20-7 18-13 19-17 17-22z" fill="#100c00" fill-opacity="0.20"/>
<path d="M1555 2257l6-34 7-39 6-43 5-49 6-53 5-59 6-65 33 9 34 5 33-1 34-7 34-14 9 54 9 45 10 40 9 33 10 29 10 24 10 17 10 10-28 45-27 38-27 32-28 26-27 21-28 16-28 10-29 3-37 12-37 5-36-1-37-7 13-1 13-5 12-10 12-15 11-19 11-24z" fill="#100c00" fill-opacity="0.13"/>
<path d="M1614 2325l-31 11-33 3-33-4-30-11-26-18-19-23-12-27-3-29 6-28 14-26 20-23 27-17 30-10 33-4 32 4 29 11 26 18 19 22 12 27 4 28-5 28-13 27-21 23z" fill="#0085e0"/>
<path d="M1602 2322l-34 10-35 0-34-10-28-19-19-25-10-30 1-30 12-29 22-25 29-17 33-9 35 0 33 9 28 18 20 25 10 29-1 31-11 29-22 25z" fill="#0046f1"/>
<path d="M1589 2319l-38 6-37-7-31-18-20-28-6-33 8-32 22-28 32-18 37-6 37 7 31 18 20 28 7 32-8 33-22 28z" fill="#0025fb"/>
<path d="M1573 2313l-42 0-35-19-19-31 1-36 22-31 36-17 41 0 34 18 20 31-1 36-21 31z" fill="#0011f2"/>
<path d="M1567 2299l-29-1-24-13-14-22 1-25 15-22 25-12 29 0 25 13 14 22-1 25-15 22z" fill="#0006db"/>
<path d="M1506 2130l18-7 33-4 32 4 29 11 26 18 19 22 12 27 4 28-5 28-13 27-21 23-26 18-31 11-33 3-33-4-30-11-26-18-4-5 33-8 33-15 32-21-16-37-16-42z" fill="#000010" fill-opacity="0.18"/>
<path d="M1520 2125l4-2 33-4 32 4 29 11 26 18 19 22 12 27 4 28-5 28-13 27-21 23-26 18-31 11-33 3-33-4-30-11-19-13 30-12 28-18 29-24-11-38-12-44z" fill="#000010" fill-opacity="0.24"/>
<path d="M1535 2122l22-3 32 4 29 11 26 18 19 22 12 27 4 28-5 28-13 27-21 23-26 18-31 11-33 3-33-4-30-11-7-5 25-15 25-21 25-26-7-39-6-45z" fill="#000010" fill-opacity="0.25"/>
<path d="M1552 2120l5-1 32 4 29 11 26 18 19 22 12 27 4 28-5 28-13 27-21 23-26 18-31 11-33 3-33-4-22-8 20-17 20-24 20-29-1-40-1-45z" fill="#000010" fill-opacity="0.20"/>
<path d="M1576 2122l13 1 29 11 26 18 19 22 12 27 4 28-5 28-13 27-21 23-26 18-31 11-33 3-33-4 13-20 13-26 12-32 7-39 7-45z" fill="#000010" fill-opacity="0.13"/>
<path d="M1619 2350l-37 12-37 5-36-1-37-7-37-11-38-18-38-23-40-31-6-11-6-18-7-24-8-30-8-34-9-40-10-47-10-53 31-1 29-7 29-14 27-20 28-25 26-30 26-37 26-45 37 31 36 24 36 17 35 11 36 5 35 0 36-6 36-15 9 54 9 45 10 40 9 33 10 29 10 24 10 17 10 10-28 45-27 38-27 32-28 26-27 21-28 16-28 10z" fill="none" stroke="#e62c14" stroke-width="8" stroke-opacity="0.7" stroke-linejoin="round"/>
<path d="M968 1950l40 31 38 23 37 17 36 11 35 6 34 1 34-7 33-13 10 53 10 47 9 40 8 34 8 30 7 24 6 18 6 11-26 47-28 38-21 8-22 3-21-2-23-7-22-12-24-16-23-20-25-26-25-30-26-35-27-39-28-45-30-51-30-56 26-38z" fill="#cc102a"/>
<path d="M962 1978l32-7 51 33 49 21 48 12 46 2 45-10 15 12 14 15 13 63 12 52 10 43 10 33 9 23-10 29-4 9-37 53-27 9-27 1-29-7-28-14-30-22-31-29-32-37-33-44-35-53-37-61-38-71 34-52z" fill="#f61e12"/>
<path d="M966 1998l34-7 21-1 50 26 48 16 46 7 45-4 8 5 24 19 21 22 6 8 12 57 11 47 10 38 9 29-3 18-10 30-14 27-19 26-27 9-27 1-29-7-28-14-30-22-31-29-32-37-33-44-35-53-37-61-38-71 18-26z" fill="#ff4400"/>
<path d="M947 2023l34-10 35-6 33-1 47 20 45 11 44 2 27 16 25 20 22 23 17 24 11 50 10 41 9 32-3 30-9 31-14 30-15 25-27 9-28 1-28-7-29-14-29-22-31-29-32-37-33-44-35-53-36-61-39-70z" fill="#ff6c00"/>
<path d="M952 2041l33-9 33-6 34-2 34 3 33 5 31 10 29 13 27 16 25 20 21 22 17 25 14 27 9 28 5 30 1 30-4 30-9 30-13 29-13 22-26 7-27 0-27-8-27-14-29-21-29-28-31-35-31-42-34-50-34-57-37-65z" fill="#ff9200"/>
<path d="M964 2053l36-9 35-4 36 0 35 5 33 9 32 13 29 17 25 20 22 24 18 26 14 29 8 30 3 32-2 32-7 31-12 31-15 27-28 6-28-3-29-10-30-18-30-26-32-34-33-42-35-49-36-59-39-67z" fill="#ffb200"/>
<path d="M968 2068l34-8 35-4 34 0 34 5 32 8 30 13 28 16 25 20 21 22 17 26 13 27 8 30 3 30-2 31-6 30-12 30-14 24-26 4-28-4-27-10-29-18-29-25-31-33-32-39-33-47-34-55-37-63z" fill="#ffd700"/>
<path d="M972 2083l33-8 33-3 33 0 32 4 31 8 30 12 26 16 24 19 20 22 17 24 12 27 8 28 3 29-2 30-6 29-12 29-11 20-26 3-26-5-27-11-27-17-28-24-30-31-30-37-31-45-33-51-35-59z" fill="#fff200"/>
<path d="M986 2096l34-6 35-3 35 3 33 7 31 12 29 16 25 20 21 23 17 26 12 29 6 30 1 31-5 31-10 31-13 24-27 1-28-7-29-14-29-22-31-29-31-36-33-44-35-53-36-60z" fill="#e8f800"/>
<path d="M990 2112l33-6 33-2 33 2 32 7 29 11 28 16 24 19 20 22 16 25 11 27 6 29 1 29-5 30-9 29-11 21-26-1-27-7-27-14-28-21-29-28-30-34-31-41-33-49-34-55z" fill="#b0ec08"/>
<path d="M1004 2126l35-5 35 0 34 6 32 11 30 15 25 20 21 24 16 26 10 30 5 30-2 32-9 31-12 26-27-3-29-11-29-18-30-25-32-33-32-41-34-49-36-57z" fill="#60e418"/>
<path d="M1007 2143l33-4 34 0 32 5 30 10 28 15 24 18 20 23 15 25 10 28 4 29-2 30-8 29-10 21-26-5-27-11-27-17-28-24-30-31-30-38-32-44-33-51z" fill="#21e027"/>
<path d="M1023 2159l35-3 34 3 33 9 30 15 25 19 21 24 15 27 8 30 2 31-6 32-10 25-28-7-29-14-29-22-31-29-31-36-34-45-34-52z" fill="#0ae043"/>
<path d="M1039 2175l38 0 35 8 33 14 27 21 22 25 14 30 6 32-2 34-10 31-26-8-26-14-27-21-28-26-29-34-31-39-31-46z" fill="#00e080"/>
<path d="M1041 2194l34 1 33 6 30 14 25 18 20 24 13 27 6 30-2 31-7 23-28-11-28-18-28-24-30-32-31-38-32-45z" fill="#00debc"/>
<path d="M1059 2214l35 4 32 13 28 19 20 25 12 30 2 32-6 27-28-14-30-22-31-29-32-37-33-44z" fill="#00d8e7"/>
<path d="M935 2008l33-58 40 31 38 23 37 17 36 11 35 6 34 1 34-7 33-13 10 53 10 47 9 40 8 34 8 30 7 24 6 18 6 11-26 47-28 38-21 8-22 3-23-3-22-7-23-12-24-17-24-21-25-27-26-31-27-36-28-42-28-47-18-57z" fill="#100c00" fill-opacity="0.18"/>
<path d="M961 1965l7-15 40 31 38 23 37 17 36 11 35 6 34 1 34-7 33-13 10 53 10 47 9 40 8 34 8 30 7 24 6 18 6 11-26 47-28 38-21 8-21 3-21-2-22-6-22-11-23-15-23-20-24-24-24-28-25-34-27-37-11-50-12-54-13-58z" fill="#100c00" fill-opacity="0.24"/>
<path d="M999 1975l40 25 38 19 37 12 36 7 36 1 35-6 34-14 10 53 10 47 9 40 8 34 8 30 7 24 6 18 6 11-26 47-28 38-21 8-21 3-22-2-21-7-23-11-23-15-23-20-24-25-25-29-25-33-8-54-9-60-10-66z" fill="#100c00" fill-opacity="0.25"/>
<path d="M1042 2002l37 18 37 12 36 6 35 1 34-6 34-14 10 53 10 47 9 40 8 34 8 30 7 24 6 18 6 11-26 47-28 38-21 8-22 3-23-3-22-7-23-12-24-16-24-22-25-26-26-31-2-54-2-60-4-66z" fill="#100c00" fill-opacity="0.20"/>
<path d="M1093 2025l33 9 33 5 33-1 32-6 31-13 10 53 10 47 9 40 8 34 8 30 7 24 6 18 6 11-26 47-28 38-22 8-23 3-23-3-24-8-24-14-25-18-25-24-26-29 5-41 5-46 4-50 3-55z" fill="#100c00" fill-opacity="0.13"/>
<path d="M1059 2230l32 4 30 12 24 17 19 23 11 27 2 29-4 19-32-19-32-27-34-37-36-45z" fill="#0085e0"/>
<path d="M1076 2249l33 10 27 18 19 25 9 30-1 23-27-17-27-23-29-30-29-36z" fill="#0046f1"/>
<path d="M1096 2273l30 19 19 28 4 27-27-20-27-26-29-33z" fill="#0025fb"/>
<path d="M1113 2309l11 20-31-31z" fill="#0011f2"/>
<path d="M1039 2233l20-3 32 4 30 12 24 17 19 23 11 27 2 29-4 19-21-12-21-15-22-19-23-24-23-27z" fill="#000010" fill-opacity="0.18"/>
<path d="M1039 2233l20-3 32 4 30 12 24 17 19 23 11 27 2 29-4 19-21-12-21-15-22-19-23-24-23-27z" fill="#000010" fill-opacity="0.24"/>
<path d="M1039 2233l20-3 32 4 30 12 24 17 19 23 11 27 2 29-4 19-21-12-21-15-22-19-23-24-23-27z" fill="#000010" fill-opacity="0.25"/>
<path d="M1055 2255l0-24 4-1 32 4 30 12 24 17 19 23 11 27 2 29-4 19-22-13-23-16-24-22-24-25z" fill="#000010" fill-opacity="0.20"/>
<path d="M1073 2276l5-43 13 1 30 12 24 17 19 23 11 27 2 29-4 19-24-14-25-18-25-24z" fill="#000010" fill-opacity="0.13"/>
<path d="M968 1950l40 31 38 23 37 17 36 11 35 6 34 1 34-7 33-13 10 53 10 47 9 40 8 34 8 30 7 24 6 18 6 11-26 47-28 38-21 8-22 3-21-2-23-7-22-12-24-16-23-20-25-26-25-30-26-35-27-39-28-45-30-51-30-56 26-38z" fill="#001000" fill-opacity="0.4"/>
<path d="M2231 2500l-14-13-13-20-12-26-12-32-11-35-10-41-9-48-9-54 24-2 25-9 25-15 26-21 26-26 27-31 27-37 29-46 34 31 35 24 36 17 36 11 38 6 38 1 41-6 42-14 4 32-32 62-31 53-29 48-28 43-28 38-26 34-25 29-25 25-24 21-23 16-23 12-22 8-22 3-22-1-21-5-21-13z" fill="#cc102a"/>
<path d="M2238 2507l-17-15-17-26-16-36-15-44-14-54-13-65 8-29 3-8 33-10 34-22 34-31 36-40 37-51 9-4 32-7 46 33 48 22 50 11 51 3 54-10 18 13 14 13-43 78-40 67-37 58-36 49-34 42-33 34-31 26-31 19-30 12-29 4-28-4-28-15z" fill="#f61e12"/>
<path d="M2243 2512l-24-24-7-7-16-31-16-40-14-49-13-59 2-20 7-29 11-26 33-17 35-26 35-36 37-46 29-10 33-6 21-2 47 27 48 16 50 7 53-4 9 5 27 20 13 13-40 73-38 63-36 54-34 48-33 39-32 33-30 26-30 18-29 12-28 4-27-2-28-11z" fill="#ff4400"/>
<path d="M2248 2516l-25-26-20-25-15-35-15-43-13-51 1-30 6-31 11-30 14-26 32-21 34-30 34-38 29-13 33-9 35-6 33-2 46 20 47 11 49 3 29 16 29 20 13 13-38 68-37 60-34 52-33 45-32 38-31 32-29 25-29 18-28 12-27 5-27-1-26-9z" fill="#ff6c00"/>
<path d="M2254 2519l-24-25-21-26-16-29-13-30-8-30-3-31 1-31 6-30 10-29 15-27 18-25 22-22 25-20 28-16 30-13 32-9 33-6 34-1 34 2 34 6 33 10 32 13 30 17 27 20 13 13-39 69-38 60-36 52-34 44-33 37-31 30-31 22-29 15-29 8-29 1-28-7z" fill="#ff9200"/>
<path d="M2259 2521l-25-26-21-28-17-31-11-31-7-33-1-33 4-32 10-30 14-29 18-27 23-24 27-20 29-17 33-13 34-8 35-4 36 0 36 5 35 9 34 13 32 17 29 21 13 13-38 65-36 57-35 50-33 42-31 36-31 28-29 22-29 15-28 9-27 1-27-5z" fill="#ffb200"/>
<path d="M2265 2522l-25-24-20-28-16-29-11-30-7-32-1-31 4-31 9-30 14-28 18-25 22-23 25-20 29-16 31-12 33-9 34-4 35 0 34 5 34 9 33 12 30 17 28 20 13 13-40 67-37 59-36 50-35 42-33 34-31 26-31 19-30 12-29 4-29-5z" fill="#ffd700"/>
<path d="M2270 2524l-23-24-20-26-15-28-11-30-6-30-1-30 4-30 8-28 13-27 17-25 22-22 24-19 28-15 29-12 32-8 33-4 33 0 33 5 33 8 31 12 30 16 26 20 14 13-38 63-37 55-34 47-33 40-32 33-30 26-30 18-29 12-28 4-28-2z" fill="#fff200"/>
<path d="M2276 2525l-25-25-20-28-15-30-9-31-4-32 1-32 8-30 12-29 18-26 22-24 26-20 29-16 32-11 34-7 35-2 35 3 35 7 33 12 31 16 28 20 13 14-36 59-34 51-33 45-31 38-31 31-29 25-28 18-28 12-27 5-27-1z" fill="#e8f800"/>
<path d="M2282 2526l-24-24-19-27-14-28-9-30-4-30 2-30 6-30 12-27 17-25 21-23 25-19 28-15 30-11 33-7 33-2 33 3 34 7 31 11 30 16 27 19 13 13-38 61-36 53-34 44-33 37-31 30-31 22-30 15-29 8-28 1z" fill="#b0ec08"/>
<path d="M2288 2527l-24-26-20-28-13-31-8-32-1-32 5-31 11-30 17-27 22-24 26-19 30-16 33-10 34-5 36 0 35 6 34 11 32 15 29 21 13 13-36 56-34 49-32 41-32 35-30 28-29 22-28 15-28 8-27 2z" fill="#60e418"/>
<path d="M2295 2527l-23-24-19-27-13-29-7-30-1-30 5-30 10-28 16-25 21-23 25-19 28-14 31-10 33-5 33 0 33 6 33 10 30 15 27 19 13 13-38 58-35 49-34 41-33 34-31 26-31 19-29 12-29 4z" fill="#21e027"/>
<path d="M2302 2527l-24-26-19-28-11-31-5-32 2-32 9-30 16-28 21-24 27-19 30-15 34-9 35-2 35 3 35 9 32 15 29 20 12 13-34 52-33 45-32 39-31 31-29 25-29 18-28 12-27 5z" fill="#0ae043"/>
<path d="M2309 2526l-25-27-18-31-10-34-1-34 7-32 15-31 23-25 28-21 33-14 36-7 38 0 37 8 35 14 31 21 12 14-36 53-35 45-33 37-31 30-31 22-30 16-29 7z" fill="#00e080"/>
<path d="M2318 2525l-24-25-16-29-9-31-1-31 6-30 14-27 20-24 27-19 30-13 33-7 35 1 34 7 32 13 28 19 13 14-33 47-32 40-30 33-29 28-29 21-27 15-27 9z" fill="#00debc"/>
<path d="M2327 2522l-24-26-16-31-6-33 3-32 13-30 21-25 28-20 33-12 36-4 36 5 35 12 30 20 12 14-34 46-32 40-32 32-30 25-29 19-29 12z" fill="#00d8e7"/>
<path d="M2416 2467l-17-35-17-41-15-46-15-51-14-57-14-63-12-71 38-59 34 31 35 24 36 17 36 11 38 6 38 1 41-6 42-14 4 32-32 62-31 53-29 48-28 43-28 38-26 34-25 29-25 25-24 21-23 16-23 12-22 8-22 3-22-1-21-5-21-13-21-19-7-5 23 15 23 8 24 2 24-2 24-6 24-11 25-15z" fill="#100c00" fill-opacity="0.18"/>
<path d="M2416 2467l-12-34-11-38-11-43-9-47-9-53-9-57-7-63-7-72 9-16 34 31 35 24 36 17 36 11 38 6 38 1 41-6 42-14 4 32-33 63-31 54-30 49-29 44-28 38-26 34-26 29-25 25-24 20-24 16-23 11-23 7-23 3-22-3-22-7 21 6 20 0 22-4 21-9 22-14 22-18z" fill="#100c00" fill-opacity="0.24"/>
<path d="M2416 2467l-7-34-7-38-6-42-6-47-4-51-4-56-4-61-2-69 36 26 37 18 37 13 39 7 40 1 41-6 44-14 4 32-34 66-33 55-31 51-29 44-29 39-28 35-26 29-26 24-25 19-25 15 16-15 16-19z" fill="#100c00" fill-opacity="0.25"/>
<path d="M2416 2467l-2-37-2-42-2-48 0-52 1-58 1-63 3-71 36 18 37 12 38 7 40 1 41-6 43-14 4 32-34 65-32 56-31 49-29 45-29 39-27 34-27 29-25 24-25 20 10-19z" fill="#100c00" fill-opacity="0.20"/>
<path d="M2416 2467l5-35 5-40 6-45 7-49 7-54 9-60 9-65 35 10 36 4 37 0 38-6 40-13 4 32-32 61-30 53-29 47-28 43-27 38-26 33-25 30-24 25-24 20z" fill="#100c00" fill-opacity="0.13"/>
<path d="M2334 2520l-22-24-14-28-5-30 3-29 11-28 19-23 26-18 30-11 33-3 33 4 31 11 28 18 12 14-37 48-35 40-33 32-33 23-31 15z" fill="#0085e0"/>
<path d="M2343 2517l-23-26-12-31-2-32 10-30 19-26 28-18 34-10 35 0 35 10 30 19 12 14-33 42-31 34-30 28-28 22-29 15z" fill="#0046f1"/>
<path d="M2352 2513l-23-29-9-35 6-33 20-29 31-18 37-7 38 7 34 19 11 15-34 41-33 34-31 26-31 19z" fill="#0025fb"/>
<path d="M2364 2507l-23-33-2-38 19-32 36-18 41 0 37 19 11 16-36 40-33 32-33 23z" fill="#0011f2"/>
<path d="M2379 2497l-16-23-2-26 14-23 25-13 29 0 27 13 10 16-36 37-34 28z" fill="#0006db"/>
<path d="M2364 2336l18-7 33-3 33 4 31 11 28 18 12 14-26 35-26 31-25 27-24 23-23 18-23 14-22 10-16-11-4-4 28-11 29-16 29-22-18-38-18-43z" fill="#000010" fill-opacity="0.18"/>
<path d="M2378 2331l4-2 33-3 33 4 31 11 28 18 12 14-26 35-26 31-25 27-24 23-23 18-23 14-22 10-8-5 24-14 25-20 25-25-13-40-13-45z" fill="#000010" fill-opacity="0.24"/>
<path d="M2393 2328l22-2 33 4 31 11 28 18 12 14-27 36-26 32-26 27-24 23-24 18-24 14 16-15 16-19 16-22-8-40-8-47z" fill="#000010" fill-opacity="0.25"/>
<path d="M2410 2326l5 0 33 4 31 11 28 18 12 14-26 35-26 31-25 27-24 23-23 18 10-19 11-21-3-41-2-47z" fill="#000010" fill-opacity="0.20"/>
<path d="M2434 2328l14 2 31 11 28 18 12 14-29 39-28 33-27 28-26 23 7-29 5-40 6-46z" fill="#000010" fill-opacity="0.13"/>
<path d="M2231 2500l-14-13-13-20-12-26-12-32-11-35-10-41-9-48-9-54 24-2 25-9 25-15 26-21 26-26 27-31 27-37 29-46 34 31 35 24 36 17 36 11 38 6 38 1 41-6 42-14 4 32-32 62-31 53-29 48-28 43-28 38-26 34-25 29-25 25-24 21-23 16-23 12-22 8-22 3-22-1-21-5-21-13z" fill="none" stroke="#e62c14" stroke-width="8" stroke-opacity="0.7" stroke-linejoin="round"/>
<path d="M2009 2706l-41 10-40 3-39-2-39-8-38-12-39-17-38-23-40-30-9-15-9-22-10-27-9-32-10-36-9-42-10-48-10-55 29-3 28-10 28-16 27-21 28-26 27-32 27-38 28-45 37 31 36 23 37 17 37 12 37 6 38 1 38-5 40-13 9 54 9 48 10 41 11 35 12 32 12 26 13 20 14 13-30 46-28 39-29 33-27 28-28 23-27 18-27 13z" fill="#cc102a"/>
<path d="M2016 2705l-34 8-53 6-52-4-52-13-51-22-52-32-18-15-15-16-12-27-13-37-13-46-13-55-13-65 9-30 4-8 38-12 37-22 37-32 36-41 36-52 10-3 33-7 49 33 49 21 49 12 50 3 52-9 17 13 16 15 12 65 14 54 15 44 16 36 18 26-7 30-4 9-39 53-37 43-36 34-37 25-35 15z" fill="#f61e12"/>
<path d="M2012 2707l-35 8-22 3-53 0-52-9-51-17-51-27-9-6-27-22-23-24-6-8-13-32-12-42-13-50-13-59 3-20 9-30 12-27 38-18 37-27 37-36 37-47 30-10 33-7 22-1 49 26 49 17 49 7 51-3 9 5 26 20 24 23 6 8 13 59 14 48 16 41 16 31-1 19-8 31-11 28-38 48-37 39-37 30-36 20z" fill="#ff4400"/>
<path d="M2033 2700l-35 11-37 6-36 2-50-4-49-13-50-20-29-19-28-23-24-25-19-27-12-36-12-44-13-52 3-30 8-32 12-31 16-27 36-22 35-30 35-39 30-13 34-10 36-6 33-1 47 20 47 11 48 3 29 17 28 21 24 24 20 25 13 51 15 43 15 35-1 30-6 33-11 32-15 28-36 41-35 32-34 25z" fill="#ff6c00"/>
<path d="M2090 2667l-30 19-32 14-34 10-35 7-37 2-36-3-36-7-34-11-32-14-30-19-27-22-23-25-20-27-15-29-11-31-7-31-1-32 3-32 7-30 12-30 16-27 20-26 23-23 27-20 29-17 31-13 33-9 34-6 34-2 35 3 34 6 33 10 31 13 29 17 27 21 23 23 21 26 16 28 12 29 8 31 4 32-2 32-6 31-10 31-15 28-19 27-23 25z" fill="#ff9200"/>
<path d="M2081 2670l-31 19-35 14-36 9-38 5-38 0-38-6-37-10-34-14-32-19-29-23-24-27-20-29-15-31-10-32-5-34 1-33 6-33 11-31 16-30 20-27 24-25 28-21 31-17 34-13 35-9 36-4 36 0 36 5 35 10 34 13 31 18 28 21 25 25 21 27 16 30 11 32 7 33 1 33-5 34-9 32-15 31-19 29-25 25z" fill="#ffb200"/>
<path d="M2075 2670l-31 18-33 14-35 9-36 5-37-1-36-5-35-9-34-15-30-18-28-22-23-25-20-28-14-30-10-31-4-33 0-32 6-31 11-31 15-28 19-27 24-23 27-20 29-17 33-13 33-8 35-4 35 0 35 5 34 9 32 13 30 17 27 20 24 24 20 27 16 29 11 30 6 32 1 32-4 32-10 31-14 30-19 28-23 25z" fill="#ffd700"/>
<path d="M2068 2671l-29 17-32 13-33 9-35 4-35 0-35-5-34-9-32-14-30-18-26-21-23-24-18-27-14-29-9-30-5-31 1-31 5-30 10-29 15-28 19-25 22-23 26-19 29-16 31-12 32-8 33-4 34 0 34 5 32 8 31 13 29 16 26 20 23 23 19 25 15 28 11 30 5 30 1 31-4 31-8 30-14 28-18 27-23 24z" fill="#fff200"/>
<path d="M2059 2672l-31 18-34 12-36 8-37 3-37-3-36-9-34-13-32-18-28-22-23-26-19-28-14-31-8-32-2-32 3-33 9-31 15-30 19-27 23-24 28-20 30-16 33-12 35-7 35-2 36 2 34 8 33 12 31 17 28 21 24 24 19 27 15 30 9 31 4 33-2 33-8 32-13 30-18 28-24 26z" fill="#e8f800"/>
<path d="M2052 2672l-30 16-32 13-34 7-36 2-35-3-34-8-33-12-30-17-26-21-23-25-18-27-13-29-7-31-3-31 4-31 8-30 14-28 18-26 22-23 26-19 30-16 31-11 33-7 34-2 34 3 33 7 31 12 30 16 26 20 23 23 18 26 14 28 9 30 4 31-2 31-7 31-13 29-17 27-23 24z" fill="#b0ec08"/>
<path d="M2042 2673l-32 17-35 11-36 6-38-1-36-6-35-12-32-17-29-22-23-26-18-29-12-31-6-33 0-33 7-32 13-30 18-28 24-24 27-21 32-15 33-11 36-5 35 0 36 6 34 11 31 16 28 21 24 25 19 28 13 30 7 32 1 33-6 33-11 31-18 29-23 25z" fill="#60e418"/>
<path d="M2035 2671l-31 16-32 11-35 5-35 0-35-6-32-11-31-16-26-21-23-24-17-28-11-30-6-30 1-31 6-31 12-28 17-27 23-23 26-19 29-15 32-10 33-5 34 1 34 5 32 10 29 16 27 19 22 24 18 26 12 29 7 31 1 31-5 30-11 30-17 27-22 24z" fill="#21e027"/>
<path d="M2024 2672l-33 15-35 10-37 3-37-4-35-10-32-16-29-21-23-27-17-29-10-32-3-32 4-33 11-31 17-28 23-25 28-20 31-14 35-9 35-3 36 3 34 10 32 15 28 20 23 25 18 29 11 31 5 32-3 33-10 32-17 29-22 26z" fill="#0ae043"/>
<path d="M2012 2671l-35 16-39 7-39 0-38-8-35-16-31-23-24-27-16-32-9-34 1-35 9-34 17-31 24-26 30-21 34-14 37-8 38 1 37 7 34 15 31 22 24 27 17 31 10 33 0 35-7 34-17 32-23 27z" fill="#00e080"/>
<path d="M2003 2668l-32 14-35 7-36-1-35-7-32-15-28-20-22-26-15-29-8-31 1-32 8-31 15-29 22-24 28-19 31-14 34-6 35 0 34 7 32 14 28 20 22 24 16 29 8 31 1 32-7 31-15 29-22 25z" fill="#00debc"/>
<path d="M1990 2665l-35 13-37 5-37-5-35-14-30-21-23-27-14-32-5-33 6-33 14-31 23-26 29-20 34-12 36-4 37 4 34 13 30 20 23 27 14 31 6 33-4 34-14 31-22 27z" fill="#00d8e7"/>
<path d="M1916 2585l-17-36-16-41-16-46-15-52-16-58-16-63-16-71 37-59 37 31 36 23 37 17 37 12 37 6 38 1 38-5 40-13 9 54 9 48 10 41 11 35 12 32 12 26 13 20 14 13-30 46-28 39-29 33-27 28-28 23-27 18-27 13-26 6-41 10-40 3-39-2-39-8-38-12-39-17-38-23-40-30-4-7 30 15 29 6 28 1 28-3 28-7 27-12 28-15z" fill="#100c00" fill-opacity="0.18"/>
<path d="M1916 2585l-11-35-11-39-10-43-11-48-10-52-10-58-11-63-10-73 9-15 37 31 36 23 37 17 37 12 37 6 38 1 38-5 40-13 9 54 9 48 10 41 11 35 12 32 12 26 13 20 14 13-30 46-28 39-29 33-27 28-28 23-27 18-27 13-26 6-43 10-42 3-41-3-41-9-41-14-40-20-41-27 26 10 25 3 25-2 24-6 24-11 24-14 24-19z" fill="#100c00" fill-opacity="0.24"/>
<path d="M1916 2585l-7-35-6-38-6-43-6-47-5-52-6-56-5-61-6-70 38 26 38 19 38 12 38 8 39 1 40-5 41-13 9 54 9 48 10 41 11 35 12 32 12 26 13 20 14 13-30 46-28 39-29 33-27 28-28 23-27 18-27 13-26 6-43 10-43 3-41-3-42-9-41-15-41-20 24 3 23-3 23-8 22-12 22-18 22-22z" fill="#100c00" fill-opacity="0.25"/>
<path d="M1916 2585l-2-38-1-43-1-48-1-53 0-58-1-64 0-70 37 18 38 12 38 7 38 1 39-5 41-13 9 54 9 48 10 41 11 35 12 32 12 26 13 20 14 13-30 46-28 39-29 33-27 28-28 23-27 18-27 13-26 6-44 10-42 3-42-3-41-10-42-14 18-2 17-6 17-11 16-16 17-19 16-25z" fill="#100c00" fill-opacity="0.20"/>
<path d="M1916 2585l6-36 6-41 6-45 6-49 7-55 7-60 7-65 35 9 35 6 36 0 36-6 38-12 9 54 9 48 10 41 11 35 12 32 12 26 13 20 14 13-30 46-28 39-29 33-27 28-28 23-27 18-27 13-26 6-41 10-40 3-39-2-39-8 10-5 9-9 9-13 10-18 9-22 9-27z" fill="#100c00" fill-opacity="0.13"/>
<path d="M1983 2661l-31 12-34 3-34-4-32-12-27-19-21-25-13-29-4-30 5-31 13-28 20-24 27-18 31-11 33-4 34 4 31 12 27 19 21 24 13 28 5 30-4 31-12 28-21 25z" fill="#0085e0"/>
<path d="M1971 2658l-35 10-37 0-35-11-30-20-21-27-11-31 0-33 11-31 22-26 29-19 34-10 36 0 34 11 30 19 22 26 11 31 1 33-11 32-21 26z" fill="#0046f1"/>
<path d="M1956 2653l-39 7-39-7-33-20-21-30-8-35 8-35 22-29 32-19 38-7 38 7 33 20 22 29 8 35-7 35-22 30z" fill="#0025fb"/>
<path d="M1938 2646l-43 0-37-20-21-34 0-38 21-33 37-18 42 0 37 19 21 33 1 39-21 33z" fill="#0011f2"/>
<path d="M1931 2630l-30 0-26-14-15-24 0-27 15-23 26-13 30 0 26 14 15 23 0 27-15 24z" fill="#0006db"/>
<path d="M1864 2452l19-7 33-4 34 4 31 12 27 19 21 24 13 28 5 30-4 31-12 28-21 25-27 19-31 12-34 3-34-4-32-12-27-19-4-5 31-11 32-18 32-22-18-39-17-44z" fill="#000010" fill-opacity="0.18"/>
<path d="M1879 2447l4-2 33-4 34 4 31 12 27 19 21 24 13 28 5 30-4 31-12 28-21 25-27 19-31 12-34 3-34-4-32-12-20-14 28-15 28-20 28-26-13-41-12-45z" fill="#000010" fill-opacity="0.24"/>
<path d="M1894 2444l22-3 34 4 31 12 27 19 21 24 13 28 5 30-4 31-12 28-21 25-27 19-31 12-34 3-34-4-32-12-7-5 23-18 24-23 24-29-8-41-7-47z" fill="#000010" fill-opacity="0.25"/>
<path d="M1912 2442l4-1 34 4 31 12 27 19 21 24 13 28 5 30-4 31-12 28-21 25-27 19-31 12-34 3-34-4-24-9 19-20 18-27 19-31-2-42-1-48z" fill="#000010" fill-opacity="0.20"/>
<path d="M1936 2444l14 1 31 12 27 19 21 24 13 28 5 30-4 31-12 28-21 25-27 19-31 12-34 3-34-4 10-24 11-29 11-34 6-41 7-47z" fill="#000010" fill-opacity="0.13"/>
<path d="M2009 2706l-41 10-40 3-39-2-39-8-38-12-39-17-38-23-40-30-9-15-9-22-10-27-9-32-10-36-9-42-10-48-10-55 29-3 28-10 28-16 27-21 28-26 27-32 27-38 28-45 37 31 36 23 37 17 37 12 37 6 38 1 38-5 40-13 9 54 9 48 10 41 11 35 12 32 12 26 13 20 14 13-30 46-28 39-29 33-27 28-28 23-27 18-27 13z" fill="none" stroke="#e62c14" stroke-width="8" stroke-opacity="0.7" stroke-linejoin="round"/>
<path d="M1319 2276l40 31 38 23 38 18 37 11 37 7 36 1 37-5 37-12 10 55 10 48 9 42 10 36 9 32 10 27 9 22 9 15-28 46-29 40-26 4-26 0-26-5-25-10-26-14-25-18-26-22-26-27-26-31-27-36-27-41-28-45-29-51-30-56 28-38z" fill="#cc102a"/>
<path d="M1312 2304l33-7 51 33 51 22 49 12 49 3 49-8 17 13 14 16 14 65 13 55 12 45 13 38 12 27-9 31-4 9-38 55-33 4-33-3-33-10-32-17-33-24-32-32-34-38-34-46-35-54-36-61-38-71 37-53z" fill="#f61e12"/>
<path d="M1316 2325l34-7 22-2 50 27 50 16 49 8 49-2 8 4 26 21 22 24 6 8 13 59 13 50 12 42 13 32-3 20-9 32-13 29-20 27-33 4-33-3-33-10-32-17-33-24-32-32-34-38-34-46-35-54-36-61-38-71 19-26z" fill="#ff4400"/>
<path d="M1295 2350l35-10 36-6 34-2 48 20 47 12 47 3 28 17 27 22 24 25 18 25 13 52 12 44 12 36-3 32-8 33-13 33-15 27-33 4-32-3-33-10-32-17-33-24-32-32-34-38-34-46-35-53-36-62-37-70z" fill="#ff6c00"/>
<path d="M1300 2368l33-10 35-6 35-1 35 2 34 6 33 10 31 14 28 18 26 21 23 24 19 26 15 29 11 30 6 32 2 32-3 33-8 32-12 31-13 24-32 2-31-4-31-10-31-17-31-24-32-30-32-37-32-43-34-50-34-58-36-65z" fill="#ff9200"/>
<path d="M1312 2380l36-9 37-4 37 0 36 5 35 9 33 14 31 18 27 22 24 25 19 29 15 30 10 33 5 33-1 35-6 34-11 33-15 29-34 1-33-6-33-14-33-21-33-28-34-36-34-43-35-50-36-59-38-68z" fill="#ffb200"/>
<path d="M1316 2395l34-8 36-5 35 1 35 4 34 9 32 14 30 17 26 21 23 25 18 27 15 30 9 31 5 32-1 33-6 33-11 32-13 26-32-1-32-7-31-13-32-21-32-27-32-34-33-41-34-48-34-56-36-63z" fill="#ffd700"/>
<path d="M1320 2411l33-9 34-4 34 1 34 4 32 9 31 13 28 17 25 20 22 23 18 27 14 28 9 30 4 31 0 32-6 32-11 30-11 22-30-1-31-8-30-14-30-20-31-26-31-33-31-38-32-46-33-52-35-59z" fill="#fff200"/>
<path d="M1333 2424l35-8 36-2 36 3 35 8 33 12 30 17 27 22 23 25 18 28 13 30 8 32 2 34-4 33-9 33-13 26-32-3-32-10-32-17-33-25-32-31-33-38-34-45-35-53-36-61z" fill="#e8f800"/>
<path d="M1336 2440l34-7 35-2 34 3 33 7 31 12 29 16 26 21 21 23 18 27 12 29 8 31 2 32-4 32-9 31-10 22-31-4-30-11-31-17-31-23-30-30-32-36-32-42-33-49-33-56z" fill="#b0ec08"/>
<path d="M1351 2454l36-5 36 0 35 6 34 11 31 17 27 21 23 25 18 29 11 31 6 33-1 34-7 33-12 28-32-7-33-14-32-20-33-28-33-35-34-42-34-50-36-58z" fill="#60e418"/>
<path d="M1354 2471l34-5 34 0 34 6 32 11 29 15 26 20 21 24 16 28 12 29 5 31-1 32-7 32-9 22-31-8-30-14-30-20-31-26-31-33-31-38-33-46-33-52z" fill="#21e027"/>
<path d="M1369 2487l36-3 36 3 34 10 32 15 27 21 23 26 16 29 10 32 2 33-4 34-10 27-32-10-32-17-33-25-32-31-33-38-34-45-35-53z" fill="#0ae043"/>
<path d="M1386 2503l39 1 37 8 34 15 29 22 24 27 16 32 7 35-1 35-9 34-30-11-29-17-30-23-30-28-30-35-31-40-32-47z" fill="#00e080"/>
<path d="M1388 2523l35 0 34 8 32 14 27 20 21 25 15 29 7 32-1 33-7 25-31-14-31-21-31-26-31-33-33-40-32-46z" fill="#00debc"/>
<path d="M1406 2543l37 5 33 13 29 21 22 27 14 31 3 35-5 29-32-17-33-24-32-32-34-38-34-46z" fill="#00d8e7"/>
<path d="M1284 2336l35-60 40 31 38 23 38 18 37 11 37 7 36 1 37-5 37-12 10 55 10 48 9 42 10 36 9 32 10 27 9 22 9 15-28 46-29 40-27 4-26-1-26-5-26-10-26-14-26-19-26-23-27-28-26-33-28-37-28-42-28-47-17-58z" fill="#100c00" fill-opacity="0.18"/>
<path d="M1311 2292l8-16 40 31 38 23 38 18 37 11 37 7 36 1 37-5 37-12 10 55 10 48 9 42 10 36 9 32 10 27 9 22 9 15-28 46-29 40-26 4-25 0-25-5-25-9-25-13-25-17-25-22-25-25-26-30-26-34-27-39-11-50-11-54-12-59z" fill="#100c00" fill-opacity="0.24"/>
<path d="M1350 2301l39 25 40 19 38 13 38 7 38 2 38-5 38-12 10 55 10 48 9 42 10 36 9 32 10 27 9 22 9 15-28 46-29 40-26 4-25 0-26-5-25-9-25-14-25-17-25-22-26-26-26-30-26-35-7-55-8-61-9-67z" fill="#100c00" fill-opacity="0.25"/>
<path d="M1393 2328l38 18 38 12 38 8 37 1 37-5 38-12 10 55 10 48 9 42 10 36 9 32 10 27 9 22 9 15-28 46-29 40-27 4-26-1-26-5-26-10-26-14-26-19-26-23-26-28-27-32-2-55-2-61-2-67z" fill="#100c00" fill-opacity="0.20"/>
<path d="M1445 2351l35 10 35 5 34 1 35-5 35-12 10 55 10 48 9 42 10 36 9 32 10 27 9 22 9 15-28 46-29 40-28 4-27-1-27-6-27-11-27-15-27-21-27-25-28-31 6-43 5-47 5-51 5-55z" fill="#100c00" fill-opacity="0.13"/>
<path d="M1406 2560l33 4 31 12 27 19 20 25 12 29 3 31-3 19-35-21-36-30-36-38-37-47z" fill="#0085e0"/>
<path d="M1424 2579l34 11 29 19 20 27 11 32-1 25-29-20-30-25-30-31-30-38z" fill="#0046f1"/>
<path d="M1444 2605l32 20 21 30 5 29-29-23-30-28-30-34z" fill="#0025fb"/>
<path d="M1463 2642l12 21-34-32z" fill="#0011f2"/>
<path d="M1385 2563l21-3 33 4 31 12 27 19 20 25 12 29 3 31-3 19-24-13-23-17-24-21-24-25-24-28z" fill="#000010" fill-opacity="0.18"/>
<path d="M1385 2563l21-3 33 4 31 12 27 19 20 25 12 29 3 31-3 19-24-13-23-17-24-21-24-25-24-28z" fill="#000010" fill-opacity="0.24"/>
<path d="M1385 2563l21-3 33 4 31 12 27 19 20 25 12 29 3 31-3 19-24-13-23-17-24-21-24-25-24-28z" fill="#000010" fill-opacity="0.25"/>
<path d="M1402 2585l-1-24 5-1 33 4 31 12 27 19 20 25 12 29 3 31-3 19-25-14-25-19-26-23-25-27z" fill="#000010" fill-opacity="0.20"/>
<path d="M1420 2607l6-44 13 1 31 12 27 19 20 25 12 29 3 31-3 19-27-15-27-21-27-25z" fill="#000010" fill-opacity="0.13"/>
<path d="M1319 2276l40 31 38 23 38 18 37 11 37 7 36 1 37-5 37-12 10 55 10 48 9 42 10 36 9 32 10 27 9 22 9 15-28 46-29 40-26 4-26 0-26-5-25-10-26-14-25-18-26-22-26-27-26-31-27-36-27-41-28-45-29-51-30-56 28-38z" fill="#001000" fill-opacity="0.4"/>
<path d="M1695 2627l40 30 38 23 39 17 38 12 39 8 39 2 40-3 41-10 5 33-29 60-29 53-28 47-27 44-28 39-27 35-30-28-29-33-29-38-30-43-30-49-30-53-30-60 29-40z" fill="#cc102a"/>
<path d="M1687 2654l34-7 52 33 51 22 52 13 52 4 53-6 18 14 14 15-35 70-34 61-33 54-33 48-32 42-34-33-35-40-34-47-35-54-35-61-35-69 38-55z" fill="#f61e12"/>
<path d="M1690 2675l35-8 23-2 51 27 52 17 51 9 53 0 9 5 27 22 13 15-41 79-39 68-39 59-39 51-34-33-35-40-34-47-35-54-35-61-35-69 20-27z" fill="#ff4400"/>
<path d="M1668 2701l36-11 37-7 35-1 50 20 49 13 50 4 30 18 29 24 13 14-39 73-38 64-37 57-37 48-34-33-35-40-34-47-34-53-35-61-36-69z" fill="#ff6c00"/>
<path d="M1672 2719l35-11 36-6 36-2 36 3 35 6 35 11 33 15 30 19 28 23 13 14-37 68-36 60-35 52-35 46-33-32-33-38-33-44-33-51-33-57-34-65z" fill="#ff9200"/>
<path d="M1685 2731l37-10 38-5 38 1 38 5 36 10 35 15 32 19 30 24 13 14-35 63-34 57-34 50-33 43-32-31-32-36-32-43-32-48-32-54-33-61z" fill="#ffb200"/>
<path d="M1688 2746l36-9 36-5 37 0 36 6 36 9 33 15 32 18 28 23 13 15-33 58-32 53-32 47-32 41-37-36-37-44-37-51-37-60-38-68z" fill="#ffd700"/>
<path d="M1692 2762l34-9 35-5 35 1 35 4 34 10 32 14 30 18 27 22 14 14-42 71-40 62-40 53-36-34-35-42-35-49-36-56-36-64z" fill="#fff200"/>
<path d="M1705 2775l36-8 37-3 37 3 37 9 34 13 32 18 29 23 13 15-39 65-37 58-38 49-34-33-34-39-34-46-34-53-35-60z" fill="#e8f800"/>
<path d="M1708 2791l35-7 35-3 36 3 34 8 33 13 31 17 27 22 13 15-36 60-35 52-35 46-32-31-33-37-32-44-33-49-32-56z" fill="#b0ec08"/>
<path d="M1722 2805l37-6 38 0 37 7 35 12 33 18 29 22 13 15-33 54-33 48-32 42-39-38-38-46-38-54-39-64z" fill="#60e418"/>
<path d="M1725 2822l35-5 36 0 35 6 33 12 31 17 27 21 13 15-30 48-29 43-30 38-36-35-36-43-37-50-36-58z" fill="#21e027"/>
<path d="M1741 2838l37-3 37 4 36 10 33 17 29 22 13 15-40 62-40 52-34-33-34-39-34-46-34-53z" fill="#0ae043"/>
<path d="M1758 2855l40 0 38 9 36 16 32 24 12 15-35 52-35 46-31-30-32-36-31-41-32-47z" fill="#00e080"/>
<path d="M1759 2875l37 0 36 8 33 15 28 22 13 15-30 44-30 38-38-37-38-46-38-53z" fill="#00debc"/>
<path d="M1778 2896l38 5 35 14 31 22 12 15-48 65-34-33-34-39-33-45z" fill="#00d8e7"/>
<path d="M1657 2687l38-60 40 30 38 23 39 17 38 12 39 8 39 2 40-3 41-10 5 33-29 60-29 53-28 47-27 44-28 39-27 35-26-25-26-28-27-33-26-36-26-41-26-45-16-58z" fill="#100c00" fill-opacity="0.18"/>
<path d="M1686 2642l9-15 40 30 38 23 39 17 38 12 39 8 39 2 40-3 41-10 5 33-29 60-29 53-28 47-27 44-28 39-27 35-29-28-30-33-29-38-29-42-11-51-10-56-11-59z" fill="#100c00" fill-opacity="0.24"/>
<path d="M1726 2650l40 26 39 19 40 13 40 8 41 3 41-3 42-10 5 33-29 60-29 53-28 47-27 44-28 39-27 35-31-30-31-34-30-41-7-56-7-62-7-68z" fill="#100c00" fill-opacity="0.25"/>
<path d="M1769 2678l39 18 39 13 40 7 40 3 40-3 42-10 5 33-29 60-29 53-28 47-27 44-28 39-27 35-24-23-25-26-24-29-1-57-1-62-1-68z" fill="#100c00" fill-opacity="0.20"/>
<path d="M1822 2701l37 10 37 7 37 1 37-4 39-9 5 33-29 60-29 53-28 47-27 44-28 39-27 35-27-25-27-30 6-45 6-48 6-52 6-56z" fill="#100c00" fill-opacity="0.13"/>
<path d="M1777 2913l35 4 33 13 28 21 12 15-39 51-30-29-30-33-30-39z" fill="#0085e0"/>
<path d="M1796 2933l36 11 31 21 11 16-28 36-39-38-38-46z" fill="#0046f1"/>
<path d="M1817 2959l34 22 11 16-16 20-31-29-30-35z" fill="#0025fb"/>
<path d="M1837 2998l10 18-1 1-32-31z" fill="#0011f2"/>
<path d="M1846 3017l-30-29-30-33-30-39 21-3 35 4 33 13 28 21 12 15z" fill="#000010" fill-opacity="0.18"/>
<path d="M1846 3017l-30-29-30-33-30-39 21-3 35 4 33 13 28 21 12 15z" fill="#000010" fill-opacity="0.24"/>
<path d="M1846 3017l-30-29-30-33-30-39 21-3 35 4 33 13 28 21 12 15z" fill="#000010" fill-opacity="0.25"/>
<path d="M1846 3017l-24-23-25-26-24-29 0-25 4-1 35 4 33 13 28 21 12 15z" fill="#000010" fill-opacity="0.20"/>
<path d="M1846 3017l-27-25-27-30 6-46 14 1 33 13 28 21 12 15z" fill="#000010" fill-opacity="0.13"/>
<path d="M1695 2627l40 30 38 23 39 17 38 12 39 8 39 2 40-3 41-10 5 33-29 60-29 53-28 47-27 44-28 39-27 35-30-28-29-33-29-38-30-43-30-49-30-53-30-60 29-40z" fill="#001000" fill-opacity="0.4"/>
</g></g>
<path d="M19.3 150.4L12.5 155.2M187.6 306.2L194.6 312.9M21.3 152.3L16.1 155.9M190.3 303.6L195.6 308.7M23.3 154.2L18.1 157.8M193.0 301.1L198.3 306.1M25.3 156.1L20.1 159.8M195.7 298.5L201.0 303.5M27.3 158.0L22.1 161.7M198.4 296.0L203.7 301.0M29.3 160.0L23.3 164.2M201.1 293.5L207.2 299.2M31.3 161.9L26.1 165.6M203.7 291.0L209.0 295.9M33.3 163.9L28.2 167.6M206.4 288.5L211.7 293.4M35.4 165.8L30.2 169.5M209.0 286.0L214.3 290.9M37.4 167.8L32.2 171.5M211.6 283.5L216.9 288.4M39.5 169.7L32.6 174.7M214.2 281.1L221.2 287.4M41.5 171.7L36.3 175.5M216.8 278.6L222.1 283.4M43.6 173.7L38.4 177.5M219.4 276.2L224.7 281.0M45.7 175.7L40.5 179.5M222.0 273.8L227.3 278.5M47.8 177.7L42.6 181.6M224.5 271.4L229.8 276.1M49.9 179.7L43.8 184.2M227.1 269.0L233.2 274.4M52.0 181.8L46.8 185.6M229.6 266.6L234.9 271.3M54.1 183.8L48.9 187.7M232.1 264.2L237.4 268.9M56.2 185.8L51.0 189.7M234.6 261.9L239.9 266.5M58.4 187.9L53.2 191.8M237.1 259.5L242.4 264.1M60.5 190.0L53.6 195.1M239.6 257.2L246.6 263.2M62.7 192.0L57.4 196.0M242.1 254.8L247.4 259.4M64.8 194.1L59.6 198.1M244.5 252.5L249.8 257.1M67.0 196.2L61.8 200.2M247.0 250.2L252.3 254.7M69.2 198.3L64.0 202.3M249.4 247.9L254.7 252.4M71.4 200.4L65.3 205.1M251.8 245.6L258.0 250.8M73.6 202.5L68.4 206.6M254.3 243.3L259.5 247.8M75.8 204.6L70.6 208.7M256.7 241.1L261.9 245.5M78.0 206.8L72.8 210.9M259.1 238.8L264.3 243.2M80.3 208.9L75.0 213.0M261.4 236.6L266.7 241.0M82.5 211.1L75.6 216.5M263.8 234.3L270.8 240.1M84.8 213.2L79.5 217.4M266.2 232.1L271.4 236.5M87.0 215.4L81.8 219.6M268.5 229.9L273.8 234.2M89.3 217.6L84.1 221.8M270.9 227.7L276.1 232.0M91.6 219.8L86.3 224.0M273.2 225.5L278.5 229.8M93.9 222.0L87.8 226.9M275.5 223.3L281.6 228.3M96.2 224.2L90.9 228.5M277.8 221.1L283.1 225.4M98.5 226.4L93.3 230.7M280.1 219.0L285.4 223.2M100.9 228.7L95.6 233.0M282.4 216.8L287.7 221.0M103.2 230.9L97.9 235.2M284.7 214.7L289.9 218.9M105.5 233.2L98.6 238.9M286.9 212.5L293.9 218.1M107.9 235.5L102.6 239.8M289.2 210.4L294.4 214.6M110.3 237.7L105.0 242.1M291.4 208.3L296.7 212.4M112.7 240.0L107.4 244.4M293.7 206.2L298.9 210.3M115.1 242.3L109.8 246.7M295.9 204.1L301.1 208.2M117.5 244.6L111.3 249.7M298.1 202.0L304.2 206.7M119.9 247.0L114.6 251.4M300.3 199.9L305.6 204.0M122.3 249.3L117.0 253.7M302.5 197.8L307.8 201.9M124.8 251.6L119.5 256.1M304.7 195.8L309.9 199.8M127.2 254.0L121.9 258.5M306.9 193.7L312.1 197.8M129.7 256.3L122.7 262.3M309.0 191.7L315.9 197.0M132.1 258.7L126.9 263.3M311.2 189.6L316.4 193.6M134.6 261.1L129.3 265.7M313.3 187.6L318.6 191.6M137.1 263.5L131.8 268.1M315.5 185.6L320.7 189.6M139.6 265.9L134.3 270.5M317.6 183.6L322.8 187.5M142.2 268.3L136.0 273.7M319.7 181.6L325.8 186.1M144.7 270.8L139.4 275.4M321.8 179.6L327.1 183.5M147.2 273.2L141.9 277.9M323.9 177.6L329.2 181.5M149.8 275.7L144.5 280.4M326.0 175.6L331.3 179.5M152.4 278.2L147.1 282.9M328.1 173.7L333.3 177.5M155.0 280.6L148.0 286.9M330.2 171.7L337.1 176.8M157.6 283.1L152.3 287.9M332.3 169.8L337.5 173.6M160.2 285.6L154.9 290.4M334.3 167.8L339.5 171.6M162.8 288.2L157.5 293.0M336.4 165.9L341.6 169.7M165.4 290.7L160.1 295.5M338.4 164.0L343.6 167.7M168.1 293.2L161.9 298.9M340.4 162.1L346.5 166.4M170.7 295.8L165.4 300.7M342.5 160.1L347.7 163.9M173.4 298.4L168.1 303.3M344.5 158.2L349.7 162.0M176.1 300.9L170.8 305.9M346.5 156.4L351.7 160.1M178.8 303.5L173.5 308.5M348.5 154.5L353.7 158.2M181.5 306.1L174.5 312.7M350.5 152.6L357.3 157.4" stroke="#222" stroke-width="0.8" fill="none"/>
<text transform="translate(7.4 168.4) rotate(43)" class="tk ax" dy="3">0.0</text>
<text transform="translate(28.4 186.8) rotate(43)" class="tk ax" dy="3">0.2</text>
<text transform="translate(50.0 207.5) rotate(43)" class="tk ax" dy="3">0.4</text>
<text transform="translate(71.8 228.6) rotate(43)" class="tk ax" dy="3">0.6</text>
<text transform="translate(94.6 250.3) rotate(43)" class="tk ax" dy="3">0.8</text>
<text transform="translate(120.0 273.4) rotate(43)" class="tk ax" dy="3">1.0</text>
<text transform="translate(145.0 298.5) rotate(43)" class="tk ax" dy="3">1.2</text>
<text transform="translate(71.2 252.0) rotate(43)" class="tk ax" dy="3">mm</text>
<text transform="translate(197.6 321.0) rotate(-43)" class="tk ax" dy="3">0.0</text>
<text transform="translate(226.3 294.0) rotate(-43)" class="tk ax" dy="3">0.2</text>
<text transform="translate(252.5 268.3) rotate(-43)" class="tk ax" dy="3">0.4</text>
<text transform="translate(277.4 244.8) rotate(-43)" class="tk ax" dy="3">0.6</text>
<text transform="translate(299.9 223.9) rotate(-43)" class="tk ax" dy="3">0.8</text>
<text transform="translate(322.3 201.4) rotate(-43)" class="tk ax" dy="3">1.0</text>
<text transform="translate(343.8 181.0) rotate(-43)" class="tk ax" dy="3">1.2</text>
<text transform="translate(299.9 249.8) rotate(-43)" class="tk ax" dy="3">mm</text>
<path d="M348.4 151.5L355.0 149.5M349.5 146.3L351.5 145.6M351.0 141.7L353.0 140.9M352.3 137.0L354.2 136.2M353.4 132.8L355.4 131.8M354.5 128.6L356.0 128.1M355.0 126.8L361.2 124.8" stroke="#8c8c8c" stroke-width="0.9" fill="none"/>
<text x="378.4" y="124.6" class="tk">4.88</text>
<text x="366.4" y="148.5" class="tk">0</text>
<text x="403.5" y="135.2" class="tk">µm</text>
<text x="440.5" y="8.6" class="tk">µm</text>
<path d="M99.8 76.1L277 210" stroke="#fff" stroke-width="2.9" stroke-dasharray="11.9 5.2" fill="none"/>
<rect x="418.5" y="14.5" width="11.0" height="298.5" fill="url(#cb)" stroke="#333" stroke-width="0.6"/>
<path d="M429.5 313.0h2.4M429.5 306.9h1.2M429.5 300.8h1.2M429.5 294.6h1.2M429.5 288.5h1.2M429.5 282.4h2.4M429.5 276.3h1.2M429.5 270.2h1.2M429.5 264.0h1.2M429.5 257.9h1.2M429.5 251.8h2.4M429.5 245.7h1.2M429.5 239.6h1.2M429.5 233.4h1.2M429.5 227.3h1.2M429.5 221.2h2.4M429.5 215.1h1.2M429.5 209.0h1.2M429.5 202.8h1.2M429.5 196.7h1.2M429.5 190.6h2.4M429.5 184.5h1.2M429.5 178.4h1.2M429.5 172.2h1.2M429.5 166.1h1.2M429.5 160.0h2.4M429.5 153.9h1.2M429.5 147.8h1.2M429.5 141.6h1.2M429.5 135.5h1.2M429.5 129.4h2.4M429.5 123.3h1.2M429.5 117.2h1.2M429.5 111.0h1.2M429.5 104.9h1.2M429.5 98.8h2.4M429.5 92.7h1.2M429.5 86.6h1.2M429.5 80.4h1.2M429.5 74.3h1.2M429.5 68.2h2.4M429.5 62.1h1.2M429.5 56.0h1.2M429.5 49.8h1.2M429.5 43.7h1.2M429.5 37.6h2.4M429.5 31.5h1.2M429.5 25.4h1.2M429.5 19.2h1.2" stroke="#333" stroke-width="0.7" fill="none"/>
<text x="440.6" y="315.9" class="tk">0.0</text>
<text x="440.6" y="285.3" class="tk">0.5</text>
<text x="440.6" y="254.7" class="tk">1.0</text>
<text x="440.6" y="224.1" class="tk">1.5</text>
<text x="440.6" y="193.5" class="tk">2.0</text>
<text x="440.6" y="162.9" class="tk">2.5</text>
<text x="440.6" y="132.3" class="tk">3.0</text>
<text x="440.6" y="101.7" class="tk">3.5</text>
<text x="440.6" y="71.1" class="tk">4.0</text>
<text x="440.6" y="40.5" class="tk">4.5</text>
<rect x="94.5" y="369.4" width="280.8" height="111.9" fill="none" stroke="#222" stroke-width="0.9"/>
<path d="M94.5 481.3h-3M94.5 453.3h-3M94.5 425.4h-3M94.5 397.4h-3M94.5 369.4h-3M94.5 481.3v-3M129.6 481.3v-3M164.7 481.3v-3M199.8 481.3v-3M234.9 481.3v-3M270.0 481.3v-3M305.1 481.3v-3M340.2 481.3v-3M375.3 481.3v-3" stroke="#222" stroke-width="0.8" fill="none"/>
<text x="83.7" y="484.6" class="sr" text-anchor="end">0.0</text>
<text x="83.7" y="456.6" class="sr" text-anchor="end">1.0</text>
<text x="83.7" y="428.7" class="sr" text-anchor="end">2.0</text>
<text x="83.7" y="400.7" class="sr" text-anchor="end">3.0</text>
<text x="83.7" y="372.7" class="sr" text-anchor="end">4.0</text>
<text x="93.3" y="496.7" class="sr" text-anchor="middle">-0.8</text>
<text x="128.4" y="496.7" class="sr" text-anchor="middle">-0.6</text>
<text x="163.5" y="496.7" class="sr" text-anchor="middle">-0.4</text>
<text x="198.6" y="496.7" class="sr" text-anchor="middle">-0.2</text>
<text x="234.9" y="496.7" class="sr" text-anchor="middle">0.0</text>
<text x="270.0" y="496.7" class="sr" text-anchor="middle">0.2</text>
<text x="305.1" y="496.7" class="sr" text-anchor="middle">0.4</text>
<text x="340.2" y="496.7" class="sr" text-anchor="middle">0.6</text>
<text x="375.3" y="496.7" class="sr" text-anchor="middle">0.8</text>
<polyline points="112.1,389.0 112.6,389.8 113.6,390.3 114.3,392.7 115.0,395.5 115.7,398.5 116.4,401.7 117.1,405.1 117.8,408.6 118.5,412.3 119.2,416.1 119.9,419.8 120.6,423.7 121.4,427.5 122.1,431.2 122.8,435.0 123.5,438.6 124.2,442.1 124.9,445.5 125.6,448.8 126.3,451.9 127.0,454.9 127.7,457.7 128.4,460.3 129.1,462.6 129.8,464.8 130.5,466.8 131.2,468.6 131.9,470.2 132.6,471.5 133.3,472.7 134.0,473.6 134.7,474.4 135.4,475.0 136.1,475.4 136.8,475.6 137.5,475.7 138.2,475.6 138.9,475.4 139.6,475.0 140.3,474.5 141.0,473.7 141.7,472.8 142.4,471.7 143.1,470.4 143.8,468.9 144.5,467.2 145.2,465.2 145.9,463.1 146.6,460.8 147.3,458.3 148.0,455.6 148.7,452.7 149.4,449.7 150.1,446.5 150.8,443.2 151.5,439.7 152.2,436.1 152.9,432.5 153.6,428.7 154.3,424.9 155.0,421.1 155.7,417.3 156.5,413.5 157.2,409.7 157.9,406.1 158.6,402.5 159.3,399.1 160.0,395.8 160.7,392.8 161.4,390.0 162.1,387.5 162.8,386.1 163.5,386.7 164.2,388.9 164.9,391.7 165.6,394.7 166.3,398.0 167.0,401.6 167.7,405.2 168.4,409.0 169.1,412.9 169.8,416.8 170.5,420.8 171.2,424.7 171.9,428.6 172.6,432.4 173.3,436.1 174.0,439.7 174.7,443.2 175.4,446.5 176.1,449.7 176.8,452.7 177.5,455.4 178.2,458.0 178.9,460.4 179.6,462.5 180.3,464.4 181.0,466.1 181.7,467.6 182.4,468.8 183.1,469.9 183.8,470.7 184.5,471.3 185.2,471.7 185.9,472.0 186.6,472.0 187.3,472.0 188.0,471.7 188.7,471.3 189.4,470.7 190.1,469.9 190.8,468.9 191.6,467.6 192.3,466.2 193.0,464.5 193.7,462.6 194.4,460.5 195.1,458.1 195.8,455.6 196.5,452.9 197.2,449.9 197.9,446.8 198.6,443.5 199.3,440.0 200.0,436.5 200.7,432.8 201.4,429.0 202.1,425.1 202.8,421.2 203.5,417.3 204.2,413.5 204.9,409.6 205.6,405.9 206.3,402.2 207.0,398.8 207.7,395.5 208.4,392.4 209.1,389.7 209.8,387.5 210.5,387.0 211.2,388.6 211.9,391.4 212.6,394.4 213.3,397.8 214.0,401.3 214.7,405.1 215.4,409.0 216.1,413.0 216.8,417.2 217.5,421.3 218.2,425.5 218.9,429.6 219.6,433.7 220.3,437.8 221.0,441.7 221.7,445.5 222.4,449.2 223.1,452.8 223.8,456.1 224.5,459.3 225.2,462.3 225.9,465.1 226.7,467.7 227.4,470.0 228.1,472.1 228.8,474.0 229.5,475.7 230.2,477.1 230.9,478.3 231.6,479.3 232.3,480.1 233.0,480.6 233.7,481.0 234.4,481.2 235.1,481.3 235.8,481.1 236.5,480.9 237.2,480.4 237.9,479.8 238.6,479.0 239.3,478.0 240.0,476.8 240.7,475.4 241.4,473.7 242.1,471.9 242.8,469.8 243.5,467.6 244.2,465.1 244.9,462.5 245.6,459.6 246.3,456.6 247.0,453.4 247.7,450.0 248.4,446.5 249.1,442.8 249.8,439.1 250.5,435.2 251.2,431.3 251.9,427.4 252.6,423.4 253.3,419.4 254.0,415.4 254.7,411.5 255.4,407.7 256.1,404.0 256.8,400.5 257.5,397.2 258.2,394.1 258.9,391.2 259.6,388.7 260.3,387.6 261.0,388.7 261.8,391.3 262.5,394.1 263.2,397.3 263.9,400.7 264.6,404.2 265.3,408.0 266.0,411.8 266.7,415.7 267.4,419.6 268.1,423.6 268.8,427.5 269.5,431.4 270.2,435.2 270.9,438.9 271.6,442.4 272.3,445.8 273.0,449.1 273.7,452.1 274.4,455.0 275.1,457.7 275.8,460.1 276.5,462.4 277.2,464.4 277.9,466.1 278.6,467.7 279.3,469.0 280.0,470.1 280.7,471.0 281.4,471.7 282.1,472.2 282.8,472.5 283.5,472.6 284.2,472.6 284.9,472.4 285.6,472.0 286.3,471.5 287.0,470.8 287.7,469.9 288.4,468.8 289.1,467.5 289.8,466.0 290.5,464.3 291.2,462.4 291.9,460.3 292.6,458.0 293.3,455.5 294.0,452.8 294.7,449.9 295.4,446.9 296.1,443.7 296.9,440.3 297.6,436.8 298.3,433.2 299.0,429.6 299.7,425.8 300.4,422.0 301.1,418.2 301.8,414.4 302.5,410.6 303.2,406.9 303.9,403.2 304.6,399.7 305.3,396.4 306.0,393.2 306.7,390.3 307.4,387.6 308.1,385.5 308.8,384.9 309.5,386.4 310.2,388.8 310.9,391.6 311.6,394.6 312.3,397.8 313.0,401.2 313.7,404.7 314.4,408.3 315.1,412.0 315.8,415.8 316.5,419.5 317.2,423.3 317.9,427.0 318.6,430.7 319.3,434.2 320.0,437.7 320.7,441.1 321.4,444.3 322.1,447.4 322.8,450.3 323.5,453.1 324.2,455.6 324.9,458.0 325.6,460.2 326.3,462.2 327.0,463.9 327.7,465.5 328.4,466.9 329.1,468.0 329.8,469.0 330.5,469.8 331.2,470.4 332.0,470.8 332.7,471.1 333.4,471.2 334.1,471.1 334.8,471.0 335.5,470.6 336.2,470.0 336.9,469.3 337.6,468.3 338.3,467.2 339.0,465.8 339.7,464.2 340.4,462.4 341.1,460.4 341.8,458.2 342.5,455.7 343.2,453.1 343.9,450.2 344.6,447.2 345.3,444.0 346.0,440.6 346.7,437.1 347.4,433.5 348.1,429.8 348.8,426.0 349.5,422.2 350.2,418.3 350.9,414.5 351.6,410.7 352.3,406.9 353.0,403.2 353.7,399.7 354.4,396.4 355.1,393.3 355.8,390.4 356.5,387.9 357.2,386.1 358.1,388.1" fill="none" stroke="#287cc2" stroke-width="1.55" stroke-linejoin="round" stroke-linecap="round"/>
<text transform="translate(64.6 425.3) rotate(-90)" class="sr" style="font-size:13.8px" text-anchor="middle">Height [um]</text>
<text x="235.2" y="515" class="sr" style="font-size:13.4px" text-anchor="middle"><tspan font-style="italic">x</tspan>-position [mm]</text>
<text x="229" y="345.5" class="sr" style="font-size:15px" text-anchor="middle">(a)</text>
<text x="228.5" y="543.5" class="sr" style="font-size:15.5px" text-anchor="middle">(b)</text>
</svg></body></html>
